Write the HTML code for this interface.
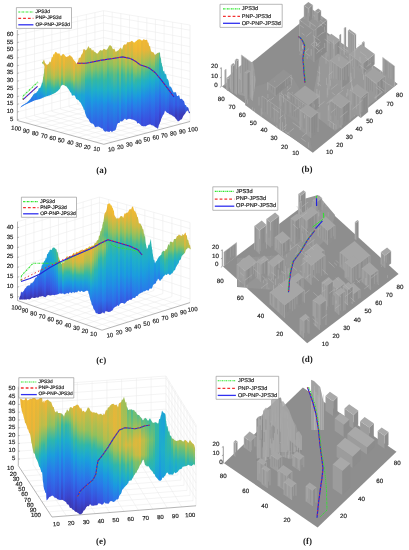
<!DOCTYPE html>
<html><head><meta charset="utf-8"><title>Figure</title>
<style>html,body{margin:0;padding:0;background:#fff;width:409px;height:550px;overflow:hidden}svg{display:block;filter:blur(0.35px)}text{text-rendering:geometricPrecision}</style>
</head><body>
<svg width="409" height="550" viewBox="0 0 409 550"><defs><clipPath id="clip1"><polygon points="20.1,107.7 22.0,105.5 27.0,102.5 30.0,99.6 32.0,96.7 34.0,93.7 36.0,93.0 38.0,90.8 38.0,90.8 39.0,87.7 40.0,88.6 40.7,86.4 41.3,85.6 42.0,82.7 42.3,83.1 42.7,81.0 43.0,78.8 43.2,76.2 43.5,76.9 43.8,72.9 44.0,74.6 44.1,70.7 44.2,68.8 44.4,68.3 44.5,66.3 43.9,64.7 43.2,63.8 42.6,64.1 42.0,61.9 43.0,61.8 44.0,59.6 45.0,62.9 47.0,64.9 48.5,64.1 50.0,61.3 50.7,62.4 51.3,59.4 52.0,56.7 52.7,57.6 53.3,54.1 54.0,54.8 55.0,52.4 56.0,51.7 57.0,52.9 58.0,53.9 59.0,53.1 61.0,56.3 63.0,53.7 64.5,55.0 66.0,57.0 68.0,56.5 70.0,55.1 71.0,56.6 72.0,56.8 73.5,59.7 75.0,61.3 76.0,63.0 77.0,63.8 78.0,61.3 79.0,57.5 80.0,58.2 80.7,56.7 81.3,54.9 82.0,54.1 82.7,53.0 83.3,50.1 84.0,48.8 85.5,50.6 87.0,49.3 88.5,45.9 89.7,48.4 90.8,48.0 92.0,50.7 93.0,49.5 94.0,51.7 95.0,51.8 96.0,53.1 97.5,53.7 99.0,51.4 100.5,50.0 102.0,50.8 104.0,48.7 106.0,50.0 107.3,49.3 108.7,46.6 110.0,44.9 111.5,46.3 113.0,49.6 114.3,48.6 115.7,52.1 117.0,50.9 118.2,50.5 119.5,49.1 120.8,47.4 122.0,49.8 123.3,45.5 124.7,44.3 126.0,44.8 127.3,42.3 128.7,42.3 130.0,41.9 132.0,40.8 134.0,42.8 136.0,41.2 138.0,39.6 140.0,39.3 142.0,40.8 143.7,39.3 145.3,40.0 147.0,39.7 147.8,42.7 148.5,42.4 149.2,46.7 150.0,45.6 150.4,48.2 150.8,50.1 151.2,51.8 151.6,51.5 152.0,51.9 153.5,52.5 155.0,55.1 156.5,53.8 158.0,52.8 160.0,52.5 160.2,55.9 160.4,58.1 160.6,56.2 160.8,58.2 161.0,58.5 161.3,63.2 161.7,62.7 162.0,65.6 162.3,66.4 162.7,66.4 163.0,70.4 163.6,71.7 164.1,70.6 164.7,73.5 165.3,74.5 165.9,73.6 166.4,75.5 167.0,79.6 167.5,78.5 168.0,79.9 168.5,80.6 169.0,83.4 169.5,86.7 170.0,86.2 171.0,86.9 172.0,89.1 173.5,92.4 175.0,92.3 176.0,92.6 177.0,96.0 178.0,96.1 179.0,94.9 180.0,98.7 181.0,99.1 182.0,98.8 183.0,100.5 184.0,101.1 185.0,105.1 186.0,105.3 187.0,107.4 187.8,106.9 188.5,108.2 189.2,111.6 190.0,112.0 190.0,113.0 189.0,113.3 188.0,110.4 187.0,110.8 186.0,112.0 185.0,113.7 184.2,114.8 183.3,115.8 182.5,117.8 181.7,119.3 180.8,119.5 180.0,120.2 178.0,121.4 177.0,119.9 176.0,119.1 175.0,117.5 173.8,116.5 172.5,115.7 171.2,114.8 170.0,114.5 168.3,113.3 166.7,112.5 165.0,110.6 164.3,113.0 163.7,114.3 163.0,114.9 162.4,116.4 161.8,117.8 161.2,118.8 160.6,121.4 160.0,122.2 159.5,124.0 159.0,124.5 158.5,126.8 158.0,128.7 156.5,127.7 155.0,127.1 153.3,125.5 151.7,125.3 150.0,124.2 148.6,124.8 147.2,125.3 145.8,126.2 144.4,126.3 143.0,126.3 141.5,125.8 140.0,124.2 138.8,123.1 137.5,123.5 136.2,121.0 135.0,120.6 133.6,119.7 132.1,119.6 130.7,118.9 129.3,118.8 127.9,118.9 126.4,120.0 125.0,118.5 123.5,119.9 122.0,121.5 120.7,120.9 119.3,123.0 118.0,123.0 117.2,124.2 116.5,127.3 115.8,129.2 115.0,130.5 113.5,130.7 112.0,132.1 110.6,130.8 109.2,132.0 107.8,131.5 106.4,131.2 105.0,131.8 103.8,130.5 102.5,128.4 101.2,128.3 100.0,127.3 98.3,126.4 96.7,126.7 95.0,127.3 93.8,124.5 92.5,123.4 91.2,123.3 90.0,122.3 89.2,120.6 88.4,119.0 87.6,118.3 86.8,117.6 86.0,115.4 85.6,114.2 85.2,113.2 84.8,111.4 84.4,109.6 84.0,110.2 83.2,107.4 82.4,106.2 81.6,104.4 80.8,102.7 80.0,102.3 78.8,100.6 77.5,99.5 76.2,99.1 75.0,95.8 73.5,95.3 72.0,95.8 71.2,92.8 70.4,92.4 69.6,90.7 68.8,89.5 68.0,88.6 66.8,86.7 65.5,85.9 64.2,85.2 63.0,84.7 62.0,85.1 61.0,86.0 60.0,88.6 58.0,90.8 55.0,93.0 50.0,95.2 45.0,96.7 40.0,98.9 35.0,100.3 30.0,102.5 25.0,104.7"/></clipPath><linearGradient id="g1" gradientUnits="userSpaceOnUse" x1="0" y1="38" x2="0" y2="133"><stop offset="0.653" stop-color="#2582e7"/><stop offset="0.737" stop-color="#2c74e9"/></linearGradient><linearGradient id="g2" gradientUnits="userSpaceOnUse" x1="0" y1="38" x2="0" y2="133"><stop offset="0.547" stop-color="#2582e7"/><stop offset="0.653" stop-color="#287de8"/><stop offset="0.737" stop-color="#2d71e8"/></linearGradient><linearGradient id="g3" gradientUnits="userSpaceOnUse" x1="0" y1="38" x2="0" y2="133"><stop offset="0.547" stop-color="#1e92e3"/><stop offset="0.653" stop-color="#2388e5"/><stop offset="0.737" stop-color="#287de9"/></linearGradient><linearGradient id="g4" gradientUnits="userSpaceOnUse" x1="0" y1="38" x2="0" y2="133"><stop offset="0.547" stop-color="#2388e5"/><stop offset="0.653" stop-color="#2979ea"/><stop offset="0.737" stop-color="#2d71e8"/></linearGradient><linearGradient id="g5" gradientUnits="userSpaceOnUse" x1="0" y1="38" x2="0" y2="133"><stop offset="0.547" stop-color="#1c97e1"/><stop offset="0.653" stop-color="#2583e7"/><stop offset="0.737" stop-color="#287ce9"/></linearGradient><linearGradient id="g6" gradientUnits="userSpaceOnUse" x1="0" y1="38" x2="0" y2="133"><stop offset="0.547" stop-color="#1c97e1"/><stop offset="0.653" stop-color="#277ee8"/><stop offset="0.737" stop-color="#2a79ea"/></linearGradient><linearGradient id="g7" gradientUnits="userSpaceOnUse" x1="0" y1="38" x2="0" y2="133"><stop offset="0.547" stop-color="#1d94e2"/><stop offset="0.653" stop-color="#2b75e9"/><stop offset="0.737" stop-color="#2c73e9"/></linearGradient><linearGradient id="g8" gradientUnits="userSpaceOnUse" x1="0" y1="38" x2="0" y2="133"><stop offset="0.547" stop-color="#1ba0da"/><stop offset="0.653" stop-color="#277fe8"/><stop offset="0.737" stop-color="#277ee8"/></linearGradient><linearGradient id="g9" gradientUnits="userSpaceOnUse" x1="0" y1="38" x2="0" y2="133"><stop offset="0.179" stop-color="#1ca3d6"/><stop offset="0.316" stop-color="#1ca2d8"/><stop offset="0.421" stop-color="#1ba0da"/><stop offset="0.526" stop-color="#1a9dde"/><stop offset="0.547" stop-color="#1a9cdf"/><stop offset="0.621" stop-color="#2680e8"/><stop offset="0.653" stop-color="#2b76ea"/></linearGradient><linearGradient id="g10" gradientUnits="userSpaceOnUse" x1="0" y1="38" x2="0" y2="133"><stop offset="0.179" stop-color="#2db6ae"/><stop offset="0.316" stop-color="#29b4b6"/><stop offset="0.421" stop-color="#23b2c1"/><stop offset="0.526" stop-color="#1daacf"/><stop offset="0.547" stop-color="#1da7d2"/><stop offset="0.621" stop-color="#208de4"/><stop offset="0.653" stop-color="#2485e6"/></linearGradient><linearGradient id="g11" gradientUnits="userSpaceOnUse" x1="0" y1="38" x2="0" y2="133"><stop offset="0.179" stop-color="#4ebb8d"/><stop offset="0.316" stop-color="#34b9a2"/><stop offset="0.421" stop-color="#2ab5b4"/><stop offset="0.526" stop-color="#1eaacf"/><stop offset="0.547" stop-color="#1da6d4"/><stop offset="0.621" stop-color="#2388e5"/><stop offset="0.653" stop-color="#2582e7"/></linearGradient><linearGradient id="g12" gradientUnits="userSpaceOnUse" x1="0" y1="38" x2="0" y2="133"><stop offset="0.179" stop-color="#99c05a"/><stop offset="0.316" stop-color="#75bf70"/><stop offset="0.421" stop-color="#41ba97"/><stop offset="0.526" stop-color="#1fb0c7"/><stop offset="0.547" stop-color="#1eabce"/><stop offset="0.621" stop-color="#218ce4"/><stop offset="0.653" stop-color="#2289e5"/></linearGradient><linearGradient id="g13" gradientUnits="userSpaceOnUse" x1="0" y1="38" x2="0" y2="133"><stop offset="0.179" stop-color="#deb73c"/><stop offset="0.316" stop-color="#bebd4a"/><stop offset="0.421" stop-color="#8ac161"/><stop offset="0.526" stop-color="#2cb5b0"/><stop offset="0.547" stop-color="#24b2bf"/><stop offset="0.621" stop-color="#1c97e1"/><stop offset="0.653" stop-color="#1c96e1"/></linearGradient><linearGradient id="g14" gradientUnits="userSpaceOnUse" x1="0" y1="38" x2="0" y2="133"><stop offset="0.126" stop-color="#f2be32"/><stop offset="0.179" stop-color="#f2bd32"/><stop offset="0.284" stop-color="#eab538"/><stop offset="0.316" stop-color="#e2b63b"/><stop offset="0.389" stop-color="#c3bc47"/><stop offset="0.421" stop-color="#b1be4f"/><stop offset="0.484" stop-color="#6fbf75"/><stop offset="0.526" stop-color="#39b99d"/><stop offset="0.547" stop-color="#2db6ae"/><stop offset="0.621" stop-color="#1ca2d8"/></linearGradient><linearGradient id="g15" gradientUnits="userSpaceOnUse" x1="0" y1="38" x2="0" y2="133"><stop offset="0.126" stop-color="#ecb437"/><stop offset="0.179" stop-color="#e9b538"/><stop offset="0.284" stop-color="#cfbb42"/><stop offset="0.316" stop-color="#c6bc46"/><stop offset="0.389" stop-color="#9fbf58"/><stop offset="0.421" stop-color="#8cc160"/><stop offset="0.484" stop-color="#40ba98"/><stop offset="0.526" stop-color="#29b4b5"/><stop offset="0.547" stop-color="#21b1c5"/><stop offset="0.621" stop-color="#1b9ae0"/></linearGradient><linearGradient id="g16" gradientUnits="userSpaceOnUse" x1="0" y1="38" x2="0" y2="133"><stop offset="0.126" stop-color="#efb635"/><stop offset="0.179" stop-color="#edb436"/><stop offset="0.284" stop-color="#d2ba41"/><stop offset="0.316" stop-color="#cabc44"/><stop offset="0.389" stop-color="#a3bf56"/><stop offset="0.421" stop-color="#8fc05f"/><stop offset="0.484" stop-color="#46bb93"/><stop offset="0.526" stop-color="#2bb5b3"/><stop offset="0.547" stop-color="#22b1c2"/><stop offset="0.621" stop-color="#1b9fdb"/></linearGradient><linearGradient id="g17" gradientUnits="userSpaceOnUse" x1="0" y1="38" x2="0" y2="133"><stop offset="0.126" stop-color="#f2bd32"/><stop offset="0.179" stop-color="#f0ba34"/><stop offset="0.284" stop-color="#e1b73b"/><stop offset="0.316" stop-color="#d8b93f"/><stop offset="0.389" stop-color="#b7bd4d"/><stop offset="0.421" stop-color="#a2bf56"/><stop offset="0.484" stop-color="#60bd80"/><stop offset="0.526" stop-color="#31b8a6"/><stop offset="0.547" stop-color="#29b4b6"/><stop offset="0.621" stop-color="#1eaacf"/></linearGradient><linearGradient id="g18" gradientUnits="userSpaceOnUse" x1="0" y1="38" x2="0" y2="133"><stop offset="0.126" stop-color="#f4c330"/><stop offset="0.179" stop-color="#f2bf32"/><stop offset="0.284" stop-color="#edb436"/><stop offset="0.316" stop-color="#e3b63a"/><stop offset="0.389" stop-color="#c7bc45"/><stop offset="0.421" stop-color="#b1be4f"/><stop offset="0.484" stop-color="#75bf70"/><stop offset="0.526" stop-color="#3bba9b"/><stop offset="0.547" stop-color="#2eb6ac"/><stop offset="0.621" stop-color="#22b1c2"/></linearGradient><linearGradient id="g19" gradientUnits="userSpaceOnUse" x1="0" y1="38" x2="0" y2="133"><stop offset="0.126" stop-color="#f2be32"/><stop offset="0.179" stop-color="#f0b934"/><stop offset="0.284" stop-color="#dfb73c"/><stop offset="0.316" stop-color="#d4b940"/><stop offset="0.389" stop-color="#b4be4e"/><stop offset="0.421" stop-color="#9cbf59"/><stop offset="0.484" stop-color="#5cbd83"/><stop offset="0.526" stop-color="#30b7a9"/><stop offset="0.547" stop-color="#28b3b8"/><stop offset="0.621" stop-color="#1fb0c7"/></linearGradient><linearGradient id="g20" gradientUnits="userSpaceOnUse" x1="0" y1="38" x2="0" y2="133"><stop offset="0.126" stop-color="#f1bc33"/><stop offset="0.179" stop-color="#efb635"/><stop offset="0.284" stop-color="#d7b93f"/><stop offset="0.316" stop-color="#cdbb43"/><stop offset="0.389" stop-color="#aabe53"/><stop offset="0.421" stop-color="#91c05e"/><stop offset="0.484" stop-color="#50bc8c"/><stop offset="0.526" stop-color="#2cb5b0"/><stop offset="0.547" stop-color="#24b2bf"/><stop offset="0.621" stop-color="#20b0c6"/></linearGradient><linearGradient id="g21" gradientUnits="userSpaceOnUse" x1="0" y1="38" x2="0" y2="133"><stop offset="0.126" stop-color="#f5c62f"/><stop offset="0.179" stop-color="#f3c031"/><stop offset="0.284" stop-color="#edb436"/><stop offset="0.316" stop-color="#e2b73b"/><stop offset="0.389" stop-color="#c7bc46"/><stop offset="0.421" stop-color="#adbe51"/><stop offset="0.484" stop-color="#76bf70"/><stop offset="0.526" stop-color="#39b99d"/><stop offset="0.547" stop-color="#2eb6ad"/><stop offset="0.621" stop-color="#2eb6ad"/></linearGradient><linearGradient id="g22" gradientUnits="userSpaceOnUse" x1="0" y1="38" x2="0" y2="133"><stop offset="0.126" stop-color="#efb635"/><stop offset="0.179" stop-color="#e7b539"/><stop offset="0.284" stop-color="#cbbb44"/><stop offset="0.316" stop-color="#bdbd4a"/><stop offset="0.389" stop-color="#98c05b"/><stop offset="0.442" stop-color="#67be7a"/><stop offset="0.484" stop-color="#39b99d"/><stop offset="0.547" stop-color="#1fafc9"/><stop offset="0.600" stop-color="#1eadcc"/></linearGradient><linearGradient id="g23" gradientUnits="userSpaceOnUse" x1="0" y1="38" x2="0" y2="133"><stop offset="0.126" stop-color="#f4c330"/><stop offset="0.179" stop-color="#f2be32"/><stop offset="0.284" stop-color="#ebb537"/><stop offset="0.316" stop-color="#e0b73b"/><stop offset="0.389" stop-color="#c2bc48"/><stop offset="0.442" stop-color="#9bc05a"/><stop offset="0.484" stop-color="#70bf74"/><stop offset="0.547" stop-color="#2db6af"/><stop offset="0.600" stop-color="#28b4b8"/></linearGradient><linearGradient id="g24" gradientUnits="userSpaceOnUse" x1="0" y1="38" x2="0" y2="133"><stop offset="0.126" stop-color="#f0b934"/><stop offset="0.179" stop-color="#efb535"/><stop offset="0.284" stop-color="#d6b93f"/><stop offset="0.316" stop-color="#ccbb43"/><stop offset="0.389" stop-color="#a6bf54"/><stop offset="0.442" stop-color="#7dc06a"/><stop offset="0.484" stop-color="#4cbb8f"/><stop offset="0.547" stop-color="#23b2c0"/><stop offset="0.600" stop-color="#1eadcc"/></linearGradient><linearGradient id="g25" gradientUnits="userSpaceOnUse" x1="0" y1="38" x2="0" y2="133"><stop offset="0.126" stop-color="#efb635"/><stop offset="0.179" stop-color="#edb437"/><stop offset="0.284" stop-color="#d2ba41"/><stop offset="0.316" stop-color="#c8bc45"/><stop offset="0.389" stop-color="#a0bf57"/><stop offset="0.442" stop-color="#77bf6f"/><stop offset="0.484" stop-color="#43ba95"/><stop offset="0.547" stop-color="#21b1c4"/><stop offset="0.600" stop-color="#1da8d1"/></linearGradient><linearGradient id="g26" gradientUnits="userSpaceOnUse" x1="0" y1="38" x2="0" y2="133"><stop offset="0.126" stop-color="#eeb536"/><stop offset="0.179" stop-color="#ecb437"/><stop offset="0.284" stop-color="#d2ba41"/><stop offset="0.316" stop-color="#c9bc45"/><stop offset="0.389" stop-color="#9fbf58"/><stop offset="0.442" stop-color="#78bf6e"/><stop offset="0.484" stop-color="#43ba96"/><stop offset="0.547" stop-color="#21b1c4"/><stop offset="0.600" stop-color="#1da6d3"/></linearGradient><linearGradient id="g27" gradientUnits="userSpaceOnUse" x1="0" y1="38" x2="0" y2="133"><stop offset="0.126" stop-color="#efb835"/><stop offset="0.179" stop-color="#efb735"/><stop offset="0.284" stop-color="#dab83e"/><stop offset="0.316" stop-color="#d1ba41"/><stop offset="0.389" stop-color="#aabe53"/><stop offset="0.442" stop-color="#87c162"/><stop offset="0.484" stop-color="#51bc8b"/><stop offset="0.547" stop-color="#25b3bd"/><stop offset="0.600" stop-color="#1da7d2"/></linearGradient><linearGradient id="g28" gradientUnits="userSpaceOnUse" x1="0" y1="38" x2="0" y2="133"><stop offset="0.126" stop-color="#f3bf31"/><stop offset="0.179" stop-color="#f2bf32"/><stop offset="0.284" stop-color="#eeb436"/><stop offset="0.316" stop-color="#e6b639"/><stop offset="0.389" stop-color="#c5bc47"/><stop offset="0.442" stop-color="#a4bf55"/><stop offset="0.484" stop-color="#73bf71"/><stop offset="0.547" stop-color="#2fb6ac"/><stop offset="0.600" stop-color="#1eaeca"/></linearGradient><linearGradient id="g29" gradientUnits="userSpaceOnUse" x1="0" y1="38" x2="0" y2="133"><stop offset="0.095" stop-color="#edb436"/><stop offset="0.179" stop-color="#ecb437"/><stop offset="0.232" stop-color="#dfb73c"/><stop offset="0.316" stop-color="#cbbb44"/><stop offset="0.337" stop-color="#bfbd49"/><stop offset="0.442" stop-color="#7dc06a"/><stop offset="0.600" stop-color="#1ca2d8"/><stop offset="0.653" stop-color="#1ca1d9"/><stop offset="0.884" stop-color="#1b9fdb"/></linearGradient><linearGradient id="g30" gradientUnits="userSpaceOnUse" x1="0" y1="38" x2="0" y2="133"><stop offset="0.095" stop-color="#efb835"/><stop offset="0.179" stop-color="#efb635"/><stop offset="0.232" stop-color="#e7b639"/><stop offset="0.316" stop-color="#d2ba41"/><stop offset="0.337" stop-color="#c9bc45"/><stop offset="0.442" stop-color="#8ac161"/><stop offset="0.600" stop-color="#1da9d1"/><stop offset="0.653" stop-color="#1da6d3"/><stop offset="0.884" stop-color="#1b9fdb"/></linearGradient><linearGradient id="g31" gradientUnits="userSpaceOnUse" x1="0" y1="38" x2="0" y2="133"><stop offset="0.095" stop-color="#efb635"/><stop offset="0.179" stop-color="#edb436"/><stop offset="0.232" stop-color="#e1b73b"/><stop offset="0.316" stop-color="#ccbb43"/><stop offset="0.337" stop-color="#c2bc48"/><stop offset="0.442" stop-color="#81c068"/><stop offset="0.600" stop-color="#1da9d0"/><stop offset="0.653" stop-color="#1da6d4"/><stop offset="0.884" stop-color="#1b99e0"/></linearGradient><linearGradient id="g32" gradientUnits="userSpaceOnUse" x1="0" y1="38" x2="0" y2="133"><stop offset="0.095" stop-color="#e3b63a"/><stop offset="0.179" stop-color="#dbb83d"/><stop offset="0.232" stop-color="#cfba42"/><stop offset="0.316" stop-color="#b5bd4e"/><stop offset="0.337" stop-color="#aabe52"/><stop offset="0.442" stop-color="#62bd7f"/><stop offset="0.600" stop-color="#1ca4d5"/><stop offset="0.653" stop-color="#1ba0db"/><stop offset="0.884" stop-color="#228ae5"/></linearGradient><linearGradient id="g33" gradientUnits="userSpaceOnUse" x1="0" y1="38" x2="0" y2="133"><stop offset="0.095" stop-color="#e4b63a"/><stop offset="0.179" stop-color="#dab83e"/><stop offset="0.232" stop-color="#cebb43"/><stop offset="0.316" stop-color="#b3be4f"/><stop offset="0.337" stop-color="#a9be53"/><stop offset="0.442" stop-color="#60bd80"/><stop offset="0.600" stop-color="#1da7d2"/><stop offset="0.653" stop-color="#1ba1d9"/><stop offset="0.884" stop-color="#2485e6"/></linearGradient><linearGradient id="g34" gradientUnits="userSpaceOnUse" x1="0" y1="38" x2="0" y2="133"><stop offset="0.095" stop-color="#ccbb43"/><stop offset="0.179" stop-color="#bcbd4a"/><stop offset="0.232" stop-color="#adbe51"/><stop offset="0.316" stop-color="#8fc05f"/><stop offset="0.337" stop-color="#86c164"/><stop offset="0.442" stop-color="#34b9a1"/><stop offset="0.600" stop-color="#1b9fdc"/><stop offset="0.653" stop-color="#1d95e2"/><stop offset="0.884" stop-color="#2d72e8"/></linearGradient><linearGradient id="g35" gradientUnits="userSpaceOnUse" x1="0" y1="38" x2="0" y2="133"><stop offset="0.095" stop-color="#c6bc46"/><stop offset="0.179" stop-color="#b1be4f"/><stop offset="0.232" stop-color="#a2bf56"/><stop offset="0.316" stop-color="#83c166"/><stop offset="0.337" stop-color="#78bf6e"/><stop offset="0.442" stop-color="#31b7a8"/><stop offset="0.600" stop-color="#1b9edc"/><stop offset="0.653" stop-color="#1e93e2"/><stop offset="0.884" stop-color="#3069e6"/></linearGradient><linearGradient id="g36" gradientUnits="userSpaceOnUse" x1="0" y1="38" x2="0" y2="133"><stop offset="0.095" stop-color="#c6bc46"/><stop offset="0.179" stop-color="#aebe51"/><stop offset="0.232" stop-color="#9fbf57"/><stop offset="0.316" stop-color="#7ec069"/><stop offset="0.337" stop-color="#74bf71"/><stop offset="0.442" stop-color="#30b7a9"/><stop offset="0.600" stop-color="#1ba1da"/><stop offset="0.653" stop-color="#1d94e2"/><stop offset="0.884" stop-color="#3264e5"/></linearGradient><linearGradient id="g37" gradientUnits="userSpaceOnUse" x1="0" y1="38" x2="0" y2="133"><stop offset="0.084" stop-color="#d6b93f"/><stop offset="0.095" stop-color="#d6b93f"/><stop offset="0.179" stop-color="#c5bc46"/><stop offset="0.232" stop-color="#b6bd4d"/><stop offset="0.284" stop-color="#a3bf56"/><stop offset="0.337" stop-color="#8fc05f"/><stop offset="0.389" stop-color="#68be7a"/><stop offset="0.442" stop-color="#3fba98"/><stop offset="0.547" stop-color="#22b1c2"/><stop offset="0.653" stop-color="#1b9edd"/><stop offset="0.705" stop-color="#1e93e2"/><stop offset="0.884" stop-color="#2e6ee8"/><stop offset="0.968" stop-color="#2f6ce7"/></linearGradient><linearGradient id="g38" gradientUnits="userSpaceOnUse" x1="0" y1="38" x2="0" y2="133"><stop offset="0.084" stop-color="#cbbb44"/><stop offset="0.095" stop-color="#cbbb44"/><stop offset="0.179" stop-color="#b7bd4d"/><stop offset="0.232" stop-color="#a7bf54"/><stop offset="0.284" stop-color="#94c05d"/><stop offset="0.337" stop-color="#7dc06b"/><stop offset="0.389" stop-color="#55bc88"/><stop offset="0.442" stop-color="#33b8a4"/><stop offset="0.547" stop-color="#1fafc9"/><stop offset="0.653" stop-color="#1b99e1"/><stop offset="0.705" stop-color="#218ce4"/><stop offset="0.884" stop-color="#3068e6"/><stop offset="0.968" stop-color="#3165e5"/></linearGradient><linearGradient id="g39" gradientUnits="userSpaceOnUse" x1="0" y1="38" x2="0" y2="133"><stop offset="0.084" stop-color="#c4bc47"/><stop offset="0.095" stop-color="#c3bc47"/><stop offset="0.179" stop-color="#afbe50"/><stop offset="0.232" stop-color="#9fbf58"/><stop offset="0.284" stop-color="#8cc160"/><stop offset="0.337" stop-color="#72bf73"/><stop offset="0.389" stop-color="#4bbb90"/><stop offset="0.442" stop-color="#30b7a8"/><stop offset="0.547" stop-color="#1eadcc"/><stop offset="0.653" stop-color="#1d95e2"/><stop offset="0.705" stop-color="#2289e5"/><stop offset="0.884" stop-color="#3165e5"/><stop offset="0.968" stop-color="#3361e4"/></linearGradient><linearGradient id="g40" gradientUnits="userSpaceOnUse" x1="0" y1="38" x2="0" y2="133"><stop offset="0.084" stop-color="#cdbb43"/><stop offset="0.095" stop-color="#cdbb43"/><stop offset="0.179" stop-color="#bcbd4b"/><stop offset="0.232" stop-color="#abbe52"/><stop offset="0.284" stop-color="#98c05b"/><stop offset="0.337" stop-color="#80c068"/><stop offset="0.389" stop-color="#5abd84"/><stop offset="0.442" stop-color="#35b9a0"/><stop offset="0.547" stop-color="#21b1c5"/><stop offset="0.653" stop-color="#1a9be0"/><stop offset="0.705" stop-color="#208ee4"/><stop offset="0.884" stop-color="#2f6ae7"/><stop offset="0.968" stop-color="#3265e5"/></linearGradient><linearGradient id="g41" gradientUnits="userSpaceOnUse" x1="0" y1="38" x2="0" y2="133"><stop offset="0.084" stop-color="#c6bc46"/><stop offset="0.095" stop-color="#c5bc46"/><stop offset="0.179" stop-color="#b3be4e"/><stop offset="0.232" stop-color="#a2bf56"/><stop offset="0.284" stop-color="#8fc05f"/><stop offset="0.337" stop-color="#74bf71"/><stop offset="0.389" stop-color="#4fbc8d"/><stop offset="0.442" stop-color="#32b8a5"/><stop offset="0.547" stop-color="#1fafc9"/><stop offset="0.653" stop-color="#1b98e1"/><stop offset="0.705" stop-color="#228ae5"/><stop offset="0.884" stop-color="#3167e6"/><stop offset="0.968" stop-color="#3360e4"/></linearGradient><linearGradient id="g42" gradientUnits="userSpaceOnUse" x1="0" y1="38" x2="0" y2="133"><stop offset="0.084" stop-color="#bbbd4b"/><stop offset="0.095" stop-color="#babd4b"/><stop offset="0.179" stop-color="#aabe53"/><stop offset="0.232" stop-color="#99c05a"/><stop offset="0.284" stop-color="#85c164"/><stop offset="0.337" stop-color="#67be7b"/><stop offset="0.389" stop-color="#42ba96"/><stop offset="0.442" stop-color="#2fb6ab"/><stop offset="0.547" stop-color="#1eadcc"/><stop offset="0.653" stop-color="#1d94e2"/><stop offset="0.705" stop-color="#2486e6"/><stop offset="0.884" stop-color="#3263e5"/><stop offset="0.968" stop-color="#365ae3"/></linearGradient><linearGradient id="g43" gradientUnits="userSpaceOnUse" x1="0" y1="38" x2="0" y2="133"><stop offset="0.084" stop-color="#cfba42"/><stop offset="0.095" stop-color="#cfbb42"/><stop offset="0.179" stop-color="#c2bc48"/><stop offset="0.232" stop-color="#b0be50"/><stop offset="0.284" stop-color="#9dbf59"/><stop offset="0.337" stop-color="#84c165"/><stop offset="0.389" stop-color="#61bd7f"/><stop offset="0.442" stop-color="#3dba9a"/><stop offset="0.547" stop-color="#24b2bf"/><stop offset="0.653" stop-color="#1b9edd"/><stop offset="0.705" stop-color="#1f90e3"/><stop offset="0.884" stop-color="#2e6ee8"/><stop offset="0.968" stop-color="#3263e5"/></linearGradient><linearGradient id="g44" gradientUnits="userSpaceOnUse" x1="0" y1="38" x2="0" y2="133"><stop offset="0.084" stop-color="#cabc44"/><stop offset="0.095" stop-color="#c9bc45"/><stop offset="0.179" stop-color="#bcbd4b"/><stop offset="0.232" stop-color="#a9be53"/><stop offset="0.284" stop-color="#96c05c"/><stop offset="0.337" stop-color="#7bc06c"/><stop offset="0.389" stop-color="#58bc86"/><stop offset="0.442" stop-color="#35b9a0"/><stop offset="0.547" stop-color="#23b1c2"/><stop offset="0.653" stop-color="#1a9cdf"/><stop offset="0.705" stop-color="#208de4"/><stop offset="0.884" stop-color="#2f6be7"/><stop offset="0.968" stop-color="#345fe4"/></linearGradient><linearGradient id="g45" gradientUnits="userSpaceOnUse" x1="0" y1="38" x2="0" y2="133"><stop offset="0.084" stop-color="#b1be50"/><stop offset="0.095" stop-color="#afbe50"/><stop offset="0.179" stop-color="#a3bf56"/><stop offset="0.232" stop-color="#90c05e"/><stop offset="0.284" stop-color="#79c06d"/><stop offset="0.337" stop-color="#59bc85"/><stop offset="0.389" stop-color="#37b99e"/><stop offset="0.442" stop-color="#2db6af"/><stop offset="0.547" stop-color="#1eaccd"/><stop offset="0.653" stop-color="#1e92e3"/><stop offset="0.705" stop-color="#2682e7"/><stop offset="0.884" stop-color="#3361e4"/><stop offset="0.968" stop-color="#3854e1"/></linearGradient><linearGradient id="g46" gradientUnits="userSpaceOnUse" x1="0" y1="38" x2="0" y2="133"><stop offset="0.084" stop-color="#bfbd49"/><stop offset="0.095" stop-color="#bebd4a"/><stop offset="0.179" stop-color="#b2be4f"/><stop offset="0.232" stop-color="#9fbf58"/><stop offset="0.284" stop-color="#8cc160"/><stop offset="0.337" stop-color="#6cbe77"/><stop offset="0.389" stop-color="#4bbb90"/><stop offset="0.442" stop-color="#32b8a6"/><stop offset="0.547" stop-color="#20b1c6"/><stop offset="0.653" stop-color="#1b99e1"/><stop offset="0.705" stop-color="#2388e5"/><stop offset="0.884" stop-color="#3068e6"/><stop offset="0.968" stop-color="#3659e2"/></linearGradient><linearGradient id="g47" gradientUnits="userSpaceOnUse" x1="0" y1="38" x2="0" y2="133"><stop offset="0.063" stop-color="#c3bc47"/><stop offset="0.084" stop-color="#c2bc48"/><stop offset="0.179" stop-color="#b4be4e"/><stop offset="0.284" stop-color="#8bc160"/><stop offset="0.389" stop-color="#49bb91"/><stop offset="0.547" stop-color="#1fb0c7"/><stop offset="0.705" stop-color="#2388e6"/><stop offset="0.916" stop-color="#3360e4"/><stop offset="0.968" stop-color="#3659e2"/></linearGradient><linearGradient id="g48" gradientUnits="userSpaceOnUse" x1="0" y1="38" x2="0" y2="133"><stop offset="0.063" stop-color="#d6b93f"/><stop offset="0.084" stop-color="#d5b940"/><stop offset="0.179" stop-color="#cabc44"/><stop offset="0.284" stop-color="#9fbf57"/><stop offset="0.389" stop-color="#61bd7f"/><stop offset="0.547" stop-color="#26b3bc"/><stop offset="0.705" stop-color="#1f90e3"/><stop offset="0.916" stop-color="#3067e6"/><stop offset="0.968" stop-color="#3361e4"/></linearGradient><linearGradient id="g49" gradientUnits="userSpaceOnUse" x1="0" y1="38" x2="0" y2="133"><stop offset="0.063" stop-color="#d5b940"/><stop offset="0.084" stop-color="#d4ba40"/><stop offset="0.179" stop-color="#c7bc45"/><stop offset="0.284" stop-color="#9ac05a"/><stop offset="0.389" stop-color="#59bc85"/><stop offset="0.547" stop-color="#23b2c1"/><stop offset="0.705" stop-color="#208de4"/><stop offset="0.916" stop-color="#3264e5"/><stop offset="0.968" stop-color="#345fe4"/></linearGradient><linearGradient id="g50" gradientUnits="userSpaceOnUse" x1="0" y1="38" x2="0" y2="133"><stop offset="0.063" stop-color="#c9bc44"/><stop offset="0.084" stop-color="#c7bc46"/><stop offset="0.179" stop-color="#b5be4e"/><stop offset="0.284" stop-color="#85c164"/><stop offset="0.389" stop-color="#3dba9a"/><stop offset="0.547" stop-color="#1eaccc"/><stop offset="0.705" stop-color="#2584e7"/><stop offset="0.916" stop-color="#3659e3"/><stop offset="0.968" stop-color="#3756e2"/></linearGradient><linearGradient id="g51" gradientUnits="userSpaceOnUse" x1="0" y1="38" x2="0" y2="133"><stop offset="0.063" stop-color="#e8b538"/><stop offset="0.084" stop-color="#e6b639"/><stop offset="0.179" stop-color="#d7b93f"/><stop offset="0.284" stop-color="#abbe52"/><stop offset="0.389" stop-color="#6cbe77"/><stop offset="0.547" stop-color="#27b3b9"/><stop offset="0.705" stop-color="#1d94e2"/><stop offset="0.916" stop-color="#3068e6"/><stop offset="0.968" stop-color="#3166e6"/></linearGradient><linearGradient id="g52" gradientUnits="userSpaceOnUse" x1="0" y1="38" x2="0" y2="133"><stop offset="0.063" stop-color="#ccbb43"/><stop offset="0.084" stop-color="#c9bc45"/><stop offset="0.179" stop-color="#b4be4e"/><stop offset="0.284" stop-color="#7fc069"/><stop offset="0.389" stop-color="#35b9a0"/><stop offset="0.547" stop-color="#1daacf"/><stop offset="0.705" stop-color="#2681e8"/><stop offset="0.916" stop-color="#3854e1"/><stop offset="0.968" stop-color="#3854e1"/></linearGradient><linearGradient id="g53" gradientUnits="userSpaceOnUse" x1="0" y1="38" x2="0" y2="133"><stop offset="0.021" stop-color="#deb73c"/><stop offset="0.063" stop-color="#ddb83d"/><stop offset="0.126" stop-color="#d2ba41"/><stop offset="0.179" stop-color="#c8bc45"/><stop offset="0.253" stop-color="#a4bf56"/><stop offset="0.284" stop-color="#94c05d"/><stop offset="0.358" stop-color="#62bd7f"/><stop offset="0.389" stop-color="#4abb90"/><stop offset="0.495" stop-color="#27b3ba"/><stop offset="0.547" stop-color="#1eaecb"/><stop offset="0.653" stop-color="#1d95e2"/><stop offset="0.705" stop-color="#2486e6"/><stop offset="0.863" stop-color="#3263e5"/><stop offset="0.916" stop-color="#365ae3"/></linearGradient><linearGradient id="g54" gradientUnits="userSpaceOnUse" x1="0" y1="38" x2="0" y2="133"><stop offset="0.021" stop-color="#efb635"/><stop offset="0.063" stop-color="#eeb436"/><stop offset="0.126" stop-color="#e3b63a"/><stop offset="0.179" stop-color="#d7b93f"/><stop offset="0.253" stop-color="#b8bd4c"/><stop offset="0.284" stop-color="#a8bf54"/><stop offset="0.358" stop-color="#7bc06c"/><stop offset="0.389" stop-color="#63bd7e"/><stop offset="0.495" stop-color="#2cb5b0"/><stop offset="0.547" stop-color="#21b1c3"/><stop offset="0.653" stop-color="#1a9be0"/><stop offset="0.705" stop-color="#218ce4"/><stop offset="0.863" stop-color="#3167e6"/><stop offset="0.916" stop-color="#3360e4"/></linearGradient><linearGradient id="g55" gradientUnits="userSpaceOnUse" x1="0" y1="38" x2="0" y2="133"><stop offset="0.021" stop-color="#e2b73b"/><stop offset="0.063" stop-color="#ddb83d"/><stop offset="0.126" stop-color="#d1ba41"/><stop offset="0.179" stop-color="#c2bd48"/><stop offset="0.253" stop-color="#9dbf58"/><stop offset="0.284" stop-color="#8cc160"/><stop offset="0.358" stop-color="#56bc87"/><stop offset="0.389" stop-color="#3dba9a"/><stop offset="0.495" stop-color="#21b1c4"/><stop offset="0.547" stop-color="#1da7d2"/><stop offset="0.653" stop-color="#218be5"/><stop offset="0.705" stop-color="#287ce9"/><stop offset="0.863" stop-color="#3757e2"/><stop offset="0.916" stop-color="#3951e1"/></linearGradient><linearGradient id="g56" gradientUnits="userSpaceOnUse" x1="0" y1="38" x2="0" y2="133"><stop offset="0.021" stop-color="#efb735"/><stop offset="0.063" stop-color="#eeb436"/><stop offset="0.126" stop-color="#e2b63b"/><stop offset="0.179" stop-color="#d3ba41"/><stop offset="0.253" stop-color="#b2be4f"/><stop offset="0.284" stop-color="#a0bf57"/><stop offset="0.358" stop-color="#6fbf74"/><stop offset="0.389" stop-color="#55bc88"/><stop offset="0.495" stop-color="#27b3ba"/><stop offset="0.547" stop-color="#1eaccd"/><stop offset="0.653" stop-color="#1f91e3"/><stop offset="0.705" stop-color="#2582e7"/><stop offset="0.863" stop-color="#355ce3"/><stop offset="0.916" stop-color="#3757e2"/></linearGradient><linearGradient id="g57" gradientUnits="userSpaceOnUse" x1="0" y1="38" x2="0" y2="133"><stop offset="0.021" stop-color="#eab537"/><stop offset="0.063" stop-color="#e3b63a"/><stop offset="0.126" stop-color="#d6b940"/><stop offset="0.179" stop-color="#c3bc47"/><stop offset="0.253" stop-color="#9ebf58"/><stop offset="0.284" stop-color="#8cc160"/><stop offset="0.358" stop-color="#54bc89"/><stop offset="0.389" stop-color="#39b99d"/><stop offset="0.495" stop-color="#1fafc9"/><stop offset="0.547" stop-color="#1ca3d6"/><stop offset="0.653" stop-color="#2485e6"/><stop offset="0.705" stop-color="#2b76e9"/><stop offset="0.863" stop-color="#3a4fe0"/><stop offset="0.916" stop-color="#3a4ddc"/></linearGradient><linearGradient id="g58" gradientUnits="userSpaceOnUse" x1="0" y1="38" x2="0" y2="133"><stop offset="0.021" stop-color="#f3bf31"/><stop offset="0.063" stop-color="#f1bc33"/><stop offset="0.126" stop-color="#efb635"/><stop offset="0.179" stop-color="#dfb73c"/><stop offset="0.253" stop-color="#c2bc48"/><stop offset="0.284" stop-color="#afbe50"/><stop offset="0.358" stop-color="#81c067"/><stop offset="0.389" stop-color="#65be7c"/><stop offset="0.495" stop-color="#29b4b6"/><stop offset="0.547" stop-color="#1eadcb"/><stop offset="0.653" stop-color="#1e91e3"/><stop offset="0.705" stop-color="#2583e7"/><stop offset="0.863" stop-color="#365ae3"/><stop offset="0.916" stop-color="#3659e2"/></linearGradient><linearGradient id="g59" gradientUnits="userSpaceOnUse" x1="0" y1="38" x2="0" y2="133"><stop offset="0.021" stop-color="#f3c131"/><stop offset="0.126" stop-color="#f0b834"/><stop offset="0.253" stop-color="#c6bc46"/><stop offset="0.284" stop-color="#b3be4f"/><stop offset="0.358" stop-color="#84c165"/><stop offset="0.442" stop-color="#37b99e"/><stop offset="0.495" stop-color="#29b4b6"/><stop offset="0.600" stop-color="#1ba0da"/><stop offset="0.653" stop-color="#1e91e3"/><stop offset="0.758" stop-color="#2b75e9"/><stop offset="0.863" stop-color="#365ae3"/><stop offset="0.916" stop-color="#3659e3"/></linearGradient><linearGradient id="g60" gradientUnits="userSpaceOnUse" x1="0" y1="38" x2="0" y2="133"><stop offset="0.021" stop-color="#f1bc33"/><stop offset="0.126" stop-color="#eeb436"/><stop offset="0.253" stop-color="#b7bd4d"/><stop offset="0.284" stop-color="#a3bf56"/><stop offset="0.358" stop-color="#6ebf75"/><stop offset="0.442" stop-color="#2fb7aa"/><stop offset="0.495" stop-color="#23b2c1"/><stop offset="0.600" stop-color="#1a9be0"/><stop offset="0.653" stop-color="#228ae5"/><stop offset="0.758" stop-color="#2e6fe8"/><stop offset="0.863" stop-color="#3855e1"/><stop offset="0.916" stop-color="#3853e1"/></linearGradient><linearGradient id="g61" gradientUnits="userSpaceOnUse" x1="0" y1="38" x2="0" y2="133"><stop offset="0.021" stop-color="#f3c031"/><stop offset="0.126" stop-color="#f0b834"/><stop offset="0.253" stop-color="#c1bd48"/><stop offset="0.284" stop-color="#adbe51"/><stop offset="0.358" stop-color="#79c06d"/><stop offset="0.442" stop-color="#32b8a6"/><stop offset="0.495" stop-color="#25b3bc"/><stop offset="0.600" stop-color="#1b9edd"/><stop offset="0.653" stop-color="#208fe4"/><stop offset="0.758" stop-color="#2c73e9"/><stop offset="0.863" stop-color="#365ae3"/><stop offset="0.916" stop-color="#3758e2"/></linearGradient><linearGradient id="g62" gradientUnits="userSpaceOnUse" x1="0" y1="38" x2="0" y2="133"><stop offset="0.021" stop-color="#eeb536"/><stop offset="0.126" stop-color="#e0b73b"/><stop offset="0.253" stop-color="#9fbf58"/><stop offset="0.284" stop-color="#8ac161"/><stop offset="0.358" stop-color="#4abb90"/><stop offset="0.442" stop-color="#25b3bd"/><stop offset="0.495" stop-color="#1eaacf"/><stop offset="0.600" stop-color="#208ee4"/><stop offset="0.653" stop-color="#277fe8"/><stop offset="0.758" stop-color="#3165e5"/><stop offset="0.863" stop-color="#3a4ddd"/><stop offset="0.916" stop-color="#3a4bd8"/></linearGradient><linearGradient id="g63" gradientUnits="userSpaceOnUse" x1="0" y1="38" x2="0" y2="133"><stop offset="0.021" stop-color="#f0b934"/><stop offset="0.126" stop-color="#edb436"/><stop offset="0.253" stop-color="#adbe51"/><stop offset="0.284" stop-color="#98c05b"/><stop offset="0.358" stop-color="#5abd84"/><stop offset="0.442" stop-color="#29b4b6"/><stop offset="0.495" stop-color="#1faeca"/><stop offset="0.600" stop-color="#1d94e2"/><stop offset="0.653" stop-color="#2485e6"/><stop offset="0.758" stop-color="#2f6be7"/><stop offset="0.863" stop-color="#3854e1"/><stop offset="0.916" stop-color="#3a50e0"/></linearGradient><linearGradient id="g64" gradientUnits="userSpaceOnUse" x1="0" y1="38" x2="0" y2="133"><stop offset="0.021" stop-color="#efb635"/><stop offset="0.126" stop-color="#e7b539"/><stop offset="0.253" stop-color="#a2bf56"/><stop offset="0.284" stop-color="#8dc160"/><stop offset="0.358" stop-color="#4abb90"/><stop offset="0.442" stop-color="#25b2be"/><stop offset="0.495" stop-color="#1daacf"/><stop offset="0.600" stop-color="#208ee4"/><stop offset="0.653" stop-color="#2680e8"/><stop offset="0.758" stop-color="#3167e6"/><stop offset="0.863" stop-color="#3951e0"/><stop offset="0.916" stop-color="#3a4ddb"/></linearGradient><linearGradient id="g65" gradientUnits="userSpaceOnUse" x1="0" y1="38" x2="0" y2="133"><stop offset="0.021" stop-color="#edb436"/><stop offset="0.126" stop-color="#e5b63a"/><stop offset="0.253" stop-color="#9cbf59"/><stop offset="0.284" stop-color="#86c163"/><stop offset="0.358" stop-color="#40ba98"/><stop offset="0.442" stop-color="#21b1c4"/><stop offset="0.495" stop-color="#1da7d3"/><stop offset="0.600" stop-color="#218be5"/><stop offset="0.653" stop-color="#287de9"/><stop offset="0.758" stop-color="#3165e5"/><stop offset="0.863" stop-color="#3a50e0"/><stop offset="0.916" stop-color="#3a4bd8"/></linearGradient><linearGradient id="g66" gradientUnits="userSpaceOnUse" x1="0" y1="38" x2="0" y2="133"><stop offset="0.021" stop-color="#e4b63a"/><stop offset="0.126" stop-color="#deb73c"/><stop offset="0.253" stop-color="#91c05e"/><stop offset="0.284" stop-color="#77bf6f"/><stop offset="0.358" stop-color="#33b8a3"/><stop offset="0.442" stop-color="#1eaecb"/><stop offset="0.495" stop-color="#1ca2d8"/><stop offset="0.600" stop-color="#2485e6"/><stop offset="0.653" stop-color="#2a78ea"/><stop offset="0.758" stop-color="#3360e4"/><stop offset="0.863" stop-color="#3a4ddb"/><stop offset="0.916" stop-color="#3a47d1"/></linearGradient><linearGradient id="g67" gradientUnits="userSpaceOnUse" x1="0" y1="38" x2="0" y2="133"><stop offset="0.021" stop-color="#eeb436"/><stop offset="0.126" stop-color="#ebb537"/><stop offset="0.253" stop-color="#9fbf58"/><stop offset="0.284" stop-color="#88c162"/><stop offset="0.358" stop-color="#3eba99"/><stop offset="0.442" stop-color="#20b1c5"/><stop offset="0.495" stop-color="#1da6d3"/><stop offset="0.600" stop-color="#228be5"/><stop offset="0.653" stop-color="#277ee8"/><stop offset="0.758" stop-color="#3167e6"/><stop offset="0.863" stop-color="#3853e1"/><stop offset="0.916" stop-color="#3a4cdb"/></linearGradient><linearGradient id="g68" gradientUnits="userSpaceOnUse" x1="0" y1="38" x2="0" y2="133"><stop offset="0.021" stop-color="#eeb436"/><stop offset="0.126" stop-color="#edb436"/><stop offset="0.253" stop-color="#9fbf58"/><stop offset="0.284" stop-color="#88c162"/><stop offset="0.358" stop-color="#3cba9b"/><stop offset="0.442" stop-color="#1fb0c7"/><stop offset="0.495" stop-color="#1ca5d4"/><stop offset="0.600" stop-color="#228ae5"/><stop offset="0.653" stop-color="#277ee8"/><stop offset="0.758" stop-color="#3067e6"/><stop offset="0.863" stop-color="#3855e1"/><stop offset="0.916" stop-color="#3a4ddb"/></linearGradient><linearGradient id="g69" gradientUnits="userSpaceOnUse" x1="0" y1="38" x2="0" y2="133"><stop offset="0.126" stop-color="#cdbb43"/><stop offset="0.284" stop-color="#58bc86"/><stop offset="0.442" stop-color="#1da7d3"/><stop offset="0.600" stop-color="#287de9"/><stop offset="0.758" stop-color="#355be3"/><stop offset="0.811" stop-color="#3952e1"/><stop offset="0.916" stop-color="#3a44ca"/></linearGradient><linearGradient id="g70" gradientUnits="userSpaceOnUse" x1="0" y1="38" x2="0" y2="133"><stop offset="0.126" stop-color="#b6bd4d"/><stop offset="0.284" stop-color="#4cbb8f"/><stop offset="0.442" stop-color="#1da9d0"/><stop offset="0.600" stop-color="#2680e8"/><stop offset="0.758" stop-color="#345ee4"/><stop offset="0.811" stop-color="#3854e1"/><stop offset="0.916" stop-color="#3a47d0"/></linearGradient><linearGradient id="g71" gradientUnits="userSpaceOnUse" x1="0" y1="38" x2="0" y2="133"><stop offset="0.126" stop-color="#6ebe76"/><stop offset="0.284" stop-color="#2ab4b5"/><stop offset="0.442" stop-color="#1b9edc"/><stop offset="0.600" stop-color="#2c72e9"/><stop offset="0.758" stop-color="#3a4fdf"/><stop offset="0.811" stop-color="#3a46cf"/><stop offset="0.916" stop-color="#3b3dbc"/></linearGradient><linearGradient id="g72" gradientUnits="userSpaceOnUse" x1="0" y1="38" x2="0" y2="133"><stop offset="0.126" stop-color="#6bbe78"/><stop offset="0.284" stop-color="#2eb6ac"/><stop offset="0.442" stop-color="#1da8d1"/><stop offset="0.600" stop-color="#2680e8"/><stop offset="0.758" stop-color="#355be3"/><stop offset="0.811" stop-color="#3a4fe0"/><stop offset="0.916" stop-color="#3a48d2"/></linearGradient><linearGradient id="g73" gradientUnits="userSpaceOnUse" x1="0" y1="38" x2="0" y2="133"><stop offset="0.126" stop-color="#3ab99c"/><stop offset="0.284" stop-color="#26b3ba"/><stop offset="0.442" stop-color="#1da6d3"/><stop offset="0.600" stop-color="#277ee8"/><stop offset="0.758" stop-color="#3758e2"/><stop offset="0.811" stop-color="#3a4ddb"/><stop offset="0.916" stop-color="#3a47d0"/></linearGradient><linearGradient id="g74" gradientUnits="userSpaceOnUse" x1="0" y1="38" x2="0" y2="133"><stop offset="0.126" stop-color="#30b7a8"/><stop offset="0.284" stop-color="#26b3bc"/><stop offset="0.442" stop-color="#1eabcd"/><stop offset="0.600" stop-color="#2485e6"/><stop offset="0.758" stop-color="#345de4"/><stop offset="0.811" stop-color="#3951e0"/><stop offset="0.916" stop-color="#3a4ddb"/></linearGradient><linearGradient id="g75" gradientUnits="userSpaceOnUse" x1="0" y1="38" x2="0" y2="133"><stop offset="0.126" stop-color="#21b1c4"/><stop offset="0.284" stop-color="#1eadcb"/><stop offset="0.442" stop-color="#1da8d2"/><stop offset="0.600" stop-color="#2680e8"/><stop offset="0.758" stop-color="#3758e2"/><stop offset="0.811" stop-color="#3a4cd9"/><stop offset="0.916" stop-color="#3a4ad6"/></linearGradient><linearGradient id="g76" gradientUnits="userSpaceOnUse" x1="0" y1="38" x2="0" y2="133"><stop offset="0.126" stop-color="#1b9edd"/><stop offset="0.284" stop-color="#1b9edd"/><stop offset="0.442" stop-color="#1b9edd"/><stop offset="0.600" stop-color="#2c73e9"/><stop offset="0.758" stop-color="#3a4bd9"/><stop offset="0.811" stop-color="#3a41c3"/><stop offset="0.916" stop-color="#3a41c3"/></linearGradient><linearGradient id="g77" gradientUnits="userSpaceOnUse" x1="0" y1="38" x2="0" y2="133"><stop offset="0.442" stop-color="#1a9be0"/><stop offset="0.600" stop-color="#2c74e9"/><stop offset="0.705" stop-color="#355be3"/><stop offset="0.811" stop-color="#3a42c6"/></linearGradient><linearGradient id="g78" gradientUnits="userSpaceOnUse" x1="0" y1="38" x2="0" y2="133"><stop offset="0.442" stop-color="#1a9be0"/><stop offset="0.600" stop-color="#2a78ea"/><stop offset="0.705" stop-color="#3263e5"/><stop offset="0.811" stop-color="#3a46cf"/></linearGradient><linearGradient id="g79" gradientUnits="userSpaceOnUse" x1="0" y1="38" x2="0" y2="133"><stop offset="0.442" stop-color="#2386e6"/><stop offset="0.600" stop-color="#3069e6"/><stop offset="0.705" stop-color="#3756e2"/><stop offset="0.811" stop-color="#3b3bb8"/></linearGradient><linearGradient id="g80" gradientUnits="userSpaceOnUse" x1="0" y1="38" x2="0" y2="133"><stop offset="0.442" stop-color="#228ae5"/><stop offset="0.600" stop-color="#2d71e8"/><stop offset="0.705" stop-color="#3360e4"/><stop offset="0.811" stop-color="#3a42c6"/></linearGradient><linearGradient id="g81" gradientUnits="userSpaceOnUse" x1="0" y1="38" x2="0" y2="133"><stop offset="0.442" stop-color="#287de8"/><stop offset="0.600" stop-color="#3069e6"/><stop offset="0.705" stop-color="#355be3"/><stop offset="0.811" stop-color="#3b3dbb"/></linearGradient><linearGradient id="g82" gradientUnits="userSpaceOnUse" x1="0" y1="38" x2="0" y2="133"><stop offset="0.442" stop-color="#2b76ea"/><stop offset="0.600" stop-color="#3166e6"/><stop offset="0.705" stop-color="#355be3"/><stop offset="0.811" stop-color="#3b3bb8"/></linearGradient><linearGradient id="g83" gradientUnits="userSpaceOnUse" x1="0" y1="38" x2="0" y2="133"><stop offset="0.442" stop-color="#2d6fe8"/><stop offset="0.600" stop-color="#3263e5"/><stop offset="0.705" stop-color="#355be3"/><stop offset="0.811" stop-color="#3b3ab6"/></linearGradient><linearGradient id="g84" gradientUnits="userSpaceOnUse" x1="0" y1="38" x2="0" y2="133"><stop offset="0.442" stop-color="#2a79ea"/><stop offset="0.600" stop-color="#2d71e8"/><stop offset="0.705" stop-color="#2f6be7"/><stop offset="0.811" stop-color="#3a45cd"/></linearGradient><linearGradient id="g85" gradientUnits="userSpaceOnUse" x1="0" y1="38" x2="0" y2="133"><stop offset="0.442" stop-color="#3165e5"/><stop offset="0.600" stop-color="#3361e4"/><stop offset="0.705" stop-color="#345ee4"/><stop offset="0.811" stop-color="#3b3ab6"/></linearGradient><linearGradient id="g86" gradientUnits="userSpaceOnUse" x1="0" y1="38" x2="0" y2="133"><stop offset="0.705" stop-color="#3362e5"/><stop offset="0.811" stop-color="#3b3cba"/></linearGradient><clipPath id="tc1"><polygon points="326.0,34.0 340.0,42.0 360.0,56.0 380.0,70.0 397.5,84.0 385.0,93.0 365.0,108.0 345.0,124.0 335.0,131.0 318.0,118.0 312.0,100.0 316.0,80.0 320.0,55.0"/></clipPath><clipPath id="tc2"><polygon points="245.0,90.0 270.0,82.0 292.0,76.0 300.0,90.0 305.0,110.0 312.0,150.0 300.0,143.0 280.0,130.0 260.0,116.0 245.0,105.0"/></clipPath><clipPath id="tc3"><polygon points="229.0,76.0 235.0,70.0 245.0,62.0 253.0,62.0 256.0,80.0 253.0,98.0 240.0,95.0 229.0,90.0"/></clipPath><clipPath id="tc4"><polygon points="299.5,20.0 313.0,11.0 327.0,20.0 327.0,50.0 313.0,62.0 299.5,55.0"/></clipPath><clipPath id="tc5"><polygon points="326.0,34.0 340.0,30.0 360.0,45.0 397.5,84.0 385.0,93.0 365.0,108.0 345.0,124.0 335.0,131.0 318.0,118.0 312.0,100.0 316.0,80.0 320.0,55.0"/></clipPath><clipPath id="tc6"><polygon points="245.0,90.0 270.0,82.0 292.0,76.0 300.0,90.0 305.0,110.0 312.0,150.0 300.0,143.0 280.0,130.0 260.0,116.0 245.0,105.0"/></clipPath><clipPath id="clip2"><polygon points="19.0,299.6 19.5,297.2 20.0,296.2 20.5,295.6 21.0,291.7 21.5,291.8 22.0,292.7 24.0,290.6 25.0,288.6 26.0,287.8 27.0,286.1 28.5,285.5 30.0,285.2 31.0,282.7 32.0,283.4 33.0,282.1 34.0,281.1 35.0,278.5 35.8,277.6 36.7,277.6 37.5,274.6 38.3,276.0 39.2,273.7 40.0,272.2 40.3,270.2 40.7,269.8 41.0,268.8 41.3,268.3 41.7,265.5 42.0,265.5 43.0,263.8 44.0,261.4 45.0,260.6 45.8,257.7 46.5,258.6 47.2,253.8 48.0,254.1 48.5,252.1 49.0,252.4 49.5,250.6 50.0,249.7 51.5,250.1 53.0,247.5 54.5,247.8 56.0,249.2 56.5,249.5 57.0,252.3 57.5,251.4 58.0,254.1 58.5,257.6 59.0,257.5 59.5,259.5 60.0,260.5 61.0,263.6 62.0,263.4 63.0,261.8 64.0,263.1 65.0,260.4 66.0,258.8 67.0,256.1 68.0,257.1 69.3,256.5 70.7,255.8 72.0,255.4 73.5,252.8 75.0,254.1 76.5,251.8 78.0,252.3 79.4,251.0 80.8,250.3 82.2,249.6 83.6,250.2 85.0,249.3 86.4,247.9 87.8,248.6 89.2,246.2 90.6,247.1 92.0,245.5 93.0,246.1 94.0,244.9 95.0,242.4 96.0,243.3 97.0,240.4 98.0,240.1 98.5,239.5 99.0,235.4 99.5,236.1 100.0,234.5 100.5,231.1 101.0,231.6 101.5,228.9 102.0,227.7 102.3,227.6 102.5,222.7 102.8,225.5 103.1,221.9 103.4,221.9 103.6,220.4 103.9,218.4 104.2,215.7 104.5,214.3 104.7,213.7 105.0,212.7 105.6,212.2 106.2,211.2 106.8,209.3 107.4,204.3 108.0,204.0 109.0,203.6 110.0,203.4 110.8,205.4 111.5,205.3 112.2,207.6 113.0,208.6 113.4,210.6 113.9,210.5 114.3,215.2 114.7,215.5 115.1,216.9 115.6,216.5 116.0,218.4 117.5,218.3 119.0,218.5 120.5,216.3 122.0,215.9 123.2,218.0 124.5,213.5 125.8,213.5 127.0,212.6 128.0,212.4 129.0,210.2 130.0,208.7 131.0,209.7 132.0,206.9 133.0,206.5 133.8,209.4 134.5,211.2 135.2,211.3 136.0,213.0 136.4,214.0 136.9,215.6 137.3,217.1 137.8,216.9 138.2,219.3 138.7,222.4 139.1,224.1 139.6,222.9 140.0,223.3 142.0,226.5 142.4,228.4 142.8,229.5 143.1,228.7 143.5,230.4 143.9,233.7 144.2,233.7 144.6,237.1 145.0,235.4 145.2,237.4 145.5,241.4 145.8,243.8 146.0,244.2 146.2,246.0 146.5,247.1 146.8,249.3 147.0,248.3 147.6,248.5 148.1,246.3 148.7,244.6 149.3,245.0 149.9,242.5 150.4,241.1 151.0,238.7 151.2,243.2 151.4,243.8 151.5,245.5 151.7,246.7 151.9,247.5 152.1,250.1 152.3,248.9 152.5,253.5 152.6,253.3 152.8,254.1 153.0,255.4 153.4,257.4 153.8,260.1 154.2,259.7 154.6,261.5 155.0,263.5 155.8,261.6 156.7,261.0 157.5,258.9 158.3,258.0 159.2,255.9 160.0,256.4 160.6,255.0 161.2,254.9 161.8,252.3 162.4,252.1 163.0,250.7 165.0,251.2 165.7,249.0 166.4,249.7 167.1,248.6 167.9,245.6 168.6,243.9 169.3,245.7 170.0,241.7 171.5,241.8 173.0,242.5 174.0,239.0 175.0,239.0 176.0,238.8 177.0,235.9 178.0,236.1 179.0,234.2 180.0,235.6 181.0,235.6 182.0,235.9 182.8,233.7 183.5,235.2 184.2,234.4 185.0,232.9 185.6,232.4 186.2,235.5 186.8,235.3 187.4,239.7 188.0,239.5 188.4,240.7 188.8,243.0 189.2,243.6 189.6,245.4 190.0,244.7 190.5,248.3 191.0,249.6 190.0,248.8 188.0,247.4 187.0,248.9 186.0,249.6 185.0,252.8 184.2,253.4 183.3,254.4 182.5,255.2 181.7,256.1 180.8,259.2 180.0,260.1 179.3,260.5 178.7,262.8 178.0,264.0 177.2,265.1 176.5,266.3 175.8,267.6 175.0,270.2 174.0,270.3 173.0,272.3 172.0,273.6 171.0,273.8 170.0,275.2 168.0,273.4 166.8,275.1 165.5,274.4 164.2,275.8 163.0,276.9 162.0,279.1 161.0,279.5 160.0,281.2 159.0,279.6 158.0,278.6 157.2,280.8 156.5,280.8 155.8,283.4 155.0,283.5 154.0,284.3 153.0,284.9 152.0,288.2 151.0,288.7 150.0,288.2 148.3,290.8 146.7,290.0 145.0,291.2 143.8,291.3 142.5,292.3 141.2,292.7 140.0,293.6 138.8,294.0 137.5,296.0 136.2,296.1 135.0,298.1 133.8,297.7 132.5,298.2 131.2,300.0 130.0,299.6 128.6,300.4 127.1,300.9 125.7,302.8 124.3,303.8 122.9,302.9 121.4,303.0 120.0,303.8 118.8,306.0 117.5,305.3 116.2,306.5 115.0,306.9 113.8,308.0 112.5,310.2 111.2,311.0 110.0,311.8 108.6,311.9 107.1,311.5 105.7,311.1 104.2,313.4 102.8,312.2 101.3,313.6 99.9,314.0 98.4,314.0 97.0,313.3 96.3,313.3 95.6,312.8 94.9,310.4 94.1,309.4 93.4,308.7 92.7,305.6 92.0,305.3 91.6,304.3 91.2,301.9 90.9,301.3 90.5,299.9 90.1,298.8 89.7,297.4 89.3,295.8 89.0,294.1 88.6,293.4 88.2,290.9 86.6,290.5 84.9,291.4 83.3,292.1 81.6,290.7 80.0,292.1 78.6,290.4 77.1,292.3 75.7,292.1 74.3,292.7 72.9,291.9 71.4,293.3 70.0,291.9 68.6,293.8 67.1,293.0 65.7,293.7 64.3,294.2 62.9,293.2 61.4,293.8 60.0,293.2 58.6,293.9 57.1,294.5 55.7,294.8 54.3,295.2 52.9,294.7 51.4,295.3 50.0,295.5 48.5,295.0 47.0,295.5 45.5,297.2 44.0,296.7 42.5,296.0 41.0,296.6 39.5,296.4 38.0,297.8 36.5,297.2 35.0,298.0 33.6,298.0 32.1,297.5 30.7,298.8 29.3,299.4 27.9,299.1 26.4,299.4 25.0,299.5"/></clipPath><linearGradient id="g87" gradientUnits="userSpaceOnUse" x1="0" y1="200" x2="0" y2="316"><stop offset="0.776" stop-color="#3659e2"/><stop offset="0.862" stop-color="#3b37af"/></linearGradient><linearGradient id="g88" gradientUnits="userSpaceOnUse" x1="0" y1="200" x2="0" y2="316"><stop offset="0.724" stop-color="#3758e2"/><stop offset="0.776" stop-color="#3855e1"/><stop offset="0.793" stop-color="#3a4ddc"/><stop offset="0.853" stop-color="#3b37af"/><stop offset="0.862" stop-color="#3b34a9"/></linearGradient><linearGradient id="g89" gradientUnits="userSpaceOnUse" x1="0" y1="200" x2="0" y2="316"><stop offset="0.724" stop-color="#3068e6"/><stop offset="0.776" stop-color="#345fe4"/><stop offset="0.793" stop-color="#3756e2"/><stop offset="0.853" stop-color="#3b3ebf"/><stop offset="0.862" stop-color="#3b3cba"/></linearGradient><linearGradient id="g90" gradientUnits="userSpaceOnUse" x1="0" y1="200" x2="0" y2="316"><stop offset="0.724" stop-color="#3361e4"/><stop offset="0.776" stop-color="#3952e1"/><stop offset="0.793" stop-color="#3a4ad6"/><stop offset="0.853" stop-color="#3b34aa"/><stop offset="0.862" stop-color="#3b32a7"/></linearGradient><linearGradient id="g91" gradientUnits="userSpaceOnUse" x1="0" y1="200" x2="0" y2="316"><stop offset="0.724" stop-color="#2d71e8"/><stop offset="0.776" stop-color="#355be3"/><stop offset="0.793" stop-color="#3951e1"/><stop offset="0.853" stop-color="#3b3bb8"/><stop offset="0.862" stop-color="#3b3ab7"/></linearGradient><linearGradient id="g92" gradientUnits="userSpaceOnUse" x1="0" y1="200" x2="0" y2="316"><stop offset="0.724" stop-color="#2c72e9"/><stop offset="0.776" stop-color="#3757e2"/><stop offset="0.793" stop-color="#3a4ddc"/><stop offset="0.853" stop-color="#3b38b1"/><stop offset="0.862" stop-color="#3b37b1"/></linearGradient><linearGradient id="g93" gradientUnits="userSpaceOnUse" x1="0" y1="200" x2="0" y2="316"><stop offset="0.552" stop-color="#2c72e8"/><stop offset="0.647" stop-color="#2e6fe8"/><stop offset="0.724" stop-color="#2f6ce7"/><stop offset="0.733" stop-color="#3067e6"/><stop offset="0.793" stop-color="#3a47d0"/><stop offset="0.836" stop-color="#3b38b2"/><stop offset="0.853" stop-color="#3b32a7"/></linearGradient><linearGradient id="g94" gradientUnits="userSpaceOnUse" x1="0" y1="200" x2="0" y2="316"><stop offset="0.552" stop-color="#2583e7"/><stop offset="0.647" stop-color="#297aea"/><stop offset="0.724" stop-color="#2c72e9"/><stop offset="0.733" stop-color="#2e6de7"/><stop offset="0.793" stop-color="#3a4ddd"/><stop offset="0.836" stop-color="#3b3fc0"/><stop offset="0.853" stop-color="#3b3ab7"/></linearGradient><linearGradient id="g95" gradientUnits="userSpaceOnUse" x1="0" y1="200" x2="0" y2="316"><stop offset="0.552" stop-color="#277fe8"/><stop offset="0.647" stop-color="#2d70e8"/><stop offset="0.724" stop-color="#3264e5"/><stop offset="0.733" stop-color="#3460e4"/><stop offset="0.793" stop-color="#3a44cb"/><stop offset="0.836" stop-color="#3b36ae"/><stop offset="0.853" stop-color="#3b33a7"/></linearGradient><linearGradient id="g96" gradientUnits="userSpaceOnUse" x1="0" y1="200" x2="0" y2="316"><stop offset="0.552" stop-color="#1f90e3"/><stop offset="0.647" stop-color="#297ae9"/><stop offset="0.724" stop-color="#3069e6"/><stop offset="0.733" stop-color="#3264e5"/><stop offset="0.793" stop-color="#3a4ad6"/><stop offset="0.836" stop-color="#3b3cbb"/><stop offset="0.853" stop-color="#3b3ab6"/></linearGradient><linearGradient id="g97" gradientUnits="userSpaceOnUse" x1="0" y1="200" x2="0" y2="316"><stop offset="0.552" stop-color="#208fe3"/><stop offset="0.647" stop-color="#2c73e9"/><stop offset="0.724" stop-color="#355de3"/><stop offset="0.733" stop-color="#3659e2"/><stop offset="0.793" stop-color="#3a43c7"/><stop offset="0.836" stop-color="#3b35ad"/><stop offset="0.853" stop-color="#3b34aa"/></linearGradient><linearGradient id="g98" gradientUnits="userSpaceOnUse" x1="0" y1="200" x2="0" y2="316"><stop offset="0.552" stop-color="#1c97e1"/><stop offset="0.647" stop-color="#2c74e9"/><stop offset="0.724" stop-color="#3659e2"/><stop offset="0.733" stop-color="#3756e2"/><stop offset="0.793" stop-color="#3a42c6"/><stop offset="0.836" stop-color="#3b35ac"/><stop offset="0.853" stop-color="#3b35ab"/></linearGradient><linearGradient id="g99" gradientUnits="userSpaceOnUse" x1="0" y1="200" x2="0" y2="316"><stop offset="0.414" stop-color="#1ca2d8"/><stop offset="0.517" stop-color="#1ba0da"/><stop offset="0.552" stop-color="#1b9fdb"/><stop offset="0.647" stop-color="#287ce9"/><stop offset="0.733" stop-color="#355be3"/><stop offset="0.776" stop-color="#3a4cda"/><stop offset="0.828" stop-color="#3b3dbc"/><stop offset="0.836" stop-color="#3b3bb8"/></linearGradient><linearGradient id="g100" gradientUnits="userSpaceOnUse" x1="0" y1="200" x2="0" y2="316"><stop offset="0.414" stop-color="#1eadcc"/><stop offset="0.517" stop-color="#1da7d3"/><stop offset="0.552" stop-color="#1ca5d5"/><stop offset="0.647" stop-color="#2584e7"/><stop offset="0.733" stop-color="#3264e5"/><stop offset="0.776" stop-color="#3854e1"/><stop offset="0.828" stop-color="#3a44cb"/><stop offset="0.836" stop-color="#3a43c7"/></linearGradient><linearGradient id="g101" gradientUnits="userSpaceOnUse" x1="0" y1="200" x2="0" y2="316"><stop offset="0.414" stop-color="#1ca5d5"/><stop offset="0.517" stop-color="#1a9be0"/><stop offset="0.552" stop-color="#1c96e2"/><stop offset="0.647" stop-color="#2c73e9"/><stop offset="0.733" stop-color="#3854e1"/><stop offset="0.776" stop-color="#3a48d1"/><stop offset="0.828" stop-color="#3b39b3"/><stop offset="0.836" stop-color="#3b37b1"/></linearGradient><linearGradient id="g102" gradientUnits="userSpaceOnUse" x1="0" y1="200" x2="0" y2="316"><stop offset="0.414" stop-color="#1eaacf"/><stop offset="0.517" stop-color="#1a9dde"/><stop offset="0.552" stop-color="#1c96e1"/><stop offset="0.647" stop-color="#2c74e9"/><stop offset="0.733" stop-color="#3757e2"/><stop offset="0.776" stop-color="#3a4ad5"/><stop offset="0.828" stop-color="#3b3bb7"/><stop offset="0.836" stop-color="#3b3ab6"/></linearGradient><linearGradient id="g103" gradientUnits="userSpaceOnUse" x1="0" y1="200" x2="0" y2="316"><stop offset="0.414" stop-color="#24b2bf"/><stop offset="0.517" stop-color="#1ca3d6"/><stop offset="0.552" stop-color="#1a9dde"/><stop offset="0.647" stop-color="#287ce9"/><stop offset="0.733" stop-color="#345fe4"/><stop offset="0.776" stop-color="#3951e1"/><stop offset="0.828" stop-color="#3a42c6"/><stop offset="0.836" stop-color="#3a41c5"/></linearGradient><linearGradient id="g104" gradientUnits="userSpaceOnUse" x1="0" y1="200" x2="0" y2="316"><stop offset="0.414" stop-color="#2db6ae"/><stop offset="0.517" stop-color="#1da9d0"/><stop offset="0.552" stop-color="#1ba0da"/><stop offset="0.647" stop-color="#2582e7"/><stop offset="0.733" stop-color="#3166e6"/><stop offset="0.776" stop-color="#3659e2"/><stop offset="0.828" stop-color="#3a48d1"/><stop offset="0.836" stop-color="#3a48d1"/></linearGradient><linearGradient id="g105" gradientUnits="userSpaceOnUse" x1="0" y1="200" x2="0" y2="316"><stop offset="0.414" stop-color="#37b99e"/><stop offset="0.500" stop-color="#27b3b9"/><stop offset="0.517" stop-color="#23b2c0"/><stop offset="0.569" stop-color="#1da7d3"/><stop offset="0.647" stop-color="#218ce4"/><stop offset="0.733" stop-color="#2f6be7"/><stop offset="0.776" stop-color="#365ae3"/><stop offset="0.802" stop-color="#3a4fe0"/><stop offset="0.828" stop-color="#3a49d5"/></linearGradient><linearGradient id="g106" gradientUnits="userSpaceOnUse" x1="0" y1="200" x2="0" y2="316"><stop offset="0.414" stop-color="#63bd7e"/><stop offset="0.500" stop-color="#3cba9b"/><stop offset="0.517" stop-color="#32b8a5"/><stop offset="0.569" stop-color="#24b2bf"/><stop offset="0.647" stop-color="#1b9ae0"/><stop offset="0.733" stop-color="#2c73e9"/><stop offset="0.776" stop-color="#3360e4"/><stop offset="0.802" stop-color="#3854e1"/><stop offset="0.828" stop-color="#3a4edf"/></linearGradient><linearGradient id="g107" gradientUnits="userSpaceOnUse" x1="0" y1="200" x2="0" y2="316"><stop offset="0.414" stop-color="#b4be4e"/><stop offset="0.500" stop-color="#a2bf56"/><stop offset="0.517" stop-color="#94c05d"/><stop offset="0.569" stop-color="#5dbd82"/><stop offset="0.647" stop-color="#20b0c6"/><stop offset="0.733" stop-color="#208de4"/><stop offset="0.776" stop-color="#2b76e9"/><stop offset="0.802" stop-color="#3068e6"/><stop offset="0.828" stop-color="#3165e5"/></linearGradient><linearGradient id="g108" gradientUnits="userSpaceOnUse" x1="0" y1="200" x2="0" y2="316"><stop offset="0.414" stop-color="#afbe50"/><stop offset="0.500" stop-color="#a9be53"/><stop offset="0.517" stop-color="#99c05a"/><stop offset="0.569" stop-color="#62bd7f"/><stop offset="0.647" stop-color="#1faeca"/><stop offset="0.733" stop-color="#2484e7"/><stop offset="0.776" stop-color="#2f6be7"/><stop offset="0.802" stop-color="#355ce3"/><stop offset="0.828" stop-color="#355be3"/></linearGradient><linearGradient id="g109" gradientUnits="userSpaceOnUse" x1="0" y1="200" x2="0" y2="316"><stop offset="0.440" stop-color="#e6b639"/><stop offset="0.500" stop-color="#e5b63a"/><stop offset="0.534" stop-color="#cdbb43"/><stop offset="0.569" stop-color="#afbe50"/><stop offset="0.621" stop-color="#5dbd82"/><stop offset="0.647" stop-color="#33b8a4"/><stop offset="0.707" stop-color="#1da8d1"/><stop offset="0.733" stop-color="#1a9dde"/><stop offset="0.793" stop-color="#2a78ea"/><stop offset="0.802" stop-color="#2c73e9"/></linearGradient><linearGradient id="g110" gradientUnits="userSpaceOnUse" x1="0" y1="200" x2="0" y2="316"><stop offset="0.440" stop-color="#d4ba40"/><stop offset="0.500" stop-color="#d0ba42"/><stop offset="0.534" stop-color="#b6bd4d"/><stop offset="0.569" stop-color="#94c05d"/><stop offset="0.621" stop-color="#3bba9c"/><stop offset="0.647" stop-color="#2ab4b5"/><stop offset="0.707" stop-color="#1b9edc"/><stop offset="0.733" stop-color="#1f91e3"/><stop offset="0.793" stop-color="#2f6ce7"/><stop offset="0.802" stop-color="#3068e6"/></linearGradient><linearGradient id="g111" gradientUnits="userSpaceOnUse" x1="0" y1="200" x2="0" y2="316"><stop offset="0.440" stop-color="#d2ba41"/><stop offset="0.500" stop-color="#ccbb43"/><stop offset="0.534" stop-color="#b2be4f"/><stop offset="0.569" stop-color="#8fc05f"/><stop offset="0.621" stop-color="#35b9a0"/><stop offset="0.647" stop-color="#28b4b8"/><stop offset="0.707" stop-color="#1a9cdf"/><stop offset="0.733" stop-color="#208de4"/><stop offset="0.793" stop-color="#2f6ae7"/><stop offset="0.802" stop-color="#3166e6"/></linearGradient><linearGradient id="g112" gradientUnits="userSpaceOnUse" x1="0" y1="200" x2="0" y2="316"><stop offset="0.440" stop-color="#d5b940"/><stop offset="0.500" stop-color="#ccbb43"/><stop offset="0.534" stop-color="#b4be4e"/><stop offset="0.569" stop-color="#90c05f"/><stop offset="0.621" stop-color="#37b99e"/><stop offset="0.647" stop-color="#28b4b7"/><stop offset="0.707" stop-color="#1a9be0"/><stop offset="0.733" stop-color="#208de4"/><stop offset="0.793" stop-color="#2f6ae7"/><stop offset="0.802" stop-color="#3167e6"/></linearGradient><linearGradient id="g113" gradientUnits="userSpaceOnUse" x1="0" y1="200" x2="0" y2="316"><stop offset="0.440" stop-color="#e0b73c"/><stop offset="0.500" stop-color="#d5b940"/><stop offset="0.534" stop-color="#c1bd48"/><stop offset="0.569" stop-color="#9cbf59"/><stop offset="0.621" stop-color="#48bb92"/><stop offset="0.647" stop-color="#2cb5b0"/><stop offset="0.707" stop-color="#1b9fdc"/><stop offset="0.733" stop-color="#1e91e3"/><stop offset="0.793" stop-color="#2d70e8"/><stop offset="0.802" stop-color="#2e6de7"/></linearGradient><linearGradient id="g114" gradientUnits="userSpaceOnUse" x1="0" y1="200" x2="0" y2="316"><stop offset="0.440" stop-color="#efb835"/><stop offset="0.500" stop-color="#eab538"/><stop offset="0.534" stop-color="#d9b83e"/><stop offset="0.569" stop-color="#b8bd4c"/><stop offset="0.621" stop-color="#6ebe76"/><stop offset="0.647" stop-color="#39b99d"/><stop offset="0.707" stop-color="#1da7d2"/><stop offset="0.733" stop-color="#1a9dde"/><stop offset="0.793" stop-color="#287ce9"/><stop offset="0.802" stop-color="#297aea"/></linearGradient><linearGradient id="g115" gradientUnits="userSpaceOnUse" x1="0" y1="200" x2="0" y2="316"><stop offset="0.440" stop-color="#e2b63b"/><stop offset="0.500" stop-color="#d3ba41"/><stop offset="0.534" stop-color="#c2bc48"/><stop offset="0.569" stop-color="#9ac05a"/><stop offset="0.621" stop-color="#48bb92"/><stop offset="0.647" stop-color="#2cb5b1"/><stop offset="0.707" stop-color="#1a9cdf"/><stop offset="0.733" stop-color="#208fe3"/><stop offset="0.793" stop-color="#2e6fe8"/><stop offset="0.802" stop-color="#2e6de7"/></linearGradient><linearGradient id="g116" gradientUnits="userSpaceOnUse" x1="0" y1="200" x2="0" y2="316"><stop offset="0.440" stop-color="#efb735"/><stop offset="0.500" stop-color="#e3b63a"/><stop offset="0.534" stop-color="#d5b940"/><stop offset="0.569" stop-color="#b0be50"/><stop offset="0.621" stop-color="#66be7b"/><stop offset="0.647" stop-color="#33b8a3"/><stop offset="0.707" stop-color="#1ca3d7"/><stop offset="0.733" stop-color="#1b98e1"/><stop offset="0.793" stop-color="#2a78ea"/><stop offset="0.802" stop-color="#2a78ea"/></linearGradient><linearGradient id="g117" gradientUnits="userSpaceOnUse" x1="0" y1="200" x2="0" y2="316"><stop offset="0.440" stop-color="#f0b934"/><stop offset="0.500" stop-color="#e7b539"/><stop offset="0.534" stop-color="#dab83e"/><stop offset="0.569" stop-color="#b6bd4d"/><stop offset="0.621" stop-color="#6ebe75"/><stop offset="0.647" stop-color="#35b9a0"/><stop offset="0.707" stop-color="#1ca4d6"/><stop offset="0.733" stop-color="#1b9ae0"/><stop offset="0.793" stop-color="#297be9"/><stop offset="0.802" stop-color="#297ae9"/></linearGradient><linearGradient id="g118" gradientUnits="userSpaceOnUse" x1="0" y1="200" x2="0" y2="316"><stop offset="0.397" stop-color="#efb635"/><stop offset="0.440" stop-color="#eeb536"/><stop offset="0.517" stop-color="#d5b940"/><stop offset="0.534" stop-color="#cebb42"/><stop offset="0.621" stop-color="#5dbd82"/><stop offset="0.647" stop-color="#31b7a7"/><stop offset="0.707" stop-color="#1ba0da"/><stop offset="0.776" stop-color="#277fe8"/><stop offset="0.793" stop-color="#2a77ea"/><stop offset="0.905" stop-color="#2c74e9"/></linearGradient><linearGradient id="g119" gradientUnits="userSpaceOnUse" x1="0" y1="200" x2="0" y2="316"><stop offset="0.397" stop-color="#f0b834"/><stop offset="0.440" stop-color="#efb635"/><stop offset="0.517" stop-color="#d7b93f"/><stop offset="0.534" stop-color="#cfba42"/><stop offset="0.621" stop-color="#65be7c"/><stop offset="0.647" stop-color="#34b9a1"/><stop offset="0.707" stop-color="#1da6d4"/><stop offset="0.776" stop-color="#2387e6"/><stop offset="0.793" stop-color="#277fe8"/><stop offset="0.905" stop-color="#2b76e9"/></linearGradient><linearGradient id="g120" gradientUnits="userSpaceOnUse" x1="0" y1="200" x2="0" y2="316"><stop offset="0.397" stop-color="#e3b63a"/><stop offset="0.440" stop-color="#dcb83d"/><stop offset="0.517" stop-color="#bcbd4a"/><stop offset="0.534" stop-color="#b1be4f"/><stop offset="0.621" stop-color="#41ba97"/><stop offset="0.647" stop-color="#2cb5b0"/><stop offset="0.707" stop-color="#1ba0da"/><stop offset="0.776" stop-color="#277fe8"/><stop offset="0.793" stop-color="#2a78ea"/><stop offset="0.905" stop-color="#3069e6"/></linearGradient><linearGradient id="g121" gradientUnits="userSpaceOnUse" x1="0" y1="200" x2="0" y2="316"><stop offset="0.397" stop-color="#e1b73b"/><stop offset="0.440" stop-color="#d7b93f"/><stop offset="0.517" stop-color="#b5bd4d"/><stop offset="0.534" stop-color="#a9be53"/><stop offset="0.621" stop-color="#3eba99"/><stop offset="0.647" stop-color="#2cb5b0"/><stop offset="0.707" stop-color="#1ca2d8"/><stop offset="0.776" stop-color="#2582e7"/><stop offset="0.793" stop-color="#287be9"/><stop offset="0.905" stop-color="#3166e6"/></linearGradient><linearGradient id="g122" gradientUnits="userSpaceOnUse" x1="0" y1="200" x2="0" y2="316"><stop offset="0.397" stop-color="#e5b639"/><stop offset="0.440" stop-color="#d8b93e"/><stop offset="0.517" stop-color="#b6bd4d"/><stop offset="0.534" stop-color="#a9be53"/><stop offset="0.621" stop-color="#44ba95"/><stop offset="0.647" stop-color="#2fb7aa"/><stop offset="0.707" stop-color="#1da7d2"/><stop offset="0.776" stop-color="#2289e5"/><stop offset="0.793" stop-color="#2583e7"/><stop offset="0.905" stop-color="#3167e6"/></linearGradient><linearGradient id="g123" gradientUnits="userSpaceOnUse" x1="0" y1="200" x2="0" y2="316"><stop offset="0.397" stop-color="#efb735"/><stop offset="0.440" stop-color="#e6b639"/><stop offset="0.517" stop-color="#c8bc45"/><stop offset="0.534" stop-color="#b9bd4c"/><stop offset="0.621" stop-color="#61bd7f"/><stop offset="0.647" stop-color="#40ba98"/><stop offset="0.707" stop-color="#20b1c6"/><stop offset="0.776" stop-color="#1c98e1"/><stop offset="0.793" stop-color="#1e92e3"/><stop offset="0.905" stop-color="#2d6fe8"/></linearGradient><linearGradient id="g124" gradientUnits="userSpaceOnUse" x1="0" y1="200" x2="0" y2="316"><stop offset="0.259" stop-color="#e5b639"/><stop offset="0.345" stop-color="#dfb73c"/><stop offset="0.397" stop-color="#e1b73b"/><stop offset="0.414" stop-color="#dcb83d"/><stop offset="0.500" stop-color="#b1be4f"/><stop offset="0.517" stop-color="#a7bf54"/><stop offset="0.603" stop-color="#4fbc8c"/><stop offset="0.647" stop-color="#30b7aa"/><stop offset="0.733" stop-color="#1ca3d7"/><stop offset="0.776" stop-color="#1e92e3"/><stop offset="0.862" stop-color="#2b76e9"/><stop offset="0.905" stop-color="#3068e6"/><stop offset="0.983" stop-color="#3264e5"/></linearGradient><linearGradient id="g125" gradientUnits="userSpaceOnUse" x1="0" y1="200" x2="0" y2="316"><stop offset="0.259" stop-color="#d5b940"/><stop offset="0.345" stop-color="#c2bc48"/><stop offset="0.397" stop-color="#c9bc45"/><stop offset="0.414" stop-color="#c6bc46"/><stop offset="0.500" stop-color="#8cc160"/><stop offset="0.517" stop-color="#80c068"/><stop offset="0.603" stop-color="#30b7a9"/><stop offset="0.647" stop-color="#25b2bd"/><stop offset="0.733" stop-color="#1b9ddd"/><stop offset="0.776" stop-color="#218ce4"/><stop offset="0.862" stop-color="#2c72e9"/><stop offset="0.905" stop-color="#3263e5"/><stop offset="0.983" stop-color="#3757e2"/></linearGradient><linearGradient id="g126" gradientUnits="userSpaceOnUse" x1="0" y1="200" x2="0" y2="316"><stop offset="0.259" stop-color="#d4ba40"/><stop offset="0.345" stop-color="#b0be50"/><stop offset="0.397" stop-color="#bcbd4b"/><stop offset="0.414" stop-color="#bcbd4a"/><stop offset="0.500" stop-color="#77bf6f"/><stop offset="0.517" stop-color="#68be7a"/><stop offset="0.603" stop-color="#2bb5b2"/><stop offset="0.647" stop-color="#21b1c4"/><stop offset="0.733" stop-color="#1b9edd"/><stop offset="0.776" stop-color="#1f90e3"/><stop offset="0.862" stop-color="#2b76ea"/><stop offset="0.905" stop-color="#3166e6"/><stop offset="0.983" stop-color="#3953e1"/></linearGradient><linearGradient id="g127" gradientUnits="userSpaceOnUse" x1="0" y1="200" x2="0" y2="316"><stop offset="0.259" stop-color="#c1bd48"/><stop offset="0.345" stop-color="#89c162"/><stop offset="0.397" stop-color="#9ac05a"/><stop offset="0.414" stop-color="#9ebf58"/><stop offset="0.500" stop-color="#46bb93"/><stop offset="0.517" stop-color="#36b99f"/><stop offset="0.603" stop-color="#1fb0c8"/><stop offset="0.647" stop-color="#1da8d1"/><stop offset="0.733" stop-color="#1c97e1"/><stop offset="0.776" stop-color="#228ae5"/><stop offset="0.862" stop-color="#2c72e9"/><stop offset="0.905" stop-color="#3361e4"/><stop offset="0.983" stop-color="#3a48d1"/></linearGradient><linearGradient id="g128" gradientUnits="userSpaceOnUse" x1="0" y1="200" x2="0" y2="316"><stop offset="0.103" stop-color="#c1bd48"/><stop offset="0.190" stop-color="#a1bf57"/><stop offset="0.259" stop-color="#99c05a"/><stop offset="0.302" stop-color="#79c06d"/><stop offset="0.345" stop-color="#67be7b"/><stop offset="0.397" stop-color="#89c162"/><stop offset="0.414" stop-color="#8ac161"/><stop offset="0.500" stop-color="#31b8a6"/><stop offset="0.603" stop-color="#1da8d1"/><stop offset="0.733" stop-color="#1f90e3"/><stop offset="0.862" stop-color="#2e6ee8"/><stop offset="0.983" stop-color="#3a41c4"/></linearGradient><linearGradient id="g129" gradientUnits="userSpaceOnUse" x1="0" y1="200" x2="0" y2="316"><stop offset="0.103" stop-color="#edb436"/><stop offset="0.190" stop-color="#9ac05a"/><stop offset="0.259" stop-color="#81c067"/><stop offset="0.302" stop-color="#64bd7d"/><stop offset="0.345" stop-color="#81c067"/><stop offset="0.397" stop-color="#acbe52"/><stop offset="0.414" stop-color="#a2bf56"/><stop offset="0.500" stop-color="#49bb91"/><stop offset="0.603" stop-color="#20b0c7"/><stop offset="0.733" stop-color="#1a9cdf"/><stop offset="0.862" stop-color="#2a79ea"/><stop offset="0.983" stop-color="#3a49d5"/></linearGradient><linearGradient id="g130" gradientUnits="userSpaceOnUse" x1="0" y1="200" x2="0" y2="316"><stop offset="0.026" stop-color="#f0ba34"/><stop offset="0.103" stop-color="#efb735"/><stop offset="0.129" stop-color="#dcb83d"/><stop offset="0.190" stop-color="#92c05e"/><stop offset="0.241" stop-color="#73bf71"/><stop offset="0.302" stop-color="#4cbb8f"/><stop offset="0.345" stop-color="#71bf73"/><stop offset="0.397" stop-color="#9ac05a"/><stop offset="0.474" stop-color="#4dbb8e"/><stop offset="0.500" stop-color="#34b9a1"/><stop offset="0.603" stop-color="#1eadcb"/><stop offset="0.733" stop-color="#1b98e1"/><stop offset="0.862" stop-color="#2b76e9"/><stop offset="0.957" stop-color="#3a4fe0"/><stop offset="0.983" stop-color="#3a48d3"/></linearGradient><linearGradient id="g131" gradientUnits="userSpaceOnUse" x1="0" y1="200" x2="0" y2="316"><stop offset="0.026" stop-color="#efb735"/><stop offset="0.103" stop-color="#e5b63a"/><stop offset="0.129" stop-color="#d1ba41"/><stop offset="0.190" stop-color="#93c05d"/><stop offset="0.241" stop-color="#70bf74"/><stop offset="0.302" stop-color="#41ba97"/><stop offset="0.345" stop-color="#47bb93"/><stop offset="0.397" stop-color="#52bc8a"/><stop offset="0.474" stop-color="#29b4b5"/><stop offset="0.500" stop-color="#24b2bf"/><stop offset="0.603" stop-color="#1ca2d8"/><stop offset="0.733" stop-color="#2289e5"/><stop offset="0.862" stop-color="#3069e6"/><stop offset="0.957" stop-color="#3a46ce"/><stop offset="0.983" stop-color="#3a42c6"/></linearGradient><linearGradient id="g132" gradientUnits="userSpaceOnUse" x1="0" y1="200" x2="0" y2="316"><stop offset="0.026" stop-color="#f3c131"/><stop offset="0.103" stop-color="#efb635"/><stop offset="0.129" stop-color="#e4b63a"/><stop offset="0.190" stop-color="#bdbd4a"/><stop offset="0.241" stop-color="#9bc059"/><stop offset="0.302" stop-color="#6abe78"/><stop offset="0.345" stop-color="#51bc8b"/><stop offset="0.397" stop-color="#3ab99c"/><stop offset="0.474" stop-color="#25b3bd"/><stop offset="0.500" stop-color="#21b1c4"/><stop offset="0.603" stop-color="#1ca4d5"/><stop offset="0.733" stop-color="#208de4"/><stop offset="0.862" stop-color="#2e6de7"/><stop offset="0.957" stop-color="#3a4bd7"/><stop offset="0.983" stop-color="#3a49d4"/></linearGradient><linearGradient id="g133" gradientUnits="userSpaceOnUse" x1="0" y1="200" x2="0" y2="316"><stop offset="0.026" stop-color="#f4c230"/><stop offset="0.069" stop-color="#f1bb33"/><stop offset="0.129" stop-color="#e6b639"/><stop offset="0.172" stop-color="#d0ba42"/><stop offset="0.241" stop-color="#a4bf55"/><stop offset="0.276" stop-color="#8bc161"/><stop offset="0.345" stop-color="#49bb91"/><stop offset="0.388" stop-color="#31b7a7"/><stop offset="0.474" stop-color="#20b0c7"/><stop offset="0.517" stop-color="#1eaccd"/><stop offset="0.603" stop-color="#1ca2d8"/><stop offset="0.647" stop-color="#1a9be0"/><stop offset="0.733" stop-color="#228ae5"/><stop offset="0.776" stop-color="#277fe8"/><stop offset="0.862" stop-color="#2f6ae7"/><stop offset="0.871" stop-color="#3167e6"/><stop offset="0.957" stop-color="#3a4ad6"/></linearGradient><linearGradient id="g134" gradientUnits="userSpaceOnUse" x1="0" y1="200" x2="0" y2="316"><stop offset="0.026" stop-color="#f6c72e"/><stop offset="0.069" stop-color="#f3c131"/><stop offset="0.129" stop-color="#efb735"/><stop offset="0.172" stop-color="#dfb73c"/><stop offset="0.241" stop-color="#b8bd4c"/><stop offset="0.276" stop-color="#9fbf58"/><stop offset="0.345" stop-color="#63bd7e"/><stop offset="0.388" stop-color="#40ba98"/><stop offset="0.474" stop-color="#26b3bb"/><stop offset="0.517" stop-color="#21b1c5"/><stop offset="0.603" stop-color="#1da7d2"/><stop offset="0.647" stop-color="#1ca1d9"/><stop offset="0.733" stop-color="#1e91e3"/><stop offset="0.776" stop-color="#2387e6"/><stop offset="0.862" stop-color="#2d71e8"/><stop offset="0.871" stop-color="#2e6ee7"/><stop offset="0.957" stop-color="#3952e1"/></linearGradient><linearGradient id="g135" gradientUnits="userSpaceOnUse" x1="0" y1="200" x2="0" y2="316"><stop offset="0.026" stop-color="#f5c52f"/><stop offset="0.069" stop-color="#f2bf32"/><stop offset="0.129" stop-color="#eeb536"/><stop offset="0.172" stop-color="#dcb83d"/><stop offset="0.241" stop-color="#b3be4e"/><stop offset="0.276" stop-color="#9ac05a"/><stop offset="0.345" stop-color="#5cbd83"/><stop offset="0.388" stop-color="#38b99e"/><stop offset="0.474" stop-color="#24b2bf"/><stop offset="0.517" stop-color="#1fafc9"/><stop offset="0.603" stop-color="#1ca5d5"/><stop offset="0.647" stop-color="#1b9fdc"/><stop offset="0.733" stop-color="#208de4"/><stop offset="0.776" stop-color="#2582e7"/><stop offset="0.862" stop-color="#2e6de7"/><stop offset="0.871" stop-color="#306ae6"/><stop offset="0.957" stop-color="#3951e1"/></linearGradient><linearGradient id="g136" gradientUnits="userSpaceOnUse" x1="0" y1="200" x2="0" y2="316"><stop offset="0.026" stop-color="#f2bd32"/><stop offset="0.069" stop-color="#f0b834"/><stop offset="0.129" stop-color="#e0b73b"/><stop offset="0.172" stop-color="#cdbb43"/><stop offset="0.241" stop-color="#9fbf58"/><stop offset="0.276" stop-color="#86c164"/><stop offset="0.345" stop-color="#41ba97"/><stop offset="0.388" stop-color="#2eb6ac"/><stop offset="0.474" stop-color="#1faeca"/><stop offset="0.517" stop-color="#1da8d1"/><stop offset="0.603" stop-color="#1b9ddd"/><stop offset="0.647" stop-color="#1c96e1"/><stop offset="0.733" stop-color="#2583e7"/><stop offset="0.776" stop-color="#2a78ea"/><stop offset="0.862" stop-color="#3362e5"/><stop offset="0.871" stop-color="#345fe4"/><stop offset="0.957" stop-color="#3a4bd8"/></linearGradient><linearGradient id="g137" gradientUnits="userSpaceOnUse" x1="0" y1="200" x2="0" y2="316"><stop offset="0.026" stop-color="#f6c82e"/><stop offset="0.069" stop-color="#f4c430"/><stop offset="0.129" stop-color="#f0ba34"/><stop offset="0.172" stop-color="#e9b538"/><stop offset="0.241" stop-color="#c5bc46"/><stop offset="0.276" stop-color="#acbe52"/><stop offset="0.345" stop-color="#72bf72"/><stop offset="0.388" stop-color="#4cbb8f"/><stop offset="0.474" stop-color="#29b4b5"/><stop offset="0.517" stop-color="#23b1c1"/><stop offset="0.603" stop-color="#1da9d0"/><stop offset="0.647" stop-color="#1ca3d7"/><stop offset="0.733" stop-color="#1e92e3"/><stop offset="0.776" stop-color="#2387e6"/><stop offset="0.862" stop-color="#2d70e8"/><stop offset="0.871" stop-color="#2e6de7"/><stop offset="0.957" stop-color="#355be3"/></linearGradient><linearGradient id="g138" gradientUnits="userSpaceOnUse" x1="0" y1="200" x2="0" y2="316"><stop offset="0.026" stop-color="#f0ba34"/><stop offset="0.069" stop-color="#efb635"/><stop offset="0.129" stop-color="#dcb83d"/><stop offset="0.172" stop-color="#cabc44"/><stop offset="0.241" stop-color="#9bc059"/><stop offset="0.276" stop-color="#81c067"/><stop offset="0.345" stop-color="#3cba9b"/><stop offset="0.388" stop-color="#2cb5b0"/><stop offset="0.474" stop-color="#1eaccd"/><stop offset="0.517" stop-color="#1ca5d4"/><stop offset="0.603" stop-color="#1a9ae0"/><stop offset="0.647" stop-color="#1e92e3"/><stop offset="0.733" stop-color="#287de8"/><stop offset="0.776" stop-color="#2c73e9"/><stop offset="0.862" stop-color="#355ce3"/><stop offset="0.871" stop-color="#3659e2"/><stop offset="0.957" stop-color="#3a4bd9"/></linearGradient><linearGradient id="g139" gradientUnits="userSpaceOnUse" x1="0" y1="200" x2="0" y2="316"><stop offset="0.026" stop-color="#f2be32"/><stop offset="0.069" stop-color="#f1bb33"/><stop offset="0.129" stop-color="#e9b538"/><stop offset="0.172" stop-color="#d7b93f"/><stop offset="0.241" stop-color="#adbe51"/><stop offset="0.276" stop-color="#94c05c"/><stop offset="0.345" stop-color="#52bc8a"/><stop offset="0.388" stop-color="#32b8a5"/><stop offset="0.474" stop-color="#20b1c5"/><stop offset="0.517" stop-color="#1eaacf"/><stop offset="0.603" stop-color="#1b9fdb"/><stop offset="0.647" stop-color="#1b99e1"/><stop offset="0.733" stop-color="#2584e7"/><stop offset="0.776" stop-color="#2a78ea"/><stop offset="0.862" stop-color="#3361e4"/><stop offset="0.871" stop-color="#345fe4"/><stop offset="0.957" stop-color="#3853e1"/></linearGradient><linearGradient id="g140" gradientUnits="userSpaceOnUse" x1="0" y1="200" x2="0" y2="316"><stop offset="0.026" stop-color="#f4c330"/><stop offset="0.069" stop-color="#f3c131"/><stop offset="0.129" stop-color="#efb835"/><stop offset="0.172" stop-color="#e5b639"/><stop offset="0.241" stop-color="#c0bd48"/><stop offset="0.276" stop-color="#a8be53"/><stop offset="0.345" stop-color="#6cbe77"/><stop offset="0.388" stop-color="#42ba96"/><stop offset="0.474" stop-color="#27b3ba"/><stop offset="0.517" stop-color="#1fb0c8"/><stop offset="0.603" stop-color="#1ca5d4"/><stop offset="0.647" stop-color="#1b9fdb"/><stop offset="0.733" stop-color="#218be5"/><stop offset="0.776" stop-color="#2680e8"/><stop offset="0.862" stop-color="#3068e6"/><stop offset="0.871" stop-color="#3165e5"/><stop offset="0.957" stop-color="#355de3"/></linearGradient><linearGradient id="g141" gradientUnits="userSpaceOnUse" x1="0" y1="200" x2="0" y2="316"><stop offset="0.026" stop-color="#f0b934"/><stop offset="0.069" stop-color="#f0b834"/><stop offset="0.129" stop-color="#e1b73b"/><stop offset="0.172" stop-color="#d0ba42"/><stop offset="0.241" stop-color="#a4bf55"/><stop offset="0.276" stop-color="#8cc160"/><stop offset="0.345" stop-color="#46bb93"/><stop offset="0.388" stop-color="#2eb6ac"/><stop offset="0.474" stop-color="#1eaecb"/><stop offset="0.517" stop-color="#1da6d4"/><stop offset="0.603" stop-color="#1a9be0"/><stop offset="0.647" stop-color="#1e93e2"/><stop offset="0.733" stop-color="#287ce9"/><stop offset="0.776" stop-color="#2d71e8"/><stop offset="0.862" stop-color="#3659e2"/><stop offset="0.871" stop-color="#3757e2"/><stop offset="0.957" stop-color="#3952e1"/></linearGradient><linearGradient id="g142" gradientUnits="userSpaceOnUse" x1="0" y1="200" x2="0" y2="316"><stop offset="0.026" stop-color="#f2be32"/><stop offset="0.069" stop-color="#f2be32"/><stop offset="0.129" stop-color="#eeb436"/><stop offset="0.172" stop-color="#deb73c"/><stop offset="0.241" stop-color="#b7bd4d"/><stop offset="0.276" stop-color="#a0bf57"/><stop offset="0.345" stop-color="#60bd80"/><stop offset="0.388" stop-color="#35b9a1"/><stop offset="0.474" stop-color="#23b2c1"/><stop offset="0.517" stop-color="#1eaccd"/><stop offset="0.603" stop-color="#1ba0da"/><stop offset="0.647" stop-color="#1a9be0"/><stop offset="0.733" stop-color="#2584e7"/><stop offset="0.776" stop-color="#2a78ea"/><stop offset="0.862" stop-color="#345fe4"/><stop offset="0.871" stop-color="#355de3"/><stop offset="0.957" stop-color="#355be3"/></linearGradient><linearGradient id="g143" gradientUnits="userSpaceOnUse" x1="0" y1="200" x2="0" y2="316"><stop offset="0.069" stop-color="#eeb536"/><stop offset="0.172" stop-color="#cdbb43"/><stop offset="0.224" stop-color="#adbe51"/><stop offset="0.276" stop-color="#8ac161"/><stop offset="0.328" stop-color="#54bc89"/><stop offset="0.388" stop-color="#2db6af"/><stop offset="0.448" stop-color="#20b1c6"/><stop offset="0.517" stop-color="#1ca4d6"/><stop offset="0.586" stop-color="#1a9be0"/><stop offset="0.647" stop-color="#1f90e3"/><stop offset="0.776" stop-color="#2e6ee8"/><stop offset="0.784" stop-color="#2f6ce7"/><stop offset="0.871" stop-color="#3854e1"/></linearGradient><linearGradient id="g144" gradientUnits="userSpaceOnUse" x1="0" y1="200" x2="0" y2="316"><stop offset="0.069" stop-color="#f1bb33"/><stop offset="0.172" stop-color="#e1b73b"/><stop offset="0.224" stop-color="#ccbb43"/><stop offset="0.276" stop-color="#a9be53"/><stop offset="0.328" stop-color="#7cc06b"/><stop offset="0.388" stop-color="#3fba98"/><stop offset="0.448" stop-color="#2bb5b2"/><stop offset="0.517" stop-color="#1fafca"/><stop offset="0.586" stop-color="#1ca5d4"/><stop offset="0.647" stop-color="#1b9dde"/><stop offset="0.776" stop-color="#287ce9"/><stop offset="0.784" stop-color="#297ae9"/><stop offset="0.871" stop-color="#3166e6"/></linearGradient><linearGradient id="g145" gradientUnits="userSpaceOnUse" x1="0" y1="200" x2="0" y2="316"><stop offset="0.069" stop-color="#f0ba34"/><stop offset="0.172" stop-color="#e2b73b"/><stop offset="0.224" stop-color="#d0ba42"/><stop offset="0.276" stop-color="#adbe51"/><stop offset="0.328" stop-color="#81c067"/><stop offset="0.388" stop-color="#45bb94"/><stop offset="0.448" stop-color="#2cb5b0"/><stop offset="0.517" stop-color="#1fb0c8"/><stop offset="0.586" stop-color="#1da7d3"/><stop offset="0.647" stop-color="#1b9edc"/><stop offset="0.776" stop-color="#277fe8"/><stop offset="0.784" stop-color="#287ce9"/><stop offset="0.871" stop-color="#2f6ce7"/></linearGradient><linearGradient id="g146" gradientUnits="userSpaceOnUse" x1="0" y1="200" x2="0" y2="316"><stop offset="0.069" stop-color="#ecb437"/><stop offset="0.172" stop-color="#d7b93f"/><stop offset="0.224" stop-color="#cabc44"/><stop offset="0.276" stop-color="#a2bf56"/><stop offset="0.328" stop-color="#72bf72"/><stop offset="0.388" stop-color="#38b99e"/><stop offset="0.448" stop-color="#29b4b7"/><stop offset="0.517" stop-color="#1eadcb"/><stop offset="0.586" stop-color="#1ca3d6"/><stop offset="0.647" stop-color="#1a9be0"/><stop offset="0.776" stop-color="#297be9"/><stop offset="0.784" stop-color="#2a78ea"/><stop offset="0.871" stop-color="#2f6be7"/></linearGradient><linearGradient id="g147" gradientUnits="userSpaceOnUse" x1="0" y1="200" x2="0" y2="316"><stop offset="0.069" stop-color="#eeb436"/><stop offset="0.172" stop-color="#e0b73c"/><stop offset="0.224" stop-color="#d5b940"/><stop offset="0.276" stop-color="#b1be4f"/><stop offset="0.328" stop-color="#85c164"/><stop offset="0.388" stop-color="#4bbb8f"/><stop offset="0.448" stop-color="#2db6ae"/><stop offset="0.517" stop-color="#21b1c4"/><stop offset="0.586" stop-color="#1da8d1"/><stop offset="0.647" stop-color="#1b9fdb"/><stop offset="0.776" stop-color="#2582e7"/><stop offset="0.784" stop-color="#2680e8"/><stop offset="0.871" stop-color="#2b75e9"/></linearGradient><linearGradient id="g148" gradientUnits="userSpaceOnUse" x1="0" y1="200" x2="0" y2="316"><stop offset="0.069" stop-color="#d1ba41"/><stop offset="0.172" stop-color="#c7bc45"/><stop offset="0.224" stop-color="#bebd4a"/><stop offset="0.276" stop-color="#93c05d"/><stop offset="0.328" stop-color="#5ebd81"/><stop offset="0.388" stop-color="#31b7a7"/><stop offset="0.448" stop-color="#23b2c0"/><stop offset="0.517" stop-color="#1da9d0"/><stop offset="0.586" stop-color="#1b9fdc"/><stop offset="0.647" stop-color="#1e93e2"/><stop offset="0.776" stop-color="#2b75e9"/><stop offset="0.784" stop-color="#2c73e9"/><stop offset="0.871" stop-color="#2e6de7"/></linearGradient><linearGradient id="g149" gradientUnits="userSpaceOnUse" x1="0" y1="200" x2="0" y2="316"><stop offset="0.069" stop-color="#d8b93f"/><stop offset="0.172" stop-color="#d3ba41"/><stop offset="0.224" stop-color="#cfbb42"/><stop offset="0.276" stop-color="#a6bf54"/><stop offset="0.328" stop-color="#75bf70"/><stop offset="0.388" stop-color="#3eba99"/><stop offset="0.448" stop-color="#29b4b5"/><stop offset="0.517" stop-color="#1fafc9"/><stop offset="0.586" stop-color="#1ca5d5"/><stop offset="0.647" stop-color="#1a9be0"/><stop offset="0.776" stop-color="#277ee8"/><stop offset="0.784" stop-color="#287ce9"/><stop offset="0.871" stop-color="#2a79ea"/></linearGradient><linearGradient id="g150" gradientUnits="userSpaceOnUse" x1="0" y1="200" x2="0" y2="316"><stop offset="0.069" stop-color="#ccbb44"/><stop offset="0.172" stop-color="#ccbb44"/><stop offset="0.224" stop-color="#ccbb44"/><stop offset="0.276" stop-color="#a0bf57"/><stop offset="0.328" stop-color="#6dbe76"/><stop offset="0.388" stop-color="#37b99e"/><stop offset="0.448" stop-color="#27b3b9"/><stop offset="0.517" stop-color="#1eadcb"/><stop offset="0.586" stop-color="#1ca3d7"/><stop offset="0.647" stop-color="#1b99e1"/><stop offset="0.776" stop-color="#287ce9"/><stop offset="0.784" stop-color="#297ae9"/><stop offset="0.871" stop-color="#297ae9"/></linearGradient><linearGradient id="g151" gradientUnits="userSpaceOnUse" x1="0" y1="200" x2="0" y2="316"><stop offset="0.224" stop-color="#a3bf56"/><stop offset="0.328" stop-color="#4ebb8d"/><stop offset="0.448" stop-color="#25b2bd"/><stop offset="0.474" stop-color="#22b1c3"/><stop offset="0.560" stop-color="#1ca5d5"/><stop offset="0.586" stop-color="#1ba1da"/><stop offset="0.724" stop-color="#2485e6"/><stop offset="0.784" stop-color="#297ae9"/></linearGradient><linearGradient id="g152" gradientUnits="userSpaceOnUse" x1="0" y1="200" x2="0" y2="316"><stop offset="0.224" stop-color="#6ebe76"/><stop offset="0.328" stop-color="#32b8a6"/><stop offset="0.448" stop-color="#20b1c5"/><stop offset="0.474" stop-color="#1fafc9"/><stop offset="0.560" stop-color="#1ba0da"/><stop offset="0.586" stop-color="#1a9cde"/><stop offset="0.724" stop-color="#277fe8"/><stop offset="0.784" stop-color="#2a77ea"/></linearGradient><linearGradient id="g153" gradientUnits="userSpaceOnUse" x1="0" y1="200" x2="0" y2="316"><stop offset="0.224" stop-color="#52bc8a"/><stop offset="0.328" stop-color="#30b7a8"/><stop offset="0.448" stop-color="#25b2bd"/><stop offset="0.474" stop-color="#23b2c0"/><stop offset="0.560" stop-color="#1ca5d5"/><stop offset="0.586" stop-color="#1ba1d9"/><stop offset="0.724" stop-color="#2485e6"/><stop offset="0.784" stop-color="#2680e8"/></linearGradient><linearGradient id="g154" gradientUnits="userSpaceOnUse" x1="0" y1="200" x2="0" y2="316"><stop offset="0.224" stop-color="#31b7a8"/><stop offset="0.328" stop-color="#2ab5b3"/><stop offset="0.448" stop-color="#25b2be"/><stop offset="0.474" stop-color="#24b2bf"/><stop offset="0.560" stop-color="#1ca5d5"/><stop offset="0.586" stop-color="#1ba1da"/><stop offset="0.724" stop-color="#2485e6"/><stop offset="0.784" stop-color="#2582e7"/></linearGradient><linearGradient id="g155" gradientUnits="userSpaceOnUse" x1="0" y1="200" x2="0" y2="316"><stop offset="0.224" stop-color="#1eabcd"/><stop offset="0.328" stop-color="#1eabcd"/><stop offset="0.448" stop-color="#1eabcd"/><stop offset="0.474" stop-color="#1eabcd"/><stop offset="0.560" stop-color="#1a9ae0"/><stop offset="0.586" stop-color="#1d95e2"/><stop offset="0.724" stop-color="#2a77ea"/><stop offset="0.784" stop-color="#2a77ea"/></linearGradient><linearGradient id="g156" gradientUnits="userSpaceOnUse" x1="0" y1="200" x2="0" y2="316"><stop offset="0.431" stop-color="#27b3b9"/><stop offset="0.474" stop-color="#25b2be"/><stop offset="0.517" stop-color="#1eaccd"/><stop offset="0.560" stop-color="#1ca3d7"/><stop offset="0.603" stop-color="#1a9cdf"/><stop offset="0.664" stop-color="#218be5"/><stop offset="0.724" stop-color="#2680e8"/></linearGradient><linearGradient id="g157" gradientUnits="userSpaceOnUse" x1="0" y1="200" x2="0" y2="316"><stop offset="0.431" stop-color="#26b3bb"/><stop offset="0.474" stop-color="#21b1c4"/><stop offset="0.517" stop-color="#1da8d1"/><stop offset="0.560" stop-color="#1b9fdc"/><stop offset="0.603" stop-color="#1d95e2"/><stop offset="0.664" stop-color="#277fe8"/><stop offset="0.724" stop-color="#2a77ea"/></linearGradient><linearGradient id="g158" gradientUnits="userSpaceOnUse" x1="0" y1="200" x2="0" y2="316"><stop offset="0.431" stop-color="#4cbb8f"/><stop offset="0.474" stop-color="#33b8a3"/><stop offset="0.517" stop-color="#28b4b8"/><stop offset="0.560" stop-color="#1fafc9"/><stop offset="0.603" stop-color="#1da6d4"/><stop offset="0.664" stop-color="#1f90e3"/><stop offset="0.724" stop-color="#218be5"/></linearGradient><linearGradient id="g159" gradientUnits="userSpaceOnUse" x1="0" y1="200" x2="0" y2="316"><stop offset="0.431" stop-color="#6dbe76"/><stop offset="0.474" stop-color="#45bb94"/><stop offset="0.517" stop-color="#2db6ae"/><stop offset="0.560" stop-color="#22b1c2"/><stop offset="0.603" stop-color="#1daacf"/><stop offset="0.664" stop-color="#1f91e3"/><stop offset="0.724" stop-color="#208ee4"/></linearGradient><linearGradient id="g160" gradientUnits="userSpaceOnUse" x1="0" y1="200" x2="0" y2="316"><stop offset="0.431" stop-color="#a1bf57"/><stop offset="0.474" stop-color="#77bf6f"/><stop offset="0.517" stop-color="#45bb94"/><stop offset="0.560" stop-color="#2eb6ac"/><stop offset="0.603" stop-color="#23b2c0"/><stop offset="0.664" stop-color="#1a9be0"/><stop offset="0.724" stop-color="#1a9be0"/></linearGradient><linearGradient id="g161" gradientUnits="userSpaceOnUse" x1="0" y1="200" x2="0" y2="316"><stop offset="0.293" stop-color="#a8bf54"/><stop offset="0.388" stop-color="#9ebf58"/><stop offset="0.431" stop-color="#97c05b"/><stop offset="0.474" stop-color="#67be7b"/><stop offset="0.517" stop-color="#34b9a1"/><stop offset="0.534" stop-color="#30b7aa"/><stop offset="0.603" stop-color="#20b1c6"/><stop offset="0.664" stop-color="#1a9be0"/></linearGradient><linearGradient id="g162" gradientUnits="userSpaceOnUse" x1="0" y1="200" x2="0" y2="316"><stop offset="0.293" stop-color="#9cbf59"/><stop offset="0.388" stop-color="#87c163"/><stop offset="0.431" stop-color="#75bf70"/><stop offset="0.474" stop-color="#3fba98"/><stop offset="0.517" stop-color="#29b4b6"/><stop offset="0.534" stop-color="#24b2bf"/><stop offset="0.603" stop-color="#1da8d1"/><stop offset="0.664" stop-color="#1d94e2"/></linearGradient><linearGradient id="g163" gradientUnits="userSpaceOnUse" x1="0" y1="200" x2="0" y2="316"><stop offset="0.293" stop-color="#b0be50"/><stop offset="0.388" stop-color="#92c05e"/><stop offset="0.431" stop-color="#7ac06d"/><stop offset="0.474" stop-color="#41ba97"/><stop offset="0.517" stop-color="#29b4b6"/><stop offset="0.534" stop-color="#23b2c0"/><stop offset="0.603" stop-color="#1eaacf"/><stop offset="0.664" stop-color="#1a9be0"/></linearGradient><linearGradient id="g164" gradientUnits="userSpaceOnUse" x1="0" y1="200" x2="0" y2="316"><stop offset="0.293" stop-color="#cdbb43"/><stop offset="0.388" stop-color="#a5bf55"/><stop offset="0.431" stop-color="#8ac161"/><stop offset="0.474" stop-color="#50bc8c"/><stop offset="0.517" stop-color="#2cb5b1"/><stop offset="0.534" stop-color="#26b3bc"/><stop offset="0.603" stop-color="#1fafca"/><stop offset="0.664" stop-color="#1ca3d7"/></linearGradient><linearGradient id="g165" gradientUnits="userSpaceOnUse" x1="0" y1="200" x2="0" y2="316"><stop offset="0.293" stop-color="#bcbd4a"/><stop offset="0.388" stop-color="#89c161"/><stop offset="0.431" stop-color="#5dbd82"/><stop offset="0.474" stop-color="#30b7aa"/><stop offset="0.517" stop-color="#1fb0c8"/><stop offset="0.534" stop-color="#1da9d0"/><stop offset="0.603" stop-color="#1ca4d6"/><stop offset="0.664" stop-color="#1a9be0"/></linearGradient><linearGradient id="g166" gradientUnits="userSpaceOnUse" x1="0" y1="200" x2="0" y2="316"><stop offset="0.293" stop-color="#dbb83d"/><stop offset="0.388" stop-color="#a5bf55"/><stop offset="0.431" stop-color="#78bf6e"/><stop offset="0.474" stop-color="#39b99d"/><stop offset="0.517" stop-color="#24b2be"/><stop offset="0.534" stop-color="#1fafca"/><stop offset="0.603" stop-color="#1eabce"/><stop offset="0.664" stop-color="#1da6d3"/></linearGradient><linearGradient id="g167" gradientUnits="userSpaceOnUse" x1="0" y1="200" x2="0" y2="316"><stop offset="0.293" stop-color="#dcb83d"/><stop offset="0.388" stop-color="#9bc059"/><stop offset="0.431" stop-color="#62bd7e"/><stop offset="0.474" stop-color="#30b7aa"/><stop offset="0.517" stop-color="#1faeca"/><stop offset="0.534" stop-color="#1da7d2"/><stop offset="0.603" stop-color="#1da6d3"/><stop offset="0.664" stop-color="#1ca5d5"/></linearGradient><linearGradient id="g168" gradientUnits="userSpaceOnUse" x1="0" y1="200" x2="0" y2="316"><stop offset="0.293" stop-color="#ddb83d"/><stop offset="0.388" stop-color="#9fbf57"/><stop offset="0.397" stop-color="#96c05c"/><stop offset="0.422" stop-color="#72bf72"/><stop offset="0.474" stop-color="#32b8a5"/><stop offset="0.534" stop-color="#1eaccd"/></linearGradient><linearGradient id="g169" gradientUnits="userSpaceOnUse" x1="0" y1="200" x2="0" y2="316"><stop offset="0.293" stop-color="#d6b93f"/><stop offset="0.388" stop-color="#a5bf55"/><stop offset="0.397" stop-color="#9ebf58"/><stop offset="0.422" stop-color="#7cc06b"/><stop offset="0.474" stop-color="#45ba94"/><stop offset="0.534" stop-color="#27b3ba"/></linearGradient><linearGradient id="g170" gradientUnits="userSpaceOnUse" x1="0" y1="200" x2="0" y2="316"><stop offset="0.293" stop-color="#ecb437"/><stop offset="0.388" stop-color="#d0ba42"/><stop offset="0.397" stop-color="#ccbb43"/><stop offset="0.422" stop-color="#aebe51"/><stop offset="0.474" stop-color="#8fc05f"/><stop offset="0.534" stop-color="#60bd80"/></linearGradient><linearGradient id="g171" gradientUnits="userSpaceOnUse" x1="0" y1="200" x2="0" y2="316"><stop offset="0.293" stop-color="#cfba42"/><stop offset="0.388" stop-color="#bbbd4b"/><stop offset="0.397" stop-color="#b8bd4c"/><stop offset="0.422" stop-color="#98c05b"/><stop offset="0.474" stop-color="#85c164"/><stop offset="0.534" stop-color="#67be7b"/></linearGradient><linearGradient id="g172" gradientUnits="userSpaceOnUse" x1="0" y1="200" x2="0" y2="316"><stop offset="0.293" stop-color="#cfbb42"/><stop offset="0.388" stop-color="#c9bc44"/><stop offset="0.397" stop-color="#c9bc45"/><stop offset="0.422" stop-color="#a9be53"/><stop offset="0.474" stop-color="#a3bf56"/><stop offset="0.534" stop-color="#9bc059"/></linearGradient><linearGradient id="g173" gradientUnits="userSpaceOnUse" x1="0" y1="200" x2="0" y2="316"><stop offset="0.397" stop-color="#d2ba41"/><stop offset="0.422" stop-color="#b6bd4d"/></linearGradient><clipPath id="tc7"><polygon points="300.0,200.0 318.0,195.0 335.0,215.0 330.0,235.0 315.0,250.0 305.0,270.0 300.0,295.0 285.0,300.0 280.0,280.0 285.0,255.0 295.0,235.0"/></clipPath><clipPath id="tc8"><polygon points="237.0,258.0 285.0,255.0 290.0,285.0 275.0,290.0 237.0,287.0"/></clipPath><clipPath id="tc9"><polygon points="285.0,215.0 305.0,200.0 320.0,210.0 330.0,230.0 315.0,250.0 300.0,275.0 290.0,290.0 280.0,280.0 278.0,250.0"/></clipPath><clipPath id="tc10"><polygon points="237.0,258.0 285.0,255.0 290.0,285.0 275.0,290.0 237.0,287.0"/></clipPath><clipPath id="tc11"><polygon points="300.0,265.0 340.0,260.0 380.0,265.0 395.0,272.0 360.0,300.0 320.0,330.0 305.0,330.0"/></clipPath><clipPath id="clip3"><polygon points="20.1,398.8 21.6,399.3 23.0,400.2 24.5,399.9 26.0,397.2 27.4,400.5 28.9,399.7 30.4,398.7 31.8,399.0 33.3,397.5 34.8,397.8 36.2,399.5 37.7,399.5 39.2,399.1 40.6,396.5 42.1,398.0 42.7,402.4 43.4,400.6 44.0,403.2 44.8,400.2 45.7,401.1 46.5,399.9 47.7,399.7 48.8,400.5 50.0,401.7 51.0,401.7 52.0,404.4 53.0,407.1 53.7,406.9 54.3,409.4 55.0,411.5 56.0,412.6 57.0,410.4 58.0,413.0 60.0,413.1 61.5,413.5 63.0,414.7 64.0,416.8 65.0,413.0 66.0,412.4 67.0,409.3 68.5,411.6 70.0,407.2 71.2,407.3 72.5,408.2 73.8,406.1 75.0,406.1 77.0,404.5 78.5,405.3 80.0,408.6 81.2,408.0 82.5,411.6 83.8,410.7 85.0,412.4 86.5,410.6 88.0,407.3 89.3,408.3 90.7,411.3 92.0,412.1 93.0,412.7 94.0,412.0 95.0,412.9 96.5,412.6 98.0,414.3 99.2,414.4 100.5,413.7 101.8,414.5 103.0,415.2 103.8,413.6 104.6,414.8 105.4,411.8 106.2,409.4 107.0,410.7 108.0,407.3 109.0,407.6 110.0,405.7 111.7,404.2 113.3,403.7 115.0,405.3 116.5,404.5 118.0,407.4 118.8,403.7 119.6,403.1 120.4,402.6 121.2,402.0 122.0,399.4 123.0,399.8 124.0,396.7 125.0,400.8 125.4,403.0 125.9,402.1 126.3,402.0 126.7,406.3 127.1,407.0 127.6,408.2 128.0,410.0 130.0,409.5 132.0,409.5 133.0,410.6 134.0,409.8 135.0,411.8 136.0,411.9 137.0,414.3 138.0,414.9 139.0,414.9 140.0,416.5 141.0,417.4 142.0,418.9 143.0,420.4 145.0,417.8 146.5,418.8 148.0,421.1 150.0,418.3 151.5,421.1 153.0,423.1 154.5,422.4 156.0,422.2 158.0,423.8 158.5,422.6 159.0,419.6 159.5,418.8 160.0,419.2 160.7,415.7 161.3,414.5 162.0,410.6 163.5,412.8 165.0,413.6 165.2,414.1 165.5,415.2 165.8,419.0 166.0,421.2 166.2,420.8 166.4,423.8 166.6,423.4 166.8,426.8 167.0,426.0 167.5,426.6 168.0,429.3 168.5,432.1 169.0,430.5 169.5,432.5 170.0,435.8 171.0,435.4 172.0,438.4 173.0,438.4 174.0,439.6 175.0,440.6 176.7,440.9 178.3,440.4 180.0,439.8 181.7,440.6 183.3,441.8 185.0,439.7 186.7,441.1 188.3,443.1 190.0,439.9 191.5,442.2 193.0,443.8 193.7,444.2 194.3,445.3 195.0,447.9 195.0,447.5 195.0,447.9 195.0,451.9 195.0,451.8 195.0,455.1 195.0,455.5 195.0,457.0 195.0,457.1 195.0,460.5 195.0,460.0 195.0,463.8 195.0,462.1 195.0,465.5 194.0,464.0 191.5,466.0 189.9,465.5 188.2,464.7 186.6,466.1 185.0,466.2 182.7,466.8 181.5,468.7 180.3,469.3 179.2,469.4 178.0,471.5 176.7,472.5 175.5,473.2 174.2,472.3 173.0,474.8 171.7,474.4 170.2,474.5 168.8,474.6 167.3,472.2 166.2,473.5 165.0,475.9 164.1,476.5 163.3,478.1 162.4,477.5 161.6,479.7 160.7,480.7 158.8,480.6 157.0,478.1 156.2,477.4 155.4,476.3 154.6,474.2 153.8,473.9 153.0,472.6 152.0,470.7 151.0,470.3 150.0,468.8 149.0,466.8 148.0,466.0 147.0,466.4 146.0,465.6 145.0,465.1 144.4,462.7 143.9,460.5 143.3,459.6 142.7,460.2 142.0,461.5 141.4,463.3 140.8,464.2 140.1,465.1 139.5,465.9 138.8,467.9 138.2,469.3 137.3,470.2 136.5,472.8 135.6,472.7 134.8,474.5 133.9,475.6 133.0,477.6 132.2,478.8 131.3,480.4 130.1,480.6 128.8,481.1 128.2,483.4 127.5,483.6 126.9,485.1 126.2,485.3 125.1,486.4 123.9,487.8 122.8,489.5 122.2,489.5 121.6,491.9 121.0,493.8 120.3,494.4 119.7,495.0 119.1,496.3 118.5,498.7 117.3,499.6 116.2,499.4 115.0,501.2 113.3,502.0 111.7,501.0 110.0,501.3 108.6,503.7 107.1,503.6 105.7,503.6 104.3,502.3 102.9,504.5 101.4,504.5 100.0,503.6 98.6,503.2 97.1,505.3 95.7,505.2 94.3,505.4 92.9,505.8 91.4,505.6 90.0,504.1 88.8,506.2 87.5,505.9 86.2,507.2 85.0,509.4 84.2,510.5 83.5,510.5 82.8,512.4 82.0,513.5 80.0,514.6 78.0,513.1 76.5,512.0 75.0,511.4 73.8,510.0 72.5,509.4 71.2,507.8 70.0,508.0 69.0,505.4 68.0,504.3 67.0,504.3 66.0,501.9 64.7,501.3 63.3,500.3 62.0,499.7 60.5,499.9 59.0,499.7 57.5,499.3 56.0,497.8 54.7,497.8 53.3,496.1 52.0,495.6 50.7,496.5 49.3,496.9 48.0,499.1 46.5,500.6 46.4,498.4 46.3,497.9 46.2,494.9 46.1,493.6 46.0,493.2 45.3,492.4 44.7,490.4 44.0,489.0 43.8,487.2 43.6,486.8 43.5,484.9 43.3,483.1 43.1,482.3 42.9,481.4 42.7,479.2 42.5,476.4 42.4,475.0 42.2,473.3 42.0,471.7 41.4,472.5 40.9,470.6 40.3,468.4 39.7,466.9 39.1,466.4 38.6,464.8 38.0,462.5 37.4,460.7 36.8,459.8 36.2,458.7 35.6,456.9 35.0,454.4 34.5,453.4 34.0,453.4 33.5,452.5 33.0,450.0 32.7,448.7 32.5,447.9 32.2,446.2 31.9,444.1 31.6,443.3 31.4,442.4 31.1,440.5 30.8,438.0 30.5,436.6 30.3,435.3 30.0,433.7 29.4,432.9 28.8,431.7 28.2,429.4 27.6,429.3 27.0,426.8 26.3,425.0 25.7,423.2 25.0,422.8 24.5,420.1 24.0,418.6 23.5,416.0 23.0,414.1 22.6,413.8 22.2,412.0 21.8,411.0 21.4,407.9 21.0,407.6"/></clipPath><linearGradient id="g174" gradientUnits="userSpaceOnUse" x1="0" y1="395" x2="0" y2="517"><stop offset="0.033" stop-color="#efb735"/><stop offset="0.205" stop-color="#eeb536"/><stop offset="0.320" stop-color="#e7b539"/></linearGradient><linearGradient id="g175" gradientUnits="userSpaceOnUse" x1="0" y1="395" x2="0" y2="517"><stop offset="0.033" stop-color="#eeb436"/><stop offset="0.205" stop-color="#eab537"/><stop offset="0.320" stop-color="#e1b73b"/></linearGradient><linearGradient id="g176" gradientUnits="userSpaceOnUse" x1="0" y1="395" x2="0" y2="517"><stop offset="0.033" stop-color="#f1bc33"/><stop offset="0.205" stop-color="#f0ba34"/><stop offset="0.287" stop-color="#efb735"/><stop offset="0.320" stop-color="#efb635"/><stop offset="0.410" stop-color="#ecb437"/><stop offset="0.533" stop-color="#dfb73c"/></linearGradient><linearGradient id="g177" gradientUnits="userSpaceOnUse" x1="0" y1="395" x2="0" y2="517"><stop offset="0.033" stop-color="#ecb437"/><stop offset="0.205" stop-color="#e6b639"/><stop offset="0.287" stop-color="#e0b73c"/><stop offset="0.320" stop-color="#dab83e"/><stop offset="0.410" stop-color="#cfba42"/><stop offset="0.533" stop-color="#aebe51"/></linearGradient><linearGradient id="g178" gradientUnits="userSpaceOnUse" x1="0" y1="395" x2="0" y2="517"><stop offset="0.033" stop-color="#f1bb33"/><stop offset="0.205" stop-color="#efb835"/><stop offset="0.287" stop-color="#eeb536"/><stop offset="0.320" stop-color="#eab538"/><stop offset="0.410" stop-color="#d9b83e"/><stop offset="0.533" stop-color="#aabe52"/></linearGradient><linearGradient id="g179" gradientUnits="userSpaceOnUse" x1="0" y1="395" x2="0" y2="517"><stop offset="0.033" stop-color="#f0b834"/><stop offset="0.205" stop-color="#eeb536"/><stop offset="0.287" stop-color="#eab538"/><stop offset="0.320" stop-color="#e1b73b"/><stop offset="0.410" stop-color="#ccbb44"/><stop offset="0.533" stop-color="#85c164"/></linearGradient><linearGradient id="g180" gradientUnits="userSpaceOnUse" x1="0" y1="395" x2="0" y2="517"><stop offset="0.033" stop-color="#ebb537"/><stop offset="0.205" stop-color="#e3b63a"/><stop offset="0.287" stop-color="#deb73c"/><stop offset="0.320" stop-color="#d3ba40"/><stop offset="0.410" stop-color="#b3be4e"/><stop offset="0.533" stop-color="#4dbb8e"/></linearGradient><linearGradient id="g181" gradientUnits="userSpaceOnUse" x1="0" y1="395" x2="0" y2="517"><stop offset="0.033" stop-color="#f0ba34"/><stop offset="0.205" stop-color="#efb635"/><stop offset="0.287" stop-color="#eeb436"/><stop offset="0.320" stop-color="#e3b63b"/><stop offset="0.410" stop-color="#c1bd48"/><stop offset="0.533" stop-color="#47bb92"/></linearGradient><linearGradient id="g182" gradientUnits="userSpaceOnUse" x1="0" y1="395" x2="0" y2="517"><stop offset="0.033" stop-color="#e9b538"/><stop offset="0.041" stop-color="#e9b538"/><stop offset="0.246" stop-color="#dab83e"/><stop offset="0.287" stop-color="#d5b940"/><stop offset="0.369" stop-color="#aebe51"/><stop offset="0.410" stop-color="#97c05b"/><stop offset="0.492" stop-color="#39b99d"/><stop offset="0.533" stop-color="#29b4b5"/><stop offset="0.615" stop-color="#27b3b9"/><stop offset="0.779" stop-color="#24b2bf"/><stop offset="0.861" stop-color="#23b1c2"/></linearGradient><linearGradient id="g183" gradientUnits="userSpaceOnUse" x1="0" y1="395" x2="0" y2="517"><stop offset="0.033" stop-color="#efb735"/><stop offset="0.041" stop-color="#efb735"/><stop offset="0.246" stop-color="#dfb73c"/><stop offset="0.287" stop-color="#d7b93f"/><stop offset="0.369" stop-color="#acbe52"/><stop offset="0.410" stop-color="#93c05d"/><stop offset="0.492" stop-color="#36b9a0"/><stop offset="0.533" stop-color="#29b4b6"/><stop offset="0.615" stop-color="#23b2c1"/><stop offset="0.779" stop-color="#1eabce"/><stop offset="0.861" stop-color="#1da6d3"/></linearGradient><linearGradient id="g184" gradientUnits="userSpaceOnUse" x1="0" y1="395" x2="0" y2="517"><stop offset="0.033" stop-color="#e5b63a"/><stop offset="0.041" stop-color="#e5b63a"/><stop offset="0.246" stop-color="#c7bc46"/><stop offset="0.287" stop-color="#b6bd4d"/><stop offset="0.369" stop-color="#82c067"/><stop offset="0.410" stop-color="#5ebd82"/><stop offset="0.492" stop-color="#27b3ba"/><stop offset="0.533" stop-color="#1eaccc"/><stop offset="0.615" stop-color="#1ca2d7"/><stop offset="0.779" stop-color="#1f91e3"/><stop offset="0.861" stop-color="#2387e6"/></linearGradient><linearGradient id="g185" gradientUnits="userSpaceOnUse" x1="0" y1="395" x2="0" y2="517"><stop offset="0.033" stop-color="#e3b63a"/><stop offset="0.041" stop-color="#e3b63b"/><stop offset="0.246" stop-color="#babd4b"/><stop offset="0.287" stop-color="#a5bf55"/><stop offset="0.369" stop-color="#66be7b"/><stop offset="0.410" stop-color="#3fba99"/><stop offset="0.492" stop-color="#1fb0c7"/><stop offset="0.533" stop-color="#1da6d4"/><stop offset="0.615" stop-color="#1c97e1"/><stop offset="0.779" stop-color="#297ae9"/><stop offset="0.861" stop-color="#2e6de7"/></linearGradient><linearGradient id="g186" gradientUnits="userSpaceOnUse" x1="0" y1="395" x2="0" y2="517"><stop offset="0.033" stop-color="#edb437"/><stop offset="0.041" stop-color="#edb437"/><stop offset="0.246" stop-color="#bebd4a"/><stop offset="0.287" stop-color="#a3bf56"/><stop offset="0.369" stop-color="#60bd80"/><stop offset="0.410" stop-color="#35b9a0"/><stop offset="0.492" stop-color="#1faeca"/><stop offset="0.533" stop-color="#1ca4d5"/><stop offset="0.615" stop-color="#1f8fe3"/><stop offset="0.779" stop-color="#2f6be7"/><stop offset="0.861" stop-color="#365ae3"/></linearGradient><linearGradient id="g187" gradientUnits="userSpaceOnUse" x1="0" y1="395" x2="0" y2="517"><stop offset="0.041" stop-color="#f0b834"/><stop offset="0.082" stop-color="#eeb436"/><stop offset="0.246" stop-color="#c6bc46"/><stop offset="0.369" stop-color="#63bd7e"/><stop offset="0.492" stop-color="#1fafc9"/><stop offset="0.615" stop-color="#1f8fe3"/><stop offset="0.656" stop-color="#2485e6"/><stop offset="0.779" stop-color="#3068e6"/><stop offset="0.844" stop-color="#3659e2"/><stop offset="0.861" stop-color="#3855e2"/></linearGradient><linearGradient id="g188" gradientUnits="userSpaceOnUse" x1="0" y1="395" x2="0" y2="517"><stop offset="0.041" stop-color="#d7b93f"/><stop offset="0.082" stop-color="#d1ba42"/><stop offset="0.246" stop-color="#95c05c"/><stop offset="0.369" stop-color="#30b7a9"/><stop offset="0.492" stop-color="#1b9fdb"/><stop offset="0.615" stop-color="#297be9"/><stop offset="0.656" stop-color="#2d71e8"/><stop offset="0.779" stop-color="#3756e2"/><stop offset="0.844" stop-color="#3a49d4"/><stop offset="0.861" stop-color="#3a47cf"/></linearGradient><linearGradient id="g189" gradientUnits="userSpaceOnUse" x1="0" y1="395" x2="0" y2="517"><stop offset="0.041" stop-color="#d5b940"/><stop offset="0.082" stop-color="#d0ba42"/><stop offset="0.246" stop-color="#8dc160"/><stop offset="0.369" stop-color="#2db6af"/><stop offset="0.492" stop-color="#1a9dde"/><stop offset="0.615" stop-color="#297aea"/><stop offset="0.656" stop-color="#2d70e8"/><stop offset="0.779" stop-color="#3855e1"/><stop offset="0.844" stop-color="#3a49d3"/><stop offset="0.861" stop-color="#3a47d0"/></linearGradient><linearGradient id="g190" gradientUnits="userSpaceOnUse" x1="0" y1="395" x2="0" y2="517"><stop offset="0.041" stop-color="#dfb73c"/><stop offset="0.082" stop-color="#dcb83d"/><stop offset="0.246" stop-color="#95c05c"/><stop offset="0.369" stop-color="#2fb7ab"/><stop offset="0.492" stop-color="#1b9fdb"/><stop offset="0.615" stop-color="#277fe8"/><stop offset="0.656" stop-color="#2b75e9"/><stop offset="0.779" stop-color="#355be3"/><stop offset="0.844" stop-color="#3a4edd"/><stop offset="0.861" stop-color="#3a4ddb"/></linearGradient><linearGradient id="g191" gradientUnits="userSpaceOnUse" x1="0" y1="395" x2="0" y2="517"><stop offset="0.041" stop-color="#e5b639"/><stop offset="0.082" stop-color="#e4b63a"/><stop offset="0.246" stop-color="#99c05b"/><stop offset="0.369" stop-color="#30b7a9"/><stop offset="0.492" stop-color="#1ba0da"/><stop offset="0.615" stop-color="#2583e7"/><stop offset="0.656" stop-color="#2a79ea"/><stop offset="0.779" stop-color="#345fe4"/><stop offset="0.844" stop-color="#3952e1"/><stop offset="0.861" stop-color="#3951e1"/></linearGradient><linearGradient id="g192" gradientUnits="userSpaceOnUse" x1="0" y1="395" x2="0" y2="517"><stop offset="0.082" stop-color="#d3ba41"/><stop offset="0.139" stop-color="#babd4b"/><stop offset="0.246" stop-color="#76bf70"/><stop offset="0.369" stop-color="#26b3bc"/><stop offset="0.492" stop-color="#1c97e1"/><stop offset="0.533" stop-color="#218de4"/><stop offset="0.656" stop-color="#2e6fe8"/><stop offset="0.697" stop-color="#3167e6"/><stop offset="0.844" stop-color="#3a4ad6"/><stop offset="0.885" stop-color="#3a49d4"/></linearGradient><linearGradient id="g193" gradientUnits="userSpaceOnUse" x1="0" y1="395" x2="0" y2="517"><stop offset="0.082" stop-color="#c8bc45"/><stop offset="0.139" stop-color="#b2be4f"/><stop offset="0.246" stop-color="#5dbd82"/><stop offset="0.369" stop-color="#20b1c5"/><stop offset="0.492" stop-color="#1e92e2"/><stop offset="0.533" stop-color="#2388e5"/><stop offset="0.656" stop-color="#2f6ce7"/><stop offset="0.697" stop-color="#3263e5"/><stop offset="0.844" stop-color="#3a47cf"/><stop offset="0.885" stop-color="#3a44cb"/></linearGradient><linearGradient id="g194" gradientUnits="userSpaceOnUse" x1="0" y1="395" x2="0" y2="517"><stop offset="0.082" stop-color="#dab83e"/><stop offset="0.139" stop-color="#cebb42"/><stop offset="0.246" stop-color="#76bf70"/><stop offset="0.369" stop-color="#28b4b7"/><stop offset="0.492" stop-color="#1b9edc"/><stop offset="0.533" stop-color="#1d95e2"/><stop offset="0.656" stop-color="#2a79ea"/><stop offset="0.697" stop-color="#2d71e8"/><stop offset="0.844" stop-color="#3951e0"/><stop offset="0.885" stop-color="#3a4cdb"/></linearGradient><linearGradient id="g195" gradientUnits="userSpaceOnUse" x1="0" y1="395" x2="0" y2="517"><stop offset="0.082" stop-color="#acbe52"/><stop offset="0.139" stop-color="#a2bf56"/><stop offset="0.246" stop-color="#32b8a5"/><stop offset="0.369" stop-color="#1da7d2"/><stop offset="0.492" stop-color="#228ae5"/><stop offset="0.533" stop-color="#277fe8"/><stop offset="0.656" stop-color="#3165e5"/><stop offset="0.697" stop-color="#355de3"/><stop offset="0.844" stop-color="#3a40c2"/><stop offset="0.885" stop-color="#3b3bb8"/></linearGradient><linearGradient id="g196" gradientUnits="userSpaceOnUse" x1="0" y1="395" x2="0" y2="517"><stop offset="0.082" stop-color="#cebb43"/><stop offset="0.139" stop-color="#ccbb44"/><stop offset="0.246" stop-color="#53bc89"/><stop offset="0.369" stop-color="#22b1c3"/><stop offset="0.492" stop-color="#1a9cdf"/><stop offset="0.533" stop-color="#1e92e3"/><stop offset="0.656" stop-color="#2a77ea"/><stop offset="0.697" stop-color="#2d6fe8"/><stop offset="0.844" stop-color="#3a4edd"/><stop offset="0.885" stop-color="#3a47d0"/></linearGradient><linearGradient id="g197" gradientUnits="userSpaceOnUse" x1="0" y1="395" x2="0" y2="517"><stop offset="0.090" stop-color="#b6bd4d"/><stop offset="0.139" stop-color="#b3be4e"/><stop offset="0.205" stop-color="#6abe79"/><stop offset="0.246" stop-color="#34b9a1"/><stop offset="0.369" stop-color="#1eabce"/><stop offset="0.492" stop-color="#1f91e3"/><stop offset="0.533" stop-color="#2386e6"/><stop offset="0.656" stop-color="#2f6ce7"/><stop offset="0.697" stop-color="#3264e5"/><stop offset="0.820" stop-color="#3a49d3"/><stop offset="0.885" stop-color="#3b3dbc"/><stop offset="0.959" stop-color="#3b3cb9"/></linearGradient><linearGradient id="g198" gradientUnits="userSpaceOnUse" x1="0" y1="395" x2="0" y2="517"><stop offset="0.090" stop-color="#b8bd4c"/><stop offset="0.139" stop-color="#b2be4f"/><stop offset="0.205" stop-color="#72bf72"/><stop offset="0.246" stop-color="#3fba99"/><stop offset="0.369" stop-color="#1eadcb"/><stop offset="0.492" stop-color="#1f91e3"/><stop offset="0.533" stop-color="#2386e6"/><stop offset="0.656" stop-color="#2f6ae7"/><stop offset="0.697" stop-color="#3362e5"/><stop offset="0.820" stop-color="#3a47d0"/><stop offset="0.885" stop-color="#3b3bb8"/><stop offset="0.959" stop-color="#3b37b1"/></linearGradient><linearGradient id="g199" gradientUnits="userSpaceOnUse" x1="0" y1="395" x2="0" y2="517"><stop offset="0.090" stop-color="#c1bd48"/><stop offset="0.139" stop-color="#b6bd4d"/><stop offset="0.205" stop-color="#83c166"/><stop offset="0.246" stop-color="#54bc89"/><stop offset="0.369" stop-color="#21b1c4"/><stop offset="0.492" stop-color="#1d94e2"/><stop offset="0.533" stop-color="#2289e5"/><stop offset="0.656" stop-color="#2f6ce7"/><stop offset="0.697" stop-color="#3262e5"/><stop offset="0.820" stop-color="#3a47d0"/><stop offset="0.885" stop-color="#3b3bb9"/><stop offset="0.959" stop-color="#3b35ad"/></linearGradient><linearGradient id="g200" gradientUnits="userSpaceOnUse" x1="0" y1="395" x2="0" y2="517"><stop offset="0.090" stop-color="#d2ba41"/><stop offset="0.139" stop-color="#c6bc46"/><stop offset="0.205" stop-color="#9cbf59"/><stop offset="0.246" stop-color="#77bf6f"/><stop offset="0.369" stop-color="#2ab4b5"/><stop offset="0.492" stop-color="#1a9cdf"/><stop offset="0.533" stop-color="#1e91e3"/><stop offset="0.656" stop-color="#2d71e8"/><stop offset="0.697" stop-color="#3068e6"/><stop offset="0.820" stop-color="#3a4bd8"/><stop offset="0.885" stop-color="#3a40c1"/><stop offset="0.959" stop-color="#3b37b0"/></linearGradient><linearGradient id="g201" gradientUnits="userSpaceOnUse" x1="0" y1="395" x2="0" y2="517"><stop offset="0.090" stop-color="#edb437"/><stop offset="0.139" stop-color="#deb73c"/><stop offset="0.205" stop-color="#c4bc47"/><stop offset="0.246" stop-color="#a6bf54"/><stop offset="0.369" stop-color="#40ba98"/><stop offset="0.492" stop-color="#1da7d2"/><stop offset="0.533" stop-color="#1b9fdb"/><stop offset="0.656" stop-color="#277fe8"/><stop offset="0.697" stop-color="#2c74e9"/><stop offset="0.820" stop-color="#3756e2"/><stop offset="0.885" stop-color="#3a49d4"/><stop offset="0.959" stop-color="#3b3ebe"/></linearGradient><linearGradient id="g202" gradientUnits="userSpaceOnUse" x1="0" y1="395" x2="0" y2="517"><stop offset="0.090" stop-color="#d7b93f"/><stop offset="0.123" stop-color="#cebb43"/><stop offset="0.205" stop-color="#acbe52"/><stop offset="0.287" stop-color="#70bf74"/><stop offset="0.369" stop-color="#31b7a8"/><stop offset="0.410" stop-color="#25b2bd"/><stop offset="0.492" stop-color="#1b9fdb"/><stop offset="0.533" stop-color="#1d95e2"/><stop offset="0.656" stop-color="#2c72e9"/><stop offset="0.697" stop-color="#3068e6"/><stop offset="0.820" stop-color="#3a4ad7"/><stop offset="0.861" stop-color="#3a43c9"/><stop offset="0.943" stop-color="#3b35ac"/><stop offset="0.959" stop-color="#3b32a7"/></linearGradient><linearGradient id="g203" gradientUnits="userSpaceOnUse" x1="0" y1="395" x2="0" y2="517"><stop offset="0.090" stop-color="#e5b63a"/><stop offset="0.123" stop-color="#ddb83d"/><stop offset="0.205" stop-color="#c3bc47"/><stop offset="0.287" stop-color="#93c05d"/><stop offset="0.369" stop-color="#48bb92"/><stop offset="0.410" stop-color="#2eb6ac"/><stop offset="0.492" stop-color="#1da8d1"/><stop offset="0.533" stop-color="#1b9fdc"/><stop offset="0.656" stop-color="#287de8"/><stop offset="0.697" stop-color="#2c73e9"/><stop offset="0.820" stop-color="#3854e1"/><stop offset="0.861" stop-color="#3a4cd9"/><stop offset="0.943" stop-color="#3b3bb9"/><stop offset="0.959" stop-color="#3b3ab5"/></linearGradient><linearGradient id="g204" gradientUnits="userSpaceOnUse" x1="0" y1="395" x2="0" y2="517"><stop offset="0.090" stop-color="#e5b63a"/><stop offset="0.123" stop-color="#e0b73c"/><stop offset="0.205" stop-color="#c9bc45"/><stop offset="0.287" stop-color="#9fbf58"/><stop offset="0.369" stop-color="#54bc89"/><stop offset="0.410" stop-color="#32b8a6"/><stop offset="0.492" stop-color="#1eabcd"/><stop offset="0.533" stop-color="#1ca2d9"/><stop offset="0.656" stop-color="#2681e7"/><stop offset="0.697" stop-color="#2b76e9"/><stop offset="0.820" stop-color="#3757e2"/><stop offset="0.861" stop-color="#3a4ede"/><stop offset="0.943" stop-color="#3b3cbb"/><stop offset="0.959" stop-color="#3b3bb8"/></linearGradient><linearGradient id="g205" gradientUnits="userSpaceOnUse" x1="0" y1="395" x2="0" y2="517"><stop offset="0.090" stop-color="#d9b83e"/><stop offset="0.123" stop-color="#d6b940"/><stop offset="0.205" stop-color="#bebd4a"/><stop offset="0.287" stop-color="#9ac05a"/><stop offset="0.369" stop-color="#4cbb8f"/><stop offset="0.410" stop-color="#2fb7aa"/><stop offset="0.492" stop-color="#1da9d0"/><stop offset="0.533" stop-color="#1b9fdc"/><stop offset="0.656" stop-color="#287de9"/><stop offset="0.697" stop-color="#2c72e9"/><stop offset="0.820" stop-color="#3853e1"/><stop offset="0.861" stop-color="#3a4bd8"/><stop offset="0.943" stop-color="#3b38b1"/><stop offset="0.959" stop-color="#3b37b0"/></linearGradient><linearGradient id="g206" gradientUnits="userSpaceOnUse" x1="0" y1="395" x2="0" y2="517"><stop offset="0.090" stop-color="#deb73c"/><stop offset="0.123" stop-color="#ddb83d"/><stop offset="0.205" stop-color="#c9bc45"/><stop offset="0.287" stop-color="#acbe52"/><stop offset="0.369" stop-color="#60bd80"/><stop offset="0.410" stop-color="#35b9a1"/><stop offset="0.492" stop-color="#1faeca"/><stop offset="0.533" stop-color="#1ca3d6"/><stop offset="0.656" stop-color="#2584e7"/><stop offset="0.697" stop-color="#2a78ea"/><stop offset="0.820" stop-color="#3659e3"/><stop offset="0.861" stop-color="#3a4fe0"/><stop offset="0.943" stop-color="#3b3bb7"/><stop offset="0.959" stop-color="#3b3ab7"/></linearGradient><linearGradient id="g207" gradientUnits="userSpaceOnUse" x1="0" y1="395" x2="0" y2="517"><stop offset="0.123" stop-color="#c9bc44"/><stop offset="0.156" stop-color="#c1bd48"/><stop offset="0.287" stop-color="#97c05b"/><stop offset="0.328" stop-color="#72bf73"/><stop offset="0.410" stop-color="#2eb6ad"/><stop offset="0.451" stop-color="#22b1c3"/><stop offset="0.533" stop-color="#1a9dde"/><stop offset="0.574" stop-color="#1e91e3"/><stop offset="0.697" stop-color="#2e6fe8"/><stop offset="0.738" stop-color="#3265e5"/><stop offset="0.861" stop-color="#3a47d1"/><stop offset="0.902" stop-color="#3b3dbc"/><stop offset="0.943" stop-color="#3b33a9"/></linearGradient><linearGradient id="g208" gradientUnits="userSpaceOnUse" x1="0" y1="395" x2="0" y2="517"><stop offset="0.123" stop-color="#c7bc45"/><stop offset="0.156" stop-color="#c0bd49"/><stop offset="0.287" stop-color="#95c05c"/><stop offset="0.328" stop-color="#74bf71"/><stop offset="0.410" stop-color="#2eb6ac"/><stop offset="0.451" stop-color="#22b1c2"/><stop offset="0.533" stop-color="#1b9edd"/><stop offset="0.574" stop-color="#1e92e2"/><stop offset="0.697" stop-color="#2d70e8"/><stop offset="0.738" stop-color="#3166e6"/><stop offset="0.861" stop-color="#3a47d0"/><stop offset="0.902" stop-color="#3b3dbc"/><stop offset="0.943" stop-color="#3b35ad"/></linearGradient><linearGradient id="g209" gradientUnits="userSpaceOnUse" x1="0" y1="395" x2="0" y2="517"><stop offset="0.123" stop-color="#cbbb44"/><stop offset="0.156" stop-color="#c7bc45"/><stop offset="0.287" stop-color="#9ac05a"/><stop offset="0.328" stop-color="#80c068"/><stop offset="0.410" stop-color="#31b7a7"/><stop offset="0.451" stop-color="#26b3bc"/><stop offset="0.533" stop-color="#1ba1d9"/><stop offset="0.574" stop-color="#1c97e1"/><stop offset="0.697" stop-color="#2b74e9"/><stop offset="0.738" stop-color="#306ae7"/><stop offset="0.861" stop-color="#3a49d5"/><stop offset="0.902" stop-color="#3a3fc1"/><stop offset="0.943" stop-color="#3b3ab6"/></linearGradient><linearGradient id="g210" gradientUnits="userSpaceOnUse" x1="0" y1="395" x2="0" y2="517"><stop offset="0.123" stop-color="#dbb83d"/><stop offset="0.156" stop-color="#d9b83e"/><stop offset="0.287" stop-color="#b0be50"/><stop offset="0.328" stop-color="#9bbf59"/><stop offset="0.410" stop-color="#49bb91"/><stop offset="0.451" stop-color="#2eb6ac"/><stop offset="0.533" stop-color="#1eaace"/><stop offset="0.574" stop-color="#1ba1d9"/><stop offset="0.697" stop-color="#2680e8"/><stop offset="0.738" stop-color="#2b75e9"/><stop offset="0.861" stop-color="#3952e1"/><stop offset="0.902" stop-color="#3a47d1"/><stop offset="0.943" stop-color="#3a44ca"/></linearGradient><linearGradient id="g211" gradientUnits="userSpaceOnUse" x1="0" y1="395" x2="0" y2="517"><stop offset="0.123" stop-color="#d0ba42"/><stop offset="0.156" stop-color="#cfbb42"/><stop offset="0.287" stop-color="#a1bf57"/><stop offset="0.328" stop-color="#90c05e"/><stop offset="0.410" stop-color="#3ab99c"/><stop offset="0.451" stop-color="#2bb5b3"/><stop offset="0.533" stop-color="#1da7d2"/><stop offset="0.574" stop-color="#1b9edd"/><stop offset="0.697" stop-color="#287ce9"/><stop offset="0.738" stop-color="#2d70e8"/><stop offset="0.861" stop-color="#3a4ddc"/><stop offset="0.902" stop-color="#3a43c8"/><stop offset="0.943" stop-color="#3a42c6"/></linearGradient><linearGradient id="g212" gradientUnits="userSpaceOnUse" x1="0" y1="395" x2="0" y2="517"><stop offset="0.107" stop-color="#cabc44"/><stop offset="0.156" stop-color="#cabc44"/><stop offset="0.205" stop-color="#babd4b"/><stop offset="0.328" stop-color="#8ec15f"/><stop offset="0.369" stop-color="#66be7b"/><stop offset="0.451" stop-color="#2bb5b3"/><stop offset="0.492" stop-color="#20b0c6"/><stop offset="0.574" stop-color="#1b9ddd"/><stop offset="0.656" stop-color="#2387e6"/><stop offset="0.738" stop-color="#2d70e8"/><stop offset="0.877" stop-color="#3a48d3"/><stop offset="0.902" stop-color="#3a43c8"/></linearGradient><linearGradient id="g213" gradientUnits="userSpaceOnUse" x1="0" y1="395" x2="0" y2="517"><stop offset="0.107" stop-color="#d3ba41"/><stop offset="0.156" stop-color="#d4ba40"/><stop offset="0.205" stop-color="#cabc44"/><stop offset="0.328" stop-color="#a1bf57"/><stop offset="0.369" stop-color="#84c165"/><stop offset="0.451" stop-color="#32b8a5"/><stop offset="0.492" stop-color="#28b4b8"/><stop offset="0.574" stop-color="#1ca5d5"/><stop offset="0.656" stop-color="#1f90e3"/><stop offset="0.738" stop-color="#2a79ea"/><stop offset="0.877" stop-color="#3950e0"/><stop offset="0.902" stop-color="#3a4cd9"/></linearGradient><linearGradient id="g214" gradientUnits="userSpaceOnUse" x1="0" y1="395" x2="0" y2="517"><stop offset="0.107" stop-color="#ccbb43"/><stop offset="0.156" stop-color="#cebb43"/><stop offset="0.205" stop-color="#c7bc45"/><stop offset="0.328" stop-color="#a0bf57"/><stop offset="0.369" stop-color="#87c163"/><stop offset="0.451" stop-color="#33b8a3"/><stop offset="0.492" stop-color="#28b4b7"/><stop offset="0.574" stop-color="#1ca5d5"/><stop offset="0.656" stop-color="#1f8fe3"/><stop offset="0.738" stop-color="#2a78ea"/><stop offset="0.877" stop-color="#3951e1"/><stop offset="0.902" stop-color="#3a4ddd"/></linearGradient><linearGradient id="g215" gradientUnits="userSpaceOnUse" x1="0" y1="395" x2="0" y2="517"><stop offset="0.107" stop-color="#c4bc47"/><stop offset="0.156" stop-color="#c7bc45"/><stop offset="0.205" stop-color="#c2bc48"/><stop offset="0.328" stop-color="#9ebf58"/><stop offset="0.369" stop-color="#89c162"/><stop offset="0.451" stop-color="#34b8a2"/><stop offset="0.492" stop-color="#29b4b6"/><stop offset="0.574" stop-color="#1ca5d5"/><stop offset="0.656" stop-color="#208ee4"/><stop offset="0.738" stop-color="#2a78ea"/><stop offset="0.877" stop-color="#3952e1"/><stop offset="0.902" stop-color="#3a4fdf"/></linearGradient><linearGradient id="g216" gradientUnits="userSpaceOnUse" x1="0" y1="395" x2="0" y2="517"><stop offset="0.107" stop-color="#d6b93f"/><stop offset="0.156" stop-color="#d9b83e"/><stop offset="0.205" stop-color="#d9b93e"/><stop offset="0.328" stop-color="#bcbd4a"/><stop offset="0.369" stop-color="#abbe52"/><stop offset="0.451" stop-color="#5dbd82"/><stop offset="0.492" stop-color="#34b9a1"/><stop offset="0.574" stop-color="#1fb0c8"/><stop offset="0.656" stop-color="#1a9cdf"/><stop offset="0.738" stop-color="#2386e6"/><stop offset="0.877" stop-color="#3361e4"/><stop offset="0.902" stop-color="#345ee4"/></linearGradient><linearGradient id="g217" gradientUnits="userSpaceOnUse" x1="0" y1="395" x2="0" y2="517"><stop offset="0.107" stop-color="#d1ba41"/><stop offset="0.156" stop-color="#d5b940"/><stop offset="0.205" stop-color="#d7b93f"/><stop offset="0.328" stop-color="#bdbd4a"/><stop offset="0.369" stop-color="#afbe50"/><stop offset="0.451" stop-color="#63bd7e"/><stop offset="0.492" stop-color="#37b99e"/><stop offset="0.574" stop-color="#20b0c7"/><stop offset="0.656" stop-color="#1a9cde"/><stop offset="0.738" stop-color="#2387e6"/><stop offset="0.877" stop-color="#3263e5"/><stop offset="0.902" stop-color="#3361e4"/></linearGradient><linearGradient id="g218" gradientUnits="userSpaceOnUse" x1="0" y1="395" x2="0" y2="517"><stop offset="0.107" stop-color="#bbbd4b"/><stop offset="0.156" stop-color="#c1bd48"/><stop offset="0.205" stop-color="#c8bc45"/><stop offset="0.328" stop-color="#abbe52"/><stop offset="0.369" stop-color="#a1bf57"/><stop offset="0.451" stop-color="#50bc8c"/><stop offset="0.492" stop-color="#30b7a8"/><stop offset="0.574" stop-color="#1eaccd"/><stop offset="0.656" stop-color="#1d95e2"/><stop offset="0.738" stop-color="#277fe8"/><stop offset="0.877" stop-color="#355de3"/><stop offset="0.902" stop-color="#355de3"/></linearGradient><linearGradient id="g219" gradientUnits="userSpaceOnUse" x1="0" y1="395" x2="0" y2="517"><stop offset="0.082" stop-color="#cfbb42"/><stop offset="0.107" stop-color="#cfbb42"/><stop offset="0.205" stop-color="#d6b93f"/><stop offset="0.287" stop-color="#cbbb44"/><stop offset="0.369" stop-color="#b6bd4d"/><stop offset="0.451" stop-color="#75bf70"/><stop offset="0.492" stop-color="#48bb92"/><stop offset="0.574" stop-color="#24b2bf"/><stop offset="0.656" stop-color="#1ba0da"/><stop offset="0.738" stop-color="#218be4"/><stop offset="0.844" stop-color="#2e6fe8"/><stop offset="0.877" stop-color="#3068e6"/></linearGradient><linearGradient id="g220" gradientUnits="userSpaceOnUse" x1="0" y1="395" x2="0" y2="517"><stop offset="0.082" stop-color="#d1ba42"/><stop offset="0.107" stop-color="#d1ba42"/><stop offset="0.205" stop-color="#d6b93f"/><stop offset="0.287" stop-color="#cebb43"/><stop offset="0.369" stop-color="#b7bd4d"/><stop offset="0.451" stop-color="#80c068"/><stop offset="0.492" stop-color="#53bc89"/><stop offset="0.574" stop-color="#26b3ba"/><stop offset="0.656" stop-color="#1ca3d7"/><stop offset="0.738" stop-color="#208fe4"/><stop offset="0.844" stop-color="#2d70e8"/><stop offset="0.877" stop-color="#2f6be7"/></linearGradient><linearGradient id="g221" gradientUnits="userSpaceOnUse" x1="0" y1="395" x2="0" y2="517"><stop offset="0.082" stop-color="#e2b73b"/><stop offset="0.107" stop-color="#e2b73b"/><stop offset="0.205" stop-color="#e5b639"/><stop offset="0.287" stop-color="#e0b73c"/><stop offset="0.369" stop-color="#ccbb43"/><stop offset="0.451" stop-color="#9fbf58"/><stop offset="0.492" stop-color="#79c06d"/><stop offset="0.574" stop-color="#30b7a9"/><stop offset="0.656" stop-color="#1eadcc"/><stop offset="0.738" stop-color="#1a9be0"/><stop offset="0.844" stop-color="#297be9"/><stop offset="0.877" stop-color="#2a77ea"/></linearGradient><linearGradient id="g222" gradientUnits="userSpaceOnUse" x1="0" y1="395" x2="0" y2="517"><stop offset="0.082" stop-color="#e0b73c"/><stop offset="0.107" stop-color="#e0b73c"/><stop offset="0.205" stop-color="#e2b73b"/><stop offset="0.287" stop-color="#dfb73c"/><stop offset="0.369" stop-color="#c9bc45"/><stop offset="0.451" stop-color="#a2bf56"/><stop offset="0.492" stop-color="#7ec06a"/><stop offset="0.574" stop-color="#31b7a7"/><stop offset="0.656" stop-color="#1faeca"/><stop offset="0.738" stop-color="#1a9cdf"/><stop offset="0.844" stop-color="#297ae9"/><stop offset="0.877" stop-color="#2a79ea"/></linearGradient><linearGradient id="g223" gradientUnits="userSpaceOnUse" x1="0" y1="395" x2="0" y2="517"><stop offset="0.082" stop-color="#d3ba41"/><stop offset="0.107" stop-color="#d3ba41"/><stop offset="0.205" stop-color="#d3ba41"/><stop offset="0.287" stop-color="#d3ba41"/><stop offset="0.369" stop-color="#b7bd4d"/><stop offset="0.451" stop-color="#97c05b"/><stop offset="0.492" stop-color="#6fbf75"/><stop offset="0.574" stop-color="#2db6af"/><stop offset="0.656" stop-color="#1eaace"/><stop offset="0.738" stop-color="#1c96e1"/><stop offset="0.844" stop-color="#2c73e9"/><stop offset="0.877" stop-color="#2c73e9"/></linearGradient><linearGradient id="g224" gradientUnits="userSpaceOnUse" x1="0" y1="395" x2="0" y2="517"><stop offset="0.082" stop-color="#deb73c"/><stop offset="0.115" stop-color="#deb73c"/><stop offset="0.287" stop-color="#e3b63a"/><stop offset="0.410" stop-color="#d0ba42"/><stop offset="0.451" stop-color="#bfbd49"/><stop offset="0.533" stop-color="#78bf6e"/><stop offset="0.574" stop-color="#4dbb8e"/><stop offset="0.656" stop-color="#27b3b9"/><stop offset="0.738" stop-color="#1ca4d5"/><stop offset="0.844" stop-color="#218ce4"/></linearGradient><linearGradient id="g225" gradientUnits="userSpaceOnUse" x1="0" y1="395" x2="0" y2="517"><stop offset="0.082" stop-color="#a5bf55"/><stop offset="0.115" stop-color="#a5bf55"/><stop offset="0.287" stop-color="#b2be4f"/><stop offset="0.410" stop-color="#afbe50"/><stop offset="0.451" stop-color="#98c05b"/><stop offset="0.533" stop-color="#47bb93"/><stop offset="0.574" stop-color="#2eb6ac"/><stop offset="0.656" stop-color="#1eabce"/><stop offset="0.738" stop-color="#1c96e2"/><stop offset="0.844" stop-color="#2681e8"/></linearGradient><linearGradient id="g226" gradientUnits="userSpaceOnUse" x1="0" y1="395" x2="0" y2="517"><stop offset="0.082" stop-color="#a0bf57"/><stop offset="0.115" stop-color="#a0bf57"/><stop offset="0.287" stop-color="#b3be4e"/><stop offset="0.410" stop-color="#c6bc46"/><stop offset="0.451" stop-color="#adbe51"/><stop offset="0.533" stop-color="#62bd7e"/><stop offset="0.574" stop-color="#38b99e"/><stop offset="0.656" stop-color="#21b1c5"/><stop offset="0.738" stop-color="#1b9ddd"/><stop offset="0.844" stop-color="#1f90e3"/></linearGradient><linearGradient id="g227" gradientUnits="userSpaceOnUse" x1="0" y1="395" x2="0" y2="517"><stop offset="0.082" stop-color="#9dbf59"/><stop offset="0.115" stop-color="#9dbf59"/><stop offset="0.287" stop-color="#b6bd4d"/><stop offset="0.410" stop-color="#dab83e"/><stop offset="0.451" stop-color="#c3bc47"/><stop offset="0.533" stop-color="#81c067"/><stop offset="0.574" stop-color="#57bc87"/><stop offset="0.656" stop-color="#28b4b7"/><stop offset="0.738" stop-color="#1ca4d5"/><stop offset="0.844" stop-color="#1b9fdb"/></linearGradient><linearGradient id="g228" gradientUnits="userSpaceOnUse" x1="0" y1="395" x2="0" y2="517"><stop offset="0.082" stop-color="#60bd80"/><stop offset="0.115" stop-color="#60bd80"/><stop offset="0.287" stop-color="#89c161"/><stop offset="0.410" stop-color="#c9bc45"/><stop offset="0.451" stop-color="#a9be53"/><stop offset="0.533" stop-color="#60bd80"/><stop offset="0.574" stop-color="#37b99f"/><stop offset="0.656" stop-color="#1fb0c7"/><stop offset="0.738" stop-color="#1a9bdf"/><stop offset="0.844" stop-color="#1a9bdf"/></linearGradient><linearGradient id="g229" gradientUnits="userSpaceOnUse" x1="0" y1="395" x2="0" y2="517"><stop offset="0.115" stop-color="#70bf74"/><stop offset="0.180" stop-color="#7dc06a"/><stop offset="0.287" stop-color="#9cbf59"/><stop offset="0.369" stop-color="#c9bc45"/><stop offset="0.410" stop-color="#d5b940"/><stop offset="0.492" stop-color="#a2bf56"/><stop offset="0.533" stop-color="#7bc06b"/><stop offset="0.549" stop-color="#69be79"/><stop offset="0.656" stop-color="#2bb5b2"/><stop offset="0.738" stop-color="#1eaacf"/></linearGradient><linearGradient id="g230" gradientUnits="userSpaceOnUse" x1="0" y1="395" x2="0" y2="517"><stop offset="0.115" stop-color="#4bbb90"/><stop offset="0.180" stop-color="#56bc88"/><stop offset="0.287" stop-color="#86c164"/><stop offset="0.369" stop-color="#b5bd4d"/><stop offset="0.410" stop-color="#c1bd48"/><stop offset="0.492" stop-color="#93c05d"/><stop offset="0.533" stop-color="#62bd7e"/><stop offset="0.549" stop-color="#4ebb8e"/><stop offset="0.656" stop-color="#28b4b7"/><stop offset="0.738" stop-color="#1eabce"/></linearGradient><linearGradient id="g231" gradientUnits="userSpaceOnUse" x1="0" y1="395" x2="0" y2="517"><stop offset="0.115" stop-color="#6ebe76"/><stop offset="0.180" stop-color="#76bf70"/><stop offset="0.287" stop-color="#a8bf54"/><stop offset="0.369" stop-color="#d5b940"/><stop offset="0.410" stop-color="#dab83e"/><stop offset="0.492" stop-color="#babd4b"/><stop offset="0.533" stop-color="#8fc05f"/><stop offset="0.549" stop-color="#7ac06c"/><stop offset="0.656" stop-color="#44ba95"/><stop offset="0.738" stop-color="#2eb6ad"/></linearGradient><linearGradient id="g232" gradientUnits="userSpaceOnUse" x1="0" y1="395" x2="0" y2="517"><stop offset="0.115" stop-color="#6dbe76"/><stop offset="0.180" stop-color="#73bf72"/><stop offset="0.287" stop-color="#aebe51"/><stop offset="0.369" stop-color="#dbb83d"/><stop offset="0.410" stop-color="#ddb83d"/><stop offset="0.492" stop-color="#c7bc46"/><stop offset="0.533" stop-color="#97c05b"/><stop offset="0.549" stop-color="#83c165"/><stop offset="0.656" stop-color="#5fbd80"/><stop offset="0.738" stop-color="#44ba95"/></linearGradient><linearGradient id="g233" gradientUnits="userSpaceOnUse" x1="0" y1="395" x2="0" y2="517"><stop offset="0.115" stop-color="#5abd85"/><stop offset="0.180" stop-color="#5cbd83"/><stop offset="0.287" stop-color="#a6bf54"/><stop offset="0.369" stop-color="#d6b93f"/><stop offset="0.410" stop-color="#d5b940"/><stop offset="0.492" stop-color="#c4bc47"/><stop offset="0.533" stop-color="#91c05e"/><stop offset="0.549" stop-color="#79c06d"/><stop offset="0.656" stop-color="#67be7a"/><stop offset="0.738" stop-color="#5abd85"/></linearGradient><linearGradient id="g234" gradientUnits="userSpaceOnUse" x1="0" y1="395" x2="0" y2="517"><stop offset="0.115" stop-color="#67be7b"/><stop offset="0.180" stop-color="#67be7b"/><stop offset="0.287" stop-color="#b7bd4d"/><stop offset="0.369" stop-color="#e5b63a"/><stop offset="0.410" stop-color="#e0b73c"/><stop offset="0.492" stop-color="#d6b93f"/><stop offset="0.533" stop-color="#a4bf55"/><stop offset="0.549" stop-color="#8ec05f"/><stop offset="0.656" stop-color="#8ec05f"/><stop offset="0.738" stop-color="#8ec05f"/></linearGradient><linearGradient id="g235" gradientUnits="userSpaceOnUse" x1="0" y1="395" x2="0" y2="517"><stop offset="0.180" stop-color="#3dba9a"/><stop offset="0.205" stop-color="#4ebb8d"/><stop offset="0.369" stop-color="#bebd49"/><stop offset="0.492" stop-color="#a9be53"/><stop offset="0.549" stop-color="#5abd84"/><stop offset="0.607" stop-color="#52bc8a"/></linearGradient><linearGradient id="g236" gradientUnits="userSpaceOnUse" x1="0" y1="395" x2="0" y2="517"><stop offset="0.180" stop-color="#51bc8b"/><stop offset="0.205" stop-color="#5ebd81"/><stop offset="0.369" stop-color="#bfbd49"/><stop offset="0.492" stop-color="#a6bf54"/><stop offset="0.549" stop-color="#63bd7e"/><stop offset="0.607" stop-color="#53bc8a"/></linearGradient><linearGradient id="g237" gradientUnits="userSpaceOnUse" x1="0" y1="395" x2="0" y2="517"><stop offset="0.180" stop-color="#45bb94"/><stop offset="0.205" stop-color="#4ebb8d"/><stop offset="0.369" stop-color="#a6bf54"/><stop offset="0.492" stop-color="#8cc160"/><stop offset="0.549" stop-color="#4cbb8f"/><stop offset="0.607" stop-color="#34b9a1"/></linearGradient><linearGradient id="g238" gradientUnits="userSpaceOnUse" x1="0" y1="395" x2="0" y2="517"><stop offset="0.180" stop-color="#3fba98"/><stop offset="0.205" stop-color="#44ba95"/><stop offset="0.369" stop-color="#92c05d"/><stop offset="0.492" stop-color="#6fbf74"/><stop offset="0.549" stop-color="#3aba9c"/><stop offset="0.607" stop-color="#2eb6ad"/></linearGradient><linearGradient id="g239" gradientUnits="userSpaceOnUse" x1="0" y1="395" x2="0" y2="517"><stop offset="0.180" stop-color="#34b9a1"/><stop offset="0.205" stop-color="#34b9a1"/><stop offset="0.369" stop-color="#74bf71"/><stop offset="0.492" stop-color="#4bbb90"/><stop offset="0.549" stop-color="#30b7a9"/><stop offset="0.607" stop-color="#25b2bd"/></linearGradient><linearGradient id="g240" gradientUnits="userSpaceOnUse" x1="0" y1="395" x2="0" y2="517"><stop offset="0.205" stop-color="#47bb92"/><stop offset="0.221" stop-color="#4cbb8f"/><stop offset="0.369" stop-color="#75bf70"/><stop offset="0.492" stop-color="#49bb91"/><stop offset="0.533" stop-color="#33b8a3"/><stop offset="0.607" stop-color="#27b3ba"/><stop offset="0.680" stop-color="#24b2be"/></linearGradient><linearGradient id="g241" gradientUnits="userSpaceOnUse" x1="0" y1="395" x2="0" y2="517"><stop offset="0.205" stop-color="#4abb90"/><stop offset="0.221" stop-color="#4ebb8e"/><stop offset="0.369" stop-color="#63bd7e"/><stop offset="0.492" stop-color="#35b9a0"/><stop offset="0.533" stop-color="#2fb7ab"/><stop offset="0.607" stop-color="#24b2c0"/><stop offset="0.680" stop-color="#1fb0c8"/></linearGradient><linearGradient id="g242" gradientUnits="userSpaceOnUse" x1="0" y1="395" x2="0" y2="517"><stop offset="0.205" stop-color="#31b7a7"/><stop offset="0.221" stop-color="#32b8a6"/><stop offset="0.369" stop-color="#32b8a5"/><stop offset="0.492" stop-color="#26b3bc"/><stop offset="0.533" stop-color="#20b1c5"/><stop offset="0.607" stop-color="#1da8d1"/><stop offset="0.680" stop-color="#1ca1d9"/></linearGradient><linearGradient id="g243" gradientUnits="userSpaceOnUse" x1="0" y1="395" x2="0" y2="517"><stop offset="0.205" stop-color="#33b8a3"/><stop offset="0.221" stop-color="#33b8a3"/><stop offset="0.369" stop-color="#2fb7ab"/><stop offset="0.492" stop-color="#22b1c3"/><stop offset="0.533" stop-color="#1fafca"/><stop offset="0.607" stop-color="#1da6d3"/><stop offset="0.680" stop-color="#1b9edd"/></linearGradient><linearGradient id="g244" gradientUnits="userSpaceOnUse" x1="0" y1="395" x2="0" y2="517"><stop offset="0.139" stop-color="#1eaacf"/><stop offset="0.221" stop-color="#1eaacf"/><stop offset="0.287" stop-color="#1da9d0"/><stop offset="0.369" stop-color="#1eaacf"/><stop offset="0.451" stop-color="#1da8d1"/><stop offset="0.533" stop-color="#1ca1d9"/><stop offset="0.615" stop-color="#1a9ae0"/><stop offset="0.680" stop-color="#1f90e3"/><stop offset="0.697" stop-color="#208ee4"/></linearGradient><linearGradient id="g245" gradientUnits="userSpaceOnUse" x1="0" y1="395" x2="0" y2="517"><stop offset="0.139" stop-color="#1da6d3"/><stop offset="0.221" stop-color="#1da6d3"/><stop offset="0.287" stop-color="#1da6d4"/><stop offset="0.369" stop-color="#1eaacf"/><stop offset="0.451" stop-color="#1eaecb"/><stop offset="0.533" stop-color="#1da9d0"/><stop offset="0.615" stop-color="#1ca5d5"/><stop offset="0.680" stop-color="#1a9dde"/><stop offset="0.697" stop-color="#1a9be0"/></linearGradient><linearGradient id="g246" gradientUnits="userSpaceOnUse" x1="0" y1="395" x2="0" y2="517"><stop offset="0.139" stop-color="#1ca4d6"/><stop offset="0.287" stop-color="#1ca4d6"/><stop offset="0.369" stop-color="#1daacf"/><stop offset="0.451" stop-color="#1eaecb"/><stop offset="0.533" stop-color="#1da9d0"/><stop offset="0.590" stop-color="#1da6d4"/><stop offset="0.615" stop-color="#1ca5d5"/><stop offset="0.697" stop-color="#1a9be0"/></linearGradient><linearGradient id="g247" gradientUnits="userSpaceOnUse" x1="0" y1="395" x2="0" y2="517"><stop offset="0.139" stop-color="#25b3bc"/><stop offset="0.287" stop-color="#25b3bc"/><stop offset="0.369" stop-color="#2ab5b3"/><stop offset="0.451" stop-color="#2ab4b4"/><stop offset="0.533" stop-color="#22b1c3"/><stop offset="0.590" stop-color="#1faeca"/><stop offset="0.615" stop-color="#1eadcb"/><stop offset="0.697" stop-color="#1ca5d4"/></linearGradient><linearGradient id="g248" gradientUnits="userSpaceOnUse" x1="0" y1="395" x2="0" y2="517"><stop offset="0.139" stop-color="#30b7aa"/><stop offset="0.287" stop-color="#30b7aa"/><stop offset="0.369" stop-color="#34b8a3"/><stop offset="0.451" stop-color="#2eb6ac"/><stop offset="0.533" stop-color="#23b2c1"/><stop offset="0.590" stop-color="#1eadcb"/><stop offset="0.615" stop-color="#1eadcc"/><stop offset="0.697" stop-color="#1da7d3"/></linearGradient><linearGradient id="g249" gradientUnits="userSpaceOnUse" x1="0" y1="395" x2="0" y2="517"><stop offset="0.139" stop-color="#33b8a3"/><stop offset="0.287" stop-color="#33b8a3"/><stop offset="0.369" stop-color="#39b99d"/><stop offset="0.451" stop-color="#2cb5b0"/><stop offset="0.533" stop-color="#1fafc9"/><stop offset="0.590" stop-color="#1da7d3"/><stop offset="0.615" stop-color="#1da6d3"/><stop offset="0.697" stop-color="#1ca2d8"/></linearGradient><linearGradient id="g250" gradientUnits="userSpaceOnUse" x1="0" y1="395" x2="0" y2="517"><stop offset="0.139" stop-color="#68be7a"/><stop offset="0.287" stop-color="#68be7a"/><stop offset="0.369" stop-color="#6ebe76"/><stop offset="0.451" stop-color="#36b99f"/><stop offset="0.533" stop-color="#24b2bf"/><stop offset="0.590" stop-color="#1eabce"/><stop offset="0.615" stop-color="#1eaace"/><stop offset="0.697" stop-color="#1da8d1"/></linearGradient><linearGradient id="g251" gradientUnits="userSpaceOnUse" x1="0" y1="395" x2="0" y2="517"><stop offset="0.139" stop-color="#a4bf55"/><stop offset="0.287" stop-color="#a4bf55"/><stop offset="0.369" stop-color="#a5bf55"/><stop offset="0.451" stop-color="#64be7d"/><stop offset="0.533" stop-color="#2db6ae"/><stop offset="0.590" stop-color="#21b1c5"/><stop offset="0.615" stop-color="#21b1c5"/><stop offset="0.697" stop-color="#20b0c7"/></linearGradient><linearGradient id="g252" gradientUnits="userSpaceOnUse" x1="0" y1="395" x2="0" y2="517"><stop offset="0.369" stop-color="#99c05b"/><stop offset="0.385" stop-color="#8dc160"/><stop offset="0.451" stop-color="#4abb90"/><stop offset="0.533" stop-color="#25b2be"/><stop offset="0.566" stop-color="#1faeca"/><stop offset="0.590" stop-color="#1da9d0"/></linearGradient><linearGradient id="g253" gradientUnits="userSpaceOnUse" x1="0" y1="395" x2="0" y2="517"><stop offset="0.369" stop-color="#b4be4e"/><stop offset="0.385" stop-color="#aabe53"/><stop offset="0.451" stop-color="#6ebf75"/><stop offset="0.533" stop-color="#2eb6ac"/><stop offset="0.566" stop-color="#26b3bb"/><stop offset="0.590" stop-color="#22b1c3"/></linearGradient><linearGradient id="g254" gradientUnits="userSpaceOnUse" x1="0" y1="395" x2="0" y2="517"><stop offset="0.369" stop-color="#aabe53"/><stop offset="0.385" stop-color="#a2bf56"/><stop offset="0.451" stop-color="#61bd7f"/><stop offset="0.533" stop-color="#2bb5b3"/><stop offset="0.566" stop-color="#23b2c1"/><stop offset="0.590" stop-color="#1fb0c8"/></linearGradient><linearGradient id="g255" gradientUnits="userSpaceOnUse" x1="0" y1="395" x2="0" y2="517"><stop offset="0.369" stop-color="#adbe51"/><stop offset="0.385" stop-color="#a6bf54"/><stop offset="0.451" stop-color="#65be7c"/><stop offset="0.533" stop-color="#2cb5b1"/><stop offset="0.566" stop-color="#23b2c0"/><stop offset="0.590" stop-color="#20b1c5"/></linearGradient><linearGradient id="g256" gradientUnits="userSpaceOnUse" x1="0" y1="395" x2="0" y2="517"><stop offset="0.369" stop-color="#afbe50"/><stop offset="0.385" stop-color="#aabe53"/><stop offset="0.451" stop-color="#67be7a"/><stop offset="0.533" stop-color="#2cb5b0"/><stop offset="0.566" stop-color="#24b2bf"/><stop offset="0.590" stop-color="#22b1c3"/></linearGradient><linearGradient id="g257" gradientUnits="userSpaceOnUse" x1="0" y1="395" x2="0" y2="517"><stop offset="0.369" stop-color="#d4b940"/><stop offset="0.385" stop-color="#d2ba41"/><stop offset="0.451" stop-color="#98c05b"/><stop offset="0.533" stop-color="#4abb90"/><stop offset="0.566" stop-color="#32b8a5"/><stop offset="0.590" stop-color="#31b7a8"/></linearGradient><linearGradient id="g258" gradientUnits="userSpaceOnUse" x1="0" y1="395" x2="0" y2="517"><stop offset="0.369" stop-color="#bdbd4a"/><stop offset="0.385" stop-color="#bbbd4b"/><stop offset="0.451" stop-color="#79c06d"/><stop offset="0.533" stop-color="#31b7a7"/><stop offset="0.566" stop-color="#28b4b7"/><stop offset="0.590" stop-color="#28b4b8"/></linearGradient><linearGradient id="g259" gradientUnits="userSpaceOnUse" x1="0" y1="395" x2="0" y2="517"><stop offset="0.385" stop-color="#c8bc45"/><stop offset="0.451" stop-color="#88c162"/><stop offset="0.566" stop-color="#2cb5b0"/></linearGradient><linearGradient id="g260" gradientUnits="userSpaceOnUse" x1="0" y1="395" x2="0" y2="517"><stop offset="0.385" stop-color="#cdbb43"/><stop offset="0.451" stop-color="#8fc05f"/><stop offset="0.566" stop-color="#2fb6ab"/></linearGradient><linearGradient id="g261" gradientUnits="userSpaceOnUse" x1="0" y1="395" x2="0" y2="517"><stop offset="0.385" stop-color="#e0b73c"/><stop offset="0.451" stop-color="#a8bf54"/><stop offset="0.566" stop-color="#3dba9a"/></linearGradient><linearGradient id="g262" gradientUnits="userSpaceOnUse" x1="0" y1="395" x2="0" y2="517"><stop offset="0.385" stop-color="#bfbd49"/><stop offset="0.451" stop-color="#7dc06a"/><stop offset="0.566" stop-color="#29b4b5"/></linearGradient><clipPath id="tc12"><polygon points="256.5,419.0 258.0,417.0 262.0,415.5 265.0,409.7 270.0,406.0 275.0,401.0 278.0,398.0 281.0,397.5 283.0,408.0 288.0,413.0 296.0,425.0 300.0,440.0 301.0,456.0 290.0,459.0 280.0,456.0 270.0,459.0 262.0,462.0 256.5,459.0"/></clipPath><clipPath id="tc13"><polygon points="256.5,419.0 262.0,415.5 303.0,452.0 256.5,461.0"/></clipPath></defs><rect width="409" height="550" fill="#fff"/><line x1="26.0" y1="122.9" x2="112.2" y2="100.1" stroke="#e8e8e8" stroke-width="0.5"/>
<line x1="112.2" y1="100.1" x2="112.2" y2="12.1" stroke="#e8e8e8" stroke-width="0.5"/>
<line x1="34.6" y1="125.3" x2="120.8" y2="102.5" stroke="#e8e8e8" stroke-width="0.5"/>
<line x1="120.8" y1="102.5" x2="120.8" y2="13.6" stroke="#e8e8e8" stroke-width="0.5"/>
<line x1="43.2" y1="127.6" x2="129.5" y2="104.8" stroke="#e8e8e8" stroke-width="0.5"/>
<line x1="129.5" y1="104.8" x2="129.5" y2="15.0" stroke="#e8e8e8" stroke-width="0.5"/>
<line x1="51.9" y1="130.0" x2="138.1" y2="107.2" stroke="#e8e8e8" stroke-width="0.5"/>
<line x1="138.1" y1="107.2" x2="138.1" y2="16.4" stroke="#e8e8e8" stroke-width="0.5"/>
<line x1="60.5" y1="132.4" x2="146.8" y2="109.6" stroke="#e8e8e8" stroke-width="0.5"/>
<line x1="146.8" y1="109.6" x2="146.8" y2="17.8" stroke="#e8e8e8" stroke-width="0.5"/>
<line x1="69.2" y1="134.8" x2="155.4" y2="112.0" stroke="#e8e8e8" stroke-width="0.5"/>
<line x1="155.4" y1="112.0" x2="155.4" y2="19.3" stroke="#e8e8e8" stroke-width="0.5"/>
<line x1="77.8" y1="137.2" x2="164.1" y2="114.4" stroke="#e8e8e8" stroke-width="0.5"/>
<line x1="164.1" y1="114.4" x2="164.1" y2="20.7" stroke="#e8e8e8" stroke-width="0.5"/>
<line x1="86.5" y1="139.5" x2="172.7" y2="116.7" stroke="#e8e8e8" stroke-width="0.5"/>
<line x1="172.7" y1="116.7" x2="172.7" y2="22.1" stroke="#e8e8e8" stroke-width="0.5"/>
<line x1="95.2" y1="141.9" x2="181.4" y2="119.1" stroke="#e8e8e8" stroke-width="0.5"/>
<line x1="181.4" y1="119.1" x2="181.4" y2="23.6" stroke="#e8e8e8" stroke-width="0.5"/>
<line x1="112.4" y1="142.0" x2="25.9" y2="118.2" stroke="#e8e8e8" stroke-width="0.5"/>
<line x1="25.9" y1="118.2" x2="25.9" y2="28.1" stroke="#e8e8e8" stroke-width="0.5"/>
<line x1="121.0" y1="139.7" x2="34.5" y2="115.9" stroke="#e8e8e8" stroke-width="0.5"/>
<line x1="34.5" y1="115.9" x2="34.5" y2="26.1" stroke="#e8e8e8" stroke-width="0.5"/>
<line x1="129.7" y1="137.5" x2="43.2" y2="113.7" stroke="#e8e8e8" stroke-width="0.5"/>
<line x1="43.2" y1="113.7" x2="43.2" y2="24.2" stroke="#e8e8e8" stroke-width="0.5"/>
<line x1="138.3" y1="135.2" x2="51.8" y2="111.4" stroke="#e8e8e8" stroke-width="0.5"/>
<line x1="51.8" y1="111.4" x2="51.8" y2="22.3" stroke="#e8e8e8" stroke-width="0.5"/>
<line x1="146.9" y1="132.9" x2="60.4" y2="109.1" stroke="#e8e8e8" stroke-width="0.5"/>
<line x1="60.4" y1="109.1" x2="60.4" y2="20.3" stroke="#e8e8e8" stroke-width="0.5"/>
<line x1="155.5" y1="130.6" x2="69.0" y2="106.8" stroke="#e8e8e8" stroke-width="0.5"/>
<line x1="69.0" y1="106.8" x2="69.0" y2="18.4" stroke="#e8e8e8" stroke-width="0.5"/>
<line x1="164.1" y1="128.3" x2="77.6" y2="104.5" stroke="#e8e8e8" stroke-width="0.5"/>
<line x1="77.6" y1="104.5" x2="77.6" y2="16.5" stroke="#e8e8e8" stroke-width="0.5"/>
<line x1="172.8" y1="126.1" x2="86.3" y2="102.3" stroke="#e8e8e8" stroke-width="0.5"/>
<line x1="86.3" y1="102.3" x2="86.3" y2="14.6" stroke="#e8e8e8" stroke-width="0.5"/>
<line x1="181.4" y1="123.8" x2="94.9" y2="100.0" stroke="#e8e8e8" stroke-width="0.5"/>
<line x1="94.9" y1="100.0" x2="94.9" y2="12.6" stroke="#e8e8e8" stroke-width="0.5"/>
<line x1="17.3" y1="34.9" x2="103.5" y2="15.4" stroke="#e8e8e8" stroke-width="0.5"/>
<line x1="103.5" y1="15.4" x2="190.0" y2="30.2" stroke="#e8e8e8" stroke-width="0.5"/>
<line x1="17.3" y1="42.6" x2="103.5" y2="22.8" stroke="#e8e8e8" stroke-width="0.5"/>
<line x1="103.5" y1="22.8" x2="190.0" y2="38.4" stroke="#e8e8e8" stroke-width="0.5"/>
<line x1="17.3" y1="50.3" x2="103.5" y2="30.2" stroke="#e8e8e8" stroke-width="0.5"/>
<line x1="103.5" y1="30.2" x2="190.0" y2="46.7" stroke="#e8e8e8" stroke-width="0.5"/>
<line x1="17.3" y1="58.0" x2="103.5" y2="37.6" stroke="#e8e8e8" stroke-width="0.5"/>
<line x1="103.5" y1="37.6" x2="190.0" y2="54.9" stroke="#e8e8e8" stroke-width="0.5"/>
<line x1="17.3" y1="65.7" x2="103.5" y2="45.1" stroke="#e8e8e8" stroke-width="0.5"/>
<line x1="103.5" y1="45.1" x2="190.0" y2="63.1" stroke="#e8e8e8" stroke-width="0.5"/>
<line x1="17.3" y1="73.4" x2="103.5" y2="52.5" stroke="#e8e8e8" stroke-width="0.5"/>
<line x1="103.5" y1="52.5" x2="190.0" y2="71.3" stroke="#e8e8e8" stroke-width="0.5"/>
<line x1="17.3" y1="81.2" x2="103.5" y2="59.9" stroke="#e8e8e8" stroke-width="0.5"/>
<line x1="103.5" y1="59.9" x2="190.0" y2="79.6" stroke="#e8e8e8" stroke-width="0.5"/>
<line x1="17.3" y1="88.9" x2="103.5" y2="67.3" stroke="#e8e8e8" stroke-width="0.5"/>
<line x1="103.5" y1="67.3" x2="190.0" y2="87.8" stroke="#e8e8e8" stroke-width="0.5"/>
<line x1="17.3" y1="96.6" x2="103.5" y2="74.7" stroke="#e8e8e8" stroke-width="0.5"/>
<line x1="103.5" y1="74.7" x2="190.0" y2="96.0" stroke="#e8e8e8" stroke-width="0.5"/>
<line x1="17.3" y1="104.3" x2="103.5" y2="82.1" stroke="#e8e8e8" stroke-width="0.5"/>
<line x1="103.5" y1="82.1" x2="190.0" y2="104.2" stroke="#e8e8e8" stroke-width="0.5"/>
<line x1="17.3" y1="112.0" x2="103.5" y2="89.5" stroke="#e8e8e8" stroke-width="0.5"/>
<line x1="103.5" y1="89.5" x2="190.0" y2="112.4" stroke="#e8e8e8" stroke-width="0.5"/>
<line x1="17.3" y1="119.7" x2="103.5" y2="96.9" stroke="#e8e8e8" stroke-width="0.5"/>
<line x1="103.5" y1="96.9" x2="190.0" y2="120.7" stroke="#e8e8e8" stroke-width="0.5"/>
<line x1="103.5" y1="97.7" x2="103.5" y2="10.7" stroke="#e8e8e8" stroke-width="0.5"/>
<line x1="190.0" y1="121.5" x2="190.0" y2="25.0" stroke="#e8e8e8" stroke-width="0.6"/>
<line x1="17.3" y1="30.0" x2="103.5" y2="10.7" stroke="#e8e8e8" stroke-width="0.5"/>
<line x1="103.5" y1="10.7" x2="190.0" y2="25.0" stroke="#e8e8e8" stroke-width="0.5"/>
<line x1="17.3" y1="30.0" x2="17.3" y2="120.5" stroke="#6a6a6a" stroke-width="0.5"/>
<line x1="17.3" y1="120.5" x2="103.8" y2="144.3" stroke="#6a6a6a" stroke-width="0.5"/>
<line x1="103.8" y1="144.3" x2="190.0" y2="121.5" stroke="#6a6a6a" stroke-width="0.5"/>
<text x="13.4" y="34.9" font-size="6" text-anchor="end" dominant-baseline="central" fill="#1e1e1e" font-family="'Liberation Sans', Arial, sans-serif" font-weight="normal" stroke="#1e1e1e" stroke-width="0.18">60</text>
<line x1="17.3" y1="34.9" x2="18.8" y2="34.5" stroke="#6a6a6a" stroke-width="0.4"/>
<text x="13.4" y="42.6" font-size="6" text-anchor="end" dominant-baseline="central" fill="#1e1e1e" font-family="'Liberation Sans', Arial, sans-serif" font-weight="normal" stroke="#1e1e1e" stroke-width="0.18">55</text>
<line x1="17.3" y1="42.6" x2="18.8" y2="42.2" stroke="#6a6a6a" stroke-width="0.4"/>
<text x="13.4" y="50.3" font-size="6" text-anchor="end" dominant-baseline="central" fill="#1e1e1e" font-family="'Liberation Sans', Arial, sans-serif" font-weight="normal" stroke="#1e1e1e" stroke-width="0.18">50</text>
<line x1="17.3" y1="50.3" x2="18.8" y2="49.9" stroke="#6a6a6a" stroke-width="0.4"/>
<text x="13.4" y="58.0" font-size="6" text-anchor="end" dominant-baseline="central" fill="#1e1e1e" font-family="'Liberation Sans', Arial, sans-serif" font-weight="normal" stroke="#1e1e1e" stroke-width="0.18">45</text>
<line x1="17.3" y1="58.0" x2="18.8" y2="57.6" stroke="#6a6a6a" stroke-width="0.4"/>
<text x="13.4" y="65.7" font-size="6" text-anchor="end" dominant-baseline="central" fill="#1e1e1e" font-family="'Liberation Sans', Arial, sans-serif" font-weight="normal" stroke="#1e1e1e" stroke-width="0.18">40</text>
<line x1="17.3" y1="65.7" x2="18.8" y2="65.3" stroke="#6a6a6a" stroke-width="0.4"/>
<text x="13.4" y="73.4" font-size="6" text-anchor="end" dominant-baseline="central" fill="#1e1e1e" font-family="'Liberation Sans', Arial, sans-serif" font-weight="normal" stroke="#1e1e1e" stroke-width="0.18">35</text>
<line x1="17.3" y1="73.4" x2="18.8" y2="73.0" stroke="#6a6a6a" stroke-width="0.4"/>
<text x="13.4" y="81.2" font-size="6" text-anchor="end" dominant-baseline="central" fill="#1e1e1e" font-family="'Liberation Sans', Arial, sans-serif" font-weight="normal" stroke="#1e1e1e" stroke-width="0.18">30</text>
<line x1="17.3" y1="81.2" x2="18.8" y2="80.8" stroke="#6a6a6a" stroke-width="0.4"/>
<text x="13.4" y="88.9" font-size="6" text-anchor="end" dominant-baseline="central" fill="#1e1e1e" font-family="'Liberation Sans', Arial, sans-serif" font-weight="normal" stroke="#1e1e1e" stroke-width="0.18">25</text>
<line x1="17.3" y1="88.9" x2="18.8" y2="88.5" stroke="#6a6a6a" stroke-width="0.4"/>
<text x="13.4" y="96.6" font-size="6" text-anchor="end" dominant-baseline="central" fill="#1e1e1e" font-family="'Liberation Sans', Arial, sans-serif" font-weight="normal" stroke="#1e1e1e" stroke-width="0.18">20</text>
<line x1="17.3" y1="96.6" x2="18.8" y2="96.2" stroke="#6a6a6a" stroke-width="0.4"/>
<text x="13.4" y="104.3" font-size="6" text-anchor="end" dominant-baseline="central" fill="#1e1e1e" font-family="'Liberation Sans', Arial, sans-serif" font-weight="normal" stroke="#1e1e1e" stroke-width="0.18">15</text>
<line x1="17.3" y1="104.3" x2="18.8" y2="103.9" stroke="#6a6a6a" stroke-width="0.4"/>
<text x="13.4" y="112.0" font-size="6" text-anchor="end" dominant-baseline="central" fill="#1e1e1e" font-family="'Liberation Sans', Arial, sans-serif" font-weight="normal" stroke="#1e1e1e" stroke-width="0.18">10</text>
<line x1="17.3" y1="112.0" x2="18.8" y2="111.6" stroke="#6a6a6a" stroke-width="0.4"/>
<text x="13.4" y="119.7" font-size="6" text-anchor="end" dominant-baseline="central" fill="#1e1e1e" font-family="'Liberation Sans', Arial, sans-serif" font-weight="normal" stroke="#1e1e1e" stroke-width="0.18">5</text>
<line x1="17.3" y1="119.7" x2="18.8" y2="119.3" stroke="#6a6a6a" stroke-width="0.4"/>
<text x="16.2" y="129.3" font-size="6" text-anchor="middle" dominant-baseline="central" fill="#1e1e1e" font-family="'Liberation Sans', Arial, sans-serif" font-weight="normal" stroke="#1e1e1e" stroke-width="0.18" transform="rotate(5 16.2 129.3)">100</text>
<text x="26.2" y="131.9" font-size="6" text-anchor="middle" dominant-baseline="central" fill="#1e1e1e" font-family="'Liberation Sans', Arial, sans-serif" font-weight="normal" stroke="#1e1e1e" stroke-width="0.18" transform="rotate(5 26.2 131.9)">90</text>
<text x="35.2" y="134.4" font-size="6" text-anchor="middle" dominant-baseline="central" fill="#1e1e1e" font-family="'Liberation Sans', Arial, sans-serif" font-weight="normal" stroke="#1e1e1e" stroke-width="0.18" transform="rotate(5 35.2 134.4)">80</text>
<text x="44.2" y="136.9" font-size="6" text-anchor="middle" dominant-baseline="central" fill="#1e1e1e" font-family="'Liberation Sans', Arial, sans-serif" font-weight="normal" stroke="#1e1e1e" stroke-width="0.18" transform="rotate(5 44.2 136.9)">70</text>
<text x="52.7" y="139.0" font-size="6" text-anchor="middle" dominant-baseline="central" fill="#1e1e1e" font-family="'Liberation Sans', Arial, sans-serif" font-weight="normal" stroke="#1e1e1e" stroke-width="0.18" transform="rotate(5 52.7 139.0)">60</text>
<text x="61.2" y="141.2" font-size="6" text-anchor="middle" dominant-baseline="central" fill="#1e1e1e" font-family="'Liberation Sans', Arial, sans-serif" font-weight="normal" stroke="#1e1e1e" stroke-width="0.18" transform="rotate(5 61.2 141.2)">50</text>
<text x="70.2" y="143.6" font-size="6" text-anchor="middle" dominant-baseline="central" fill="#1e1e1e" font-family="'Liberation Sans', Arial, sans-serif" font-weight="normal" stroke="#1e1e1e" stroke-width="0.18" transform="rotate(5 70.2 143.6)">40</text>
<text x="78.7" y="145.9" font-size="6" text-anchor="middle" dominant-baseline="central" fill="#1e1e1e" font-family="'Liberation Sans', Arial, sans-serif" font-weight="normal" stroke="#1e1e1e" stroke-width="0.18" transform="rotate(5 78.7 145.9)">30</text>
<text x="87.2" y="148.0" font-size="6" text-anchor="middle" dominant-baseline="central" fill="#1e1e1e" font-family="'Liberation Sans', Arial, sans-serif" font-weight="normal" stroke="#1e1e1e" stroke-width="0.18" transform="rotate(5 87.2 148.0)">20</text>
<text x="96.7" y="150.0" font-size="6" text-anchor="middle" dominant-baseline="central" fill="#1e1e1e" font-family="'Liberation Sans', Arial, sans-serif" font-weight="normal" stroke="#1e1e1e" stroke-width="0.18" transform="rotate(5 96.7 150.0)">10</text>
<text x="111.5" y="150.2" font-size="6" text-anchor="middle" dominant-baseline="central" fill="#1e1e1e" font-family="'Liberation Sans', Arial, sans-serif" font-weight="normal" stroke="#1e1e1e" stroke-width="0.18" transform="rotate(-5 111.5 150.2)">10</text>
<text x="120.5" y="147.9" font-size="6" text-anchor="middle" dominant-baseline="central" fill="#1e1e1e" font-family="'Liberation Sans', Arial, sans-serif" font-weight="normal" stroke="#1e1e1e" stroke-width="0.18" transform="rotate(-5 120.5 147.9)">20</text>
<text x="129.5" y="145.4" font-size="6" text-anchor="middle" dominant-baseline="central" fill="#1e1e1e" font-family="'Liberation Sans', Arial, sans-serif" font-weight="normal" stroke="#1e1e1e" stroke-width="0.18" transform="rotate(-5 129.5 145.4)">30</text>
<text x="138.5" y="142.9" font-size="6" text-anchor="middle" dominant-baseline="central" fill="#1e1e1e" font-family="'Liberation Sans', Arial, sans-serif" font-weight="normal" stroke="#1e1e1e" stroke-width="0.18" transform="rotate(-5 138.5 142.9)">40</text>
<text x="147.0" y="140.4" font-size="6" text-anchor="middle" dominant-baseline="central" fill="#1e1e1e" font-family="'Liberation Sans', Arial, sans-serif" font-weight="normal" stroke="#1e1e1e" stroke-width="0.18" transform="rotate(-5 147.0 140.4)">50</text>
<text x="156.0" y="138.4" font-size="6" text-anchor="middle" dominant-baseline="central" fill="#1e1e1e" font-family="'Liberation Sans', Arial, sans-serif" font-weight="normal" stroke="#1e1e1e" stroke-width="0.18" transform="rotate(-5 156.0 138.4)">60</text>
<text x="164.5" y="136.4" font-size="6" text-anchor="middle" dominant-baseline="central" fill="#1e1e1e" font-family="'Liberation Sans', Arial, sans-serif" font-weight="normal" stroke="#1e1e1e" stroke-width="0.18" transform="rotate(-5 164.5 136.4)">70</text>
<text x="173.5" y="134.4" font-size="6" text-anchor="middle" dominant-baseline="central" fill="#1e1e1e" font-family="'Liberation Sans', Arial, sans-serif" font-weight="normal" stroke="#1e1e1e" stroke-width="0.18" transform="rotate(-5 173.5 134.4)">80</text>
<text x="182.5" y="132.4" font-size="6" text-anchor="middle" dominant-baseline="central" fill="#1e1e1e" font-family="'Liberation Sans', Arial, sans-serif" font-weight="normal" stroke="#1e1e1e" stroke-width="0.18" transform="rotate(-5 182.5 132.4)">90</text>
<text x="193.0" y="130.3" font-size="6" text-anchor="middle" dominant-baseline="central" fill="#1e1e1e" font-family="'Liberation Sans', Arial, sans-serif" font-weight="normal" stroke="#1e1e1e" stroke-width="0.18" transform="rotate(-5 193.0 130.3)">100</text>
<g clip-path="url(#clip1)"><rect x="19.0" y="38" width="2.3" height="95" fill="url(#g1)"/><rect x="21.0" y="38" width="2.3" height="95" fill="url(#g2)"/><rect x="23.0" y="38" width="2.3" height="95" fill="url(#g3)"/><rect x="25.0" y="38" width="2.3" height="95" fill="url(#g4)"/><rect x="27.0" y="38" width="2.3" height="95" fill="url(#g5)"/><rect x="29.0" y="38" width="2.3" height="95" fill="url(#g6)"/><rect x="31.0" y="38" width="2.3" height="95" fill="url(#g7)"/><rect x="33.0" y="38" width="2.3" height="95" fill="url(#g8)"/><rect x="35.0" y="38" width="2.3" height="95" fill="url(#g9)"/><rect x="37.0" y="38" width="2.3" height="95" fill="url(#g10)"/><rect x="39.0" y="38" width="2.3" height="95" fill="url(#g11)"/><rect x="41.0" y="38" width="2.3" height="95" fill="url(#g12)"/><rect x="43.0" y="38" width="2.3" height="95" fill="url(#g13)"/><rect x="45.0" y="38" width="2.3" height="95" fill="url(#g14)"/><rect x="47.0" y="38" width="2.3" height="95" fill="url(#g15)"/><rect x="49.0" y="38" width="2.3" height="95" fill="url(#g16)"/><rect x="51.0" y="38" width="2.3" height="95" fill="url(#g17)"/><rect x="53.0" y="38" width="2.3" height="95" fill="url(#g18)"/><rect x="55.0" y="38" width="2.3" height="95" fill="url(#g19)"/><rect x="57.0" y="38" width="2.3" height="95" fill="url(#g20)"/><rect x="59.0" y="38" width="2.3" height="95" fill="url(#g21)"/><rect x="61.0" y="38" width="2.3" height="95" fill="url(#g22)"/><rect x="63.0" y="38" width="2.3" height="95" fill="url(#g23)"/><rect x="65.0" y="38" width="2.3" height="95" fill="url(#g24)"/><rect x="67.0" y="38" width="2.3" height="95" fill="url(#g25)"/><rect x="69.0" y="38" width="2.3" height="95" fill="url(#g26)"/><rect x="71.0" y="38" width="2.3" height="95" fill="url(#g27)"/><rect x="73.0" y="38" width="2.3" height="95" fill="url(#g28)"/><rect x="75.0" y="38" width="2.3" height="95" fill="url(#g29)"/><rect x="77.0" y="38" width="2.3" height="95" fill="url(#g30)"/><rect x="79.0" y="38" width="2.3" height="95" fill="url(#g31)"/><rect x="81.0" y="38" width="2.3" height="95" fill="url(#g32)"/><rect x="83.0" y="38" width="2.3" height="95" fill="url(#g33)"/><rect x="85.0" y="38" width="2.3" height="95" fill="url(#g34)"/><rect x="87.0" y="38" width="2.3" height="95" fill="url(#g35)"/><rect x="89.0" y="38" width="2.3" height="95" fill="url(#g36)"/><rect x="91.0" y="38" width="2.3" height="95" fill="url(#g37)"/><rect x="93.0" y="38" width="2.3" height="95" fill="url(#g38)"/><rect x="95.0" y="38" width="2.3" height="95" fill="url(#g39)"/><rect x="97.0" y="38" width="2.3" height="95" fill="url(#g40)"/><rect x="99.0" y="38" width="2.3" height="95" fill="url(#g41)"/><rect x="101.0" y="38" width="2.3" height="95" fill="url(#g42)"/><rect x="103.0" y="38" width="2.3" height="95" fill="url(#g43)"/><rect x="105.0" y="38" width="2.3" height="95" fill="url(#g44)"/><rect x="107.0" y="38" width="2.3" height="95" fill="url(#g45)"/><rect x="109.0" y="38" width="2.3" height="95" fill="url(#g46)"/><rect x="111.0" y="38" width="2.3" height="95" fill="url(#g47)"/><rect x="113.0" y="38" width="2.3" height="95" fill="url(#g48)"/><rect x="115.0" y="38" width="2.3" height="95" fill="url(#g49)"/><rect x="117.0" y="38" width="2.3" height="95" fill="url(#g50)"/><rect x="119.0" y="38" width="2.3" height="95" fill="url(#g51)"/><rect x="121.0" y="38" width="2.3" height="95" fill="url(#g52)"/><rect x="123.0" y="38" width="2.3" height="95" fill="url(#g53)"/><rect x="125.0" y="38" width="2.3" height="95" fill="url(#g54)"/><rect x="127.0" y="38" width="2.3" height="95" fill="url(#g55)"/><rect x="129.0" y="38" width="2.3" height="95" fill="url(#g56)"/><rect x="131.0" y="38" width="2.3" height="95" fill="url(#g57)"/><rect x="133.0" y="38" width="2.3" height="95" fill="url(#g58)"/><rect x="135.0" y="38" width="2.3" height="95" fill="url(#g59)"/><rect x="137.0" y="38" width="2.3" height="95" fill="url(#g60)"/><rect x="139.0" y="38" width="2.3" height="95" fill="url(#g61)"/><rect x="141.0" y="38" width="2.3" height="95" fill="url(#g62)"/><rect x="143.0" y="38" width="2.3" height="95" fill="url(#g63)"/><rect x="145.0" y="38" width="2.3" height="95" fill="url(#g64)"/><rect x="147.0" y="38" width="2.3" height="95" fill="url(#g65)"/><rect x="149.0" y="38" width="2.3" height="95" fill="url(#g66)"/><rect x="151.0" y="38" width="2.3" height="95" fill="url(#g67)"/><rect x="153.0" y="38" width="2.3" height="95" fill="url(#g68)"/><rect x="155.0" y="38" width="2.3" height="95" fill="url(#g69)"/><rect x="157.0" y="38" width="2.3" height="95" fill="url(#g70)"/><rect x="159.0" y="38" width="2.3" height="95" fill="url(#g71)"/><rect x="161.0" y="38" width="2.3" height="95" fill="url(#g72)"/><rect x="163.0" y="38" width="2.3" height="95" fill="url(#g73)"/><rect x="165.0" y="38" width="2.3" height="95" fill="url(#g74)"/><rect x="167.0" y="38" width="2.3" height="95" fill="url(#g75)"/><rect x="169.0" y="38" width="2.3" height="95" fill="url(#g76)"/><rect x="171.0" y="38" width="2.3" height="95" fill="url(#g77)"/><rect x="173.0" y="38" width="2.3" height="95" fill="url(#g78)"/><rect x="175.0" y="38" width="2.3" height="95" fill="url(#g79)"/><rect x="177.0" y="38" width="2.3" height="95" fill="url(#g80)"/><rect x="179.0" y="38" width="2.3" height="95" fill="url(#g81)"/><rect x="181.0" y="38" width="2.3" height="95" fill="url(#g82)"/><rect x="183.0" y="38" width="2.3" height="95" fill="url(#g83)"/><rect x="185.0" y="38" width="2.3" height="95" fill="url(#g84)"/><rect x="187.0" y="38" width="2.3" height="95" fill="url(#g85)"/><rect x="189.0" y="38" width="2.3" height="95" fill="url(#g86)"/></g>
<polyline points="23.0,99.6 23.0,96.0 38.0,82.0" fill="none" stroke="#33e033" stroke-width="1.1" stroke-dasharray="1.8,0.7,0.7,0.7" stroke-linecap="butt" stroke-linejoin="round"/>
<polyline points="23.0,99.6 37.5,86.4" fill="none" stroke="#2424dc" stroke-width="1.1" stroke-linecap="butt" stroke-linejoin="round"/>
<polyline points="23.0,99.6 37.5,86.4" fill="none" stroke="#e82e2e" stroke-width="1.0" stroke-dasharray="1.5,2.3" stroke-linecap="butt" stroke-linejoin="round"/>
<polyline points="77.2,63.3 85.9,63.3 101.8,60.1 117.7,57.7 122.5,56.9 130.4,58.5 135.0,60.9 140.0,64.7 146.0,66.7 150.0,68.6 155.0,72.5 160.0,78.4 165.0,84.8 174.0,97.0" fill="none" stroke="#2424dc" stroke-width="1.1" stroke-linecap="butt" stroke-linejoin="round"/>
<polyline points="77.2,63.3 85.9,63.3 101.8,60.1 117.7,57.7 122.5,56.9 130.4,58.5 135.0,60.9 140.0,64.7 146.0,66.7 150.0,68.6 155.0,72.5 160.0,78.4 165.0,84.8 174.0,97.0" fill="none" stroke="#e82e2e" stroke-width="1.0" stroke-dasharray="1.5,2.3" stroke-linecap="butt" stroke-linejoin="round"/>
<polygon points="16.4,7.6 71.5,7.6 71.5,28.4 16.4,28.4" fill="#ffffff" stroke="#8a8a8a" stroke-width="0.6"/>
<polyline points="18.3,12.0 33.4,12.0" fill="none" stroke="#2ee62e" stroke-width="1.1" stroke-dasharray="1.8,0.7,0.7,0.7" stroke-linecap="butt" stroke-linejoin="round"/>
<text x="35.6" y="12.2" font-size="4.85" text-anchor="start" dominant-baseline="central" fill="#1e1e1e" font-family="'Liberation Sans', Arial, sans-serif" font-weight="normal" stroke="#1e1e1e" stroke-width="0.18">JPS3d</text>
<polyline points="18.3,18.3 33.4,18.3" fill="none" stroke="#f23030" stroke-width="1.3" stroke-dasharray="2.8,2.0" stroke-linecap="butt" stroke-linejoin="round"/>
<text x="35.6" y="18.5" font-size="4.85" text-anchor="start" dominant-baseline="central" fill="#1e1e1e" font-family="'Liberation Sans', Arial, sans-serif" font-weight="normal" stroke="#1e1e1e" stroke-width="0.18">PNP-JPS3d</text>
<polyline points="18.3,24.8 33.4,24.8" fill="none" stroke="#3030f0" stroke-width="1.3" stroke-linecap="butt" stroke-linejoin="round"/>
<text x="35.6" y="25.0" font-size="4.85" text-anchor="start" dominant-baseline="central" fill="#1e1e1e" font-family="'Liberation Sans', Arial, sans-serif" font-weight="normal" stroke="#1e1e1e" stroke-width="0.18">OP-PNP-JPS3d</text>
<text x="101.5" y="170.0" font-size="9" text-anchor="middle" dominant-baseline="central" fill="#222" font-family="'Liberation Serif', 'Times New Roman', serif" font-weight="bold">(a)</text>
<polygon points="222.0,86.5 312.8,152.8 397.5,84.0 306.7,17.7" fill="#8e8e8e"/>
<polygon points="326.0,34.0 340.0,42.0 360.0,56.0 380.0,70.0 397.5,84.0 385.0,93.0 365.0,108.0 345.0,124.0 335.0,131.0 318.0,118.0 312.0,100.0 316.0,80.0 320.0,55.0" fill="#989898"/>
<g clip-path="url(#tc1)"><line x1="350.7" y1="88.3" x2="350.7" y2="103.4" stroke="#b9b9b9" stroke-width="0.5" opacity="0.8"/><line x1="351.8" y1="83.3" x2="351.8" y2="94.3" stroke="#b9b9b9" stroke-width="0.5" opacity="0.8"/><line x1="327.8" y1="83.7" x2="327.8" y2="95.2" stroke="#b9b9b9" stroke-width="0.5" opacity="0.8"/><line x1="379.8" y1="43.1" x2="379.8" y2="50.8" stroke="#b9b9b9" stroke-width="0.5" opacity="0.8"/><line x1="319.8" y1="112.5" x2="319.8" y2="124.9" stroke="#b9b9b9" stroke-width="0.5" opacity="0.8"/><line x1="315.6" y1="129.3" x2="315.6" y2="144.8" stroke="#b9b9b9" stroke-width="0.5" opacity="0.8"/><line x1="367.9" y1="93.7" x2="367.9" y2="99.6" stroke="#b9b9b9" stroke-width="0.5" opacity="0.8"/><line x1="313.3" y1="85.3" x2="313.3" y2="90.0" stroke="#b9b9b9" stroke-width="0.5" opacity="0.8"/><line x1="328.3" y1="57.5" x2="328.3" y2="61.8" stroke="#b9b9b9" stroke-width="0.5" opacity="0.8"/><line x1="351.7" y1="76.7" x2="351.7" y2="90.8" stroke="#b9b9b9" stroke-width="0.5" opacity="0.8"/><line x1="356.4" y1="96.1" x2="356.4" y2="106.1" stroke="#b9b9b9" stroke-width="0.5" opacity="0.8"/><line x1="368.6" y1="78.4" x2="368.6" y2="85.7" stroke="#b9b9b9" stroke-width="0.5" opacity="0.8"/><line x1="397.3" y1="130.6" x2="397.3" y2="144.7" stroke="#b9b9b9" stroke-width="0.5" opacity="0.8"/><line x1="372.5" y1="64.6" x2="372.5" y2="71.3" stroke="#b9b9b9" stroke-width="0.5" opacity="0.8"/><line x1="336.7" y1="40.8" x2="336.7" y2="54.0" stroke="#b9b9b9" stroke-width="0.5" opacity="0.8"/><line x1="346.2" y1="116.1" x2="346.2" y2="124.8" stroke="#b9b9b9" stroke-width="0.5" opacity="0.8"/><line x1="393.9" y1="116.2" x2="393.9" y2="120.2" stroke="#b9b9b9" stroke-width="0.5" opacity="0.8"/><line x1="329.9" y1="122.3" x2="329.9" y2="131.9" stroke="#b9b9b9" stroke-width="0.5" opacity="0.8"/><line x1="395.8" y1="72.6" x2="395.8" y2="77.4" stroke="#b9b9b9" stroke-width="0.5" opacity="0.8"/><line x1="365.8" y1="109.5" x2="365.8" y2="116.8" stroke="#b9b9b9" stroke-width="0.5" opacity="0.8"/><line x1="319.5" y1="66.3" x2="319.5" y2="81.8" stroke="#b9b9b9" stroke-width="0.5" opacity="0.8"/><line x1="376.8" y1="45.4" x2="376.8" y2="52.4" stroke="#b9b9b9" stroke-width="0.5" opacity="0.8"/><line x1="320.6" y1="39.8" x2="320.6" y2="53.4" stroke="#b9b9b9" stroke-width="0.5" opacity="0.8"/><line x1="327.2" y1="88.3" x2="327.2" y2="97.6" stroke="#b9b9b9" stroke-width="0.5" opacity="0.8"/><line x1="328.3" y1="105.0" x2="328.3" y2="110.6" stroke="#b9b9b9" stroke-width="0.5" opacity="0.8"/><line x1="367.0" y1="45.3" x2="367.0" y2="54.4" stroke="#b9b9b9" stroke-width="0.5" opacity="0.8"/><line x1="330.2" y1="60.2" x2="330.2" y2="75.8" stroke="#b9b9b9" stroke-width="0.5" opacity="0.8"/><line x1="380.7" y1="63.5" x2="380.7" y2="78.1" stroke="#b9b9b9" stroke-width="0.5" opacity="0.8"/><line x1="330.0" y1="72.2" x2="330.0" y2="86.5" stroke="#b9b9b9" stroke-width="0.5" opacity="0.8"/><line x1="366.9" y1="43.7" x2="366.9" y2="59.6" stroke="#b9b9b9" stroke-width="0.5" opacity="0.8"/><line x1="330.2" y1="59.1" x2="330.2" y2="72.3" stroke="#b9b9b9" stroke-width="0.5" opacity="0.8"/><line x1="340.1" y1="62.7" x2="340.1" y2="67.6" stroke="#b9b9b9" stroke-width="0.5" opacity="0.8"/><line x1="319.7" y1="90.5" x2="319.7" y2="97.4" stroke="#b9b9b9" stroke-width="0.5" opacity="0.8"/><line x1="363.4" y1="70.1" x2="363.4" y2="79.5" stroke="#b9b9b9" stroke-width="0.5" opacity="0.8"/><line x1="394.0" y1="80.9" x2="394.0" y2="91.8" stroke="#b9b9b9" stroke-width="0.5" opacity="0.8"/><line x1="386.1" y1="51.7" x2="386.1" y2="57.6" stroke="#b9b9b9" stroke-width="0.5" opacity="0.8"/><line x1="389.7" y1="113.3" x2="389.7" y2="120.3" stroke="#b9b9b9" stroke-width="0.5" opacity="0.8"/><line x1="328.2" y1="105.7" x2="328.2" y2="121.0" stroke="#b9b9b9" stroke-width="0.5" opacity="0.8"/><line x1="328.8" y1="126.2" x2="328.8" y2="140.7" stroke="#b9b9b9" stroke-width="0.5" opacity="0.8"/><line x1="363.6" y1="74.9" x2="363.6" y2="80.1" stroke="#b9b9b9" stroke-width="0.5" opacity="0.8"/><line x1="315.3" y1="127.4" x2="315.3" y2="134.2" stroke="#b9b9b9" stroke-width="0.5" opacity="0.8"/><line x1="372.2" y1="58.9" x2="372.2" y2="72.8" stroke="#b9b9b9" stroke-width="0.5" opacity="0.8"/><line x1="363.0" y1="62.5" x2="363.0" y2="68.6" stroke="#b9b9b9" stroke-width="0.5" opacity="0.8"/><line x1="373.6" y1="40.7" x2="373.6" y2="47.4" stroke="#b9b9b9" stroke-width="0.5" opacity="0.8"/><line x1="359.8" y1="116.7" x2="359.8" y2="128.1" stroke="#b9b9b9" stroke-width="0.5" opacity="0.8"/><line x1="336.0" y1="123.0" x2="336.0" y2="129.4" stroke="#b9b9b9" stroke-width="0.5" opacity="0.8"/><line x1="313.4" y1="60.1" x2="313.4" y2="69.5" stroke="#b9b9b9" stroke-width="0.5" opacity="0.8"/><line x1="317.2" y1="51.1" x2="317.2" y2="59.5" stroke="#b9b9b9" stroke-width="0.5" opacity="0.8"/><line x1="360.9" y1="46.8" x2="360.9" y2="55.1" stroke="#b9b9b9" stroke-width="0.5" opacity="0.8"/><line x1="388.2" y1="129.1" x2="388.2" y2="141.0" stroke="#b9b9b9" stroke-width="0.5" opacity="0.8"/><line x1="371.1" y1="90.7" x2="371.1" y2="96.4" stroke="#b9b9b9" stroke-width="0.5" opacity="0.8"/><line x1="315.0" y1="35.7" x2="315.0" y2="50.7" stroke="#b9b9b9" stroke-width="0.5" opacity="0.8"/><line x1="371.9" y1="127.4" x2="371.9" y2="131.6" stroke="#b9b9b9" stroke-width="0.5" opacity="0.8"/><line x1="366.4" y1="80.8" x2="366.4" y2="93.5" stroke="#b9b9b9" stroke-width="0.5" opacity="0.8"/><line x1="339.3" y1="130.9" x2="339.3" y2="135.8" stroke="#b9b9b9" stroke-width="0.5" opacity="0.8"/><line x1="358.7" y1="105.5" x2="358.7" y2="120.3" stroke="#b9b9b9" stroke-width="0.5" opacity="0.8"/><line x1="375.0" y1="102.3" x2="375.0" y2="115.8" stroke="#b9b9b9" stroke-width="0.5" opacity="0.8"/><line x1="390.2" y1="68.1" x2="390.2" y2="80.3" stroke="#b9b9b9" stroke-width="0.5" opacity="0.8"/><line x1="389.0" y1="118.5" x2="389.0" y2="127.5" stroke="#b9b9b9" stroke-width="0.5" opacity="0.8"/><line x1="379.6" y1="117.8" x2="379.6" y2="128.6" stroke="#b9b9b9" stroke-width="0.5" opacity="0.8"/><line x1="365.4" y1="71.1" x2="365.4" y2="82.1" stroke="#b9b9b9" stroke-width="0.5" opacity="0.8"/><line x1="364.1" y1="41.8" x2="364.1" y2="53.5" stroke="#b9b9b9" stroke-width="0.5" opacity="0.8"/><line x1="396.9" y1="119.3" x2="396.9" y2="132.1" stroke="#b9b9b9" stroke-width="0.5" opacity="0.8"/><line x1="345.2" y1="105.3" x2="345.2" y2="116.3" stroke="#b9b9b9" stroke-width="0.5" opacity="0.8"/><line x1="349.7" y1="115.3" x2="349.7" y2="120.3" stroke="#b9b9b9" stroke-width="0.5" opacity="0.8"/><line x1="376.1" y1="36.9" x2="376.1" y2="48.1" stroke="#b9b9b9" stroke-width="0.5" opacity="0.8"/><line x1="353.1" y1="56.3" x2="353.1" y2="68.7" stroke="#b9b9b9" stroke-width="0.5" opacity="0.8"/><line x1="354.5" y1="93.6" x2="354.5" y2="108.7" stroke="#b9b9b9" stroke-width="0.5" opacity="0.8"/><line x1="333.9" y1="35.1" x2="333.9" y2="42.7" stroke="#b9b9b9" stroke-width="0.5" opacity="0.8"/><line x1="370.0" y1="53.6" x2="370.0" y2="59.7" stroke="#b9b9b9" stroke-width="0.5" opacity="0.8"/><line x1="389.4" y1="98.0" x2="389.4" y2="107.3" stroke="#b9b9b9" stroke-width="0.5" opacity="0.8"/><line x1="388.2" y1="65.7" x2="388.2" y2="77.7" stroke="#b9b9b9" stroke-width="0.5" opacity="0.8"/><line x1="329.0" y1="75.8" x2="329.0" y2="89.5" stroke="#b9b9b9" stroke-width="0.5" opacity="0.8"/><line x1="390.2" y1="119.4" x2="390.2" y2="128.0" stroke="#b9b9b9" stroke-width="0.5" opacity="0.8"/><line x1="361.9" y1="64.7" x2="361.9" y2="70.3" stroke="#b9b9b9" stroke-width="0.5" opacity="0.8"/><line x1="354.4" y1="115.2" x2="354.4" y2="129.4" stroke="#b9b9b9" stroke-width="0.5" opacity="0.8"/><line x1="372.8" y1="126.2" x2="372.8" y2="133.5" stroke="#b9b9b9" stroke-width="0.5" opacity="0.8"/><line x1="326.5" y1="77.7" x2="326.5" y2="85.0" stroke="#b9b9b9" stroke-width="0.5" opacity="0.8"/><line x1="330.3" y1="74.2" x2="330.3" y2="85.7" stroke="#b9b9b9" stroke-width="0.5" opacity="0.8"/><line x1="354.2" y1="64.6" x2="354.2" y2="78.7" stroke="#b9b9b9" stroke-width="0.5" opacity="0.8"/><line x1="396.0" y1="77.9" x2="396.0" y2="82.8" stroke="#b9b9b9" stroke-width="0.5" opacity="0.8"/><line x1="314.7" y1="118.7" x2="314.7" y2="123.2" stroke="#b9b9b9" stroke-width="0.5" opacity="0.8"/><line x1="372.6" y1="89.3" x2="372.6" y2="97.1" stroke="#b9b9b9" stroke-width="0.5" opacity="0.8"/><line x1="379.7" y1="35.9" x2="379.7" y2="41.5" stroke="#b9b9b9" stroke-width="0.5" opacity="0.8"/><line x1="350.9" y1="36.4" x2="350.9" y2="50.4" stroke="#b9b9b9" stroke-width="0.5" opacity="0.8"/><line x1="332.3" y1="47.7" x2="332.3" y2="52.2" stroke="#b9b9b9" stroke-width="0.5" opacity="0.8"/><line x1="365.8" y1="77.3" x2="365.8" y2="88.9" stroke="#b9b9b9" stroke-width="0.5" opacity="0.8"/><line x1="368.0" y1="112.3" x2="368.0" y2="127.8" stroke="#b9b9b9" stroke-width="0.5" opacity="0.8"/><line x1="370.5" y1="53.3" x2="370.5" y2="63.0" stroke="#b9b9b9" stroke-width="0.5" opacity="0.8"/><line x1="327.3" y1="35.0" x2="327.3" y2="44.7" stroke="#b9b9b9" stroke-width="0.5" opacity="0.8"/></g>
<polygon points="245.0,90.0 270.0,82.0 292.0,76.0 300.0,90.0 305.0,110.0 312.0,150.0 300.0,143.0 280.0,130.0 260.0,116.0 245.0,105.0" fill="#929292"/>
<g clip-path="url(#tc2)"><line x1="276.8" y1="124.7" x2="276.8" y2="135.3" stroke="#b9b9b9" stroke-width="0.5" opacity="0.8"/><line x1="254.6" y1="76.8" x2="254.6" y2="84.6" stroke="#b9b9b9" stroke-width="0.5" opacity="0.8"/><line x1="263.4" y1="136.0" x2="263.4" y2="146.9" stroke="#b9b9b9" stroke-width="0.5" opacity="0.8"/><line x1="285.3" y1="117.3" x2="285.3" y2="127.9" stroke="#b9b9b9" stroke-width="0.5" opacity="0.8"/><line x1="254.7" y1="108.6" x2="254.7" y2="114.2" stroke="#b9b9b9" stroke-width="0.5" opacity="0.8"/><line x1="305.7" y1="80.4" x2="305.7" y2="92.5" stroke="#b9b9b9" stroke-width="0.5" opacity="0.8"/><line x1="250.0" y1="126.8" x2="250.0" y2="134.2" stroke="#b9b9b9" stroke-width="0.5" opacity="0.8"/><line x1="272.1" y1="138.3" x2="272.1" y2="142.5" stroke="#b9b9b9" stroke-width="0.5" opacity="0.8"/><line x1="249.1" y1="143.7" x2="249.1" y2="152.8" stroke="#b9b9b9" stroke-width="0.5" opacity="0.8"/><line x1="251.1" y1="149.0" x2="251.1" y2="162.5" stroke="#b9b9b9" stroke-width="0.5" opacity="0.8"/><line x1="252.5" y1="107.3" x2="252.5" y2="112.7" stroke="#b9b9b9" stroke-width="0.5" opacity="0.8"/><line x1="265.9" y1="122.0" x2="265.9" y2="127.6" stroke="#b9b9b9" stroke-width="0.5" opacity="0.8"/><line x1="291.7" y1="79.8" x2="291.7" y2="85.5" stroke="#b9b9b9" stroke-width="0.5" opacity="0.8"/><line x1="299.7" y1="105.6" x2="299.7" y2="113.8" stroke="#b9b9b9" stroke-width="0.5" opacity="0.8"/><line x1="284.9" y1="111.3" x2="284.9" y2="119.1" stroke="#b9b9b9" stroke-width="0.5" opacity="0.8"/><line x1="247.0" y1="129.7" x2="247.0" y2="143.4" stroke="#b9b9b9" stroke-width="0.5" opacity="0.8"/><line x1="310.4" y1="125.1" x2="310.4" y2="132.7" stroke="#b9b9b9" stroke-width="0.5" opacity="0.8"/><line x1="269.3" y1="127.1" x2="269.3" y2="137.8" stroke="#b9b9b9" stroke-width="0.5" opacity="0.8"/><line x1="252.6" y1="93.4" x2="252.6" y2="101.0" stroke="#b9b9b9" stroke-width="0.5" opacity="0.8"/><line x1="279.3" y1="135.9" x2="279.3" y2="144.9" stroke="#b9b9b9" stroke-width="0.5" opacity="0.8"/><line x1="246.9" y1="136.9" x2="246.9" y2="145.2" stroke="#b9b9b9" stroke-width="0.5" opacity="0.8"/><line x1="279.8" y1="92.4" x2="279.8" y2="100.7" stroke="#b9b9b9" stroke-width="0.5" opacity="0.8"/><line x1="271.0" y1="133.1" x2="271.0" y2="138.1" stroke="#b9b9b9" stroke-width="0.5" opacity="0.8"/><line x1="281.8" y1="89.2" x2="281.8" y2="100.1" stroke="#b9b9b9" stroke-width="0.5" opacity="0.8"/><line x1="247.5" y1="96.5" x2="247.5" y2="103.9" stroke="#b9b9b9" stroke-width="0.5" opacity="0.8"/><line x1="287.7" y1="79.9" x2="287.7" y2="88.4" stroke="#b9b9b9" stroke-width="0.5" opacity="0.8"/><line x1="259.0" y1="96.9" x2="259.0" y2="105.6" stroke="#b9b9b9" stroke-width="0.5" opacity="0.8"/><line x1="309.2" y1="111.6" x2="309.2" y2="125.2" stroke="#b9b9b9" stroke-width="0.5" opacity="0.8"/><line x1="256.2" y1="144.4" x2="256.2" y2="152.0" stroke="#b9b9b9" stroke-width="0.5" opacity="0.8"/><line x1="257.7" y1="131.4" x2="257.7" y2="144.5" stroke="#b9b9b9" stroke-width="0.5" opacity="0.8"/><line x1="245.4" y1="95.9" x2="245.4" y2="107.6" stroke="#b9b9b9" stroke-width="0.5" opacity="0.8"/><line x1="267.9" y1="93.9" x2="267.9" y2="98.0" stroke="#b9b9b9" stroke-width="0.5" opacity="0.8"/><line x1="247.7" y1="121.8" x2="247.7" y2="135.6" stroke="#b9b9b9" stroke-width="0.5" opacity="0.8"/><line x1="311.9" y1="113.3" x2="311.9" y2="117.5" stroke="#b9b9b9" stroke-width="0.5" opacity="0.8"/><line x1="266.6" y1="134.3" x2="266.6" y2="146.6" stroke="#b9b9b9" stroke-width="0.5" opacity="0.8"/><line x1="287.8" y1="93.0" x2="287.8" y2="102.3" stroke="#b9b9b9" stroke-width="0.5" opacity="0.8"/><line x1="277.0" y1="122.4" x2="277.0" y2="129.0" stroke="#b9b9b9" stroke-width="0.5" opacity="0.8"/><line x1="308.4" y1="142.2" x2="308.4" y2="147.8" stroke="#b9b9b9" stroke-width="0.5" opacity="0.8"/><line x1="264.5" y1="140.6" x2="264.5" y2="147.4" stroke="#b9b9b9" stroke-width="0.5" opacity="0.8"/><line x1="308.2" y1="114.1" x2="308.2" y2="125.1" stroke="#b9b9b9" stroke-width="0.5" opacity="0.8"/><line x1="292.2" y1="91.8" x2="292.2" y2="98.7" stroke="#b9b9b9" stroke-width="0.5" opacity="0.8"/><line x1="262.1" y1="126.6" x2="262.1" y2="137.5" stroke="#b9b9b9" stroke-width="0.5" opacity="0.8"/><line x1="253.8" y1="141.6" x2="253.8" y2="149.8" stroke="#b9b9b9" stroke-width="0.5" opacity="0.8"/><line x1="261.2" y1="108.2" x2="261.2" y2="122.0" stroke="#b9b9b9" stroke-width="0.5" opacity="0.8"/><line x1="282.5" y1="122.2" x2="282.5" y2="135.4" stroke="#b9b9b9" stroke-width="0.5" opacity="0.8"/></g>
<polygon points="229.0,76.0 235.0,70.0 245.0,62.0 253.0,62.0 256.0,80.0 253.0,98.0 240.0,95.0 229.0,90.0" fill="#9c9c9c"/>
<g clip-path="url(#tc3)"><line x1="236.0" y1="86.7" x2="236.0" y2="101.9" stroke="#b9b9b9" stroke-width="0.5" opacity="0.8"/><line x1="251.9" y1="68.7" x2="251.9" y2="77.1" stroke="#b9b9b9" stroke-width="0.5" opacity="0.8"/><line x1="233.0" y1="70.1" x2="233.0" y2="86.1" stroke="#b9b9b9" stroke-width="0.5" opacity="0.8"/><line x1="232.5" y1="81.1" x2="232.5" y2="89.3" stroke="#b9b9b9" stroke-width="0.5" opacity="0.8"/><line x1="237.0" y1="77.5" x2="237.0" y2="95.1" stroke="#b9b9b9" stroke-width="0.5" opacity="0.8"/><line x1="245.4" y1="62.5" x2="245.4" y2="71.7" stroke="#b9b9b9" stroke-width="0.5" opacity="0.8"/><line x1="233.0" y1="93.4" x2="233.0" y2="110.5" stroke="#b9b9b9" stroke-width="0.5" opacity="0.8"/><line x1="250.8" y1="91.7" x2="250.8" y2="107.9" stroke="#b9b9b9" stroke-width="0.5" opacity="0.8"/><line x1="254.6" y1="90.6" x2="254.6" y2="99.4" stroke="#b9b9b9" stroke-width="0.5" opacity="0.8"/><line x1="251.9" y1="79.5" x2="251.9" y2="95.8" stroke="#b9b9b9" stroke-width="0.5" opacity="0.8"/><line x1="244.2" y1="77.5" x2="244.2" y2="87.9" stroke="#b9b9b9" stroke-width="0.5" opacity="0.8"/><line x1="240.6" y1="73.3" x2="240.6" y2="80.1" stroke="#b9b9b9" stroke-width="0.5" opacity="0.8"/><line x1="251.1" y1="90.7" x2="251.1" y2="110.5" stroke="#b9b9b9" stroke-width="0.5" opacity="0.8"/><line x1="247.7" y1="82.0" x2="247.7" y2="98.2" stroke="#b9b9b9" stroke-width="0.5" opacity="0.8"/><line x1="232.6" y1="86.4" x2="232.6" y2="98.0" stroke="#b9b9b9" stroke-width="0.5" opacity="0.8"/><line x1="233.8" y1="69.3" x2="233.8" y2="82.1" stroke="#b9b9b9" stroke-width="0.5" opacity="0.8"/><line x1="235.8" y1="78.5" x2="235.8" y2="92.6" stroke="#b9b9b9" stroke-width="0.5" opacity="0.8"/><line x1="239.7" y1="66.7" x2="239.7" y2="79.1" stroke="#b9b9b9" stroke-width="0.5" opacity="0.8"/><line x1="235.4" y1="70.5" x2="235.4" y2="78.4" stroke="#b9b9b9" stroke-width="0.5" opacity="0.8"/><line x1="238.9" y1="64.6" x2="238.9" y2="79.4" stroke="#b9b9b9" stroke-width="0.5" opacity="0.8"/><line x1="254.7" y1="76.0" x2="254.7" y2="91.8" stroke="#b9b9b9" stroke-width="0.5" opacity="0.8"/><line x1="254.2" y1="63.6" x2="254.2" y2="70.7" stroke="#b9b9b9" stroke-width="0.5" opacity="0.8"/><line x1="250.8" y1="92.2" x2="250.8" y2="106.8" stroke="#b9b9b9" stroke-width="0.5" opacity="0.8"/><line x1="233.3" y1="76.9" x2="233.3" y2="94.9" stroke="#b9b9b9" stroke-width="0.5" opacity="0.8"/><line x1="252.9" y1="90.9" x2="252.9" y2="99.0" stroke="#b9b9b9" stroke-width="0.5" opacity="0.8"/><line x1="252.0" y1="75.5" x2="252.0" y2="91.2" stroke="#b9b9b9" stroke-width="0.5" opacity="0.8"/><line x1="232.7" y1="97.0" x2="232.7" y2="111.0" stroke="#b9b9b9" stroke-width="0.5" opacity="0.8"/><line x1="248.5" y1="69.6" x2="248.5" y2="83.9" stroke="#b9b9b9" stroke-width="0.5" opacity="0.8"/><line x1="244.7" y1="83.3" x2="244.7" y2="93.7" stroke="#b9b9b9" stroke-width="0.5" opacity="0.8"/><line x1="248.6" y1="74.3" x2="248.6" y2="83.7" stroke="#b9b9b9" stroke-width="0.5" opacity="0.8"/></g>
<polygon points="339.5,35.0 339.6,35.1 339.6,52.0 339.5,51.9" fill="#999999"/>
<polygon points="339.6,35.1 341.0,34.0 341.0,50.9 339.6,52.0" fill="#8d8d8d"/>
<polygon points="339.5,35.0 339.6,35.1 341.0,34.0 340.9,33.9" fill="#a2a2a2"/>
<polyline points="339.5,51.9 339.5,35.0 339.6,35.1 341.0,34.0 341.0,50.9" fill="none" stroke="#b8b8b8" stroke-width="0.4" stroke-linecap="butt" stroke-linejoin="round"/>
<line x1="339.6" y1="35.1" x2="339.6" y2="52.0" stroke="#b8b8b8" stroke-width="0.4"/>
<polygon points="344.0,28.0 344.6,28.4 344.6,55.0 344.0,54.6" fill="#999999"/>
<polygon points="344.6,28.4 346.0,27.3 346.0,53.9 344.6,55.0" fill="#8d8d8d"/>
<polygon points="344.0,28.0 344.6,28.4 346.0,27.3 345.4,26.9" fill="#a2a2a2"/>
<polyline points="344.0,54.6 344.0,28.0 344.6,28.4 346.0,27.3 346.0,53.9" fill="none" stroke="#b8b8b8" stroke-width="0.4" stroke-linecap="butt" stroke-linejoin="round"/>
<line x1="344.6" y1="28.4" x2="344.6" y2="55.0" stroke="#b8b8b8" stroke-width="0.4"/>
<polygon points="348.0,30.5 354.5,35.2 354.5,58.0 348.0,53.3" fill="#999999"/>
<polygon points="354.5,35.2 356.0,34.0 356.0,56.8 354.5,58.0" fill="#8d8d8d"/>
<polygon points="348.0,30.5 354.5,35.2 356.0,34.0 349.5,29.3" fill="#a2a2a2"/>
<polyline points="348.0,53.3 348.0,30.5 354.5,35.2 356.0,34.0 356.0,56.8" fill="none" stroke="#b8b8b8" stroke-width="0.4" stroke-linecap="butt" stroke-linejoin="round"/>
<line x1="354.5" y1="35.2" x2="354.5" y2="58.0" stroke="#b8b8b8" stroke-width="0.4"/>
<line x1="350.0" y1="32.5" x2="350.0" y2="53.7" stroke="#b4b4b4" stroke-width="0.45" opacity="0.7"/>
<line x1="352.8" y1="34.5" x2="352.8" y2="55.6" stroke="#b4b4b4" stroke-width="0.45" opacity="0.7"/>
<polygon points="362.0,42.5 363.0,43.2 363.0,62.0 362.0,61.3" fill="#999999"/>
<polygon points="363.0,43.2 364.5,42.0 364.5,60.8 363.0,62.0" fill="#8d8d8d"/>
<polygon points="362.0,42.5 363.0,43.2 364.5,42.0 363.5,41.3" fill="#a2a2a2"/>
<polyline points="362.0,61.3 362.0,42.5 363.0,43.2 364.5,42.0 364.5,60.8" fill="none" stroke="#b8b8b8" stroke-width="0.4" stroke-linecap="butt" stroke-linejoin="round"/>
<line x1="363.0" y1="43.2" x2="363.0" y2="62.0" stroke="#b8b8b8" stroke-width="0.4"/>
<polygon points="326.0,38.0 334.7,44.3 334.7,70.0 326.0,63.7" fill="#999999"/>
<polygon points="334.7,44.3 340.0,40.0 340.0,65.7 334.7,70.0" fill="#8d8d8d"/>
<polygon points="326.0,38.0 334.7,44.3 340.0,40.0 331.3,33.7" fill="#a2a2a2"/>
<polyline points="326.0,63.7 326.0,38.0 334.7,44.3 340.0,40.0 340.0,65.7" fill="none" stroke="#b8b8b8" stroke-width="0.4" stroke-linecap="butt" stroke-linejoin="round"/>
<line x1="334.7" y1="44.3" x2="334.7" y2="70.0" stroke="#b8b8b8" stroke-width="0.4"/>
<line x1="327.9" y1="39.9" x2="327.9" y2="56.4" stroke="#b4b4b4" stroke-width="0.45" opacity="0.7"/>
<line x1="330.4" y1="41.7" x2="330.4" y2="61.1" stroke="#858585" stroke-width="0.45" opacity="0.7"/>
<line x1="333.6" y1="44.1" x2="333.6" y2="65.2" stroke="#b4b4b4" stroke-width="0.45" opacity="0.7"/>
<line x1="336.1" y1="43.7" x2="336.1" y2="67.1" stroke="#b4b4b4" stroke-width="0.45" opacity="0.7"/>
<line x1="338.5" y1="41.7" x2="338.5" y2="61.5" stroke="#858585" stroke-width="0.45" opacity="0.7"/>
<polygon points="349.3,54.0 362.6,63.7 362.6,74.0 349.3,64.3" fill="#999999"/>
<polygon points="362.6,63.7 374.6,54.0 374.6,64.3 362.6,74.0" fill="#8d8d8d"/>
<polygon points="349.3,54.0 362.6,63.7 374.6,54.0 361.3,44.3" fill="#a2a2a2"/>
<polyline points="349.3,64.3 349.3,54.0 362.6,63.7 374.6,54.0 374.6,64.3" fill="none" stroke="#b8b8b8" stroke-width="0.4" stroke-linecap="butt" stroke-linejoin="round"/>
<line x1="362.6" y1="63.7" x2="362.6" y2="74.0" stroke="#b8b8b8" stroke-width="0.4"/>
<line x1="350.5" y1="55.4" x2="350.5" y2="63.5" stroke="#b4b4b4" stroke-width="0.45" opacity="0.7"/>
<line x1="352.7" y1="56.9" x2="352.7" y2="66.3" stroke="#b4b4b4" stroke-width="0.45" opacity="0.7"/>
<line x1="354.7" y1="58.4" x2="354.7" y2="67.8" stroke="#b4b4b4" stroke-width="0.45" opacity="0.7"/>
<line x1="357.2" y1="60.3" x2="357.2" y2="66.1" stroke="#858585" stroke-width="0.45" opacity="0.7"/>
<line x1="359.4" y1="61.9" x2="359.4" y2="68.1" stroke="#858585" stroke-width="0.45" opacity="0.7"/>
<line x1="361.5" y1="63.4" x2="361.5" y2="69.3" stroke="#b4b4b4" stroke-width="0.45" opacity="0.7"/>
<line x1="363.6" y1="63.4" x2="363.6" y2="73.1" stroke="#b4b4b4" stroke-width="0.45" opacity="0.7"/>
<line x1="366.5" y1="61.0" x2="366.5" y2="67.2" stroke="#858585" stroke-width="0.45" opacity="0.7"/>
<line x1="368.8" y1="59.2" x2="368.8" y2="65.9" stroke="#b4b4b4" stroke-width="0.45" opacity="0.7"/>
<line x1="370.8" y1="57.6" x2="370.8" y2="66.2" stroke="#b4b4b4" stroke-width="0.45" opacity="0.7"/>
<line x1="373.1" y1="55.7" x2="373.1" y2="61.9" stroke="#b4b4b4" stroke-width="0.45" opacity="0.7"/>
<polygon points="224.8,70.0 225.1,70.2 225.1,86.0 224.8,85.8" fill="#999999"/>
<polygon points="225.1,70.2 226.2,69.3 226.2,85.1 225.1,86.0" fill="#8d8d8d"/>
<polygon points="224.8,70.0 225.1,70.2 226.2,69.3 225.9,69.1" fill="#a2a2a2"/>
<polyline points="224.8,85.8 224.8,70.0 225.1,70.2 226.2,69.3 226.2,85.1" fill="none" stroke="#b8b8b8" stroke-width="0.4" stroke-linecap="butt" stroke-linejoin="round"/>
<line x1="225.1" y1="70.2" x2="225.1" y2="86.0" stroke="#b8b8b8" stroke-width="0.4"/>
<polygon points="382.6,57.4 394.5,66.1 394.5,86.0 382.6,77.3" fill="#999999"/>
<polygon points="394.5,66.1 394.6,66.0 394.6,85.9 394.5,86.0" fill="#8d8d8d"/>
<polygon points="382.6,57.4 394.5,66.1 394.6,66.0 382.7,57.3" fill="#a2a2a2"/>
<polyline points="382.6,77.3 382.6,57.4 394.5,66.1 394.6,66.0 394.6,85.9" fill="none" stroke="#b8b8b8" stroke-width="0.4" stroke-linecap="butt" stroke-linejoin="round"/>
<line x1="394.5" y1="66.1" x2="394.5" y2="86.0" stroke="#b8b8b8" stroke-width="0.4"/>
<line x1="383.8" y1="58.8" x2="383.8" y2="71.1" stroke="#b4b4b4" stroke-width="0.45" opacity="0.7"/>
<line x1="385.9" y1="60.3" x2="385.9" y2="74.5" stroke="#858585" stroke-width="0.45" opacity="0.7"/>
<line x1="388.3" y1="62.1" x2="388.3" y2="77.7" stroke="#b4b4b4" stroke-width="0.45" opacity="0.7"/>
<line x1="390.9" y1="64.0" x2="390.9" y2="79.0" stroke="#b4b4b4" stroke-width="0.45" opacity="0.7"/>
<line x1="393.6" y1="66.0" x2="393.6" y2="79.3" stroke="#858585" stroke-width="0.45" opacity="0.7"/>
<polygon points="330.0,60.0 341.8,68.6 341.8,88.0 330.0,79.4" fill="#999999"/>
<polygon points="341.8,68.6 350.0,62.0 350.0,81.4 341.8,88.0" fill="#8d8d8d"/>
<polygon points="330.0,60.0 341.8,68.6 350.0,62.0 338.2,53.4" fill="#a2a2a2"/>
<polyline points="330.0,79.4 330.0,60.0 341.8,68.6 350.0,62.0 350.0,81.4" fill="none" stroke="#b8b8b8" stroke-width="0.4" stroke-linecap="butt" stroke-linejoin="round"/>
<line x1="341.8" y1="68.6" x2="341.8" y2="88.0" stroke="#b8b8b8" stroke-width="0.4"/>
<line x1="331.5" y1="61.6" x2="331.5" y2="78.6" stroke="#b4b4b4" stroke-width="0.45" opacity="0.7"/>
<line x1="333.6" y1="63.1" x2="333.6" y2="78.6" stroke="#b4b4b4" stroke-width="0.45" opacity="0.7"/>
<line x1="336.2" y1="65.0" x2="336.2" y2="78.8" stroke="#b4b4b4" stroke-width="0.45" opacity="0.7"/>
<line x1="338.6" y1="66.8" x2="338.6" y2="80.2" stroke="#858585" stroke-width="0.45" opacity="0.7"/>
<line x1="340.4" y1="68.1" x2="340.4" y2="80.2" stroke="#858585" stroke-width="0.45" opacity="0.7"/>
<line x1="343.6" y1="67.7" x2="343.6" y2="79.9" stroke="#b4b4b4" stroke-width="0.45" opacity="0.7"/>
<line x1="346.0" y1="65.8" x2="346.0" y2="80.4" stroke="#b4b4b4" stroke-width="0.45" opacity="0.7"/>
<line x1="348.4" y1="63.8" x2="348.4" y2="76.4" stroke="#b4b4b4" stroke-width="0.45" opacity="0.7"/>
<polygon points="226.5,78.0 228.0,79.1 228.0,91.0 226.5,89.9" fill="#999999"/>
<polygon points="228.0,79.1 230.5,77.0 230.5,88.9 228.0,91.0" fill="#8d8d8d"/>
<polygon points="226.5,78.0 228.0,79.1 230.5,77.0 229.0,75.9" fill="#a2a2a2"/>
<polyline points="226.5,89.9 226.5,78.0 228.0,79.1 230.5,77.0 230.5,88.9" fill="none" stroke="#b8b8b8" stroke-width="0.4" stroke-linecap="butt" stroke-linejoin="round"/>
<line x1="228.0" y1="79.1" x2="228.0" y2="91.0" stroke="#b8b8b8" stroke-width="0.4"/>
<line x1="229.5" y1="78.3" x2="229.5" y2="87.5" stroke="#b4b4b4" stroke-width="0.45" opacity="0.7"/>
<polygon points="231.0,65.0 232.7,66.3 232.7,93.0 231.0,91.7" fill="#999999"/>
<polygon points="232.7,66.3 235.0,64.4 235.0,91.1 232.7,93.0" fill="#8d8d8d"/>
<polygon points="231.0,65.0 232.7,66.3 235.0,64.4 233.3,63.1" fill="#a2a2a2"/>
<polyline points="231.0,91.7 231.0,65.0 232.7,66.3 235.0,64.4 235.0,91.1" fill="none" stroke="#b8b8b8" stroke-width="0.4" stroke-linecap="butt" stroke-linejoin="round"/>
<line x1="232.7" y1="66.3" x2="232.7" y2="93.0" stroke="#b8b8b8" stroke-width="0.4"/>
<line x1="234.1" y1="65.6" x2="234.1" y2="89.5" stroke="#858585" stroke-width="0.45" opacity="0.7"/>
<polygon points="235.0,60.0 236.6,61.2 236.6,95.0 235.0,93.8" fill="#999999"/>
<polygon points="236.6,61.2 238.5,59.6 238.5,93.4 236.6,95.0" fill="#8d8d8d"/>
<polygon points="235.0,60.0 236.6,61.2 238.5,59.6 236.9,58.4" fill="#a2a2a2"/>
<polyline points="235.0,93.8 235.0,60.0 236.6,61.2 238.5,59.6 238.5,93.4" fill="none" stroke="#b8b8b8" stroke-width="0.4" stroke-linecap="butt" stroke-linejoin="round"/>
<line x1="236.6" y1="61.2" x2="236.6" y2="95.0" stroke="#b8b8b8" stroke-width="0.4"/>
<polygon points="267.5,82.5 275.2,88.1 275.2,96.0 267.5,90.4" fill="#959595"/>
<polygon points="275.2,88.1 291.3,75.0 291.3,82.9 275.2,96.0" fill="#8b8b8b"/>
<polygon points="267.5,82.5 275.2,88.1 291.3,75.0 283.6,69.4" fill="#939393"/>
<polyline points="267.5,90.4 267.5,82.5 275.2,88.1 291.3,75.0 291.3,82.9" fill="none" stroke="#b8b8b8" stroke-width="0.4" stroke-linecap="butt" stroke-linejoin="round"/>
<line x1="275.2" y1="88.1" x2="275.2" y2="96.0" stroke="#b8b8b8" stroke-width="0.4"/>
<line x1="268.4" y1="83.7" x2="268.4" y2="88.6" stroke="#adadad" stroke-width="0.45" opacity="0.7"/>
<line x1="271.5" y1="85.9" x2="271.5" y2="90.2" stroke="#858585" stroke-width="0.45" opacity="0.7"/>
<line x1="273.6" y1="87.5" x2="273.6" y2="92.5" stroke="#858585" stroke-width="0.45" opacity="0.7"/>
<line x1="276.1" y1="87.8" x2="276.1" y2="95.1" stroke="#858585" stroke-width="0.45" opacity="0.7"/>
<line x1="278.7" y1="85.8" x2="278.7" y2="90.2" stroke="#858585" stroke-width="0.45" opacity="0.7"/>
<line x1="280.8" y1="84.0" x2="280.8" y2="91.2" stroke="#858585" stroke-width="0.45" opacity="0.7"/>
<line x1="282.9" y1="82.3" x2="282.9" y2="88.0" stroke="#858585" stroke-width="0.45" opacity="0.7"/>
<line x1="285.6" y1="80.2" x2="285.6" y2="86.6" stroke="#adadad" stroke-width="0.45" opacity="0.7"/>
<line x1="287.9" y1="78.3" x2="287.9" y2="84.5" stroke="#adadad" stroke-width="0.45" opacity="0.7"/>
<line x1="290.1" y1="76.5" x2="290.1" y2="81.4" stroke="#adadad" stroke-width="0.45" opacity="0.7"/>
<polygon points="241.3,55.0 251.8,62.7 251.8,100.0 241.3,92.3" fill="#999999"/>
<polygon points="251.8,62.7 252.0,62.5 252.0,99.8 251.8,100.0" fill="#8d8d8d"/>
<polygon points="241.3,55.0 251.8,62.7 252.0,62.5 241.5,54.8" fill="#a2a2a2"/>
<polyline points="241.3,92.3 241.3,55.0 251.8,62.7 252.0,62.5 252.0,99.8" fill="none" stroke="#b8b8b8" stroke-width="0.4" stroke-linecap="butt" stroke-linejoin="round"/>
<line x1="251.8" y1="62.7" x2="251.8" y2="100.0" stroke="#b8b8b8" stroke-width="0.4"/>
<line x1="242.7" y1="56.5" x2="242.7" y2="93.0" stroke="#858585" stroke-width="0.45" opacity="0.7"/>
<line x1="245.6" y1="58.6" x2="245.6" y2="83.5" stroke="#858585" stroke-width="0.45" opacity="0.7"/>
<line x1="247.5" y1="60.0" x2="247.5" y2="95.3" stroke="#858585" stroke-width="0.45" opacity="0.7"/>
<line x1="250.2" y1="62.0" x2="250.2" y2="84.8" stroke="#b4b4b4" stroke-width="0.45" opacity="0.7"/>
<polygon points="245.0,72.0 247.0,73.4 247.0,100.0 245.0,98.6" fill="#999999"/>
<polygon points="247.0,73.4 250.0,71.0 250.0,97.6 247.0,100.0" fill="#8d8d8d"/>
<polygon points="245.0,72.0 247.0,73.4 250.0,71.0 248.0,69.6" fill="#a2a2a2"/>
<polyline points="245.0,98.6 245.0,72.0 247.0,73.4 250.0,71.0 250.0,97.6" fill="none" stroke="#b8b8b8" stroke-width="0.4" stroke-linecap="butt" stroke-linejoin="round"/>
<line x1="247.0" y1="73.4" x2="247.0" y2="100.0" stroke="#b8b8b8" stroke-width="0.4"/>
<line x1="248.7" y1="72.5" x2="248.7" y2="94.5" stroke="#858585" stroke-width="0.45" opacity="0.7"/>
<polygon points="365.0,75.0 376.2,83.2 376.2,100.0 365.0,91.8" fill="#999999"/>
<polygon points="376.2,83.2 385.0,76.0 385.0,92.8 376.2,100.0" fill="#8d8d8d"/>
<polygon points="365.0,75.0 376.2,83.2 385.0,76.0 373.8,67.8" fill="#a2a2a2"/>
<polyline points="365.0,91.8 365.0,75.0 376.2,83.2 385.0,76.0 385.0,92.8" fill="none" stroke="#b8b8b8" stroke-width="0.4" stroke-linecap="butt" stroke-linejoin="round"/>
<line x1="376.2" y1="83.2" x2="376.2" y2="100.0" stroke="#b8b8b8" stroke-width="0.4"/>
<line x1="366.3" y1="76.4" x2="366.3" y2="89.9" stroke="#858585" stroke-width="0.45" opacity="0.7"/>
<line x1="368.7" y1="78.2" x2="368.7" y2="91.6" stroke="#858585" stroke-width="0.45" opacity="0.7"/>
<line x1="370.7" y1="79.7" x2="370.7" y2="90.2" stroke="#858585" stroke-width="0.45" opacity="0.7"/>
<line x1="372.7" y1="81.1" x2="372.7" y2="91.4" stroke="#858585" stroke-width="0.45" opacity="0.7"/>
<line x1="375.3" y1="83.0" x2="375.3" y2="94.6" stroke="#858585" stroke-width="0.45" opacity="0.7"/>
<line x1="377.2" y1="82.9" x2="377.2" y2="95.2" stroke="#b4b4b4" stroke-width="0.45" opacity="0.7"/>
<line x1="379.8" y1="80.7" x2="379.8" y2="94.5" stroke="#b4b4b4" stroke-width="0.45" opacity="0.7"/>
<line x1="381.5" y1="79.3" x2="381.5" y2="92.3" stroke="#858585" stroke-width="0.45" opacity="0.7"/>
<line x1="383.6" y1="77.7" x2="383.6" y2="87.7" stroke="#b4b4b4" stroke-width="0.45" opacity="0.7"/>
<polygon points="292.0,96.0 306.5,106.6 306.5,118.0 292.0,107.4" fill="#999999"/>
<polygon points="306.5,106.6 319.5,96.0 319.5,107.4 306.5,118.0" fill="#8d8d8d"/>
<polygon points="292.0,96.0 306.5,106.6 319.5,96.0 305.0,85.4" fill="#a2a2a2"/>
<polyline points="292.0,107.4 292.0,96.0 306.5,106.6 319.5,96.0 319.5,107.4" fill="none" stroke="#b8b8b8" stroke-width="0.4" stroke-linecap="butt" stroke-linejoin="round"/>
<line x1="306.5" y1="106.6" x2="306.5" y2="118.0" stroke="#b8b8b8" stroke-width="0.4"/>
<line x1="293.5" y1="97.6" x2="293.5" y2="105.9" stroke="#b4b4b4" stroke-width="0.45" opacity="0.7"/>
<line x1="295.6" y1="99.2" x2="295.6" y2="106.2" stroke="#b4b4b4" stroke-width="0.45" opacity="0.7"/>
<line x1="298.1" y1="101.0" x2="298.1" y2="107.7" stroke="#b4b4b4" stroke-width="0.45" opacity="0.7"/>
<line x1="300.6" y1="102.8" x2="300.6" y2="109.4" stroke="#858585" stroke-width="0.45" opacity="0.7"/>
<line x1="303.0" y1="104.5" x2="303.0" y2="112.7" stroke="#b4b4b4" stroke-width="0.45" opacity="0.7"/>
<line x1="305.5" y1="106.3" x2="305.5" y2="113.9" stroke="#b4b4b4" stroke-width="0.45" opacity="0.7"/>
<line x1="307.7" y1="106.1" x2="307.7" y2="115.4" stroke="#b4b4b4" stroke-width="0.45" opacity="0.7"/>
<line x1="310.4" y1="103.9" x2="310.4" y2="110.9" stroke="#858585" stroke-width="0.45" opacity="0.7"/>
<line x1="313.0" y1="101.8" x2="313.0" y2="110.1" stroke="#b4b4b4" stroke-width="0.45" opacity="0.7"/>
<line x1="315.9" y1="99.4" x2="315.9" y2="109.4" stroke="#858585" stroke-width="0.45" opacity="0.7"/>
<line x1="318.4" y1="97.4" x2="318.4" y2="104.0" stroke="#b4b4b4" stroke-width="0.45" opacity="0.7"/>
<polygon points="350.0,90.0 360.8,97.9 360.8,118.0 350.0,110.1" fill="#999999"/>
<polygon points="360.8,97.9 368.0,92.0 368.0,112.1 360.8,118.0" fill="#8d8d8d"/>
<polygon points="350.0,90.0 360.8,97.9 368.0,92.0 357.2,84.1" fill="#a2a2a2"/>
<polyline points="350.0,110.1 350.0,90.0 360.8,97.9 368.0,92.0 368.0,112.1" fill="none" stroke="#b8b8b8" stroke-width="0.4" stroke-linecap="butt" stroke-linejoin="round"/>
<line x1="360.8" y1="97.9" x2="360.8" y2="118.0" stroke="#b8b8b8" stroke-width="0.4"/>
<line x1="351.7" y1="91.7" x2="351.7" y2="104.7" stroke="#b4b4b4" stroke-width="0.45" opacity="0.7"/>
<line x1="354.2" y1="93.6" x2="354.2" y2="106.2" stroke="#858585" stroke-width="0.45" opacity="0.7"/>
<line x1="356.5" y1="95.2" x2="356.5" y2="109.3" stroke="#b4b4b4" stroke-width="0.45" opacity="0.7"/>
<line x1="359.4" y1="97.4" x2="359.4" y2="114.6" stroke="#b4b4b4" stroke-width="0.45" opacity="0.7"/>
<line x1="361.9" y1="97.4" x2="361.9" y2="112.0" stroke="#b4b4b4" stroke-width="0.45" opacity="0.7"/>
<line x1="364.6" y1="95.3" x2="364.6" y2="109.6" stroke="#858585" stroke-width="0.45" opacity="0.7"/>
<line x1="366.9" y1="93.4" x2="366.9" y2="109.4" stroke="#858585" stroke-width="0.45" opacity="0.7"/>
<polygon points="288.0,92.0 308.1,106.7 308.1,120.0 288.0,105.3" fill="#959595"/>
<polygon points="308.1,106.7 309.0,106.0 309.0,119.3 308.1,120.0" fill="#8b8b8b"/>
<polygon points="288.0,92.0 308.1,106.7 309.0,106.0 288.9,91.3" fill="#939393"/>
<polyline points="288.0,105.3 288.0,92.0 308.1,106.7 309.0,106.0 309.0,119.3" fill="none" stroke="#b8b8b8" stroke-width="0.4" stroke-linecap="butt" stroke-linejoin="round"/>
<line x1="308.1" y1="106.7" x2="308.1" y2="120.0" stroke="#b8b8b8" stroke-width="0.4"/>
<line x1="289.2" y1="93.4" x2="289.2" y2="104.2" stroke="#adadad" stroke-width="0.45" opacity="0.7"/>
<line x1="291.4" y1="95.0" x2="291.4" y2="103.5" stroke="#858585" stroke-width="0.45" opacity="0.7"/>
<line x1="293.7" y1="96.7" x2="293.7" y2="106.4" stroke="#858585" stroke-width="0.45" opacity="0.7"/>
<line x1="295.7" y1="98.1" x2="295.7" y2="109.1" stroke="#adadad" stroke-width="0.45" opacity="0.7"/>
<line x1="298.4" y1="100.1" x2="298.4" y2="110.9" stroke="#adadad" stroke-width="0.45" opacity="0.7"/>
<line x1="300.2" y1="101.4" x2="300.2" y2="110.9" stroke="#adadad" stroke-width="0.45" opacity="0.7"/>
<line x1="302.3" y1="102.9" x2="302.3" y2="113.7" stroke="#adadad" stroke-width="0.45" opacity="0.7"/>
<line x1="305.0" y1="104.9" x2="305.0" y2="116.0" stroke="#adadad" stroke-width="0.45" opacity="0.7"/>
<line x1="307.4" y1="106.6" x2="307.4" y2="115.3" stroke="#adadad" stroke-width="0.45" opacity="0.7"/>
<polygon points="280.0,95.0 300.2,109.8 300.2,125.0 280.0,110.2" fill="#959595"/>
<polygon points="300.2,109.8 301.5,108.7 301.5,123.9 300.2,125.0" fill="#8b8b8b"/>
<polygon points="280.0,95.0 300.2,109.8 301.5,108.7 281.3,93.9" fill="#939393"/>
<polyline points="280.0,110.2 280.0,95.0 300.2,109.8 301.5,108.7 301.5,123.9" fill="none" stroke="#b8b8b8" stroke-width="0.4" stroke-linecap="butt" stroke-linejoin="round"/>
<line x1="300.2" y1="109.8" x2="300.2" y2="125.0" stroke="#b8b8b8" stroke-width="0.4"/>
<line x1="281.1" y1="96.3" x2="281.1" y2="106.0" stroke="#adadad" stroke-width="0.45" opacity="0.7"/>
<line x1="283.1" y1="97.8" x2="283.1" y2="110.6" stroke="#858585" stroke-width="0.45" opacity="0.7"/>
<line x1="285.3" y1="99.4" x2="285.3" y2="113.8" stroke="#adadad" stroke-width="0.45" opacity="0.7"/>
<line x1="287.8" y1="101.2" x2="287.8" y2="114.6" stroke="#858585" stroke-width="0.45" opacity="0.7"/>
<line x1="290.2" y1="102.9" x2="290.2" y2="112.7" stroke="#adadad" stroke-width="0.45" opacity="0.7"/>
<line x1="292.6" y1="104.7" x2="292.6" y2="115.9" stroke="#858585" stroke-width="0.45" opacity="0.7"/>
<line x1="294.6" y1="106.2" x2="294.6" y2="116.9" stroke="#858585" stroke-width="0.45" opacity="0.7"/>
<line x1="296.9" y1="107.8" x2="296.9" y2="117.3" stroke="#858585" stroke-width="0.45" opacity="0.7"/>
<line x1="299.1" y1="109.4" x2="299.1" y2="121.2" stroke="#858585" stroke-width="0.45" opacity="0.7"/>
<polygon points="330.0,100.0 341.2,108.2 341.2,128.0 330.0,119.8" fill="#999999"/>
<polygon points="341.2,108.2 350.0,101.0 350.0,120.8 341.2,128.0" fill="#8d8d8d"/>
<polygon points="330.0,100.0 341.2,108.2 350.0,101.0 338.8,92.8" fill="#a2a2a2"/>
<polyline points="330.0,119.8 330.0,100.0 341.2,108.2 350.0,101.0 350.0,120.8" fill="none" stroke="#b8b8b8" stroke-width="0.4" stroke-linecap="butt" stroke-linejoin="round"/>
<line x1="341.2" y1="108.2" x2="341.2" y2="128.0" stroke="#b8b8b8" stroke-width="0.4"/>
<line x1="330.9" y1="101.1" x2="330.9" y2="115.8" stroke="#858585" stroke-width="0.45" opacity="0.7"/>
<line x1="333.0" y1="102.7" x2="333.0" y2="120.7" stroke="#858585" stroke-width="0.45" opacity="0.7"/>
<line x1="335.3" y1="104.4" x2="335.3" y2="115.8" stroke="#858585" stroke-width="0.45" opacity="0.7"/>
<line x1="337.9" y1="106.3" x2="337.9" y2="120.0" stroke="#858585" stroke-width="0.45" opacity="0.7"/>
<line x1="340.0" y1="107.8" x2="340.0" y2="124.8" stroke="#858585" stroke-width="0.45" opacity="0.7"/>
<line x1="342.4" y1="107.7" x2="342.4" y2="125.2" stroke="#b4b4b4" stroke-width="0.45" opacity="0.7"/>
<line x1="344.5" y1="105.9" x2="344.5" y2="121.2" stroke="#858585" stroke-width="0.45" opacity="0.7"/>
<line x1="347.0" y1="103.9" x2="347.0" y2="122.0" stroke="#858585" stroke-width="0.45" opacity="0.7"/>
<line x1="348.6" y1="102.6" x2="348.6" y2="115.0" stroke="#858585" stroke-width="0.45" opacity="0.7"/>
<polygon points="262.0,96.0 280.6,109.5 280.6,128.0 262.0,114.5" fill="#959595"/>
<polygon points="280.6,109.5 280.0,110.0 280.0,128.5 280.6,128.0" fill="#8b8b8b"/>
<polygon points="262.0,96.0 280.6,109.5 280.0,110.0 261.4,96.5" fill="#939393"/>
<polyline points="262.0,114.5 262.0,96.0 280.6,109.5 280.0,110.0 280.0,128.5" fill="none" stroke="#b8b8b8" stroke-width="0.4" stroke-linecap="butt" stroke-linejoin="round"/>
<line x1="280.6" y1="109.5" x2="280.6" y2="128.0" stroke="#b8b8b8" stroke-width="0.4"/>
<line x1="263.0" y1="97.2" x2="263.0" y2="112.0" stroke="#858585" stroke-width="0.45" opacity="0.7"/>
<line x1="265.7" y1="99.2" x2="265.7" y2="112.0" stroke="#858585" stroke-width="0.45" opacity="0.7"/>
<line x1="267.5" y1="100.5" x2="267.5" y2="114.5" stroke="#adadad" stroke-width="0.45" opacity="0.7"/>
<line x1="270.3" y1="102.5" x2="270.3" y2="117.9" stroke="#adadad" stroke-width="0.45" opacity="0.7"/>
<line x1="272.2" y1="104.0" x2="272.2" y2="117.6" stroke="#858585" stroke-width="0.45" opacity="0.7"/>
<line x1="274.6" y1="105.7" x2="274.6" y2="121.9" stroke="#adadad" stroke-width="0.45" opacity="0.7"/>
<line x1="277.1" y1="107.5" x2="277.1" y2="122.9" stroke="#adadad" stroke-width="0.45" opacity="0.7"/>
<line x1="279.4" y1="109.2" x2="279.4" y2="123.1" stroke="#858585" stroke-width="0.45" opacity="0.7"/>
<polygon points="300.0,110.0 310.8,117.9 310.8,138.0 300.0,130.1" fill="#999999"/>
<polygon points="310.8,117.9 318.0,112.0 318.0,132.1 310.8,138.0" fill="#8d8d8d"/>
<polygon points="300.0,110.0 310.8,117.9 318.0,112.0 307.2,104.1" fill="#a2a2a2"/>
<polyline points="300.0,130.1 300.0,110.0 310.8,117.9 318.0,112.0 318.0,132.1" fill="none" stroke="#b8b8b8" stroke-width="0.4" stroke-linecap="butt" stroke-linejoin="round"/>
<line x1="310.8" y1="117.9" x2="310.8" y2="138.0" stroke="#b8b8b8" stroke-width="0.4"/>
<line x1="301.1" y1="111.3" x2="301.1" y2="127.2" stroke="#b4b4b4" stroke-width="0.45" opacity="0.7"/>
<line x1="304.0" y1="113.4" x2="304.0" y2="128.6" stroke="#858585" stroke-width="0.45" opacity="0.7"/>
<line x1="306.5" y1="115.3" x2="306.5" y2="134.1" stroke="#b4b4b4" stroke-width="0.45" opacity="0.7"/>
<line x1="309.5" y1="117.4" x2="309.5" y2="131.9" stroke="#858585" stroke-width="0.45" opacity="0.7"/>
<line x1="312.1" y1="117.3" x2="312.1" y2="132.5" stroke="#858585" stroke-width="0.45" opacity="0.7"/>
<line x1="314.7" y1="115.1" x2="314.7" y2="132.4" stroke="#858585" stroke-width="0.45" opacity="0.7"/>
<line x1="317.0" y1="113.3" x2="317.0" y2="127.3" stroke="#858585" stroke-width="0.45" opacity="0.7"/>
<polygon points="299.5,20.0 314.0,30.6 314.0,62.0 299.5,51.4" fill="#929292"/>
<polygon points="314.0,30.6 327.0,20.0 327.0,51.4 314.0,62.0" fill="#8a8a8a"/>
<polygon points="299.5,20.0 314.0,30.6 327.0,20.0 312.5,9.4" fill="#959595"/>
<polyline points="299.5,51.4 299.5,20.0 314.0,30.6 327.0,20.0 327.0,51.4" fill="none" stroke="#b5b5b5" stroke-width="0.4" stroke-linecap="butt" stroke-linejoin="round"/>
<line x1="314.0" y1="30.6" x2="314.0" y2="62.0" stroke="#b5b5b5" stroke-width="0.4"/>
<g clip-path="url(#tc4)"><line x1="310.0" y1="22.8" x2="310.0" y2="26.9" stroke="#b9b9b9" stroke-width="0.6" opacity="0.85"/><line x1="315.4" y1="46.2" x2="320.7" y2="41.9" stroke="#b9b9b9" stroke-width="0.6" opacity="0.85"/><line x1="319.6" y1="40.4" x2="312.8" y2="35.4" stroke="#b9b9b9" stroke-width="0.6" opacity="0.85"/><line x1="322.6" y1="33.4" x2="325.8" y2="30.8" stroke="#b9b9b9" stroke-width="0.6" opacity="0.85"/><line x1="319.4" y1="19.5" x2="313.3" y2="15.1" stroke="#b9b9b9" stroke-width="0.6" opacity="0.85"/><line x1="301.1" y1="51.0" x2="301.1" y2="54.2" stroke="#b9b9b9" stroke-width="0.6" opacity="0.85"/><line x1="322.6" y1="22.0" x2="316.1" y2="17.2" stroke="#b9b9b9" stroke-width="0.6" opacity="0.85"/><line x1="302.9" y1="45.2" x2="302.9" y2="49.0" stroke="#b9b9b9" stroke-width="0.6" opacity="0.85"/><line x1="318.4" y1="61.0" x2="321.1" y2="58.9" stroke="#b9b9b9" stroke-width="0.6" opacity="0.85"/><line x1="316.5" y1="42.0" x2="316.5" y2="46.3" stroke="#b9b9b9" stroke-width="0.6" opacity="0.85"/><line x1="322.8" y1="26.4" x2="319.5" y2="24.0" stroke="#b9b9b9" stroke-width="0.6" opacity="0.85"/><line x1="310.7" y1="44.8" x2="315.7" y2="40.8" stroke="#b9b9b9" stroke-width="0.6" opacity="0.85"/><line x1="300.1" y1="17.9" x2="295.1" y2="14.2" stroke="#b9b9b9" stroke-width="0.6" opacity="0.85"/><line x1="311.2" y1="49.0" x2="311.2" y2="55.7" stroke="#b9b9b9" stroke-width="0.6" opacity="0.85"/><line x1="317.5" y1="27.4" x2="320.6" y2="24.9" stroke="#b9b9b9" stroke-width="0.6" opacity="0.85"/><line x1="300.6" y1="55.0" x2="293.2" y2="49.6" stroke="#b9b9b9" stroke-width="0.6" opacity="0.85"/><line x1="302.5" y1="44.7" x2="302.5" y2="48.6" stroke="#b9b9b9" stroke-width="0.6" opacity="0.85"/><line x1="317.5" y1="49.2" x2="311.7" y2="44.9" stroke="#b9b9b9" stroke-width="0.6" opacity="0.85"/><line x1="322.8" y1="60.0" x2="319.0" y2="57.3" stroke="#b9b9b9" stroke-width="0.6" opacity="0.85"/><line x1="319.7" y1="45.7" x2="314.9" y2="42.2" stroke="#b9b9b9" stroke-width="0.6" opacity="0.85"/><line x1="326.1" y1="25.1" x2="322.5" y2="22.4" stroke="#b9b9b9" stroke-width="0.6" opacity="0.85"/><line x1="307.1" y1="56.8" x2="307.1" y2="62.1" stroke="#b9b9b9" stroke-width="0.6" opacity="0.85"/><line x1="309.9" y1="56.1" x2="303.3" y2="51.3" stroke="#b9b9b9" stroke-width="0.6" opacity="0.85"/><line x1="305.4" y1="19.4" x2="307.9" y2="17.3" stroke="#b9b9b9" stroke-width="0.6" opacity="0.85"/><line x1="317.8" y1="14.3" x2="314.1" y2="11.5" stroke="#b9b9b9" stroke-width="0.6" opacity="0.85"/><line x1="303.8" y1="27.8" x2="300.1" y2="25.1" stroke="#b9b9b9" stroke-width="0.6" opacity="0.85"/><line x1="302.8" y1="61.9" x2="297.0" y2="57.6" stroke="#b9b9b9" stroke-width="0.6" opacity="0.85"/><line x1="314.7" y1="36.4" x2="314.7" y2="46.2" stroke="#b9b9b9" stroke-width="0.6" opacity="0.85"/><line x1="322.1" y1="12.5" x2="322.1" y2="19.6" stroke="#b9b9b9" stroke-width="0.6" opacity="0.85"/><line x1="317.1" y1="37.2" x2="322.9" y2="32.4" stroke="#b9b9b9" stroke-width="0.6" opacity="0.85"/><line x1="319.5" y1="51.0" x2="316.7" y2="48.9" stroke="#b9b9b9" stroke-width="0.6" opacity="0.85"/><line x1="315.9" y1="29.0" x2="315.9" y2="36.7" stroke="#b9b9b9" stroke-width="0.6" opacity="0.85"/><line x1="324.4" y1="26.7" x2="324.4" y2="30.8" stroke="#b9b9b9" stroke-width="0.6" opacity="0.85"/><line x1="316.3" y1="53.3" x2="323.4" y2="47.6" stroke="#b9b9b9" stroke-width="0.6" opacity="0.85"/><line x1="315.7" y1="26.5" x2="308.7" y2="21.4" stroke="#b9b9b9" stroke-width="0.6" opacity="0.85"/><line x1="306.1" y1="36.5" x2="311.6" y2="32.0" stroke="#b9b9b9" stroke-width="0.6" opacity="0.85"/><line x1="304.5" y1="35.2" x2="301.7" y2="33.1" stroke="#b9b9b9" stroke-width="0.6" opacity="0.85"/><line x1="325.3" y1="53.1" x2="325.3" y2="56.5" stroke="#b9b9b9" stroke-width="0.6" opacity="0.85"/><line x1="319.2" y1="47.1" x2="316.6" y2="45.2" stroke="#b9b9b9" stroke-width="0.6" opacity="0.85"/><line x1="304.9" y1="52.0" x2="309.0" y2="48.6" stroke="#b9b9b9" stroke-width="0.6" opacity="0.85"/></g>
<polygon points="304.0,5.5 308.3,8.6 308.3,22.0 304.0,18.9" fill="#979797"/>
<polygon points="308.3,8.6 312.7,5.0 312.7,18.4 308.3,22.0" fill="#8c8c8c"/>
<polygon points="304.0,5.5 308.3,8.6 312.7,5.0 308.4,1.9" fill="#9a9a9a"/>
<polyline points="304.0,18.9 304.0,5.5 308.3,8.6 312.7,5.0 312.7,18.4" fill="none" stroke="#b5b5b5" stroke-width="0.4" stroke-linecap="butt" stroke-linejoin="round"/>
<line x1="308.3" y1="8.6" x2="308.3" y2="22.0" stroke="#b5b5b5" stroke-width="0.4"/>
<line x1="306.2" y1="7.6" x2="306.2" y2="16.7" stroke="#858585" stroke-width="0.45" opacity="0.7"/>
<line x1="309.6" y1="8.0" x2="309.6" y2="16.4" stroke="#b0b0b0" stroke-width="0.45" opacity="0.7"/>
<line x1="311.4" y1="6.6" x2="311.4" y2="16.9" stroke="#858585" stroke-width="0.45" opacity="0.7"/>
<polygon points="315.0,11.0 317.8,13.1 317.8,22.0 315.0,19.9" fill="#979797"/>
<polygon points="317.8,13.1 321.0,10.5 321.0,19.4 317.8,22.0" fill="#8c8c8c"/>
<polygon points="315.0,11.0 317.8,13.1 321.0,10.5 318.2,8.4" fill="#9a9a9a"/>
<polyline points="315.0,19.9 315.0,11.0 317.8,13.1 321.0,10.5 321.0,19.4" fill="none" stroke="#b5b5b5" stroke-width="0.4" stroke-linecap="butt" stroke-linejoin="round"/>
<line x1="317.8" y1="13.1" x2="317.8" y2="22.0" stroke="#b5b5b5" stroke-width="0.4"/>
<line x1="316.4" y1="12.5" x2="316.4" y2="20.8" stroke="#b0b0b0" stroke-width="0.45" opacity="0.7"/>
<line x1="319.1" y1="12.5" x2="319.1" y2="19.5" stroke="#858585" stroke-width="0.45" opacity="0.7"/>
<g clip-path="url(#tc5)"><line x1="366.7" y1="32.5" x2="370.5" y2="29.4" stroke="#b9b9b9" stroke-width="0.6" opacity="0.85"/><line x1="375.0" y1="98.3" x2="382.1" y2="92.5" stroke="#b9b9b9" stroke-width="0.6" opacity="0.85"/><line x1="348.1" y1="33.0" x2="344.4" y2="30.3" stroke="#b9b9b9" stroke-width="0.6" opacity="0.85"/><line x1="314.3" y1="50.1" x2="308.2" y2="45.6" stroke="#b9b9b9" stroke-width="0.6" opacity="0.85"/><line x1="330.8" y1="89.5" x2="337.6" y2="84.1" stroke="#b9b9b9" stroke-width="0.6" opacity="0.85"/><line x1="380.9" y1="100.5" x2="385.1" y2="97.1" stroke="#b9b9b9" stroke-width="0.6" opacity="0.85"/><line x1="393.8" y1="64.0" x2="396.7" y2="61.7" stroke="#b9b9b9" stroke-width="0.6" opacity="0.85"/><line x1="384.5" y1="91.0" x2="377.5" y2="85.9" stroke="#b9b9b9" stroke-width="0.6" opacity="0.85"/><line x1="357.8" y1="128.3" x2="353.3" y2="125.0" stroke="#b9b9b9" stroke-width="0.6" opacity="0.85"/><line x1="382.9" y1="92.5" x2="375.6" y2="87.1" stroke="#b9b9b9" stroke-width="0.6" opacity="0.85"/><line x1="372.2" y1="34.6" x2="375.8" y2="31.7" stroke="#b9b9b9" stroke-width="0.6" opacity="0.85"/><line x1="318.8" y1="53.5" x2="321.7" y2="51.2" stroke="#b9b9b9" stroke-width="0.6" opacity="0.85"/><line x1="366.4" y1="66.8" x2="370.7" y2="63.3" stroke="#b9b9b9" stroke-width="0.6" opacity="0.85"/><line x1="334.8" y1="124.6" x2="328.7" y2="120.2" stroke="#b9b9b9" stroke-width="0.6" opacity="0.85"/><line x1="326.6" y1="103.6" x2="329.8" y2="101.0" stroke="#b9b9b9" stroke-width="0.6" opacity="0.85"/><line x1="396.6" y1="94.6" x2="391.0" y2="90.6" stroke="#b9b9b9" stroke-width="0.6" opacity="0.85"/><line x1="384.1" y1="108.4" x2="387.6" y2="105.5" stroke="#b9b9b9" stroke-width="0.6" opacity="0.85"/><line x1="339.0" y1="57.0" x2="339.0" y2="61.5" stroke="#b9b9b9" stroke-width="0.6" opacity="0.85"/><line x1="386.9" y1="61.8" x2="392.8" y2="57.0" stroke="#b9b9b9" stroke-width="0.6" opacity="0.85"/><line x1="390.2" y1="76.3" x2="394.0" y2="73.3" stroke="#b9b9b9" stroke-width="0.6" opacity="0.85"/><line x1="360.0" y1="56.5" x2="360.0" y2="63.6" stroke="#b9b9b9" stroke-width="0.6" opacity="0.85"/><line x1="346.1" y1="52.2" x2="338.1" y2="46.3" stroke="#b9b9b9" stroke-width="0.6" opacity="0.85"/><line x1="319.8" y1="34.8" x2="316.7" y2="32.5" stroke="#b9b9b9" stroke-width="0.6" opacity="0.85"/><line x1="379.7" y1="72.6" x2="382.4" y2="70.5" stroke="#b9b9b9" stroke-width="0.6" opacity="0.85"/><line x1="397.2" y1="83.4" x2="397.2" y2="93.2" stroke="#b9b9b9" stroke-width="0.6" opacity="0.85"/><line x1="313.0" y1="102.8" x2="306.7" y2="98.2" stroke="#b9b9b9" stroke-width="0.6" opacity="0.85"/><line x1="334.8" y1="94.7" x2="331.8" y2="92.5" stroke="#b9b9b9" stroke-width="0.6" opacity="0.85"/><line x1="350.8" y1="126.3" x2="357.9" y2="120.6" stroke="#b9b9b9" stroke-width="0.6" opacity="0.85"/><line x1="354.8" y1="48.0" x2="354.8" y2="57.4" stroke="#b9b9b9" stroke-width="0.6" opacity="0.85"/><line x1="337.5" y1="94.5" x2="343.2" y2="90.0" stroke="#b9b9b9" stroke-width="0.6" opacity="0.85"/><line x1="377.2" y1="84.5" x2="370.4" y2="79.5" stroke="#b9b9b9" stroke-width="0.6" opacity="0.85"/><line x1="312.0" y1="62.7" x2="312.0" y2="65.9" stroke="#b9b9b9" stroke-width="0.6" opacity="0.85"/><line x1="387.1" y1="114.0" x2="391.1" y2="110.7" stroke="#b9b9b9" stroke-width="0.6" opacity="0.85"/><line x1="387.1" y1="125.6" x2="384.2" y2="123.5" stroke="#b9b9b9" stroke-width="0.6" opacity="0.85"/><line x1="317.9" y1="106.8" x2="324.4" y2="101.5" stroke="#b9b9b9" stroke-width="0.6" opacity="0.85"/><line x1="352.6" y1="85.5" x2="352.6" y2="90.4" stroke="#b9b9b9" stroke-width="0.6" opacity="0.85"/><line x1="348.2" y1="51.4" x2="342.7" y2="47.4" stroke="#b9b9b9" stroke-width="0.6" opacity="0.85"/><line x1="329.2" y1="61.5" x2="321.1" y2="55.6" stroke="#b9b9b9" stroke-width="0.6" opacity="0.85"/><line x1="349.5" y1="82.3" x2="352.4" y2="79.8" stroke="#b9b9b9" stroke-width="0.6" opacity="0.85"/><line x1="340.9" y1="89.4" x2="344.5" y2="86.5" stroke="#b9b9b9" stroke-width="0.6" opacity="0.85"/><line x1="318.1" y1="93.7" x2="318.1" y2="98.3" stroke="#b9b9b9" stroke-width="0.6" opacity="0.85"/><line x1="385.5" y1="37.2" x2="381.7" y2="34.4" stroke="#b9b9b9" stroke-width="0.6" opacity="0.85"/><line x1="330.3" y1="43.4" x2="322.6" y2="37.7" stroke="#b9b9b9" stroke-width="0.6" opacity="0.85"/><line x1="352.4" y1="109.2" x2="359.1" y2="103.8" stroke="#b9b9b9" stroke-width="0.6" opacity="0.85"/><line x1="320.3" y1="73.5" x2="315.5" y2="70.0" stroke="#b9b9b9" stroke-width="0.6" opacity="0.85"/><line x1="374.3" y1="98.0" x2="382.0" y2="91.8" stroke="#b9b9b9" stroke-width="0.6" opacity="0.85"/><line x1="346.4" y1="64.3" x2="353.4" y2="58.6" stroke="#b9b9b9" stroke-width="0.6" opacity="0.85"/><line x1="328.3" y1="75.3" x2="332.9" y2="71.6" stroke="#b9b9b9" stroke-width="0.6" opacity="0.85"/><line x1="333.4" y1="123.2" x2="333.4" y2="129.4" stroke="#b9b9b9" stroke-width="0.6" opacity="0.85"/><line x1="359.1" y1="35.1" x2="359.1" y2="45.1" stroke="#b9b9b9" stroke-width="0.6" opacity="0.85"/><line x1="394.8" y1="123.6" x2="401.8" y2="117.9" stroke="#b9b9b9" stroke-width="0.6" opacity="0.85"/><line x1="353.5" y1="51.6" x2="358.0" y2="47.9" stroke="#b9b9b9" stroke-width="0.6" opacity="0.85"/><line x1="344.4" y1="129.5" x2="340.5" y2="126.7" stroke="#b9b9b9" stroke-width="0.6" opacity="0.85"/><line x1="350.9" y1="72.7" x2="350.9" y2="82.4" stroke="#b9b9b9" stroke-width="0.6" opacity="0.85"/><line x1="359.5" y1="102.6" x2="362.7" y2="100.0" stroke="#b9b9b9" stroke-width="0.6" opacity="0.85"/><line x1="394.8" y1="88.5" x2="389.3" y2="84.5" stroke="#b9b9b9" stroke-width="0.6" opacity="0.85"/><line x1="316.9" y1="89.0" x2="316.9" y2="95.5" stroke="#b9b9b9" stroke-width="0.6" opacity="0.85"/><line x1="325.5" y1="127.0" x2="328.2" y2="124.8" stroke="#b9b9b9" stroke-width="0.6" opacity="0.85"/><line x1="362.9" y1="98.2" x2="366.5" y2="95.3" stroke="#b9b9b9" stroke-width="0.6" opacity="0.85"/><line x1="388.1" y1="54.9" x2="382.3" y2="50.6" stroke="#b9b9b9" stroke-width="0.6" opacity="0.85"/><line x1="347.8" y1="89.0" x2="347.8" y2="95.6" stroke="#b9b9b9" stroke-width="0.6" opacity="0.85"/><line x1="329.5" y1="102.3" x2="333.1" y2="99.4" stroke="#b9b9b9" stroke-width="0.6" opacity="0.85"/><line x1="369.4" y1="60.3" x2="365.2" y2="57.2" stroke="#b9b9b9" stroke-width="0.6" opacity="0.85"/><line x1="318.2" y1="76.3" x2="318.2" y2="86.3" stroke="#b9b9b9" stroke-width="0.6" opacity="0.85"/><line x1="318.3" y1="51.5" x2="318.3" y2="56.4" stroke="#b9b9b9" stroke-width="0.6" opacity="0.85"/><line x1="387.3" y1="118.8" x2="391.7" y2="115.3" stroke="#b9b9b9" stroke-width="0.6" opacity="0.85"/><line x1="383.3" y1="101.1" x2="383.3" y2="108.3" stroke="#b9b9b9" stroke-width="0.6" opacity="0.85"/><line x1="367.9" y1="30.8" x2="374.7" y2="25.3" stroke="#b9b9b9" stroke-width="0.6" opacity="0.85"/><line x1="368.7" y1="124.8" x2="371.8" y2="122.3" stroke="#b9b9b9" stroke-width="0.6" opacity="0.85"/><line x1="321.2" y1="85.9" x2="317.2" y2="83.0" stroke="#b9b9b9" stroke-width="0.6" opacity="0.85"/><line x1="373.4" y1="50.6" x2="379.1" y2="45.9" stroke="#b9b9b9" stroke-width="0.6" opacity="0.85"/><line x1="353.8" y1="121.4" x2="360.7" y2="115.8" stroke="#b9b9b9" stroke-width="0.6" opacity="0.85"/><line x1="348.2" y1="57.9" x2="345.8" y2="56.2" stroke="#b9b9b9" stroke-width="0.6" opacity="0.85"/><line x1="366.5" y1="56.5" x2="359.9" y2="51.6" stroke="#b9b9b9" stroke-width="0.6" opacity="0.85"/><line x1="348.6" y1="31.0" x2="348.6" y2="34.5" stroke="#b9b9b9" stroke-width="0.6" opacity="0.85"/><line x1="389.3" y1="85.1" x2="382.1" y2="79.9" stroke="#b9b9b9" stroke-width="0.6" opacity="0.85"/><line x1="324.7" y1="42.9" x2="324.7" y2="48.0" stroke="#b9b9b9" stroke-width="0.6" opacity="0.85"/><line x1="380.1" y1="116.9" x2="387.3" y2="111.1" stroke="#b9b9b9" stroke-width="0.6" opacity="0.85"/><line x1="333.3" y1="40.4" x2="333.3" y2="48.8" stroke="#b9b9b9" stroke-width="0.6" opacity="0.85"/><line x1="346.7" y1="92.7" x2="346.7" y2="96.8" stroke="#b9b9b9" stroke-width="0.6" opacity="0.85"/><line x1="385.9" y1="128.6" x2="385.9" y2="137.3" stroke="#b9b9b9" stroke-width="0.6" opacity="0.85"/><line x1="314.1" y1="104.4" x2="314.1" y2="109.7" stroke="#b9b9b9" stroke-width="0.6" opacity="0.85"/><line x1="380.6" y1="117.3" x2="387.3" y2="111.8" stroke="#b9b9b9" stroke-width="0.6" opacity="0.85"/><line x1="379.3" y1="40.9" x2="379.3" y2="50.0" stroke="#b9b9b9" stroke-width="0.6" opacity="0.85"/><line x1="331.0" y1="112.5" x2="335.8" y2="108.6" stroke="#b9b9b9" stroke-width="0.6" opacity="0.85"/><line x1="380.0" y1="53.0" x2="382.5" y2="51.0" stroke="#b9b9b9" stroke-width="0.6" opacity="0.85"/><line x1="340.1" y1="117.3" x2="347.6" y2="111.1" stroke="#b9b9b9" stroke-width="0.6" opacity="0.85"/><line x1="366.8" y1="70.4" x2="358.9" y2="64.5" stroke="#b9b9b9" stroke-width="0.6" opacity="0.85"/><line x1="392.3" y1="41.6" x2="399.9" y2="35.5" stroke="#b9b9b9" stroke-width="0.6" opacity="0.85"/><line x1="394.3" y1="56.8" x2="391.3" y2="54.6" stroke="#b9b9b9" stroke-width="0.6" opacity="0.85"/></g>
<g clip-path="url(#tc6)"><line x1="247.6" y1="127.5" x2="244.3" y2="125.2" stroke="#b9b9b9" stroke-width="0.6" opacity="0.85"/><line x1="290.0" y1="134.7" x2="285.0" y2="131.0" stroke="#b9b9b9" stroke-width="0.6" opacity="0.85"/><line x1="246.3" y1="108.0" x2="246.3" y2="113.6" stroke="#b9b9b9" stroke-width="0.6" opacity="0.85"/><line x1="281.6" y1="131.9" x2="286.3" y2="128.1" stroke="#b9b9b9" stroke-width="0.6" opacity="0.85"/><line x1="302.0" y1="136.7" x2="306.4" y2="133.1" stroke="#b9b9b9" stroke-width="0.6" opacity="0.85"/><line x1="279.3" y1="112.7" x2="272.5" y2="107.7" stroke="#b9b9b9" stroke-width="0.6" opacity="0.85"/><line x1="278.9" y1="118.6" x2="283.3" y2="115.0" stroke="#b9b9b9" stroke-width="0.6" opacity="0.85"/><line x1="249.1" y1="145.7" x2="256.0" y2="140.1" stroke="#b9b9b9" stroke-width="0.6" opacity="0.85"/><line x1="304.5" y1="114.6" x2="304.5" y2="118.4" stroke="#b9b9b9" stroke-width="0.6" opacity="0.85"/><line x1="284.2" y1="145.0" x2="290.2" y2="140.1" stroke="#b9b9b9" stroke-width="0.6" opacity="0.85"/><line x1="286.7" y1="134.2" x2="293.9" y2="128.4" stroke="#b9b9b9" stroke-width="0.6" opacity="0.85"/><line x1="280.4" y1="127.9" x2="280.4" y2="132.1" stroke="#b9b9b9" stroke-width="0.6" opacity="0.85"/><line x1="297.3" y1="79.7" x2="302.9" y2="75.2" stroke="#b9b9b9" stroke-width="0.6" opacity="0.85"/><line x1="257.5" y1="120.7" x2="249.6" y2="115.0" stroke="#b9b9b9" stroke-width="0.6" opacity="0.85"/><line x1="252.6" y1="112.6" x2="252.6" y2="121.1" stroke="#b9b9b9" stroke-width="0.6" opacity="0.85"/><line x1="292.9" y1="79.1" x2="285.0" y2="73.3" stroke="#b9b9b9" stroke-width="0.6" opacity="0.85"/><line x1="250.6" y1="85.4" x2="247.7" y2="83.3" stroke="#b9b9b9" stroke-width="0.6" opacity="0.85"/><line x1="255.3" y1="135.8" x2="252.3" y2="133.5" stroke="#b9b9b9" stroke-width="0.6" opacity="0.85"/><line x1="274.7" y1="78.8" x2="274.7" y2="81.8" stroke="#b9b9b9" stroke-width="0.6" opacity="0.85"/><line x1="310.4" y1="85.2" x2="310.4" y2="93.3" stroke="#b9b9b9" stroke-width="0.6" opacity="0.85"/><line x1="305.6" y1="141.5" x2="301.2" y2="138.3" stroke="#b9b9b9" stroke-width="0.6" opacity="0.85"/><line x1="278.4" y1="145.4" x2="278.4" y2="153.3" stroke="#b9b9b9" stroke-width="0.6" opacity="0.85"/><line x1="302.4" y1="104.5" x2="308.6" y2="99.5" stroke="#b9b9b9" stroke-width="0.6" opacity="0.85"/><line x1="258.8" y1="145.3" x2="254.1" y2="141.9" stroke="#b9b9b9" stroke-width="0.6" opacity="0.85"/><line x1="283.6" y1="95.3" x2="283.6" y2="102.4" stroke="#b9b9b9" stroke-width="0.6" opacity="0.85"/><line x1="266.9" y1="101.7" x2="270.3" y2="99.0" stroke="#b9b9b9" stroke-width="0.6" opacity="0.85"/><line x1="300.4" y1="128.3" x2="292.6" y2="122.5" stroke="#b9b9b9" stroke-width="0.6" opacity="0.85"/><line x1="309.2" y1="92.4" x2="312.6" y2="89.7" stroke="#b9b9b9" stroke-width="0.6" opacity="0.85"/><line x1="270.7" y1="149.2" x2="267.0" y2="146.5" stroke="#b9b9b9" stroke-width="0.6" opacity="0.85"/><line x1="249.1" y1="78.0" x2="243.6" y2="74.0" stroke="#b9b9b9" stroke-width="0.6" opacity="0.85"/><line x1="279.2" y1="143.7" x2="279.2" y2="152.7" stroke="#b9b9b9" stroke-width="0.6" opacity="0.85"/><line x1="283.8" y1="95.5" x2="280.6" y2="93.2" stroke="#b9b9b9" stroke-width="0.6" opacity="0.85"/><line x1="255.4" y1="76.5" x2="261.5" y2="71.5" stroke="#b9b9b9" stroke-width="0.6" opacity="0.85"/><line x1="286.7" y1="90.9" x2="291.3" y2="87.1" stroke="#b9b9b9" stroke-width="0.6" opacity="0.85"/><line x1="270.2" y1="100.3" x2="273.9" y2="97.3" stroke="#b9b9b9" stroke-width="0.6" opacity="0.85"/><line x1="283.6" y1="127.3" x2="287.0" y2="124.5" stroke="#b9b9b9" stroke-width="0.6" opacity="0.85"/><line x1="263.0" y1="127.8" x2="259.0" y2="124.9" stroke="#b9b9b9" stroke-width="0.6" opacity="0.85"/><line x1="249.9" y1="128.0" x2="253.0" y2="125.5" stroke="#b9b9b9" stroke-width="0.6" opacity="0.85"/><line x1="293.9" y1="111.2" x2="299.7" y2="106.4" stroke="#b9b9b9" stroke-width="0.6" opacity="0.85"/><line x1="289.8" y1="98.1" x2="284.6" y2="94.4" stroke="#b9b9b9" stroke-width="0.6" opacity="0.85"/></g>
<line x1="221.3" y1="67.7" x2="221.3" y2="86.5" stroke="#5a5a5a" stroke-width="0.6"/>
<line x1="219.9" y1="68.6" x2="221.3" y2="67.7" stroke="#5a5a5a" stroke-width="0.5"/>
<line x1="219.9" y1="78.0" x2="221.3" y2="77.1" stroke="#5a5a5a" stroke-width="0.5"/>
<line x1="219.9" y1="87.4" x2="221.3" y2="86.5" stroke="#5a5a5a" stroke-width="0.5"/>
<text x="214.4" y="66.5" font-size="6.2" text-anchor="middle" dominant-baseline="central" fill="#1e1e1e" font-family="'Liberation Sans', Arial, sans-serif" font-weight="normal" stroke="#1e1e1e" stroke-width="0.18">20</text>
<text x="214.4" y="76.3" font-size="6.2" text-anchor="middle" dominant-baseline="central" fill="#1e1e1e" font-family="'Liberation Sans', Arial, sans-serif" font-weight="normal" stroke="#1e1e1e" stroke-width="0.18">10</text>
<text x="216.0" y="85.3" font-size="6.2" text-anchor="middle" dominant-baseline="central" fill="#1e1e1e" font-family="'Liberation Sans', Arial, sans-serif" font-weight="normal" stroke="#1e1e1e" stroke-width="0.18">0</text>
<text x="221.3" y="99.7" font-size="6.2" text-anchor="middle" dominant-baseline="central" fill="#1e1e1e" font-family="'Liberation Sans', Arial, sans-serif" font-weight="normal" stroke="#1e1e1e" stroke-width="0.18">80</text>
<text x="232.0" y="107.6" font-size="6.2" text-anchor="middle" dominant-baseline="central" fill="#1e1e1e" font-family="'Liberation Sans', Arial, sans-serif" font-weight="normal" stroke="#1e1e1e" stroke-width="0.18">70</text>
<text x="242.3" y="115.6" font-size="6.2" text-anchor="middle" dominant-baseline="central" fill="#1e1e1e" font-family="'Liberation Sans', Arial, sans-serif" font-weight="normal" stroke="#1e1e1e" stroke-width="0.18">60</text>
<text x="253.3" y="123.0" font-size="6.2" text-anchor="middle" dominant-baseline="central" fill="#1e1e1e" font-family="'Liberation Sans', Arial, sans-serif" font-weight="normal" stroke="#1e1e1e" stroke-width="0.18">50</text>
<text x="264.0" y="130.3" font-size="6.2" text-anchor="middle" dominant-baseline="central" fill="#1e1e1e" font-family="'Liberation Sans', Arial, sans-serif" font-weight="normal" stroke="#1e1e1e" stroke-width="0.18">40</text>
<text x="274.0" y="138.7" font-size="6.2" text-anchor="middle" dominant-baseline="central" fill="#1e1e1e" font-family="'Liberation Sans', Arial, sans-serif" font-weight="normal" stroke="#1e1e1e" stroke-width="0.18">30</text>
<text x="284.5" y="147.0" font-size="6.2" text-anchor="middle" dominant-baseline="central" fill="#1e1e1e" font-family="'Liberation Sans', Arial, sans-serif" font-weight="normal" stroke="#1e1e1e" stroke-width="0.18">20</text>
<text x="295.6" y="153.8" font-size="6.2" text-anchor="middle" dominant-baseline="central" fill="#1e1e1e" font-family="'Liberation Sans', Arial, sans-serif" font-weight="normal" stroke="#1e1e1e" stroke-width="0.18">10</text>
<text x="329.4" y="152.8" font-size="6.2" text-anchor="middle" dominant-baseline="central" fill="#1e1e1e" font-family="'Liberation Sans', Arial, sans-serif" font-weight="normal" stroke="#1e1e1e" stroke-width="0.18">10</text>
<text x="339.7" y="145.7" font-size="6.2" text-anchor="middle" dominant-baseline="central" fill="#1e1e1e" font-family="'Liberation Sans', Arial, sans-serif" font-weight="normal" stroke="#1e1e1e" stroke-width="0.18">20</text>
<text x="349.3" y="137.0" font-size="6.2" text-anchor="middle" dominant-baseline="central" fill="#1e1e1e" font-family="'Liberation Sans', Arial, sans-serif" font-weight="normal" stroke="#1e1e1e" stroke-width="0.18">30</text>
<text x="359.0" y="129.3" font-size="6.2" text-anchor="middle" dominant-baseline="central" fill="#1e1e1e" font-family="'Liberation Sans', Arial, sans-serif" font-weight="normal" stroke="#1e1e1e" stroke-width="0.18">40</text>
<text x="369.6" y="121.0" font-size="6.2" text-anchor="middle" dominant-baseline="central" fill="#1e1e1e" font-family="'Liberation Sans', Arial, sans-serif" font-weight="normal" stroke="#1e1e1e" stroke-width="0.18">50</text>
<text x="379.0" y="112.8" font-size="6.2" text-anchor="middle" dominant-baseline="central" fill="#1e1e1e" font-family="'Liberation Sans', Arial, sans-serif" font-weight="normal" stroke="#1e1e1e" stroke-width="0.18">60</text>
<text x="389.9" y="104.5" font-size="6.2" text-anchor="middle" dominant-baseline="central" fill="#1e1e1e" font-family="'Liberation Sans', Arial, sans-serif" font-weight="normal" stroke="#1e1e1e" stroke-width="0.18">70</text>
<text x="399.5" y="95.8" font-size="6.2" text-anchor="middle" dominant-baseline="central" fill="#1e1e1e" font-family="'Liberation Sans', Arial, sans-serif" font-weight="normal" stroke="#1e1e1e" stroke-width="0.18">80</text>
<polyline points="298.5,36.6 301.0,38.5 303.0,41.5 304.5,45.0 304.5,49.3 303.5,54.0 303.0,59.0 303.5,65.0 304.0,71.0 305.0,82.6" fill="none" stroke="#2424dc" stroke-width="1.2" stroke-linecap="butt" stroke-linejoin="round"/>
<polyline points="299.0,36.6 301.5,38.5 303.5,41.5 305.0,45.0 305.0,49.3 304.0,54.0 303.5,59.0 304.0,65.0 304.5,71.0 305.5,82.6" fill="none" stroke="#33e033" stroke-width="0.9" stroke-dasharray="1.6,0.8,0.6,0.8" stroke-linecap="butt" stroke-linejoin="round"/>
<polyline points="298.5,36.6 301.0,38.5 303.0,41.5 304.5,45.0 304.5,49.3 303.5,54.0 303.0,59.0 303.5,65.0 304.0,71.0 305.0,82.6" fill="none" stroke="#e82e2e" stroke-width="1.0" stroke-dasharray="1.3,2.6" stroke-linecap="butt" stroke-linejoin="round"/>
<polygon points="220.0,4.3 282.2,4.3 282.2,27.4 220.0,27.4" fill="#ffffff" stroke="#8a8a8a" stroke-width="0.6"/>
<polyline points="223.0,8.9 240.0,8.9" fill="none" stroke="#2ee62e" stroke-width="1.1" stroke-dasharray="1.8,0.7,0.7,0.7" stroke-linecap="butt" stroke-linejoin="round"/>
<text x="241.8" y="9.1" font-size="5.5" text-anchor="start" dominant-baseline="central" fill="#1e1e1e" font-family="'Liberation Sans', Arial, sans-serif" font-weight="normal" stroke="#1e1e1e" stroke-width="0.18">JPS3d</text>
<polyline points="223.0,16.4 240.0,16.4" fill="none" stroke="#f23030" stroke-width="1.3" stroke-dasharray="2.8,2.0" stroke-linecap="butt" stroke-linejoin="round"/>
<text x="241.8" y="16.6" font-size="5.5" text-anchor="start" dominant-baseline="central" fill="#1e1e1e" font-family="'Liberation Sans', Arial, sans-serif" font-weight="normal" stroke="#1e1e1e" stroke-width="0.18">PNP-JPS3d</text>
<polyline points="223.0,23.3 240.0,23.3" fill="none" stroke="#3030f0" stroke-width="1.3" stroke-linecap="butt" stroke-linejoin="round"/>
<text x="241.8" y="23.5" font-size="5.5" text-anchor="start" dominant-baseline="central" fill="#1e1e1e" font-family="'Liberation Sans', Arial, sans-serif" font-weight="normal" stroke="#1e1e1e" stroke-width="0.18">OP-PNP-JPS3d</text>
<text x="307.0" y="169.4" font-size="9" text-anchor="middle" dominant-baseline="central" fill="#222" font-family="'Liberation Serif', 'Times New Roman', serif" font-weight="bold">(b)</text>
<line x1="26.0" y1="303.5" x2="108.5" y2="275.5" stroke="#e8e8e8" stroke-width="0.5"/>
<line x1="108.5" y1="275.5" x2="108.5" y2="199.6" stroke="#e8e8e8" stroke-width="0.5"/>
<line x1="34.4" y1="306.4" x2="117.6" y2="278.5" stroke="#e8e8e8" stroke-width="0.5"/>
<line x1="117.6" y1="278.5" x2="117.6" y2="202.1" stroke="#e8e8e8" stroke-width="0.5"/>
<line x1="42.8" y1="309.4" x2="126.7" y2="281.5" stroke="#e8e8e8" stroke-width="0.5"/>
<line x1="126.7" y1="281.5" x2="126.7" y2="204.7" stroke="#e8e8e8" stroke-width="0.5"/>
<line x1="51.3" y1="312.4" x2="135.7" y2="284.5" stroke="#e8e8e8" stroke-width="0.5"/>
<line x1="135.7" y1="284.5" x2="135.7" y2="207.2" stroke="#e8e8e8" stroke-width="0.5"/>
<line x1="59.8" y1="315.4" x2="144.8" y2="287.6" stroke="#e8e8e8" stroke-width="0.5"/>
<line x1="144.8" y1="287.6" x2="144.8" y2="209.8" stroke="#e8e8e8" stroke-width="0.5"/>
<line x1="68.2" y1="318.3" x2="153.8" y2="290.6" stroke="#e8e8e8" stroke-width="0.5"/>
<line x1="153.8" y1="290.6" x2="153.8" y2="212.4" stroke="#e8e8e8" stroke-width="0.5"/>
<line x1="76.7" y1="321.3" x2="162.8" y2="293.6" stroke="#e8e8e8" stroke-width="0.5"/>
<line x1="162.8" y1="293.6" x2="162.8" y2="214.9" stroke="#e8e8e8" stroke-width="0.5"/>
<line x1="85.1" y1="324.3" x2="171.9" y2="296.6" stroke="#e8e8e8" stroke-width="0.5"/>
<line x1="171.9" y1="296.6" x2="171.9" y2="217.5" stroke="#e8e8e8" stroke-width="0.5"/>
<line x1="93.5" y1="327.2" x2="180.9" y2="299.6" stroke="#e8e8e8" stroke-width="0.5"/>
<line x1="180.9" y1="299.6" x2="180.9" y2="220.0" stroke="#e8e8e8" stroke-width="0.5"/>
<line x1="110.8" y1="327.4" x2="25.7" y2="297.7" stroke="#e8e8e8" stroke-width="0.5"/>
<line x1="25.7" y1="297.7" x2="25.7" y2="219.2" stroke="#e8e8e8" stroke-width="0.5"/>
<line x1="119.6" y1="324.7" x2="33.9" y2="294.9" stroke="#e8e8e8" stroke-width="0.5"/>
<line x1="33.9" y1="294.9" x2="33.9" y2="216.8" stroke="#e8e8e8" stroke-width="0.5"/>
<line x1="128.4" y1="321.9" x2="42.1" y2="292.1" stroke="#e8e8e8" stroke-width="0.5"/>
<line x1="42.1" y1="292.1" x2="42.1" y2="214.3" stroke="#e8e8e8" stroke-width="0.5"/>
<line x1="137.2" y1="319.2" x2="50.3" y2="289.3" stroke="#e8e8e8" stroke-width="0.5"/>
<line x1="50.3" y1="289.3" x2="50.3" y2="211.8" stroke="#e8e8e8" stroke-width="0.5"/>
<line x1="146.0" y1="316.4" x2="58.5" y2="286.5" stroke="#e8e8e8" stroke-width="0.5"/>
<line x1="58.5" y1="286.5" x2="58.5" y2="209.3" stroke="#e8e8e8" stroke-width="0.5"/>
<line x1="154.8" y1="313.6" x2="66.7" y2="283.7" stroke="#e8e8e8" stroke-width="0.5"/>
<line x1="66.7" y1="283.7" x2="66.7" y2="206.9" stroke="#e8e8e8" stroke-width="0.5"/>
<line x1="163.6" y1="310.9" x2="74.9" y2="280.9" stroke="#e8e8e8" stroke-width="0.5"/>
<line x1="74.9" y1="280.9" x2="74.9" y2="204.4" stroke="#e8e8e8" stroke-width="0.5"/>
<line x1="172.4" y1="308.1" x2="83.1" y2="278.1" stroke="#e8e8e8" stroke-width="0.5"/>
<line x1="83.1" y1="278.1" x2="83.1" y2="201.9" stroke="#e8e8e8" stroke-width="0.5"/>
<line x1="181.2" y1="305.4" x2="91.3" y2="275.3" stroke="#e8e8e8" stroke-width="0.5"/>
<line x1="91.3" y1="275.3" x2="91.3" y2="199.5" stroke="#e8e8e8" stroke-width="0.5"/>
<line x1="17.5" y1="227.7" x2="99.5" y2="202.7" stroke="#e8e8e8" stroke-width="0.5"/>
<line x1="99.5" y1="202.7" x2="190.0" y2="228.7" stroke="#e8e8e8" stroke-width="0.5"/>
<line x1="17.5" y1="237.6" x2="99.5" y2="212.2" stroke="#e8e8e8" stroke-width="0.5"/>
<line x1="99.5" y1="212.2" x2="190.0" y2="238.7" stroke="#e8e8e8" stroke-width="0.5"/>
<line x1="17.5" y1="247.5" x2="99.5" y2="221.7" stroke="#e8e8e8" stroke-width="0.5"/>
<line x1="99.5" y1="221.7" x2="190.0" y2="248.8" stroke="#e8e8e8" stroke-width="0.5"/>
<line x1="17.5" y1="257.4" x2="99.5" y2="231.2" stroke="#e8e8e8" stroke-width="0.5"/>
<line x1="99.5" y1="231.2" x2="190.0" y2="258.8" stroke="#e8e8e8" stroke-width="0.5"/>
<line x1="17.5" y1="267.3" x2="99.5" y2="240.7" stroke="#e8e8e8" stroke-width="0.5"/>
<line x1="99.5" y1="240.7" x2="190.0" y2="268.9" stroke="#e8e8e8" stroke-width="0.5"/>
<line x1="17.5" y1="277.2" x2="99.5" y2="250.2" stroke="#e8e8e8" stroke-width="0.5"/>
<line x1="99.5" y1="250.2" x2="190.0" y2="278.9" stroke="#e8e8e8" stroke-width="0.5"/>
<line x1="17.5" y1="287.1" x2="99.5" y2="259.7" stroke="#e8e8e8" stroke-width="0.5"/>
<line x1="99.5" y1="259.7" x2="190.0" y2="289.0" stroke="#e8e8e8" stroke-width="0.5"/>
<line x1="17.5" y1="297.0" x2="99.5" y2="269.1" stroke="#e8e8e8" stroke-width="0.5"/>
<line x1="99.5" y1="269.1" x2="190.0" y2="299.0" stroke="#e8e8e8" stroke-width="0.5"/>
<line x1="99.5" y1="272.5" x2="99.5" y2="197.0" stroke="#e8e8e8" stroke-width="0.5"/>
<line x1="190.0" y1="302.6" x2="190.0" y2="222.6" stroke="#e8e8e8" stroke-width="0.6"/>
<line x1="17.5" y1="221.7" x2="99.5" y2="197.0" stroke="#e8e8e8" stroke-width="0.5"/>
<line x1="99.5" y1="197.0" x2="190.0" y2="222.6" stroke="#e8e8e8" stroke-width="0.5"/>
<line x1="17.5" y1="221.7" x2="17.5" y2="300.5" stroke="#6a6a6a" stroke-width="0.5"/>
<line x1="17.5" y1="300.5" x2="102.0" y2="330.2" stroke="#6a6a6a" stroke-width="0.5"/>
<line x1="102.0" y1="330.2" x2="190.0" y2="302.6" stroke="#6a6a6a" stroke-width="0.5"/>
<text x="13.4" y="227.7" font-size="6" text-anchor="end" dominant-baseline="central" fill="#1e1e1e" font-family="'Liberation Sans', Arial, sans-serif" font-weight="normal" stroke="#1e1e1e" stroke-width="0.18">40</text>
<line x1="17.5" y1="227.7" x2="19.0" y2="227.3" stroke="#6a6a6a" stroke-width="0.4"/>
<text x="13.4" y="237.6" font-size="6" text-anchor="end" dominant-baseline="central" fill="#1e1e1e" font-family="'Liberation Sans', Arial, sans-serif" font-weight="normal" stroke="#1e1e1e" stroke-width="0.18">35</text>
<line x1="17.5" y1="237.6" x2="19.0" y2="237.2" stroke="#6a6a6a" stroke-width="0.4"/>
<text x="13.4" y="247.5" font-size="6" text-anchor="end" dominant-baseline="central" fill="#1e1e1e" font-family="'Liberation Sans', Arial, sans-serif" font-weight="normal" stroke="#1e1e1e" stroke-width="0.18">30</text>
<line x1="17.5" y1="247.5" x2="19.0" y2="247.1" stroke="#6a6a6a" stroke-width="0.4"/>
<text x="13.4" y="257.4" font-size="6" text-anchor="end" dominant-baseline="central" fill="#1e1e1e" font-family="'Liberation Sans', Arial, sans-serif" font-weight="normal" stroke="#1e1e1e" stroke-width="0.18">25</text>
<line x1="17.5" y1="257.4" x2="19.0" y2="257.0" stroke="#6a6a6a" stroke-width="0.4"/>
<text x="13.4" y="267.3" font-size="6" text-anchor="end" dominant-baseline="central" fill="#1e1e1e" font-family="'Liberation Sans', Arial, sans-serif" font-weight="normal" stroke="#1e1e1e" stroke-width="0.18">20</text>
<line x1="17.5" y1="267.3" x2="19.0" y2="266.9" stroke="#6a6a6a" stroke-width="0.4"/>
<text x="13.4" y="277.2" font-size="6" text-anchor="end" dominant-baseline="central" fill="#1e1e1e" font-family="'Liberation Sans', Arial, sans-serif" font-weight="normal" stroke="#1e1e1e" stroke-width="0.18">15</text>
<line x1="17.5" y1="277.2" x2="19.0" y2="276.8" stroke="#6a6a6a" stroke-width="0.4"/>
<text x="13.4" y="287.1" font-size="6" text-anchor="end" dominant-baseline="central" fill="#1e1e1e" font-family="'Liberation Sans', Arial, sans-serif" font-weight="normal" stroke="#1e1e1e" stroke-width="0.18">10</text>
<line x1="17.5" y1="287.1" x2="19.0" y2="286.7" stroke="#6a6a6a" stroke-width="0.4"/>
<text x="13.4" y="297.0" font-size="6" text-anchor="end" dominant-baseline="central" fill="#1e1e1e" font-family="'Liberation Sans', Arial, sans-serif" font-weight="normal" stroke="#1e1e1e" stroke-width="0.18">5</text>
<line x1="17.5" y1="297.0" x2="19.0" y2="296.6" stroke="#6a6a6a" stroke-width="0.4"/>
<text x="16.3" y="308.6" font-size="6" text-anchor="middle" dominant-baseline="central" fill="#1e1e1e" font-family="'Liberation Sans', Arial, sans-serif" font-weight="normal" stroke="#1e1e1e" stroke-width="0.18" transform="rotate(4 16.3 308.6)">100</text>
<text x="24.9" y="311.5" font-size="6" text-anchor="middle" dominant-baseline="central" fill="#1e1e1e" font-family="'Liberation Sans', Arial, sans-serif" font-weight="normal" stroke="#1e1e1e" stroke-width="0.18" transform="rotate(4 24.9 311.5)">90</text>
<text x="33.5" y="314.5" font-size="6" text-anchor="middle" dominant-baseline="central" fill="#1e1e1e" font-family="'Liberation Sans', Arial, sans-serif" font-weight="normal" stroke="#1e1e1e" stroke-width="0.18" transform="rotate(4 33.5 314.5)">80</text>
<text x="42.0" y="317.4" font-size="6" text-anchor="middle" dominant-baseline="central" fill="#1e1e1e" font-family="'Liberation Sans', Arial, sans-serif" font-weight="normal" stroke="#1e1e1e" stroke-width="0.18" transform="rotate(4 42.0 317.4)">70</text>
<text x="50.6" y="320.3" font-size="6" text-anchor="middle" dominant-baseline="central" fill="#1e1e1e" font-family="'Liberation Sans', Arial, sans-serif" font-weight="normal" stroke="#1e1e1e" stroke-width="0.18" transform="rotate(4 50.6 320.3)">60</text>
<text x="59.2" y="323.3" font-size="6" text-anchor="middle" dominant-baseline="central" fill="#1e1e1e" font-family="'Liberation Sans', Arial, sans-serif" font-weight="normal" stroke="#1e1e1e" stroke-width="0.18" transform="rotate(4 59.2 323.3)">50</text>
<text x="67.8" y="326.2" font-size="6" text-anchor="middle" dominant-baseline="central" fill="#1e1e1e" font-family="'Liberation Sans', Arial, sans-serif" font-weight="normal" stroke="#1e1e1e" stroke-width="0.18" transform="rotate(4 67.8 326.2)">40</text>
<text x="76.3" y="329.1" font-size="6" text-anchor="middle" dominant-baseline="central" fill="#1e1e1e" font-family="'Liberation Sans', Arial, sans-serif" font-weight="normal" stroke="#1e1e1e" stroke-width="0.18" transform="rotate(4 76.3 329.1)">30</text>
<text x="84.9" y="332.1" font-size="6" text-anchor="middle" dominant-baseline="central" fill="#1e1e1e" font-family="'Liberation Sans', Arial, sans-serif" font-weight="normal" stroke="#1e1e1e" stroke-width="0.18" transform="rotate(4 84.9 332.1)">20</text>
<text x="93.5" y="335.0" font-size="6" text-anchor="middle" dominant-baseline="central" fill="#1e1e1e" font-family="'Liberation Sans', Arial, sans-serif" font-weight="normal" stroke="#1e1e1e" stroke-width="0.18" transform="rotate(4 93.5 335.0)">10</text>
<text x="110.0" y="336.2" font-size="6" text-anchor="middle" dominant-baseline="central" fill="#1e1e1e" font-family="'Liberation Sans', Arial, sans-serif" font-weight="normal" stroke="#1e1e1e" stroke-width="0.18" transform="rotate(-5 110.0 336.2)">10</text>
<text x="119.2" y="333.3" font-size="6" text-anchor="middle" dominant-baseline="central" fill="#1e1e1e" font-family="'Liberation Sans', Arial, sans-serif" font-weight="normal" stroke="#1e1e1e" stroke-width="0.18" transform="rotate(-5 119.2 333.3)">20</text>
<text x="128.4" y="330.5" font-size="6" text-anchor="middle" dominant-baseline="central" fill="#1e1e1e" font-family="'Liberation Sans', Arial, sans-serif" font-weight="normal" stroke="#1e1e1e" stroke-width="0.18" transform="rotate(-5 128.4 330.5)">30</text>
<text x="137.6" y="327.6" font-size="6" text-anchor="middle" dominant-baseline="central" fill="#1e1e1e" font-family="'Liberation Sans', Arial, sans-serif" font-weight="normal" stroke="#1e1e1e" stroke-width="0.18" transform="rotate(-5 137.6 327.6)">40</text>
<text x="146.8" y="324.7" font-size="6" text-anchor="middle" dominant-baseline="central" fill="#1e1e1e" font-family="'Liberation Sans', Arial, sans-serif" font-weight="normal" stroke="#1e1e1e" stroke-width="0.18" transform="rotate(-5 146.8 324.7)">50</text>
<text x="155.9" y="321.9" font-size="6" text-anchor="middle" dominant-baseline="central" fill="#1e1e1e" font-family="'Liberation Sans', Arial, sans-serif" font-weight="normal" stroke="#1e1e1e" stroke-width="0.18" transform="rotate(-5 155.9 321.9)">60</text>
<text x="165.1" y="319.0" font-size="6" text-anchor="middle" dominant-baseline="central" fill="#1e1e1e" font-family="'Liberation Sans', Arial, sans-serif" font-weight="normal" stroke="#1e1e1e" stroke-width="0.18" transform="rotate(-5 165.1 319.0)">70</text>
<text x="174.3" y="316.1" font-size="6" text-anchor="middle" dominant-baseline="central" fill="#1e1e1e" font-family="'Liberation Sans', Arial, sans-serif" font-weight="normal" stroke="#1e1e1e" stroke-width="0.18" transform="rotate(-5 174.3 316.1)">80</text>
<text x="183.5" y="313.3" font-size="6" text-anchor="middle" dominant-baseline="central" fill="#1e1e1e" font-family="'Liberation Sans', Arial, sans-serif" font-weight="normal" stroke="#1e1e1e" stroke-width="0.18" transform="rotate(-5 183.5 313.3)">90</text>
<text x="192.7" y="310.4" font-size="6" text-anchor="middle" dominant-baseline="central" fill="#1e1e1e" font-family="'Liberation Sans', Arial, sans-serif" font-weight="normal" stroke="#1e1e1e" stroke-width="0.18" transform="rotate(-5 192.7 310.4)">100</text>
<g clip-path="url(#clip2)"><rect x="18.0" y="200" width="2.3" height="116" fill="url(#g87)"/><rect x="20.0" y="200" width="2.3" height="116" fill="url(#g88)"/><rect x="22.0" y="200" width="2.3" height="116" fill="url(#g89)"/><rect x="24.0" y="200" width="2.3" height="116" fill="url(#g90)"/><rect x="26.0" y="200" width="2.3" height="116" fill="url(#g91)"/><rect x="28.0" y="200" width="2.3" height="116" fill="url(#g92)"/><rect x="30.0" y="200" width="2.3" height="116" fill="url(#g93)"/><rect x="32.0" y="200" width="2.3" height="116" fill="url(#g94)"/><rect x="34.0" y="200" width="2.3" height="116" fill="url(#g95)"/><rect x="36.0" y="200" width="2.3" height="116" fill="url(#g96)"/><rect x="38.0" y="200" width="2.3" height="116" fill="url(#g97)"/><rect x="40.0" y="200" width="2.3" height="116" fill="url(#g98)"/><rect x="42.0" y="200" width="2.3" height="116" fill="url(#g99)"/><rect x="44.0" y="200" width="2.3" height="116" fill="url(#g100)"/><rect x="46.0" y="200" width="2.3" height="116" fill="url(#g101)"/><rect x="48.0" y="200" width="2.3" height="116" fill="url(#g102)"/><rect x="50.0" y="200" width="2.3" height="116" fill="url(#g103)"/><rect x="52.0" y="200" width="2.3" height="116" fill="url(#g104)"/><rect x="54.0" y="200" width="2.3" height="116" fill="url(#g105)"/><rect x="56.0" y="200" width="2.3" height="116" fill="url(#g106)"/><rect x="58.0" y="200" width="2.3" height="116" fill="url(#g107)"/><rect x="60.0" y="200" width="2.3" height="116" fill="url(#g108)"/><rect x="62.0" y="200" width="2.3" height="116" fill="url(#g109)"/><rect x="64.0" y="200" width="2.3" height="116" fill="url(#g110)"/><rect x="66.0" y="200" width="2.3" height="116" fill="url(#g111)"/><rect x="68.0" y="200" width="2.3" height="116" fill="url(#g112)"/><rect x="70.0" y="200" width="2.3" height="116" fill="url(#g113)"/><rect x="72.0" y="200" width="2.3" height="116" fill="url(#g114)"/><rect x="74.0" y="200" width="2.3" height="116" fill="url(#g115)"/><rect x="76.0" y="200" width="2.3" height="116" fill="url(#g116)"/><rect x="78.0" y="200" width="2.3" height="116" fill="url(#g117)"/><rect x="80.0" y="200" width="2.3" height="116" fill="url(#g118)"/><rect x="82.0" y="200" width="2.3" height="116" fill="url(#g119)"/><rect x="84.0" y="200" width="2.3" height="116" fill="url(#g120)"/><rect x="86.0" y="200" width="2.3" height="116" fill="url(#g121)"/><rect x="88.0" y="200" width="2.3" height="116" fill="url(#g122)"/><rect x="90.0" y="200" width="2.3" height="116" fill="url(#g123)"/><rect x="92.0" y="200" width="2.3" height="116" fill="url(#g124)"/><rect x="94.0" y="200" width="2.3" height="116" fill="url(#g125)"/><rect x="96.0" y="200" width="2.3" height="116" fill="url(#g126)"/><rect x="98.0" y="200" width="2.3" height="116" fill="url(#g127)"/><rect x="100.0" y="200" width="2.3" height="116" fill="url(#g128)"/><rect x="102.0" y="200" width="2.3" height="116" fill="url(#g129)"/><rect x="104.0" y="200" width="2.3" height="116" fill="url(#g130)"/><rect x="106.0" y="200" width="2.3" height="116" fill="url(#g131)"/><rect x="108.0" y="200" width="2.3" height="116" fill="url(#g132)"/><rect x="110.0" y="200" width="2.3" height="116" fill="url(#g133)"/><rect x="112.0" y="200" width="2.3" height="116" fill="url(#g134)"/><rect x="114.0" y="200" width="2.3" height="116" fill="url(#g135)"/><rect x="116.0" y="200" width="2.3" height="116" fill="url(#g136)"/><rect x="118.0" y="200" width="2.3" height="116" fill="url(#g137)"/><rect x="120.0" y="200" width="2.3" height="116" fill="url(#g138)"/><rect x="122.0" y="200" width="2.3" height="116" fill="url(#g139)"/><rect x="124.0" y="200" width="2.3" height="116" fill="url(#g140)"/><rect x="126.0" y="200" width="2.3" height="116" fill="url(#g141)"/><rect x="128.0" y="200" width="2.3" height="116" fill="url(#g142)"/><rect x="130.0" y="200" width="2.3" height="116" fill="url(#g143)"/><rect x="132.0" y="200" width="2.3" height="116" fill="url(#g144)"/><rect x="134.0" y="200" width="2.3" height="116" fill="url(#g145)"/><rect x="136.0" y="200" width="2.3" height="116" fill="url(#g146)"/><rect x="138.0" y="200" width="2.3" height="116" fill="url(#g147)"/><rect x="140.0" y="200" width="2.3" height="116" fill="url(#g148)"/><rect x="142.0" y="200" width="2.3" height="116" fill="url(#g149)"/><rect x="144.0" y="200" width="2.3" height="116" fill="url(#g150)"/><rect x="146.0" y="200" width="2.3" height="116" fill="url(#g151)"/><rect x="148.0" y="200" width="2.3" height="116" fill="url(#g152)"/><rect x="150.0" y="200" width="2.3" height="116" fill="url(#g153)"/><rect x="152.0" y="200" width="2.3" height="116" fill="url(#g154)"/><rect x="154.0" y="200" width="2.3" height="116" fill="url(#g155)"/><rect x="156.0" y="200" width="2.3" height="116" fill="url(#g156)"/><rect x="158.0" y="200" width="2.3" height="116" fill="url(#g157)"/><rect x="160.0" y="200" width="2.3" height="116" fill="url(#g158)"/><rect x="162.0" y="200" width="2.3" height="116" fill="url(#g159)"/><rect x="164.0" y="200" width="2.3" height="116" fill="url(#g160)"/><rect x="166.0" y="200" width="2.3" height="116" fill="url(#g161)"/><rect x="168.0" y="200" width="2.3" height="116" fill="url(#g162)"/><rect x="170.0" y="200" width="2.3" height="116" fill="url(#g163)"/><rect x="172.0" y="200" width="2.3" height="116" fill="url(#g164)"/><rect x="174.0" y="200" width="2.3" height="116" fill="url(#g165)"/><rect x="176.0" y="200" width="2.3" height="116" fill="url(#g166)"/><rect x="178.0" y="200" width="2.3" height="116" fill="url(#g167)"/><rect x="180.0" y="200" width="2.3" height="116" fill="url(#g168)"/><rect x="182.0" y="200" width="2.3" height="116" fill="url(#g169)"/><rect x="184.0" y="200" width="2.3" height="116" fill="url(#g170)"/><rect x="186.0" y="200" width="2.3" height="116" fill="url(#g171)"/><rect x="188.0" y="200" width="2.3" height="116" fill="url(#g172)"/><rect x="190.0" y="200" width="2.3" height="116" fill="url(#g173)"/></g>
<polyline points="21.0,280.8 21.5,275.7 33.0,263.3 60.0,263.3" fill="none" stroke="#33e033" stroke-width="1.1" stroke-dasharray="1.8,0.7,0.7,0.7" stroke-linecap="butt" stroke-linejoin="round"/>
<polyline points="60.0,263.3 70.0,258.0 85.0,251.0 100.0,243.5 108.0,240.0 112.0,244.8 118.0,247.7 125.0,248.5 135.0,250.5 141.0,254.0" fill="none" stroke="#33e033" stroke-width="1.0" stroke-dasharray="1.8,0.7,0.7,0.7" stroke-linecap="butt" stroke-linejoin="round"/>
<polyline points="21.0,281.5 30.0,278.5 40.0,274.0 50.0,267.5 60.0,262.0 70.0,257.5 80.0,253.2 90.0,249.0 95.0,246.5 100.0,243.5 108.0,239.7 120.0,243.3 130.0,246.3 138.0,249.9 142.0,255.0" fill="none" stroke="#2424dc" stroke-width="1.1" stroke-linecap="butt" stroke-linejoin="round"/>
<polyline points="21.0,280.0 40.0,270.5 60.0,261.0 70.0,256.5 80.0,252.5 95.0,246.0 108.0,239.5 120.0,243.0 130.0,246.0 138.0,249.5 142.0,254.5" fill="none" stroke="#e82e2e" stroke-width="1.0" stroke-dasharray="1.5,2.3" stroke-linecap="butt" stroke-linejoin="round"/>
<polygon points="21.4,197.2 76.5,197.2 76.5,217.3 21.4,217.3" fill="#ffffff" stroke="#8a8a8a" stroke-width="0.6"/>
<polyline points="23.1,201.6 38.5,201.6" fill="none" stroke="#2ee62e" stroke-width="1.1" stroke-dasharray="1.8,0.7,0.7,0.7" stroke-linecap="butt" stroke-linejoin="round"/>
<text x="40.2" y="201.8" font-size="5.0" text-anchor="start" dominant-baseline="central" fill="#1e1e1e" font-family="'Liberation Sans', Arial, sans-serif" font-weight="normal" stroke="#1e1e1e" stroke-width="0.18">JPS3d</text>
<polyline points="23.1,207.6 38.5,207.6" fill="none" stroke="#f23030" stroke-width="1.3" stroke-dasharray="2.8,2.0" stroke-linecap="butt" stroke-linejoin="round"/>
<text x="40.2" y="207.8" font-size="5.0" text-anchor="start" dominant-baseline="central" fill="#1e1e1e" font-family="'Liberation Sans', Arial, sans-serif" font-weight="normal" stroke="#1e1e1e" stroke-width="0.18">PNP-JPS3d</text>
<polyline points="23.1,213.8 38.5,213.8" fill="none" stroke="#3030f0" stroke-width="1.3" stroke-linecap="butt" stroke-linejoin="round"/>
<text x="40.2" y="214.0" font-size="5.0" text-anchor="start" dominant-baseline="central" fill="#1e1e1e" font-family="'Liberation Sans', Arial, sans-serif" font-weight="normal" stroke="#1e1e1e" stroke-width="0.18">OP-PNP-JPS3d</text>
<text x="101.2" y="359.7" font-size="9" text-anchor="middle" dominant-baseline="central" fill="#222" font-family="'Liberation Serif', 'Times New Roman', serif" font-weight="bold">(c)</text>
<polygon points="223.0,266.4 307.2,343.2 398.6,274.0 314.4,197.2" fill="#8e8e8e"/>
<polygon points="300.0,200.0 318.0,195.0 335.0,215.0 330.0,235.0 315.0,250.0 305.0,270.0 300.0,295.0 285.0,300.0 280.0,280.0 285.0,255.0 295.0,235.0" fill="#969696"/>
<g clip-path="url(#tc7)"><line x1="289.1" y1="267.4" x2="289.1" y2="277.8" stroke="#b9b9b9" stroke-width="0.5" opacity="0.8"/><line x1="306.4" y1="217.7" x2="306.4" y2="229.6" stroke="#b9b9b9" stroke-width="0.5" opacity="0.8"/><line x1="324.4" y1="248.8" x2="324.4" y2="257.9" stroke="#b9b9b9" stroke-width="0.5" opacity="0.8"/><line x1="293.0" y1="195.3" x2="293.0" y2="203.0" stroke="#b9b9b9" stroke-width="0.5" opacity="0.8"/><line x1="312.2" y1="202.3" x2="312.2" y2="214.2" stroke="#b9b9b9" stroke-width="0.5" opacity="0.8"/><line x1="292.8" y1="219.4" x2="292.8" y2="223.9" stroke="#b9b9b9" stroke-width="0.5" opacity="0.8"/><line x1="334.9" y1="272.6" x2="334.9" y2="285.3" stroke="#b9b9b9" stroke-width="0.5" opacity="0.8"/><line x1="313.9" y1="198.6" x2="313.9" y2="205.9" stroke="#b9b9b9" stroke-width="0.5" opacity="0.8"/><line x1="307.4" y1="207.2" x2="307.4" y2="220.7" stroke="#b9b9b9" stroke-width="0.5" opacity="0.8"/><line x1="300.3" y1="211.3" x2="300.3" y2="223.4" stroke="#b9b9b9" stroke-width="0.5" opacity="0.8"/><line x1="286.9" y1="292.4" x2="286.9" y2="301.0" stroke="#b9b9b9" stroke-width="0.5" opacity="0.8"/><line x1="310.4" y1="231.0" x2="310.4" y2="239.9" stroke="#b9b9b9" stroke-width="0.5" opacity="0.8"/><line x1="290.3" y1="198.9" x2="290.3" y2="211.6" stroke="#b9b9b9" stroke-width="0.5" opacity="0.8"/><line x1="292.9" y1="276.9" x2="292.9" y2="283.0" stroke="#b9b9b9" stroke-width="0.5" opacity="0.8"/><line x1="333.3" y1="288.9" x2="333.3" y2="300.4" stroke="#b9b9b9" stroke-width="0.5" opacity="0.8"/><line x1="322.0" y1="256.0" x2="322.0" y2="267.3" stroke="#b9b9b9" stroke-width="0.5" opacity="0.8"/><line x1="286.7" y1="245.0" x2="286.7" y2="257.3" stroke="#b9b9b9" stroke-width="0.5" opacity="0.8"/><line x1="291.1" y1="291.9" x2="291.1" y2="304.8" stroke="#b9b9b9" stroke-width="0.5" opacity="0.8"/><line x1="302.5" y1="233.3" x2="302.5" y2="241.9" stroke="#b9b9b9" stroke-width="0.5" opacity="0.8"/><line x1="301.2" y1="299.5" x2="301.2" y2="307.3" stroke="#b9b9b9" stroke-width="0.5" opacity="0.8"/><line x1="281.5" y1="204.8" x2="281.5" y2="216.0" stroke="#b9b9b9" stroke-width="0.5" opacity="0.8"/><line x1="334.6" y1="247.1" x2="334.6" y2="256.0" stroke="#b9b9b9" stroke-width="0.5" opacity="0.8"/><line x1="310.3" y1="273.6" x2="310.3" y2="279.8" stroke="#b9b9b9" stroke-width="0.5" opacity="0.8"/><line x1="313.5" y1="253.4" x2="313.5" y2="263.7" stroke="#b9b9b9" stroke-width="0.5" opacity="0.8"/><line x1="289.9" y1="212.9" x2="289.9" y2="220.3" stroke="#b9b9b9" stroke-width="0.5" opacity="0.8"/><line x1="331.0" y1="231.4" x2="331.0" y2="241.4" stroke="#b9b9b9" stroke-width="0.5" opacity="0.8"/><line x1="296.9" y1="205.8" x2="296.9" y2="210.5" stroke="#b9b9b9" stroke-width="0.5" opacity="0.8"/><line x1="324.8" y1="276.6" x2="324.8" y2="284.3" stroke="#b9b9b9" stroke-width="0.5" opacity="0.8"/><line x1="317.6" y1="266.0" x2="317.6" y2="279.0" stroke="#b9b9b9" stroke-width="0.5" opacity="0.8"/><line x1="332.7" y1="237.7" x2="332.7" y2="251.6" stroke="#b9b9b9" stroke-width="0.5" opacity="0.8"/><line x1="332.9" y1="257.0" x2="332.9" y2="269.8" stroke="#b9b9b9" stroke-width="0.5" opacity="0.8"/><line x1="307.0" y1="234.4" x2="307.0" y2="240.9" stroke="#b9b9b9" stroke-width="0.5" opacity="0.8"/><line x1="328.2" y1="212.0" x2="328.2" y2="216.7" stroke="#b9b9b9" stroke-width="0.5" opacity="0.8"/><line x1="324.3" y1="276.3" x2="324.3" y2="285.1" stroke="#b9b9b9" stroke-width="0.5" opacity="0.8"/><line x1="326.0" y1="200.5" x2="326.0" y2="207.1" stroke="#b9b9b9" stroke-width="0.5" opacity="0.8"/><line x1="295.9" y1="239.1" x2="295.9" y2="244.8" stroke="#b9b9b9" stroke-width="0.5" opacity="0.8"/><line x1="283.8" y1="230.5" x2="283.8" y2="243.5" stroke="#b9b9b9" stroke-width="0.5" opacity="0.8"/><line x1="334.1" y1="273.3" x2="334.1" y2="282.1" stroke="#b9b9b9" stroke-width="0.5" opacity="0.8"/><line x1="293.9" y1="295.7" x2="293.9" y2="304.9" stroke="#b9b9b9" stroke-width="0.5" opacity="0.8"/><line x1="320.1" y1="198.0" x2="320.1" y2="204.1" stroke="#b9b9b9" stroke-width="0.5" opacity="0.8"/><line x1="326.1" y1="278.5" x2="326.1" y2="291.3" stroke="#b9b9b9" stroke-width="0.5" opacity="0.8"/><line x1="313.1" y1="239.7" x2="313.1" y2="249.6" stroke="#b9b9b9" stroke-width="0.5" opacity="0.8"/><line x1="326.7" y1="227.3" x2="326.7" y2="236.7" stroke="#b9b9b9" stroke-width="0.5" opacity="0.8"/><line x1="295.2" y1="275.7" x2="295.2" y2="279.8" stroke="#b9b9b9" stroke-width="0.5" opacity="0.8"/><line x1="317.7" y1="295.2" x2="317.7" y2="299.4" stroke="#b9b9b9" stroke-width="0.5" opacity="0.8"/><line x1="312.7" y1="262.6" x2="312.7" y2="275.1" stroke="#b9b9b9" stroke-width="0.5" opacity="0.8"/><line x1="312.1" y1="222.0" x2="312.1" y2="230.1" stroke="#b9b9b9" stroke-width="0.5" opacity="0.8"/><line x1="332.7" y1="290.1" x2="332.7" y2="295.4" stroke="#b9b9b9" stroke-width="0.5" opacity="0.8"/><line x1="285.2" y1="204.9" x2="285.2" y2="209.1" stroke="#b9b9b9" stroke-width="0.5" opacity="0.8"/><line x1="304.6" y1="209.8" x2="304.6" y2="222.5" stroke="#b9b9b9" stroke-width="0.5" opacity="0.8"/><line x1="316.0" y1="208.3" x2="316.0" y2="217.7" stroke="#b9b9b9" stroke-width="0.5" opacity="0.8"/><line x1="297.8" y1="246.9" x2="297.8" y2="253.1" stroke="#b9b9b9" stroke-width="0.5" opacity="0.8"/><line x1="289.1" y1="214.3" x2="289.1" y2="222.1" stroke="#b9b9b9" stroke-width="0.5" opacity="0.8"/><line x1="319.0" y1="252.8" x2="319.0" y2="257.2" stroke="#b9b9b9" stroke-width="0.5" opacity="0.8"/><line x1="319.1" y1="286.8" x2="319.1" y2="298.5" stroke="#b9b9b9" stroke-width="0.5" opacity="0.8"/><line x1="323.5" y1="195.8" x2="323.5" y2="204.5" stroke="#b9b9b9" stroke-width="0.5" opacity="0.8"/><line x1="283.5" y1="275.2" x2="283.5" y2="281.0" stroke="#b9b9b9" stroke-width="0.5" opacity="0.8"/><line x1="319.1" y1="221.6" x2="319.1" y2="232.5" stroke="#b9b9b9" stroke-width="0.5" opacity="0.8"/><line x1="297.2" y1="199.4" x2="297.2" y2="207.3" stroke="#b9b9b9" stroke-width="0.5" opacity="0.8"/><line x1="297.0" y1="289.6" x2="297.0" y2="296.5" stroke="#b9b9b9" stroke-width="0.5" opacity="0.8"/></g>
<polygon points="237.0,258.0 285.0,255.0 290.0,285.0 275.0,290.0 237.0,287.0" fill="#959595"/>
<g clip-path="url(#tc8)"><line x1="287.8" y1="259.9" x2="287.8" y2="264.1" stroke="#b9b9b9" stroke-width="0.5" opacity="0.8"/><line x1="289.9" y1="261.4" x2="289.9" y2="266.7" stroke="#b9b9b9" stroke-width="0.5" opacity="0.8"/><line x1="271.5" y1="267.1" x2="271.5" y2="280.0" stroke="#b9b9b9" stroke-width="0.5" opacity="0.8"/><line x1="249.3" y1="288.6" x2="249.3" y2="295.8" stroke="#b9b9b9" stroke-width="0.5" opacity="0.8"/><line x1="268.9" y1="287.6" x2="268.9" y2="298.5" stroke="#b9b9b9" stroke-width="0.5" opacity="0.8"/><line x1="286.0" y1="279.8" x2="286.0" y2="284.3" stroke="#b9b9b9" stroke-width="0.5" opacity="0.8"/><line x1="283.7" y1="275.6" x2="283.7" y2="282.7" stroke="#b9b9b9" stroke-width="0.5" opacity="0.8"/><line x1="247.1" y1="284.7" x2="247.1" y2="294.6" stroke="#b9b9b9" stroke-width="0.5" opacity="0.8"/><line x1="286.7" y1="282.1" x2="286.7" y2="295.7" stroke="#b9b9b9" stroke-width="0.5" opacity="0.8"/><line x1="267.0" y1="279.4" x2="267.0" y2="289.6" stroke="#b9b9b9" stroke-width="0.5" opacity="0.8"/><line x1="250.7" y1="288.5" x2="250.7" y2="295.6" stroke="#b9b9b9" stroke-width="0.5" opacity="0.8"/><line x1="278.4" y1="288.4" x2="278.4" y2="298.9" stroke="#b9b9b9" stroke-width="0.5" opacity="0.8"/><line x1="244.5" y1="283.9" x2="244.5" y2="294.6" stroke="#b9b9b9" stroke-width="0.5" opacity="0.8"/><line x1="246.8" y1="256.7" x2="246.8" y2="266.0" stroke="#b9b9b9" stroke-width="0.5" opacity="0.8"/><line x1="238.7" y1="287.4" x2="238.7" y2="296.4" stroke="#b9b9b9" stroke-width="0.5" opacity="0.8"/><line x1="264.4" y1="269.3" x2="264.4" y2="279.9" stroke="#b9b9b9" stroke-width="0.5" opacity="0.8"/><line x1="285.6" y1="265.8" x2="285.6" y2="273.5" stroke="#b9b9b9" stroke-width="0.5" opacity="0.8"/><line x1="267.9" y1="265.4" x2="267.9" y2="275.4" stroke="#b9b9b9" stroke-width="0.5" opacity="0.8"/><line x1="265.8" y1="270.2" x2="265.8" y2="280.9" stroke="#b9b9b9" stroke-width="0.5" opacity="0.8"/><line x1="265.0" y1="258.1" x2="265.0" y2="272.0" stroke="#b9b9b9" stroke-width="0.5" opacity="0.8"/><line x1="255.9" y1="270.1" x2="255.9" y2="278.1" stroke="#b9b9b9" stroke-width="0.5" opacity="0.8"/><line x1="286.3" y1="288.3" x2="286.3" y2="297.4" stroke="#b9b9b9" stroke-width="0.5" opacity="0.8"/><line x1="258.2" y1="258.4" x2="258.2" y2="271.3" stroke="#b9b9b9" stroke-width="0.5" opacity="0.8"/><line x1="246.1" y1="274.1" x2="246.1" y2="281.6" stroke="#b9b9b9" stroke-width="0.5" opacity="0.8"/><line x1="254.4" y1="267.5" x2="254.4" y2="273.4" stroke="#b9b9b9" stroke-width="0.5" opacity="0.8"/><line x1="239.0" y1="273.7" x2="239.0" y2="285.7" stroke="#b9b9b9" stroke-width="0.5" opacity="0.8"/><line x1="271.3" y1="262.1" x2="271.3" y2="273.0" stroke="#b9b9b9" stroke-width="0.5" opacity="0.8"/><line x1="239.8" y1="269.4" x2="239.8" y2="281.7" stroke="#b9b9b9" stroke-width="0.5" opacity="0.8"/><line x1="285.8" y1="271.1" x2="285.8" y2="283.6" stroke="#b9b9b9" stroke-width="0.5" opacity="0.8"/><line x1="263.4" y1="273.3" x2="263.4" y2="283.2" stroke="#b9b9b9" stroke-width="0.5" opacity="0.8"/><line x1="289.5" y1="281.0" x2="289.5" y2="289.8" stroke="#b9b9b9" stroke-width="0.5" opacity="0.8"/><line x1="275.5" y1="277.5" x2="275.5" y2="285.1" stroke="#b9b9b9" stroke-width="0.5" opacity="0.8"/><line x1="278.6" y1="283.7" x2="278.6" y2="293.8" stroke="#b9b9b9" stroke-width="0.5" opacity="0.8"/><line x1="287.0" y1="255.6" x2="287.0" y2="264.6" stroke="#b9b9b9" stroke-width="0.5" opacity="0.8"/><line x1="270.6" y1="266.9" x2="270.6" y2="272.6" stroke="#b9b9b9" stroke-width="0.5" opacity="0.8"/><line x1="273.7" y1="270.2" x2="273.7" y2="276.9" stroke="#b9b9b9" stroke-width="0.5" opacity="0.8"/><line x1="239.2" y1="288.8" x2="239.2" y2="296.4" stroke="#b9b9b9" stroke-width="0.5" opacity="0.8"/><line x1="243.3" y1="262.6" x2="243.3" y2="269.1" stroke="#b9b9b9" stroke-width="0.5" opacity="0.8"/><line x1="282.9" y1="261.3" x2="282.9" y2="268.1" stroke="#b9b9b9" stroke-width="0.5" opacity="0.8"/><line x1="242.2" y1="271.4" x2="242.2" y2="277.5" stroke="#b9b9b9" stroke-width="0.5" opacity="0.8"/></g>
<polygon points="313.0,200.0 315.9,202.6 315.9,215.0 313.0,212.4" fill="#9b9b9b"/>
<polygon points="315.9,202.6 322.0,198.0 322.0,210.4 315.9,215.0" fill="#8f8f8f"/>
<polygon points="313.0,200.0 315.9,202.6 322.0,198.0 319.1,195.4" fill="#a6a6a6"/>
<polyline points="313.0,212.4 313.0,200.0 315.9,202.6 322.0,198.0 322.0,210.4" fill="none" stroke="#b6b6b6" stroke-width="0.4" stroke-linecap="butt" stroke-linejoin="round"/>
<line x1="315.9" y1="202.6" x2="315.9" y2="215.0" stroke="#b6b6b6" stroke-width="0.4"/>
<line x1="314.3" y1="201.7" x2="314.3" y2="212.3" stroke="#b2b2b2" stroke-width="0.45" opacity="0.7"/>
<line x1="317.2" y1="202.1" x2="317.2" y2="213.7" stroke="#b2b2b2" stroke-width="0.45" opacity="0.7"/>
<line x1="320.5" y1="199.6" x2="320.5" y2="207.3" stroke="#858585" stroke-width="0.45" opacity="0.7"/>
<polygon points="298.5,194.0 300.5,195.8 300.5,225.0 298.5,223.2" fill="#9b9b9b"/>
<polygon points="300.5,195.8 305.5,192.0 305.5,221.2 300.5,225.0" fill="#8f8f8f"/>
<polygon points="298.5,194.0 300.5,195.8 305.5,192.0 303.5,190.2" fill="#a6a6a6"/>
<polyline points="298.5,223.2 298.5,194.0 300.5,195.8 305.5,192.0 305.5,221.2" fill="none" stroke="#b6b6b6" stroke-width="0.4" stroke-linecap="butt" stroke-linejoin="round"/>
<line x1="300.5" y1="195.8" x2="300.5" y2="225.0" stroke="#b6b6b6" stroke-width="0.4"/>
<line x1="302.0" y1="195.2" x2="302.0" y2="213.6" stroke="#858585" stroke-width="0.45" opacity="0.7"/>
<line x1="304.3" y1="193.4" x2="304.3" y2="213.3" stroke="#858585" stroke-width="0.45" opacity="0.7"/>
<polygon points="299.5,202.0 300.1,202.6 300.1,230.0 299.5,229.4" fill="#9b9b9b"/>
<polygon points="300.1,202.6 301.5,201.5 301.5,228.9 300.1,230.0" fill="#8f8f8f"/>
<polygon points="299.5,202.0 300.1,202.6 301.5,201.5 300.9,200.9" fill="#a6a6a6"/>
<polyline points="299.5,229.4 299.5,202.0 300.1,202.6 301.5,201.5 301.5,228.9" fill="none" stroke="#b6b6b6" stroke-width="0.4" stroke-linecap="butt" stroke-linejoin="round"/>
<line x1="300.1" y1="202.6" x2="300.1" y2="230.0" stroke="#b6b6b6" stroke-width="0.4"/>
<polygon points="300.0,215.0 306.4,220.8 306.4,235.0 300.0,229.2" fill="#9b9b9b"/>
<polygon points="306.4,220.8 318.0,212.0 318.0,226.2 306.4,235.0" fill="#8f8f8f"/>
<polygon points="300.0,215.0 306.4,220.8 318.0,212.0 311.6,206.2" fill="#a6a6a6"/>
<polyline points="300.0,229.2 300.0,215.0 306.4,220.8 318.0,212.0 318.0,226.2" fill="none" stroke="#b6b6b6" stroke-width="0.4" stroke-linecap="butt" stroke-linejoin="round"/>
<line x1="306.4" y1="220.8" x2="306.4" y2="235.0" stroke="#b6b6b6" stroke-width="0.4"/>
<line x1="301.5" y1="216.8" x2="301.5" y2="227.3" stroke="#858585" stroke-width="0.45" opacity="0.7"/>
<line x1="304.4" y1="219.5" x2="304.4" y2="233.1" stroke="#858585" stroke-width="0.45" opacity="0.7"/>
<line x1="307.5" y1="220.4" x2="307.5" y2="228.7" stroke="#b2b2b2" stroke-width="0.45" opacity="0.7"/>
<line x1="310.1" y1="218.4" x2="310.1" y2="227.3" stroke="#858585" stroke-width="0.45" opacity="0.7"/>
<line x1="312.3" y1="216.8" x2="312.3" y2="227.3" stroke="#858585" stroke-width="0.45" opacity="0.7"/>
<line x1="314.3" y1="215.3" x2="314.3" y2="226.6" stroke="#b2b2b2" stroke-width="0.45" opacity="0.7"/>
<line x1="317.1" y1="213.2" x2="317.1" y2="226.3" stroke="#b2b2b2" stroke-width="0.45" opacity="0.7"/>
<polygon points="355.0,222.0 356.0,222.9 356.0,240.0 355.0,239.1" fill="#9b9b9b"/>
<polygon points="356.0,222.9 358.5,221.0 358.5,238.1 356.0,240.0" fill="#8f8f8f"/>
<polygon points="355.0,222.0 356.0,222.9 358.5,221.0 357.5,220.1" fill="#a6a6a6"/>
<polyline points="355.0,239.1 355.0,222.0 356.0,222.9 358.5,221.0 358.5,238.1" fill="none" stroke="#b6b6b6" stroke-width="0.4" stroke-linecap="butt" stroke-linejoin="round"/>
<line x1="356.0" y1="222.9" x2="356.0" y2="240.0" stroke="#b6b6b6" stroke-width="0.4"/>
<line x1="357.2" y1="222.5" x2="357.2" y2="234.8" stroke="#858585" stroke-width="0.45" opacity="0.7"/>
<polygon points="291.0,218.0 294.9,221.6 294.9,245.0 291.0,241.4" fill="#9b9b9b"/>
<polygon points="294.9,221.6 301.0,217.0 301.0,240.4 294.9,245.0" fill="#8f8f8f"/>
<polygon points="291.0,218.0 294.9,221.6 301.0,217.0 297.1,213.4" fill="#a6a6a6"/>
<polyline points="291.0,241.4 291.0,218.0 294.9,221.6 301.0,217.0 301.0,240.4" fill="none" stroke="#b6b6b6" stroke-width="0.4" stroke-linecap="butt" stroke-linejoin="round"/>
<line x1="294.9" y1="221.6" x2="294.9" y2="245.0" stroke="#b6b6b6" stroke-width="0.4"/>
<line x1="293.0" y1="220.3" x2="293.0" y2="242.1" stroke="#858585" stroke-width="0.45" opacity="0.7"/>
<line x1="296.7" y1="220.8" x2="296.7" y2="236.5" stroke="#858585" stroke-width="0.45" opacity="0.7"/>
<line x1="299.1" y1="218.9" x2="299.1" y2="239.0" stroke="#858585" stroke-width="0.45" opacity="0.7"/>
<polygon points="318.0,222.0 327.5,230.7 327.5,245.0 318.0,236.3" fill="#9b9b9b"/>
<polygon points="327.5,230.7 335.0,225.0 335.0,239.3 327.5,245.0" fill="#8f8f8f"/>
<polygon points="318.0,222.0 327.5,230.7 335.0,225.0 325.5,216.3" fill="#a6a6a6"/>
<polyline points="318.0,236.3 318.0,222.0 327.5,230.7 335.0,225.0 335.0,239.3" fill="none" stroke="#b6b6b6" stroke-width="0.4" stroke-linecap="butt" stroke-linejoin="round"/>
<line x1="327.5" y1="230.7" x2="327.5" y2="245.0" stroke="#b6b6b6" stroke-width="0.4"/>
<line x1="319.5" y1="223.9" x2="319.5" y2="236.2" stroke="#858585" stroke-width="0.45" opacity="0.7"/>
<line x1="321.3" y1="225.5" x2="321.3" y2="239.3" stroke="#858585" stroke-width="0.45" opacity="0.7"/>
<line x1="324.2" y1="228.2" x2="324.2" y2="239.6" stroke="#858585" stroke-width="0.45" opacity="0.7"/>
<line x1="326.5" y1="230.2" x2="326.5" y2="240.4" stroke="#858585" stroke-width="0.45" opacity="0.7"/>
<line x1="328.5" y1="230.4" x2="328.5" y2="239.0" stroke="#858585" stroke-width="0.45" opacity="0.7"/>
<line x1="331.2" y1="228.3" x2="331.2" y2="238.0" stroke="#b2b2b2" stroke-width="0.45" opacity="0.7"/>
<line x1="333.5" y1="226.6" x2="333.5" y2="236.3" stroke="#b2b2b2" stroke-width="0.45" opacity="0.7"/>
<polygon points="266.5,219.0 270.4,222.5 270.4,247.5 266.5,244.0" fill="#9b9b9b"/>
<polygon points="270.4,222.5 279.0,216.0 279.0,241.0 270.4,247.5" fill="#8f8f8f"/>
<polygon points="266.5,219.0 270.4,222.5 279.0,216.0 275.1,212.5" fill="#a6a6a6"/>
<polyline points="266.5,244.0 266.5,219.0 270.4,222.5 279.0,216.0 279.0,241.0" fill="none" stroke="#b6b6b6" stroke-width="0.4" stroke-linecap="butt" stroke-linejoin="round"/>
<line x1="270.4" y1="222.5" x2="270.4" y2="247.5" stroke="#b6b6b6" stroke-width="0.4"/>
<line x1="269.0" y1="221.8" x2="269.0" y2="237.7" stroke="#858585" stroke-width="0.45" opacity="0.7"/>
<line x1="271.9" y1="221.9" x2="271.9" y2="246.0" stroke="#b2b2b2" stroke-width="0.45" opacity="0.7"/>
<line x1="275.0" y1="219.6" x2="275.0" y2="242.9" stroke="#858585" stroke-width="0.45" opacity="0.7"/>
<line x1="277.5" y1="217.6" x2="277.5" y2="235.9" stroke="#858585" stroke-width="0.45" opacity="0.7"/>
<polygon points="254.5,226.0 259.3,230.4 259.3,254.0 254.5,249.6" fill="#9b9b9b"/>
<polygon points="259.3,230.4 266.5,225.0 266.5,248.6 259.3,254.0" fill="#8f8f8f"/>
<polygon points="254.5,226.0 259.3,230.4 266.5,225.0 261.7,220.6" fill="#a6a6a6"/>
<polyline points="254.5,249.6 254.5,226.0 259.3,230.4 266.5,225.0 266.5,248.6" fill="none" stroke="#b6b6b6" stroke-width="0.4" stroke-linecap="butt" stroke-linejoin="round"/>
<line x1="259.3" y1="230.4" x2="259.3" y2="254.0" stroke="#b6b6b6" stroke-width="0.4"/>
<line x1="255.5" y1="227.4" x2="255.5" y2="250.4" stroke="#858585" stroke-width="0.45" opacity="0.7"/>
<line x1="258.2" y1="229.9" x2="258.2" y2="251.7" stroke="#b2b2b2" stroke-width="0.45" opacity="0.7"/>
<line x1="260.4" y1="230.1" x2="260.4" y2="251.1" stroke="#b2b2b2" stroke-width="0.45" opacity="0.7"/>
<line x1="263.2" y1="228.0" x2="263.2" y2="243.2" stroke="#858585" stroke-width="0.45" opacity="0.7"/>
<line x1="265.5" y1="226.2" x2="265.5" y2="242.4" stroke="#b2b2b2" stroke-width="0.45" opacity="0.7"/>
<polygon points="275.0,237.0 282.4,243.8 282.4,257.0 275.0,250.2" fill="#9b9b9b"/>
<polygon points="282.4,243.8 290.0,238.0 290.0,251.2 282.4,257.0" fill="#8f8f8f"/>
<polygon points="275.0,237.0 282.4,243.8 290.0,238.0 282.6,231.2" fill="#a6a6a6"/>
<polyline points="275.0,250.2 275.0,237.0 282.4,243.8 290.0,238.0 290.0,251.2" fill="none" stroke="#b6b6b6" stroke-width="0.4" stroke-linecap="butt" stroke-linejoin="round"/>
<line x1="282.4" y1="243.8" x2="282.4" y2="257.0" stroke="#b6b6b6" stroke-width="0.4"/>
<line x1="276.3" y1="238.7" x2="276.3" y2="248.2" stroke="#b2b2b2" stroke-width="0.45" opacity="0.7"/>
<line x1="278.7" y1="240.9" x2="278.7" y2="249.8" stroke="#b2b2b2" stroke-width="0.45" opacity="0.7"/>
<line x1="281.4" y1="243.3" x2="281.4" y2="255.0" stroke="#858585" stroke-width="0.45" opacity="0.7"/>
<line x1="283.8" y1="243.2" x2="283.8" y2="250.9" stroke="#858585" stroke-width="0.45" opacity="0.7"/>
<line x1="285.8" y1="241.7" x2="285.8" y2="251.5" stroke="#b2b2b2" stroke-width="0.45" opacity="0.7"/>
<line x1="288.9" y1="239.3" x2="288.9" y2="249.3" stroke="#858585" stroke-width="0.45" opacity="0.7"/>
<polygon points="224.0,252.0 224.0,252.0 224.0,266.0 224.0,266.0" fill="#9b9b9b"/>
<polygon points="224.0,252.0 236.6,242.4 236.6,256.4 224.0,266.0" fill="#8f8f8f"/>
<polygon points="224.0,252.0 224.0,252.0 236.6,242.4 236.6,242.4" fill="#a6a6a6"/>
<polyline points="224.0,266.0 224.0,252.0 224.0,252.0 236.6,242.4 236.6,256.4" fill="none" stroke="#b6b6b6" stroke-width="0.4" stroke-linecap="butt" stroke-linejoin="round"/>
<line x1="224.0" y1="252.0" x2="224.0" y2="266.0" stroke="#b6b6b6" stroke-width="0.4"/>
<line x1="225.4" y1="251.4" x2="225.4" y2="264.1" stroke="#b2b2b2" stroke-width="0.45" opacity="0.7"/>
<line x1="227.9" y1="249.5" x2="227.9" y2="259.4" stroke="#858585" stroke-width="0.45" opacity="0.7"/>
<line x1="230.5" y1="247.5" x2="230.5" y2="257.4" stroke="#b2b2b2" stroke-width="0.45" opacity="0.7"/>
<line x1="233.1" y1="245.6" x2="233.1" y2="255.8" stroke="#b2b2b2" stroke-width="0.45" opacity="0.7"/>
<line x1="235.3" y1="243.9" x2="235.3" y2="257.2" stroke="#b2b2b2" stroke-width="0.45" opacity="0.7"/>
<polygon points="381.0,252.0 384.9,255.6 384.9,268.0 381.0,264.4" fill="#9b9b9b"/>
<polygon points="384.9,255.6 391.0,251.0 391.0,263.4 384.9,268.0" fill="#8f8f8f"/>
<polygon points="381.0,252.0 384.9,255.6 391.0,251.0 387.1,247.4" fill="#a6a6a6"/>
<polyline points="381.0,264.4 381.0,252.0 384.9,255.6 391.0,251.0 391.0,263.4" fill="none" stroke="#b6b6b6" stroke-width="0.4" stroke-linecap="butt" stroke-linejoin="round"/>
<line x1="384.9" y1="255.6" x2="384.9" y2="268.0" stroke="#b6b6b6" stroke-width="0.4"/>
<line x1="382.9" y1="254.2" x2="382.9" y2="264.0" stroke="#858585" stroke-width="0.45" opacity="0.7"/>
<line x1="386.7" y1="254.8" x2="386.7" y2="262.8" stroke="#b2b2b2" stroke-width="0.45" opacity="0.7"/>
<line x1="389.5" y1="252.7" x2="389.5" y2="260.8" stroke="#858585" stroke-width="0.45" opacity="0.7"/>
<polygon points="305.0,252.0 312.4,258.8 312.4,278.0 305.0,271.2" fill="#9b9b9b"/>
<polygon points="312.4,258.8 324.0,250.0 324.0,269.2 312.4,278.0" fill="#8f8f8f"/>
<polygon points="305.0,252.0 312.4,258.8 324.0,250.0 316.6,243.2" fill="#a6a6a6"/>
<polyline points="305.0,271.2 305.0,252.0 312.4,258.8 324.0,250.0 324.0,269.2" fill="none" stroke="#b6b6b6" stroke-width="0.4" stroke-linecap="butt" stroke-linejoin="round"/>
<line x1="312.4" y1="258.8" x2="312.4" y2="278.0" stroke="#b6b6b6" stroke-width="0.4"/>
<line x1="306.4" y1="253.8" x2="306.4" y2="272.4" stroke="#858585" stroke-width="0.45" opacity="0.7"/>
<line x1="309.0" y1="256.1" x2="309.0" y2="272.7" stroke="#b2b2b2" stroke-width="0.45" opacity="0.7"/>
<line x1="310.8" y1="257.8" x2="310.8" y2="275.7" stroke="#b2b2b2" stroke-width="0.45" opacity="0.7"/>
<line x1="313.3" y1="258.6" x2="313.3" y2="276.2" stroke="#858585" stroke-width="0.45" opacity="0.7"/>
<line x1="315.7" y1="256.7" x2="315.7" y2="273.5" stroke="#b2b2b2" stroke-width="0.45" opacity="0.7"/>
<line x1="318.4" y1="254.7" x2="318.4" y2="271.8" stroke="#b2b2b2" stroke-width="0.45" opacity="0.7"/>
<line x1="320.8" y1="252.9" x2="320.8" y2="268.0" stroke="#b2b2b2" stroke-width="0.45" opacity="0.7"/>
<line x1="323.1" y1="251.2" x2="323.1" y2="266.8" stroke="#858585" stroke-width="0.45" opacity="0.7"/>
<polygon points="268.0,262.0 273.5,267.0 273.5,280.0 268.0,275.0" fill="#9b9b9b"/>
<polygon points="273.5,267.0 284.0,259.0 284.0,272.0 273.5,280.0" fill="#8f8f8f"/>
<polygon points="268.0,262.0 273.5,267.0 284.0,259.0 278.5,254.0" fill="#a6a6a6"/>
<polyline points="268.0,275.0 268.0,262.0 273.5,267.0 284.0,259.0 284.0,272.0" fill="none" stroke="#b6b6b6" stroke-width="0.4" stroke-linecap="butt" stroke-linejoin="round"/>
<line x1="273.5" y1="267.0" x2="273.5" y2="280.0" stroke="#b6b6b6" stroke-width="0.4"/>
<line x1="269.5" y1="263.9" x2="269.5" y2="273.4" stroke="#b2b2b2" stroke-width="0.45" opacity="0.7"/>
<line x1="272.0" y1="266.1" x2="272.0" y2="274.0" stroke="#b2b2b2" stroke-width="0.45" opacity="0.7"/>
<line x1="275.0" y1="266.3" x2="275.0" y2="275.4" stroke="#b2b2b2" stroke-width="0.45" opacity="0.7"/>
<line x1="277.7" y1="264.3" x2="277.7" y2="274.7" stroke="#858585" stroke-width="0.45" opacity="0.7"/>
<line x1="280.4" y1="262.2" x2="280.4" y2="271.3" stroke="#858585" stroke-width="0.45" opacity="0.7"/>
<line x1="282.7" y1="260.5" x2="282.7" y2="272.1" stroke="#858585" stroke-width="0.45" opacity="0.7"/>
<polygon points="340.0,252.0 355.4,266.1 355.4,281.0 340.0,266.9" fill="#9b9b9b"/>
<polygon points="355.4,266.1 370.0,255.0 370.0,269.9 355.4,281.0" fill="#8f8f8f"/>
<polygon points="340.0,252.0 355.4,266.1 370.0,255.0 354.6,240.9" fill="#a6a6a6"/>
<polyline points="340.0,266.9 340.0,252.0 355.4,266.1 370.0,255.0 370.0,269.9" fill="none" stroke="#b6b6b6" stroke-width="0.4" stroke-linecap="butt" stroke-linejoin="round"/>
<line x1="355.4" y1="266.1" x2="355.4" y2="281.0" stroke="#b6b6b6" stroke-width="0.4"/>
<line x1="341.4" y1="253.8" x2="341.4" y2="264.6" stroke="#858585" stroke-width="0.45" opacity="0.7"/>
<line x1="343.4" y1="255.6" x2="343.4" y2="269.5" stroke="#b2b2b2" stroke-width="0.45" opacity="0.7"/>
<line x1="345.4" y1="257.5" x2="345.4" y2="266.8" stroke="#b2b2b2" stroke-width="0.45" opacity="0.7"/>
<line x1="347.8" y1="259.6" x2="347.8" y2="269.7" stroke="#858585" stroke-width="0.45" opacity="0.7"/>
<line x1="350.1" y1="261.7" x2="350.1" y2="275.8" stroke="#858585" stroke-width="0.45" opacity="0.7"/>
<line x1="352.3" y1="263.7" x2="352.3" y2="277.7" stroke="#858585" stroke-width="0.45" opacity="0.7"/>
<line x1="354.5" y1="265.8" x2="354.5" y2="278.9" stroke="#b2b2b2" stroke-width="0.45" opacity="0.7"/>
<line x1="356.9" y1="265.4" x2="356.9" y2="278.5" stroke="#858585" stroke-width="0.45" opacity="0.7"/>
<line x1="358.8" y1="264.0" x2="358.8" y2="273.6" stroke="#b2b2b2" stroke-width="0.45" opacity="0.7"/>
<line x1="361.3" y1="262.1" x2="361.3" y2="270.7" stroke="#858585" stroke-width="0.45" opacity="0.7"/>
<line x1="363.9" y1="260.1" x2="363.9" y2="270.1" stroke="#b2b2b2" stroke-width="0.45" opacity="0.7"/>
<line x1="366.1" y1="258.5" x2="366.1" y2="272.5" stroke="#b2b2b2" stroke-width="0.45" opacity="0.7"/>
<line x1="368.5" y1="256.7" x2="368.5" y2="270.1" stroke="#b2b2b2" stroke-width="0.45" opacity="0.7"/>
<polygon points="257.0,261.0 260.8,264.5 260.8,282.0 257.0,278.5" fill="#9b9b9b"/>
<polygon points="260.8,264.5 268.0,259.0 268.0,276.5 260.8,282.0" fill="#8f8f8f"/>
<polygon points="257.0,261.0 260.8,264.5 268.0,259.0 264.2,255.5" fill="#a6a6a6"/>
<polyline points="257.0,278.5 257.0,261.0 260.8,264.5 268.0,259.0 268.0,276.5" fill="none" stroke="#b6b6b6" stroke-width="0.4" stroke-linecap="butt" stroke-linejoin="round"/>
<line x1="260.8" y1="264.5" x2="260.8" y2="282.0" stroke="#b6b6b6" stroke-width="0.4"/>
<line x1="259.2" y1="263.5" x2="259.2" y2="279.3" stroke="#b2b2b2" stroke-width="0.45" opacity="0.7"/>
<line x1="261.9" y1="264.1" x2="261.9" y2="274.2" stroke="#b2b2b2" stroke-width="0.45" opacity="0.7"/>
<line x1="264.4" y1="262.2" x2="264.4" y2="273.6" stroke="#b2b2b2" stroke-width="0.45" opacity="0.7"/>
<line x1="266.5" y1="260.6" x2="266.5" y2="274.4" stroke="#858585" stroke-width="0.45" opacity="0.7"/>
<polygon points="345.0,262.0 351.8,268.2 351.8,284.0 345.0,277.8" fill="#9b9b9b"/>
<polygon points="351.8,268.2 360.0,262.0 360.0,277.8 351.8,284.0" fill="#8f8f8f"/>
<polygon points="345.0,262.0 351.8,268.2 360.0,262.0 353.2,255.8" fill="#a6a6a6"/>
<polyline points="345.0,277.8 345.0,262.0 351.8,268.2 360.0,262.0 360.0,277.8" fill="none" stroke="#b6b6b6" stroke-width="0.4" stroke-linecap="butt" stroke-linejoin="round"/>
<line x1="351.8" y1="268.2" x2="351.8" y2="284.0" stroke="#b6b6b6" stroke-width="0.4"/>
<line x1="346.3" y1="263.6" x2="346.3" y2="277.3" stroke="#b2b2b2" stroke-width="0.45" opacity="0.7"/>
<line x1="348.2" y1="265.4" x2="348.2" y2="277.3" stroke="#b2b2b2" stroke-width="0.45" opacity="0.7"/>
<line x1="350.8" y1="267.8" x2="350.8" y2="282.5" stroke="#b2b2b2" stroke-width="0.45" opacity="0.7"/>
<line x1="353.3" y1="267.6" x2="353.3" y2="280.7" stroke="#b2b2b2" stroke-width="0.45" opacity="0.7"/>
<line x1="356.0" y1="265.5" x2="356.0" y2="279.8" stroke="#b2b2b2" stroke-width="0.45" opacity="0.7"/>
<line x1="359.0" y1="263.3" x2="359.0" y2="278.4" stroke="#b2b2b2" stroke-width="0.45" opacity="0.7"/>
<polygon points="303.0,258.0 311.2,265.5 311.2,285.0 303.0,277.5" fill="#9b9b9b"/>
<polygon points="311.2,265.5 325.0,255.0 325.0,274.5 311.2,285.0" fill="#8f8f8f"/>
<polygon points="303.0,258.0 311.2,265.5 325.0,255.0 316.8,247.5" fill="#a6a6a6"/>
<polyline points="303.0,277.5 303.0,258.0 311.2,265.5 325.0,255.0 325.0,274.5" fill="none" stroke="#b6b6b6" stroke-width="0.4" stroke-linecap="butt" stroke-linejoin="round"/>
<line x1="311.2" y1="265.5" x2="311.2" y2="285.0" stroke="#b6b6b6" stroke-width="0.4"/>
<line x1="304.3" y1="259.7" x2="304.3" y2="273.0" stroke="#b2b2b2" stroke-width="0.45" opacity="0.7"/>
<line x1="307.4" y1="262.5" x2="307.4" y2="279.0" stroke="#b2b2b2" stroke-width="0.45" opacity="0.7"/>
<line x1="309.5" y1="264.4" x2="309.5" y2="277.9" stroke="#858585" stroke-width="0.45" opacity="0.7"/>
<line x1="312.5" y1="265.0" x2="312.5" y2="277.8" stroke="#b2b2b2" stroke-width="0.45" opacity="0.7"/>
<line x1="314.8" y1="263.2" x2="314.8" y2="277.7" stroke="#b2b2b2" stroke-width="0.45" opacity="0.7"/>
<line x1="316.8" y1="261.7" x2="316.8" y2="273.4" stroke="#b2b2b2" stroke-width="0.45" opacity="0.7"/>
<line x1="319.0" y1="260.0" x2="319.0" y2="273.3" stroke="#b2b2b2" stroke-width="0.45" opacity="0.7"/>
<line x1="321.6" y1="258.1" x2="321.6" y2="275.8" stroke="#b2b2b2" stroke-width="0.45" opacity="0.7"/>
<line x1="323.8" y1="256.4" x2="323.8" y2="271.4" stroke="#b2b2b2" stroke-width="0.45" opacity="0.7"/>
<polygon points="237.0,264.0 244.9,271.2 244.9,286.0 237.0,278.8" fill="#9b9b9b"/>
<polygon points="244.9,271.2 257.0,262.0 257.0,276.8 244.9,286.0" fill="#8f8f8f"/>
<polygon points="237.0,264.0 244.9,271.2 257.0,262.0 249.1,254.8" fill="#a6a6a6"/>
<polyline points="237.0,278.8 237.0,264.0 244.9,271.2 257.0,262.0 257.0,276.8" fill="none" stroke="#b6b6b6" stroke-width="0.4" stroke-linecap="butt" stroke-linejoin="round"/>
<line x1="244.9" y1="271.2" x2="244.9" y2="286.0" stroke="#b6b6b6" stroke-width="0.4"/>
<line x1="238.6" y1="265.9" x2="238.6" y2="277.5" stroke="#b2b2b2" stroke-width="0.45" opacity="0.7"/>
<line x1="241.0" y1="268.2" x2="241.0" y2="278.1" stroke="#b2b2b2" stroke-width="0.45" opacity="0.7"/>
<line x1="243.2" y1="270.2" x2="243.2" y2="280.8" stroke="#b2b2b2" stroke-width="0.45" opacity="0.7"/>
<line x1="245.9" y1="270.9" x2="245.9" y2="280.2" stroke="#b2b2b2" stroke-width="0.45" opacity="0.7"/>
<line x1="248.5" y1="269.0" x2="248.5" y2="281.7" stroke="#858585" stroke-width="0.45" opacity="0.7"/>
<line x1="251.0" y1="267.0" x2="251.0" y2="278.6" stroke="#b2b2b2" stroke-width="0.45" opacity="0.7"/>
<line x1="253.4" y1="265.2" x2="253.4" y2="274.2" stroke="#b2b2b2" stroke-width="0.45" opacity="0.7"/>
<line x1="255.6" y1="263.5" x2="255.6" y2="276.8" stroke="#b2b2b2" stroke-width="0.45" opacity="0.7"/>
<polygon points="362.0,268.0 370.5,275.7 370.5,290.0 362.0,282.3" fill="#9b9b9b"/>
<polygon points="370.5,275.7 378.0,270.0 378.0,284.3 370.5,290.0" fill="#8f8f8f"/>
<polygon points="362.0,268.0 370.5,275.7 378.0,270.0 369.5,262.3" fill="#a6a6a6"/>
<polyline points="362.0,282.3 362.0,268.0 370.5,275.7 378.0,270.0 378.0,284.3" fill="none" stroke="#b6b6b6" stroke-width="0.4" stroke-linecap="butt" stroke-linejoin="round"/>
<line x1="370.5" y1="275.7" x2="370.5" y2="290.0" stroke="#b6b6b6" stroke-width="0.4"/>
<line x1="363.3" y1="269.6" x2="363.3" y2="278.6" stroke="#b2b2b2" stroke-width="0.45" opacity="0.7"/>
<line x1="366.4" y1="272.5" x2="366.4" y2="285.0" stroke="#b2b2b2" stroke-width="0.45" opacity="0.7"/>
<line x1="368.7" y1="274.6" x2="368.7" y2="287.4" stroke="#858585" stroke-width="0.45" opacity="0.7"/>
<line x1="371.9" y1="275.1" x2="371.9" y2="286.6" stroke="#858585" stroke-width="0.45" opacity="0.7"/>
<line x1="374.6" y1="273.1" x2="374.6" y2="284.1" stroke="#b2b2b2" stroke-width="0.45" opacity="0.7"/>
<line x1="377.1" y1="271.2" x2="377.1" y2="282.1" stroke="#b2b2b2" stroke-width="0.45" opacity="0.7"/>
<polygon points="290.0,279.0 294.7,283.3 294.7,295.0 290.0,290.7" fill="#9b9b9b"/>
<polygon points="294.7,283.3 303.0,277.0 303.0,288.7 294.7,295.0" fill="#8f8f8f"/>
<polygon points="290.0,279.0 294.7,283.3 303.0,277.0 298.3,272.7" fill="#a6a6a6"/>
<polyline points="290.0,290.7 290.0,279.0 294.7,283.3 303.0,277.0 303.0,288.7" fill="none" stroke="#b6b6b6" stroke-width="0.4" stroke-linecap="butt" stroke-linejoin="round"/>
<line x1="294.7" y1="283.3" x2="294.7" y2="295.0" stroke="#b6b6b6" stroke-width="0.4"/>
<line x1="291.0" y1="280.4" x2="291.0" y2="288.5" stroke="#b2b2b2" stroke-width="0.45" opacity="0.7"/>
<line x1="293.4" y1="282.6" x2="293.4" y2="290.1" stroke="#858585" stroke-width="0.45" opacity="0.7"/>
<line x1="296.3" y1="282.6" x2="296.3" y2="289.8" stroke="#858585" stroke-width="0.45" opacity="0.7"/>
<line x1="298.5" y1="280.9" x2="298.5" y2="291.3" stroke="#b2b2b2" stroke-width="0.45" opacity="0.7"/>
<line x1="301.3" y1="278.8" x2="301.3" y2="288.5" stroke="#b2b2b2" stroke-width="0.45" opacity="0.7"/>
<polygon points="330.0,283.0 336.8,289.2 336.8,298.0 330.0,291.8" fill="#9b9b9b"/>
<polygon points="336.8,289.2 345.0,283.0 345.0,291.8 336.8,298.0" fill="#8f8f8f"/>
<polygon points="330.0,283.0 336.8,289.2 345.0,283.0 338.2,276.8" fill="#a6a6a6"/>
<polyline points="330.0,291.8 330.0,283.0 336.8,289.2 345.0,283.0 345.0,291.8" fill="none" stroke="#b6b6b6" stroke-width="0.4" stroke-linecap="butt" stroke-linejoin="round"/>
<line x1="336.8" y1="289.2" x2="336.8" y2="298.0" stroke="#b6b6b6" stroke-width="0.4"/>
<line x1="330.9" y1="284.4" x2="330.9" y2="289.6" stroke="#b2b2b2" stroke-width="0.45" opacity="0.7"/>
<line x1="333.2" y1="286.4" x2="333.2" y2="293.2" stroke="#858585" stroke-width="0.45" opacity="0.7"/>
<line x1="335.4" y1="288.4" x2="335.4" y2="295.2" stroke="#858585" stroke-width="0.45" opacity="0.7"/>
<line x1="338.1" y1="288.7" x2="338.1" y2="296.4" stroke="#b2b2b2" stroke-width="0.45" opacity="0.7"/>
<line x1="340.6" y1="286.9" x2="340.6" y2="292.9" stroke="#b2b2b2" stroke-width="0.45" opacity="0.7"/>
<line x1="343.8" y1="284.4" x2="343.8" y2="289.7" stroke="#b2b2b2" stroke-width="0.45" opacity="0.7"/>
<polygon points="346.0,289.0 352.3,294.8 352.3,304.0 346.0,298.2" fill="#9b9b9b"/>
<polygon points="352.3,294.8 360.0,289.0 360.0,298.2 352.3,304.0" fill="#8f8f8f"/>
<polygon points="346.0,289.0 352.3,294.8 360.0,289.0 353.7,283.2" fill="#a6a6a6"/>
<polyline points="346.0,298.2 346.0,289.0 352.3,294.8 360.0,289.0 360.0,298.2" fill="none" stroke="#b6b6b6" stroke-width="0.4" stroke-linecap="butt" stroke-linejoin="round"/>
<line x1="352.3" y1="294.8" x2="352.3" y2="304.0" stroke="#b6b6b6" stroke-width="0.4"/>
<line x1="347.8" y1="291.2" x2="347.8" y2="297.3" stroke="#b2b2b2" stroke-width="0.45" opacity="0.7"/>
<line x1="351.0" y1="294.1" x2="351.0" y2="300.6" stroke="#858585" stroke-width="0.45" opacity="0.7"/>
<line x1="353.6" y1="294.3" x2="353.6" y2="302.2" stroke="#b2b2b2" stroke-width="0.45" opacity="0.7"/>
<line x1="356.3" y1="292.3" x2="356.3" y2="299.1" stroke="#858585" stroke-width="0.45" opacity="0.7"/>
<line x1="358.4" y1="290.7" x2="358.4" y2="298.8" stroke="#b2b2b2" stroke-width="0.45" opacity="0.7"/>
<polygon points="343.0,286.0 347.5,290.1 347.5,305.0 343.0,300.9" fill="#9b9b9b"/>
<polygon points="347.5,290.1 353.0,286.0 353.0,300.9 347.5,305.0" fill="#8f8f8f"/>
<polygon points="343.0,286.0 347.5,290.1 353.0,286.0 348.5,281.9" fill="#a6a6a6"/>
<polyline points="343.0,300.9 343.0,286.0 347.5,290.1 353.0,286.0 353.0,300.9" fill="none" stroke="#b6b6b6" stroke-width="0.4" stroke-linecap="butt" stroke-linejoin="round"/>
<line x1="347.5" y1="290.1" x2="347.5" y2="305.0" stroke="#b6b6b6" stroke-width="0.4"/>
<line x1="343.8" y1="287.3" x2="343.8" y2="301.3" stroke="#b2b2b2" stroke-width="0.45" opacity="0.7"/>
<line x1="346.1" y1="289.3" x2="346.1" y2="299.2" stroke="#858585" stroke-width="0.45" opacity="0.7"/>
<line x1="348.9" y1="289.6" x2="348.9" y2="302.4" stroke="#858585" stroke-width="0.45" opacity="0.7"/>
<line x1="351.4" y1="287.7" x2="351.4" y2="298.1" stroke="#858585" stroke-width="0.45" opacity="0.7"/>
<polygon points="322.0,282.0 326.4,286.0 326.4,310.0 322.0,306.0" fill="#9b9b9b"/>
<polygon points="326.4,286.0 333.0,281.0 333.0,305.0 326.4,310.0" fill="#8f8f8f"/>
<polygon points="322.0,282.0 326.4,286.0 333.0,281.0 328.6,277.0" fill="#a6a6a6"/>
<polyline points="322.0,306.0 322.0,282.0 326.4,286.0 333.0,281.0 333.0,305.0" fill="none" stroke="#b6b6b6" stroke-width="0.4" stroke-linecap="butt" stroke-linejoin="round"/>
<line x1="326.4" y1="286.0" x2="326.4" y2="310.0" stroke="#b6b6b6" stroke-width="0.4"/>
<line x1="324.5" y1="284.8" x2="324.5" y2="305.0" stroke="#b2b2b2" stroke-width="0.45" opacity="0.7"/>
<line x1="327.6" y1="285.6" x2="327.6" y2="306.4" stroke="#b2b2b2" stroke-width="0.45" opacity="0.7"/>
<line x1="329.6" y1="284.1" x2="329.6" y2="306.8" stroke="#858585" stroke-width="0.45" opacity="0.7"/>
<line x1="332.1" y1="282.2" x2="332.1" y2="296.8" stroke="#858585" stroke-width="0.45" opacity="0.7"/>
<polygon points="335.0,292.0 338.9,295.6 338.9,315.0 335.0,311.4" fill="#9b9b9b"/>
<polygon points="338.9,295.6 345.0,291.0 345.0,310.4 338.9,315.0" fill="#8f8f8f"/>
<polygon points="335.0,292.0 338.9,295.6 345.0,291.0 341.1,287.4" fill="#a6a6a6"/>
<polyline points="335.0,311.4 335.0,292.0 338.9,295.6 345.0,291.0 345.0,310.4" fill="none" stroke="#b6b6b6" stroke-width="0.4" stroke-linecap="butt" stroke-linejoin="round"/>
<line x1="338.9" y1="295.6" x2="338.9" y2="315.0" stroke="#b6b6b6" stroke-width="0.4"/>
<line x1="337.0" y1="294.3" x2="337.0" y2="310.2" stroke="#b2b2b2" stroke-width="0.45" opacity="0.7"/>
<line x1="340.4" y1="295.0" x2="340.4" y2="310.6" stroke="#b2b2b2" stroke-width="0.45" opacity="0.7"/>
<line x1="343.6" y1="292.6" x2="343.6" y2="310.7" stroke="#b2b2b2" stroke-width="0.45" opacity="0.7"/>
<polygon points="270.0,292.0 284.5,305.2 284.5,318.0 270.0,304.8" fill="#9b9b9b"/>
<polygon points="284.5,305.2 304.5,290.0 304.5,302.8 284.5,318.0" fill="#8f8f8f"/>
<polygon points="270.0,292.0 284.5,305.2 304.5,290.0 290.0,276.8" fill="#a6a6a6"/>
<polyline points="270.0,304.8 270.0,292.0 284.5,305.2 304.5,290.0 304.5,302.8" fill="none" stroke="#b6b6b6" stroke-width="0.4" stroke-linecap="butt" stroke-linejoin="round"/>
<line x1="284.5" y1="305.2" x2="284.5" y2="318.0" stroke="#b6b6b6" stroke-width="0.4"/>
<line x1="271.3" y1="293.7" x2="271.3" y2="303.5" stroke="#858585" stroke-width="0.45" opacity="0.7"/>
<line x1="273.7" y1="295.9" x2="273.7" y2="307.2" stroke="#b2b2b2" stroke-width="0.45" opacity="0.7"/>
<line x1="276.1" y1="298.1" x2="276.1" y2="307.8" stroke="#858585" stroke-width="0.45" opacity="0.7"/>
<line x1="278.2" y1="300.0" x2="278.2" y2="311.8" stroke="#b2b2b2" stroke-width="0.45" opacity="0.7"/>
<line x1="281.0" y1="302.5" x2="281.0" y2="313.6" stroke="#858585" stroke-width="0.45" opacity="0.7"/>
<line x1="283.2" y1="304.5" x2="283.2" y2="316.1" stroke="#858585" stroke-width="0.45" opacity="0.7"/>
<line x1="285.3" y1="305.0" x2="285.3" y2="312.3" stroke="#858585" stroke-width="0.45" opacity="0.7"/>
<line x1="287.8" y1="303.1" x2="287.8" y2="311.8" stroke="#858585" stroke-width="0.45" opacity="0.7"/>
<line x1="289.9" y1="301.6" x2="289.9" y2="309.1" stroke="#b2b2b2" stroke-width="0.45" opacity="0.7"/>
<line x1="292.5" y1="299.6" x2="292.5" y2="311.0" stroke="#b2b2b2" stroke-width="0.45" opacity="0.7"/>
<line x1="294.8" y1="297.9" x2="294.8" y2="309.2" stroke="#b2b2b2" stroke-width="0.45" opacity="0.7"/>
<line x1="296.9" y1="296.3" x2="296.9" y2="304.3" stroke="#b2b2b2" stroke-width="0.45" opacity="0.7"/>
<line x1="299.1" y1="294.6" x2="299.1" y2="305.7" stroke="#858585" stroke-width="0.45" opacity="0.7"/>
<line x1="300.9" y1="293.2" x2="300.9" y2="304.6" stroke="#858585" stroke-width="0.45" opacity="0.7"/>
<line x1="303.1" y1="291.6" x2="303.1" y2="301.6" stroke="#b2b2b2" stroke-width="0.45" opacity="0.7"/>
<polygon points="313.0,300.0 317.2,303.9 317.2,320.0 313.0,316.1" fill="#9b9b9b"/>
<polygon points="317.2,303.9 325.0,298.0 325.0,314.1 317.2,320.0" fill="#8f8f8f"/>
<polygon points="313.0,300.0 317.2,303.9 325.0,298.0 320.8,294.1" fill="#a6a6a6"/>
<polyline points="313.0,316.1 313.0,300.0 317.2,303.9 325.0,298.0 325.0,314.1" fill="none" stroke="#b6b6b6" stroke-width="0.4" stroke-linecap="butt" stroke-linejoin="round"/>
<line x1="317.2" y1="303.9" x2="317.2" y2="320.0" stroke="#b6b6b6" stroke-width="0.4"/>
<line x1="315.6" y1="302.9" x2="315.6" y2="317.9" stroke="#b2b2b2" stroke-width="0.45" opacity="0.7"/>
<line x1="318.7" y1="303.3" x2="318.7" y2="316.1" stroke="#858585" stroke-width="0.45" opacity="0.7"/>
<line x1="321.3" y1="301.3" x2="321.3" y2="311.4" stroke="#858585" stroke-width="0.45" opacity="0.7"/>
<line x1="323.6" y1="299.5" x2="323.6" y2="312.1" stroke="#b2b2b2" stroke-width="0.45" opacity="0.7"/>
<polygon points="315.0,301.0 319.4,305.0 319.4,330.0 315.0,326.0" fill="#9b9b9b"/>
<polygon points="319.4,305.0 326.0,300.0 326.0,325.0 319.4,330.0" fill="#8f8f8f"/>
<polygon points="315.0,301.0 319.4,305.0 326.0,300.0 321.6,296.0" fill="#a6a6a6"/>
<polyline points="315.0,326.0 315.0,301.0 319.4,305.0 326.0,300.0 326.0,325.0" fill="none" stroke="#b6b6b6" stroke-width="0.4" stroke-linecap="butt" stroke-linejoin="round"/>
<line x1="319.4" y1="305.0" x2="319.4" y2="330.0" stroke="#b6b6b6" stroke-width="0.4"/>
<line x1="316.9" y1="303.2" x2="316.9" y2="317.9" stroke="#858585" stroke-width="0.45" opacity="0.7"/>
<line x1="320.3" y1="304.8" x2="320.3" y2="325.0" stroke="#b2b2b2" stroke-width="0.45" opacity="0.7"/>
<line x1="323.0" y1="302.8" x2="323.0" y2="318.4" stroke="#858585" stroke-width="0.45" opacity="0.7"/>
<line x1="325.2" y1="301.1" x2="325.2" y2="319.5" stroke="#858585" stroke-width="0.45" opacity="0.7"/>
<polygon points="300.0,318.0 303.5,321.2 303.5,338.0 300.0,334.8" fill="#9b9b9b"/>
<polygon points="303.5,321.2 309.0,317.0 309.0,333.8 303.5,338.0" fill="#8f8f8f"/>
<polygon points="300.0,318.0 303.5,321.2 309.0,317.0 305.5,313.8" fill="#a6a6a6"/>
<polyline points="300.0,334.8 300.0,318.0 303.5,321.2 309.0,317.0 309.0,333.8" fill="none" stroke="#b6b6b6" stroke-width="0.4" stroke-linecap="butt" stroke-linejoin="round"/>
<line x1="303.5" y1="321.2" x2="303.5" y2="338.0" stroke="#b6b6b6" stroke-width="0.4"/>
<line x1="301.9" y1="320.2" x2="301.9" y2="331.2" stroke="#b2b2b2" stroke-width="0.45" opacity="0.7"/>
<line x1="304.7" y1="320.8" x2="304.7" y2="333.0" stroke="#b2b2b2" stroke-width="0.45" opacity="0.7"/>
<line x1="307.8" y1="318.4" x2="307.8" y2="332.7" stroke="#b2b2b2" stroke-width="0.45" opacity="0.7"/>
<g clip-path="url(#tc9)"><line x1="290.7" y1="245.2" x2="290.7" y2="249.3" stroke="#b9b9b9" stroke-width="0.6" opacity="0.85"/><line x1="290.0" y1="249.7" x2="297.6" y2="244.0" stroke="#b9b9b9" stroke-width="0.6" opacity="0.85"/><line x1="328.3" y1="265.8" x2="323.3" y2="261.2" stroke="#b9b9b9" stroke-width="0.6" opacity="0.85"/><line x1="308.5" y1="232.4" x2="301.1" y2="225.7" stroke="#b9b9b9" stroke-width="0.6" opacity="0.85"/><line x1="329.2" y1="276.7" x2="331.7" y2="274.8" stroke="#b9b9b9" stroke-width="0.6" opacity="0.85"/><line x1="302.8" y1="273.3" x2="299.7" y2="270.5" stroke="#b9b9b9" stroke-width="0.6" opacity="0.85"/><line x1="297.1" y1="270.7" x2="290.1" y2="264.3" stroke="#b9b9b9" stroke-width="0.6" opacity="0.85"/><line x1="288.1" y1="268.4" x2="288.1" y2="274.5" stroke="#b9b9b9" stroke-width="0.6" opacity="0.85"/><line x1="302.4" y1="281.6" x2="302.4" y2="291.5" stroke="#b9b9b9" stroke-width="0.6" opacity="0.85"/><line x1="321.0" y1="273.7" x2="326.7" y2="269.4" stroke="#b9b9b9" stroke-width="0.6" opacity="0.85"/><line x1="329.3" y1="241.8" x2="327.0" y2="239.7" stroke="#b9b9b9" stroke-width="0.6" opacity="0.85"/><line x1="299.6" y1="218.1" x2="307.3" y2="212.2" stroke="#b9b9b9" stroke-width="0.6" opacity="0.85"/><line x1="325.0" y1="249.5" x2="328.4" y2="246.9" stroke="#b9b9b9" stroke-width="0.6" opacity="0.85"/><line x1="301.4" y1="210.6" x2="295.3" y2="205.0" stroke="#b9b9b9" stroke-width="0.6" opacity="0.85"/><line x1="329.1" y1="274.7" x2="329.1" y2="283.2" stroke="#b9b9b9" stroke-width="0.6" opacity="0.85"/><line x1="326.5" y1="258.0" x2="321.5" y2="253.4" stroke="#b9b9b9" stroke-width="0.6" opacity="0.85"/><line x1="320.3" y1="283.3" x2="320.3" y2="292.1" stroke="#b9b9b9" stroke-width="0.6" opacity="0.85"/><line x1="279.4" y1="237.9" x2="276.8" y2="235.4" stroke="#b9b9b9" stroke-width="0.6" opacity="0.85"/><line x1="308.2" y1="250.5" x2="315.3" y2="245.0" stroke="#b9b9b9" stroke-width="0.6" opacity="0.85"/><line x1="315.9" y1="252.8" x2="315.9" y2="257.3" stroke="#b9b9b9" stroke-width="0.6" opacity="0.85"/><line x1="280.8" y1="241.8" x2="275.8" y2="237.3" stroke="#b9b9b9" stroke-width="0.6" opacity="0.85"/><line x1="329.1" y1="249.6" x2="336.4" y2="244.1" stroke="#b9b9b9" stroke-width="0.6" opacity="0.85"/><line x1="303.0" y1="213.2" x2="297.5" y2="208.2" stroke="#b9b9b9" stroke-width="0.6" opacity="0.85"/><line x1="318.8" y1="210.1" x2="318.8" y2="216.4" stroke="#b9b9b9" stroke-width="0.6" opacity="0.85"/><line x1="278.6" y1="259.4" x2="272.9" y2="254.2" stroke="#b9b9b9" stroke-width="0.6" opacity="0.85"/><line x1="307.0" y1="245.1" x2="314.7" y2="239.2" stroke="#b9b9b9" stroke-width="0.6" opacity="0.85"/><line x1="314.6" y1="260.2" x2="308.6" y2="254.7" stroke="#b9b9b9" stroke-width="0.6" opacity="0.85"/><line x1="278.9" y1="269.8" x2="275.2" y2="266.5" stroke="#b9b9b9" stroke-width="0.6" opacity="0.85"/><line x1="329.3" y1="269.9" x2="329.3" y2="275.7" stroke="#b9b9b9" stroke-width="0.6" opacity="0.85"/><line x1="298.1" y1="228.8" x2="292.9" y2="224.1" stroke="#b9b9b9" stroke-width="0.6" opacity="0.85"/><line x1="313.7" y1="249.7" x2="309.3" y2="245.8" stroke="#b9b9b9" stroke-width="0.6" opacity="0.85"/><line x1="294.9" y1="254.6" x2="297.3" y2="252.7" stroke="#b9b9b9" stroke-width="0.6" opacity="0.85"/><line x1="323.1" y1="219.4" x2="327.8" y2="215.8" stroke="#b9b9b9" stroke-width="0.6" opacity="0.85"/><line x1="317.8" y1="229.6" x2="320.4" y2="227.5" stroke="#b9b9b9" stroke-width="0.6" opacity="0.85"/><line x1="326.4" y1="268.0" x2="326.4" y2="271.0" stroke="#b9b9b9" stroke-width="0.6" opacity="0.85"/><line x1="281.8" y1="243.6" x2="276.8" y2="239.0" stroke="#b9b9b9" stroke-width="0.6" opacity="0.85"/><line x1="285.4" y1="274.2" x2="281.7" y2="270.9" stroke="#b9b9b9" stroke-width="0.6" opacity="0.85"/><line x1="326.2" y1="253.1" x2="324.0" y2="251.1" stroke="#b9b9b9" stroke-width="0.6" opacity="0.85"/><line x1="300.6" y1="265.7" x2="307.4" y2="260.6" stroke="#b9b9b9" stroke-width="0.6" opacity="0.85"/><line x1="307.5" y1="257.9" x2="300.5" y2="251.5" stroke="#b9b9b9" stroke-width="0.6" opacity="0.85"/><line x1="310.0" y1="269.2" x2="310.0" y2="273.3" stroke="#b9b9b9" stroke-width="0.6" opacity="0.85"/><line x1="308.2" y1="257.3" x2="305.2" y2="254.5" stroke="#b9b9b9" stroke-width="0.6" opacity="0.85"/><line x1="299.3" y1="218.5" x2="299.3" y2="228.1" stroke="#b9b9b9" stroke-width="0.6" opacity="0.85"/><line x1="301.9" y1="206.8" x2="309.7" y2="200.8" stroke="#b9b9b9" stroke-width="0.6" opacity="0.85"/><line x1="304.4" y1="250.9" x2="297.7" y2="244.8" stroke="#b9b9b9" stroke-width="0.6" opacity="0.85"/></g>
<g clip-path="url(#tc10)"><line x1="288.9" y1="256.9" x2="282.9" y2="251.5" stroke="#b9b9b9" stroke-width="0.6" opacity="0.85"/><line x1="286.9" y1="269.2" x2="294.4" y2="263.5" stroke="#b9b9b9" stroke-width="0.6" opacity="0.85"/><line x1="289.7" y1="269.5" x2="293.1" y2="266.9" stroke="#b9b9b9" stroke-width="0.6" opacity="0.85"/><line x1="270.4" y1="256.2" x2="275.0" y2="252.7" stroke="#b9b9b9" stroke-width="0.6" opacity="0.85"/><line x1="240.7" y1="261.0" x2="244.4" y2="258.2" stroke="#b9b9b9" stroke-width="0.6" opacity="0.85"/><line x1="278.2" y1="269.6" x2="278.2" y2="278.6" stroke="#b9b9b9" stroke-width="0.6" opacity="0.85"/><line x1="284.4" y1="288.2" x2="279.3" y2="283.4" stroke="#b9b9b9" stroke-width="0.6" opacity="0.85"/><line x1="283.7" y1="274.0" x2="280.8" y2="271.3" stroke="#b9b9b9" stroke-width="0.6" opacity="0.85"/><line x1="265.1" y1="261.3" x2="268.0" y2="259.1" stroke="#b9b9b9" stroke-width="0.6" opacity="0.85"/><line x1="274.0" y1="283.4" x2="268.4" y2="278.3" stroke="#b9b9b9" stroke-width="0.6" opacity="0.85"/><line x1="238.5" y1="255.1" x2="232.9" y2="250.0" stroke="#b9b9b9" stroke-width="0.6" opacity="0.85"/><line x1="261.2" y1="261.0" x2="264.3" y2="258.7" stroke="#b9b9b9" stroke-width="0.6" opacity="0.85"/><line x1="243.8" y1="276.0" x2="240.0" y2="272.5" stroke="#b9b9b9" stroke-width="0.6" opacity="0.85"/><line x1="259.8" y1="274.2" x2="253.7" y2="268.6" stroke="#b9b9b9" stroke-width="0.6" opacity="0.85"/><line x1="244.9" y1="288.6" x2="244.9" y2="297.6" stroke="#b9b9b9" stroke-width="0.6" opacity="0.85"/><line x1="261.0" y1="288.3" x2="267.9" y2="283.1" stroke="#b9b9b9" stroke-width="0.6" opacity="0.85"/><line x1="273.4" y1="284.7" x2="273.4" y2="293.0" stroke="#b9b9b9" stroke-width="0.6" opacity="0.85"/><line x1="265.0" y1="278.5" x2="262.4" y2="276.1" stroke="#b9b9b9" stroke-width="0.6" opacity="0.85"/><line x1="244.8" y1="280.3" x2="252.2" y2="274.7" stroke="#b9b9b9" stroke-width="0.6" opacity="0.85"/><line x1="240.7" y1="256.5" x2="246.0" y2="252.5" stroke="#b9b9b9" stroke-width="0.6" opacity="0.85"/><line x1="276.2" y1="276.3" x2="271.4" y2="272.0" stroke="#b9b9b9" stroke-width="0.6" opacity="0.85"/><line x1="245.0" y1="271.0" x2="242.5" y2="268.8" stroke="#b9b9b9" stroke-width="0.6" opacity="0.85"/><line x1="279.1" y1="260.4" x2="279.1" y2="268.2" stroke="#b9b9b9" stroke-width="0.6" opacity="0.85"/><line x1="254.1" y1="262.3" x2="254.1" y2="267.1" stroke="#b9b9b9" stroke-width="0.6" opacity="0.85"/><line x1="241.3" y1="282.2" x2="237.7" y2="278.9" stroke="#b9b9b9" stroke-width="0.6" opacity="0.85"/></g>
<g clip-path="url(#tc11)"><line x1="358.6" y1="322.3" x2="354.1" y2="318.1" stroke="#b9b9b9" stroke-width="0.6" opacity="0.85"/><line x1="389.0" y1="296.4" x2="383.0" y2="291.0" stroke="#b9b9b9" stroke-width="0.6" opacity="0.85"/><line x1="381.5" y1="262.6" x2="381.5" y2="266.8" stroke="#b9b9b9" stroke-width="0.6" opacity="0.85"/><line x1="370.9" y1="278.3" x2="377.5" y2="273.3" stroke="#b9b9b9" stroke-width="0.6" opacity="0.85"/><line x1="334.2" y1="290.9" x2="337.9" y2="288.1" stroke="#b9b9b9" stroke-width="0.6" opacity="0.85"/><line x1="348.2" y1="305.3" x2="344.4" y2="301.8" stroke="#b9b9b9" stroke-width="0.6" opacity="0.85"/><line x1="393.3" y1="263.9" x2="397.2" y2="260.9" stroke="#b9b9b9" stroke-width="0.6" opacity="0.85"/><line x1="364.3" y1="288.9" x2="369.2" y2="285.2" stroke="#b9b9b9" stroke-width="0.6" opacity="0.85"/><line x1="373.8" y1="313.1" x2="373.8" y2="319.3" stroke="#b9b9b9" stroke-width="0.6" opacity="0.85"/><line x1="322.0" y1="284.1" x2="329.7" y2="278.2" stroke="#b9b9b9" stroke-width="0.6" opacity="0.85"/><line x1="313.7" y1="262.2" x2="313.7" y2="270.0" stroke="#b9b9b9" stroke-width="0.6" opacity="0.85"/><line x1="304.9" y1="293.5" x2="309.5" y2="290.0" stroke="#b9b9b9" stroke-width="0.6" opacity="0.85"/><line x1="322.3" y1="286.9" x2="322.3" y2="290.9" stroke="#b9b9b9" stroke-width="0.6" opacity="0.85"/><line x1="318.9" y1="297.5" x2="313.4" y2="292.4" stroke="#b9b9b9" stroke-width="0.6" opacity="0.85"/><line x1="345.1" y1="296.6" x2="352.7" y2="290.8" stroke="#b9b9b9" stroke-width="0.6" opacity="0.85"/><line x1="319.1" y1="281.1" x2="313.0" y2="275.6" stroke="#b9b9b9" stroke-width="0.6" opacity="0.85"/><line x1="337.0" y1="265.4" x2="334.2" y2="262.8" stroke="#b9b9b9" stroke-width="0.6" opacity="0.85"/><line x1="321.7" y1="292.2" x2="325.5" y2="289.4" stroke="#b9b9b9" stroke-width="0.6" opacity="0.85"/><line x1="318.2" y1="323.6" x2="312.7" y2="318.6" stroke="#b9b9b9" stroke-width="0.6" opacity="0.85"/><line x1="321.8" y1="318.6" x2="327.3" y2="314.4" stroke="#b9b9b9" stroke-width="0.6" opacity="0.85"/><line x1="317.2" y1="326.5" x2="313.3" y2="323.0" stroke="#b9b9b9" stroke-width="0.6" opacity="0.85"/><line x1="309.2" y1="321.2" x2="305.7" y2="318.0" stroke="#b9b9b9" stroke-width="0.6" opacity="0.85"/><line x1="368.7" y1="297.7" x2="373.2" y2="294.3" stroke="#b9b9b9" stroke-width="0.6" opacity="0.85"/><line x1="365.9" y1="278.0" x2="365.9" y2="285.3" stroke="#b9b9b9" stroke-width="0.6" opacity="0.85"/><line x1="387.7" y1="307.0" x2="393.4" y2="302.7" stroke="#b9b9b9" stroke-width="0.6" opacity="0.85"/><line x1="377.3" y1="323.7" x2="381.6" y2="320.4" stroke="#b9b9b9" stroke-width="0.6" opacity="0.85"/><line x1="350.6" y1="290.2" x2="344.0" y2="284.2" stroke="#b9b9b9" stroke-width="0.6" opacity="0.85"/><line x1="341.0" y1="297.2" x2="336.3" y2="293.0" stroke="#b9b9b9" stroke-width="0.6" opacity="0.85"/><line x1="360.8" y1="306.2" x2="360.8" y2="310.7" stroke="#b9b9b9" stroke-width="0.6" opacity="0.85"/><line x1="305.1" y1="278.4" x2="310.6" y2="274.2" stroke="#b9b9b9" stroke-width="0.6" opacity="0.85"/><line x1="357.2" y1="282.5" x2="361.5" y2="279.3" stroke="#b9b9b9" stroke-width="0.6" opacity="0.85"/><line x1="336.1" y1="300.4" x2="336.1" y2="303.7" stroke="#b9b9b9" stroke-width="0.6" opacity="0.85"/><line x1="393.4" y1="296.5" x2="393.4" y2="303.3" stroke="#b9b9b9" stroke-width="0.6" opacity="0.85"/><line x1="362.1" y1="306.6" x2="357.4" y2="302.3" stroke="#b9b9b9" stroke-width="0.6" opacity="0.85"/><line x1="334.6" y1="267.3" x2="328.3" y2="261.6" stroke="#b9b9b9" stroke-width="0.6" opacity="0.85"/><line x1="300.4" y1="314.5" x2="293.1" y2="307.8" stroke="#b9b9b9" stroke-width="0.6" opacity="0.85"/><line x1="387.3" y1="275.2" x2="387.3" y2="282.6" stroke="#b9b9b9" stroke-width="0.6" opacity="0.85"/><line x1="338.6" y1="280.3" x2="335.7" y2="277.6" stroke="#b9b9b9" stroke-width="0.6" opacity="0.85"/><line x1="329.1" y1="293.3" x2="335.0" y2="288.9" stroke="#b9b9b9" stroke-width="0.6" opacity="0.85"/><line x1="338.6" y1="262.9" x2="333.0" y2="257.7" stroke="#b9b9b9" stroke-width="0.6" opacity="0.85"/><line x1="327.9" y1="274.7" x2="322.4" y2="269.7" stroke="#b9b9b9" stroke-width="0.6" opacity="0.85"/><line x1="377.6" y1="312.5" x2="373.0" y2="308.3" stroke="#b9b9b9" stroke-width="0.6" opacity="0.85"/><line x1="355.2" y1="301.9" x2="350.5" y2="297.7" stroke="#b9b9b9" stroke-width="0.6" opacity="0.85"/><line x1="335.2" y1="308.5" x2="340.3" y2="304.6" stroke="#b9b9b9" stroke-width="0.6" opacity="0.85"/><line x1="360.0" y1="282.7" x2="356.1" y2="279.0" stroke="#b9b9b9" stroke-width="0.6" opacity="0.85"/><line x1="382.7" y1="288.2" x2="378.4" y2="284.3" stroke="#b9b9b9" stroke-width="0.6" opacity="0.85"/><line x1="380.8" y1="316.1" x2="388.7" y2="310.1" stroke="#b9b9b9" stroke-width="0.6" opacity="0.85"/><line x1="350.4" y1="285.4" x2="354.8" y2="282.1" stroke="#b9b9b9" stroke-width="0.6" opacity="0.85"/><line x1="356.2" y1="313.1" x2="362.3" y2="308.5" stroke="#b9b9b9" stroke-width="0.6" opacity="0.85"/><line x1="344.3" y1="317.9" x2="348.9" y2="314.4" stroke="#b9b9b9" stroke-width="0.6" opacity="0.85"/></g>
<line x1="222.3" y1="249.8" x2="222.3" y2="266.4" stroke="#5a5a5a" stroke-width="0.6"/>
<line x1="220.9" y1="250.7" x2="222.3" y2="249.8" stroke="#5a5a5a" stroke-width="0.5"/>
<line x1="220.9" y1="259.0" x2="222.3" y2="258.1" stroke="#5a5a5a" stroke-width="0.5"/>
<line x1="220.9" y1="267.3" x2="222.3" y2="266.4" stroke="#5a5a5a" stroke-width="0.5"/>
<text x="215.5" y="247.8" font-size="6.2" text-anchor="middle" dominant-baseline="central" fill="#1e1e1e" font-family="'Liberation Sans', Arial, sans-serif" font-weight="normal" stroke="#1e1e1e" stroke-width="0.18">20</text>
<text x="215.5" y="256.0" font-size="6.2" text-anchor="middle" dominant-baseline="central" fill="#1e1e1e" font-family="'Liberation Sans', Arial, sans-serif" font-weight="normal" stroke="#1e1e1e" stroke-width="0.18">10</text>
<text x="216.7" y="264.5" font-size="6.2" text-anchor="middle" dominant-baseline="central" fill="#1e1e1e" font-family="'Liberation Sans', Arial, sans-serif" font-weight="normal" stroke="#1e1e1e" stroke-width="0.18">0</text>
<text x="220.3" y="281.0" font-size="6.2" text-anchor="middle" dominant-baseline="central" fill="#1e1e1e" font-family="'Liberation Sans', Arial, sans-serif" font-weight="normal" stroke="#1e1e1e" stroke-width="0.18">80</text>
<text x="240.2" y="298.7" font-size="6.2" text-anchor="middle" dominant-baseline="central" fill="#1e1e1e" font-family="'Liberation Sans', Arial, sans-serif" font-weight="normal" stroke="#1e1e1e" stroke-width="0.18">60</text>
<text x="260.7" y="316.3" font-size="6.2" text-anchor="middle" dominant-baseline="central" fill="#1e1e1e" font-family="'Liberation Sans', Arial, sans-serif" font-weight="normal" stroke="#1e1e1e" stroke-width="0.18">40</text>
<text x="279.8" y="334.6" font-size="6.2" text-anchor="middle" dominant-baseline="central" fill="#1e1e1e" font-family="'Liberation Sans', Arial, sans-serif" font-weight="normal" stroke="#1e1e1e" stroke-width="0.18">20</text>
<text x="325.3" y="344.3" font-size="6.2" text-anchor="middle" dominant-baseline="central" fill="#1e1e1e" font-family="'Liberation Sans', Arial, sans-serif" font-weight="normal" stroke="#1e1e1e" stroke-width="0.18">10</text>
<text x="336.0" y="336.2" font-size="6.2" text-anchor="middle" dominant-baseline="central" fill="#1e1e1e" font-family="'Liberation Sans', Arial, sans-serif" font-weight="normal" stroke="#1e1e1e" stroke-width="0.18">20</text>
<text x="346.6" y="328.1" font-size="6.2" text-anchor="middle" dominant-baseline="central" fill="#1e1e1e" font-family="'Liberation Sans', Arial, sans-serif" font-weight="normal" stroke="#1e1e1e" stroke-width="0.18">30</text>
<text x="357.3" y="320.0" font-size="6.2" text-anchor="middle" dominant-baseline="central" fill="#1e1e1e" font-family="'Liberation Sans', Arial, sans-serif" font-weight="normal" stroke="#1e1e1e" stroke-width="0.18">40</text>
<text x="368.0" y="311.9" font-size="6.2" text-anchor="middle" dominant-baseline="central" fill="#1e1e1e" font-family="'Liberation Sans', Arial, sans-serif" font-weight="normal" stroke="#1e1e1e" stroke-width="0.18">50</text>
<text x="378.7" y="303.8" font-size="6.2" text-anchor="middle" dominant-baseline="central" fill="#1e1e1e" font-family="'Liberation Sans', Arial, sans-serif" font-weight="normal" stroke="#1e1e1e" stroke-width="0.18">60</text>
<text x="389.3" y="295.7" font-size="6.2" text-anchor="middle" dominant-baseline="central" fill="#1e1e1e" font-family="'Liberation Sans', Arial, sans-serif" font-weight="normal" stroke="#1e1e1e" stroke-width="0.18">70</text>
<text x="400.0" y="287.6" font-size="6.2" text-anchor="middle" dominant-baseline="central" fill="#1e1e1e" font-family="'Liberation Sans', Arial, sans-serif" font-weight="normal" stroke="#1e1e1e" stroke-width="0.18">80</text>
<polyline points="316.5,195.8 316.5,198.5" fill="none" stroke="#33e033" stroke-width="1.0" stroke-linecap="butt" stroke-linejoin="round"/>
<polyline points="316.5,198.3 316.6,206.0" fill="none" stroke="#2424dc" stroke-width="1.2" stroke-linecap="butt" stroke-linejoin="round"/>
<polyline points="323.4,212.9 323.8,218.3" fill="none" stroke="#33e033" stroke-width="1.1" stroke-linecap="butt" stroke-linejoin="round"/>
<polyline points="322.9,219.3 312.6,227.1" fill="none" stroke="#33e033" stroke-width="1.0" stroke-linecap="butt" stroke-linejoin="round"/>
<polyline points="322.4,220.8 315.5,228.6" fill="none" stroke="#2424dc" stroke-width="1.2" stroke-linecap="butt" stroke-linejoin="round"/>
<polyline points="314.6,230.6 307.5,240.0 300.4,252.0 293.3,261.4 290.9,270.9 289.5,280.4 288.5,292.2" fill="none" stroke="#2424dc" stroke-width="1.2" stroke-linecap="butt" stroke-linejoin="round"/>
<polyline points="314.0,230.6 306.9,240.0 299.8,252.0 292.7,261.4 290.3,270.9 288.9,280.4 287.9,292.2" fill="none" stroke="#33e033" stroke-width="0.9" stroke-dasharray="1.6,0.8,0.6,0.8" stroke-linecap="butt" stroke-linejoin="round"/>
<polyline points="314.6,230.6 307.5,240.0 300.4,252.0 293.3,261.4 290.9,270.9 289.5,280.4 288.5,292.2" fill="none" stroke="#e82e2e" stroke-width="1.0" stroke-dasharray="1.3,2.6" stroke-linecap="butt" stroke-linejoin="round"/>
<polygon points="212.8,186.8 277.8,186.8 277.8,210.3 212.8,210.3" fill="#ffffff" stroke="#8a8a8a" stroke-width="0.6"/>
<polyline points="214.8,191.4 234.3,191.4" fill="none" stroke="#2ee62e" stroke-width="1.1" stroke-dasharray="1.8,0.7,0.7,0.7" stroke-linecap="butt" stroke-linejoin="round"/>
<text x="236.0" y="191.6" font-size="5.65" text-anchor="start" dominant-baseline="central" fill="#1e1e1e" font-family="'Liberation Sans', Arial, sans-serif" font-weight="normal" stroke="#1e1e1e" stroke-width="0.18">JPS3d</text>
<polyline points="214.8,199.2 234.3,199.2" fill="none" stroke="#f23030" stroke-width="1.3" stroke-dasharray="2.8,2.0" stroke-linecap="butt" stroke-linejoin="round"/>
<text x="236.0" y="199.4" font-size="5.65" text-anchor="start" dominant-baseline="central" fill="#1e1e1e" font-family="'Liberation Sans', Arial, sans-serif" font-weight="normal" stroke="#1e1e1e" stroke-width="0.18">PNP-JPS3d</text>
<polyline points="214.8,206.2 234.3,206.2" fill="none" stroke="#3030f0" stroke-width="1.3" stroke-linecap="butt" stroke-linejoin="round"/>
<text x="236.0" y="206.4" font-size="5.65" text-anchor="start" dominant-baseline="central" fill="#1e1e1e" font-family="'Liberation Sans', Arial, sans-serif" font-weight="normal" stroke="#1e1e1e" stroke-width="0.18">OP-PNP-JPS3d</text>
<text x="307.2" y="359.4" font-size="9" text-anchor="middle" dominant-baseline="central" fill="#222" font-family="'Liberation Serif', 'Times New Roman', serif" font-weight="bold">(d)</text>
<line x1="21.7" y1="470.8" x2="168.9" y2="459.6" stroke="#e8e8e8" stroke-width="0.5"/>
<line x1="168.9" y1="459.6" x2="168.9" y2="380.9" stroke="#e8e8e8" stroke-width="0.5"/>
<line x1="25.0" y1="476.0" x2="171.9" y2="464.8" stroke="#e8e8e8" stroke-width="0.5"/>
<line x1="171.9" y1="464.8" x2="171.9" y2="385.8" stroke="#e8e8e8" stroke-width="0.5"/>
<line x1="28.4" y1="481.1" x2="174.9" y2="469.9" stroke="#e8e8e8" stroke-width="0.5"/>
<line x1="174.9" y1="469.9" x2="174.9" y2="390.6" stroke="#e8e8e8" stroke-width="0.5"/>
<line x1="31.8" y1="486.2" x2="177.9" y2="475.0" stroke="#e8e8e8" stroke-width="0.5"/>
<line x1="177.9" y1="475.0" x2="177.9" y2="395.5" stroke="#e8e8e8" stroke-width="0.5"/>
<line x1="35.2" y1="491.4" x2="180.9" y2="480.1" stroke="#e8e8e8" stroke-width="0.5"/>
<line x1="180.9" y1="480.1" x2="180.9" y2="400.4" stroke="#e8e8e8" stroke-width="0.5"/>
<line x1="38.5" y1="496.5" x2="184.0" y2="485.3" stroke="#e8e8e8" stroke-width="0.5"/>
<line x1="184.0" y1="485.3" x2="184.0" y2="405.3" stroke="#e8e8e8" stroke-width="0.5"/>
<line x1="41.9" y1="501.6" x2="187.0" y2="490.4" stroke="#e8e8e8" stroke-width="0.5"/>
<line x1="187.0" y1="490.4" x2="187.0" y2="410.2" stroke="#e8e8e8" stroke-width="0.5"/>
<line x1="45.3" y1="506.7" x2="190.0" y2="495.5" stroke="#e8e8e8" stroke-width="0.5"/>
<line x1="190.0" y1="495.5" x2="190.0" y2="415.0" stroke="#e8e8e8" stroke-width="0.5"/>
<line x1="48.6" y1="511.9" x2="193.0" y2="500.7" stroke="#e8e8e8" stroke-width="0.5"/>
<line x1="193.0" y1="500.7" x2="193.0" y2="419.9" stroke="#e8e8e8" stroke-width="0.5"/>
<line x1="66.4" y1="515.9" x2="33.1" y2="464.6" stroke="#e8e8e8" stroke-width="0.5"/>
<line x1="33.1" y1="464.6" x2="33.1" y2="385.6" stroke="#e8e8e8" stroke-width="0.5"/>
<line x1="80.8" y1="514.8" x2="47.8" y2="463.5" stroke="#e8e8e8" stroke-width="0.5"/>
<line x1="47.8" y1="463.5" x2="47.8" y2="384.6" stroke="#e8e8e8" stroke-width="0.5"/>
<line x1="95.2" y1="513.6" x2="62.6" y2="462.3" stroke="#e8e8e8" stroke-width="0.5"/>
<line x1="62.6" y1="462.3" x2="62.6" y2="383.5" stroke="#e8e8e8" stroke-width="0.5"/>
<line x1="109.6" y1="512.5" x2="77.3" y2="461.2" stroke="#e8e8e8" stroke-width="0.5"/>
<line x1="77.3" y1="461.2" x2="77.3" y2="382.4" stroke="#e8e8e8" stroke-width="0.5"/>
<line x1="124.0" y1="511.4" x2="92.1" y2="460.1" stroke="#e8e8e8" stroke-width="0.5"/>
<line x1="92.1" y1="460.1" x2="92.1" y2="381.4" stroke="#e8e8e8" stroke-width="0.5"/>
<line x1="138.4" y1="510.3" x2="106.9" y2="459.0" stroke="#e8e8e8" stroke-width="0.5"/>
<line x1="106.9" y1="459.0" x2="106.9" y2="380.3" stroke="#e8e8e8" stroke-width="0.5"/>
<line x1="152.8" y1="509.2" x2="121.6" y2="457.9" stroke="#e8e8e8" stroke-width="0.5"/>
<line x1="121.6" y1="457.9" x2="121.6" y2="379.2" stroke="#e8e8e8" stroke-width="0.5"/>
<line x1="167.2" y1="508.0" x2="136.4" y2="456.7" stroke="#e8e8e8" stroke-width="0.5"/>
<line x1="136.4" y1="456.7" x2="136.4" y2="378.1" stroke="#e8e8e8" stroke-width="0.5"/>
<line x1="181.6" y1="506.9" x2="151.1" y2="455.6" stroke="#e8e8e8" stroke-width="0.5"/>
<line x1="151.1" y1="455.6" x2="151.1" y2="377.1" stroke="#e8e8e8" stroke-width="0.5"/>
<line x1="18.3" y1="388.8" x2="165.9" y2="378.1" stroke="#e8e8e8" stroke-width="0.5"/>
<line x1="165.9" y1="378.1" x2="196.0" y2="427.0" stroke="#e8e8e8" stroke-width="0.5"/>
<line x1="18.3" y1="396.6" x2="165.9" y2="385.8" stroke="#e8e8e8" stroke-width="0.5"/>
<line x1="165.9" y1="385.8" x2="196.0" y2="435.0" stroke="#e8e8e8" stroke-width="0.5"/>
<line x1="18.3" y1="404.4" x2="165.9" y2="393.6" stroke="#e8e8e8" stroke-width="0.5"/>
<line x1="165.9" y1="393.6" x2="196.0" y2="442.9" stroke="#e8e8e8" stroke-width="0.5"/>
<line x1="18.3" y1="412.2" x2="165.9" y2="401.3" stroke="#e8e8e8" stroke-width="0.5"/>
<line x1="165.9" y1="401.3" x2="196.0" y2="450.9" stroke="#e8e8e8" stroke-width="0.5"/>
<line x1="18.3" y1="420.0" x2="165.9" y2="409.1" stroke="#e8e8e8" stroke-width="0.5"/>
<line x1="165.9" y1="409.1" x2="196.0" y2="458.9" stroke="#e8e8e8" stroke-width="0.5"/>
<line x1="18.3" y1="427.8" x2="165.9" y2="416.8" stroke="#e8e8e8" stroke-width="0.5"/>
<line x1="165.9" y1="416.8" x2="196.0" y2="466.9" stroke="#e8e8e8" stroke-width="0.5"/>
<line x1="18.3" y1="435.6" x2="165.9" y2="424.6" stroke="#e8e8e8" stroke-width="0.5"/>
<line x1="165.9" y1="424.6" x2="196.0" y2="474.9" stroke="#e8e8e8" stroke-width="0.5"/>
<line x1="18.3" y1="443.4" x2="165.9" y2="432.3" stroke="#e8e8e8" stroke-width="0.5"/>
<line x1="165.9" y1="432.3" x2="196.0" y2="482.9" stroke="#e8e8e8" stroke-width="0.5"/>
<line x1="18.3" y1="451.2" x2="165.9" y2="440.1" stroke="#e8e8e8" stroke-width="0.5"/>
<line x1="165.9" y1="440.1" x2="196.0" y2="490.9" stroke="#e8e8e8" stroke-width="0.5"/>
<line x1="18.3" y1="459.0" x2="165.9" y2="447.8" stroke="#e8e8e8" stroke-width="0.5"/>
<line x1="165.9" y1="447.8" x2="196.0" y2="498.9" stroke="#e8e8e8" stroke-width="0.5"/>
<line x1="165.9" y1="454.5" x2="165.9" y2="376.0" stroke="#e8e8e8" stroke-width="0.5"/>
<line x1="196.0" y1="505.8" x2="196.0" y2="424.8" stroke="#e8e8e8" stroke-width="0.6"/>
<line x1="18.3" y1="386.7" x2="165.9" y2="376.0" stroke="#e8e8e8" stroke-width="0.5"/>
<line x1="165.9" y1="376.0" x2="196.0" y2="424.8" stroke="#e8e8e8" stroke-width="0.5"/>
<line x1="18.3" y1="386.7" x2="18.3" y2="465.7" stroke="#6a6a6a" stroke-width="0.5"/>
<line x1="18.3" y1="465.7" x2="52.0" y2="517.0" stroke="#6a6a6a" stroke-width="0.5"/>
<line x1="52.0" y1="517.0" x2="196.0" y2="505.8" stroke="#6a6a6a" stroke-width="0.5"/>
<text x="15.3" y="388.8" font-size="6" text-anchor="end" dominant-baseline="central" fill="#1e1e1e" font-family="'Liberation Sans', Arial, sans-serif" font-weight="normal" stroke="#1e1e1e" stroke-width="0.18">50</text>
<line x1="18.3" y1="388.8" x2="19.8" y2="388.8" stroke="#6a6a6a" stroke-width="0.4"/>
<text x="15.3" y="396.6" font-size="6" text-anchor="end" dominant-baseline="central" fill="#1e1e1e" font-family="'Liberation Sans', Arial, sans-serif" font-weight="normal" stroke="#1e1e1e" stroke-width="0.18">45</text>
<line x1="18.3" y1="396.6" x2="19.8" y2="396.6" stroke="#6a6a6a" stroke-width="0.4"/>
<text x="15.3" y="404.4" font-size="6" text-anchor="end" dominant-baseline="central" fill="#1e1e1e" font-family="'Liberation Sans', Arial, sans-serif" font-weight="normal" stroke="#1e1e1e" stroke-width="0.18">40</text>
<line x1="18.3" y1="404.4" x2="19.8" y2="404.4" stroke="#6a6a6a" stroke-width="0.4"/>
<text x="15.3" y="412.2" font-size="6" text-anchor="end" dominant-baseline="central" fill="#1e1e1e" font-family="'Liberation Sans', Arial, sans-serif" font-weight="normal" stroke="#1e1e1e" stroke-width="0.18">35</text>
<line x1="18.3" y1="412.2" x2="19.8" y2="412.2" stroke="#6a6a6a" stroke-width="0.4"/>
<text x="15.3" y="420.0" font-size="6" text-anchor="end" dominant-baseline="central" fill="#1e1e1e" font-family="'Liberation Sans', Arial, sans-serif" font-weight="normal" stroke="#1e1e1e" stroke-width="0.18">30</text>
<line x1="18.3" y1="420.0" x2="19.8" y2="420.0" stroke="#6a6a6a" stroke-width="0.4"/>
<text x="15.3" y="427.8" font-size="6" text-anchor="end" dominant-baseline="central" fill="#1e1e1e" font-family="'Liberation Sans', Arial, sans-serif" font-weight="normal" stroke="#1e1e1e" stroke-width="0.18">25</text>
<line x1="18.3" y1="427.8" x2="19.8" y2="427.8" stroke="#6a6a6a" stroke-width="0.4"/>
<text x="15.3" y="435.6" font-size="6" text-anchor="end" dominant-baseline="central" fill="#1e1e1e" font-family="'Liberation Sans', Arial, sans-serif" font-weight="normal" stroke="#1e1e1e" stroke-width="0.18">20</text>
<line x1="18.3" y1="435.6" x2="19.8" y2="435.6" stroke="#6a6a6a" stroke-width="0.4"/>
<text x="15.3" y="443.4" font-size="6" text-anchor="end" dominant-baseline="central" fill="#1e1e1e" font-family="'Liberation Sans', Arial, sans-serif" font-weight="normal" stroke="#1e1e1e" stroke-width="0.18">15</text>
<line x1="18.3" y1="443.4" x2="19.8" y2="443.4" stroke="#6a6a6a" stroke-width="0.4"/>
<text x="15.3" y="451.2" font-size="6" text-anchor="end" dominant-baseline="central" fill="#1e1e1e" font-family="'Liberation Sans', Arial, sans-serif" font-weight="normal" stroke="#1e1e1e" stroke-width="0.18">10</text>
<line x1="18.3" y1="451.2" x2="19.8" y2="451.2" stroke="#6a6a6a" stroke-width="0.4"/>
<text x="15.3" y="459.0" font-size="6" text-anchor="end" dominant-baseline="central" fill="#1e1e1e" font-family="'Liberation Sans', Arial, sans-serif" font-weight="normal" stroke="#1e1e1e" stroke-width="0.18">5</text>
<line x1="18.3" y1="459.0" x2="19.8" y2="459.0" stroke="#6a6a6a" stroke-width="0.4"/>
<text x="10.4" y="469.3" font-size="6" text-anchor="middle" dominant-baseline="central" fill="#1e1e1e" font-family="'Liberation Sans', Arial, sans-serif" font-weight="normal" stroke="#1e1e1e" stroke-width="0.18">10</text>
<text x="13.2" y="474.5" font-size="6" text-anchor="middle" dominant-baseline="central" fill="#1e1e1e" font-family="'Liberation Sans', Arial, sans-serif" font-weight="normal" stroke="#1e1e1e" stroke-width="0.18">20</text>
<text x="16.1" y="479.7" font-size="6" text-anchor="middle" dominant-baseline="central" fill="#1e1e1e" font-family="'Liberation Sans', Arial, sans-serif" font-weight="normal" stroke="#1e1e1e" stroke-width="0.18">30</text>
<text x="18.9" y="485.0" font-size="6" text-anchor="middle" dominant-baseline="central" fill="#1e1e1e" font-family="'Liberation Sans', Arial, sans-serif" font-weight="normal" stroke="#1e1e1e" stroke-width="0.18">40</text>
<text x="21.7" y="490.2" font-size="6" text-anchor="middle" dominant-baseline="central" fill="#1e1e1e" font-family="'Liberation Sans', Arial, sans-serif" font-weight="normal" stroke="#1e1e1e" stroke-width="0.18">50</text>
<text x="24.6" y="495.4" font-size="6" text-anchor="middle" dominant-baseline="central" fill="#1e1e1e" font-family="'Liberation Sans', Arial, sans-serif" font-weight="normal" stroke="#1e1e1e" stroke-width="0.18">60</text>
<text x="27.4" y="500.6" font-size="6" text-anchor="middle" dominant-baseline="central" fill="#1e1e1e" font-family="'Liberation Sans', Arial, sans-serif" font-weight="normal" stroke="#1e1e1e" stroke-width="0.18">70</text>
<text x="30.2" y="505.9" font-size="6" text-anchor="middle" dominant-baseline="central" fill="#1e1e1e" font-family="'Liberation Sans', Arial, sans-serif" font-weight="normal" stroke="#1e1e1e" stroke-width="0.18">80</text>
<text x="33.1" y="511.1" font-size="6" text-anchor="middle" dominant-baseline="central" fill="#1e1e1e" font-family="'Liberation Sans', Arial, sans-serif" font-weight="normal" stroke="#1e1e1e" stroke-width="0.18">90</text>
<text x="35.9" y="516.3" font-size="6" text-anchor="middle" dominant-baseline="central" fill="#1e1e1e" font-family="'Liberation Sans', Arial, sans-serif" font-weight="normal" stroke="#1e1e1e" stroke-width="0.18">100</text>
<text x="56.4" y="525.0" font-size="6" text-anchor="middle" dominant-baseline="central" fill="#1e1e1e" font-family="'Liberation Sans', Arial, sans-serif" font-weight="normal" stroke="#1e1e1e" stroke-width="0.18" transform="rotate(-3 56.4 525.0)">10</text>
<text x="71.3" y="524.0" font-size="6" text-anchor="middle" dominant-baseline="central" fill="#1e1e1e" font-family="'Liberation Sans', Arial, sans-serif" font-weight="normal" stroke="#1e1e1e" stroke-width="0.18" transform="rotate(-3 71.3 524.0)">20</text>
<text x="86.2" y="523.0" font-size="6" text-anchor="middle" dominant-baseline="central" fill="#1e1e1e" font-family="'Liberation Sans', Arial, sans-serif" font-weight="normal" stroke="#1e1e1e" stroke-width="0.18" transform="rotate(-3 86.2 523.0)">30</text>
<text x="101.0" y="522.0" font-size="6" text-anchor="middle" dominant-baseline="central" fill="#1e1e1e" font-family="'Liberation Sans', Arial, sans-serif" font-weight="normal" stroke="#1e1e1e" stroke-width="0.18" transform="rotate(-3 101.0 522.0)">40</text>
<text x="115.9" y="521.0" font-size="6" text-anchor="middle" dominant-baseline="central" fill="#1e1e1e" font-family="'Liberation Sans', Arial, sans-serif" font-weight="normal" stroke="#1e1e1e" stroke-width="0.18" transform="rotate(-3 115.9 521.0)">50</text>
<text x="130.8" y="520.0" font-size="6" text-anchor="middle" dominant-baseline="central" fill="#1e1e1e" font-family="'Liberation Sans', Arial, sans-serif" font-weight="normal" stroke="#1e1e1e" stroke-width="0.18" transform="rotate(-3 130.8 520.0)">60</text>
<text x="145.7" y="519.0" font-size="6" text-anchor="middle" dominant-baseline="central" fill="#1e1e1e" font-family="'Liberation Sans', Arial, sans-serif" font-weight="normal" stroke="#1e1e1e" stroke-width="0.18" transform="rotate(-3 145.7 519.0)">70</text>
<text x="160.5" y="518.0" font-size="6" text-anchor="middle" dominant-baseline="central" fill="#1e1e1e" font-family="'Liberation Sans', Arial, sans-serif" font-weight="normal" stroke="#1e1e1e" stroke-width="0.18" transform="rotate(-3 160.5 518.0)">80</text>
<text x="175.4" y="517.0" font-size="6" text-anchor="middle" dominant-baseline="central" fill="#1e1e1e" font-family="'Liberation Sans', Arial, sans-serif" font-weight="normal" stroke="#1e1e1e" stroke-width="0.18" transform="rotate(-3 175.4 517.0)">90</text>
<text x="190.3" y="516.0" font-size="6" text-anchor="middle" dominant-baseline="central" fill="#1e1e1e" font-family="'Liberation Sans', Arial, sans-serif" font-weight="normal" stroke="#1e1e1e" stroke-width="0.18" transform="rotate(-3 190.3 516.0)">100</text>
<g clip-path="url(#clip3)"><rect x="19.0" y="395" width="2.3" height="122" fill="url(#g174)"/><rect x="21.0" y="395" width="2.3" height="122" fill="url(#g175)"/><rect x="23.0" y="395" width="2.3" height="122" fill="url(#g176)"/><rect x="25.0" y="395" width="2.3" height="122" fill="url(#g177)"/><rect x="27.0" y="395" width="2.3" height="122" fill="url(#g178)"/><rect x="29.0" y="395" width="2.3" height="122" fill="url(#g179)"/><rect x="31.0" y="395" width="2.3" height="122" fill="url(#g180)"/><rect x="33.0" y="395" width="2.3" height="122" fill="url(#g181)"/><rect x="35.0" y="395" width="2.3" height="122" fill="url(#g182)"/><rect x="37.0" y="395" width="2.3" height="122" fill="url(#g183)"/><rect x="39.0" y="395" width="2.3" height="122" fill="url(#g184)"/><rect x="41.0" y="395" width="2.3" height="122" fill="url(#g185)"/><rect x="43.0" y="395" width="2.3" height="122" fill="url(#g186)"/><rect x="45.0" y="395" width="2.3" height="122" fill="url(#g187)"/><rect x="47.0" y="395" width="2.3" height="122" fill="url(#g188)"/><rect x="49.0" y="395" width="2.3" height="122" fill="url(#g189)"/><rect x="51.0" y="395" width="2.3" height="122" fill="url(#g190)"/><rect x="53.0" y="395" width="2.3" height="122" fill="url(#g191)"/><rect x="55.0" y="395" width="2.3" height="122" fill="url(#g192)"/><rect x="57.0" y="395" width="2.3" height="122" fill="url(#g193)"/><rect x="59.0" y="395" width="2.3" height="122" fill="url(#g194)"/><rect x="61.0" y="395" width="2.3" height="122" fill="url(#g195)"/><rect x="63.0" y="395" width="2.3" height="122" fill="url(#g196)"/><rect x="65.0" y="395" width="2.3" height="122" fill="url(#g197)"/><rect x="67.0" y="395" width="2.3" height="122" fill="url(#g198)"/><rect x="69.0" y="395" width="2.3" height="122" fill="url(#g199)"/><rect x="71.0" y="395" width="2.3" height="122" fill="url(#g200)"/><rect x="73.0" y="395" width="2.3" height="122" fill="url(#g201)"/><rect x="75.0" y="395" width="2.3" height="122" fill="url(#g202)"/><rect x="77.0" y="395" width="2.3" height="122" fill="url(#g203)"/><rect x="79.0" y="395" width="2.3" height="122" fill="url(#g204)"/><rect x="81.0" y="395" width="2.3" height="122" fill="url(#g205)"/><rect x="83.0" y="395" width="2.3" height="122" fill="url(#g206)"/><rect x="85.0" y="395" width="2.3" height="122" fill="url(#g207)"/><rect x="87.0" y="395" width="2.3" height="122" fill="url(#g208)"/><rect x="89.0" y="395" width="2.3" height="122" fill="url(#g209)"/><rect x="91.0" y="395" width="2.3" height="122" fill="url(#g210)"/><rect x="93.0" y="395" width="2.3" height="122" fill="url(#g211)"/><rect x="95.0" y="395" width="2.3" height="122" fill="url(#g212)"/><rect x="97.0" y="395" width="2.3" height="122" fill="url(#g213)"/><rect x="99.0" y="395" width="2.3" height="122" fill="url(#g214)"/><rect x="101.0" y="395" width="2.3" height="122" fill="url(#g215)"/><rect x="103.0" y="395" width="2.3" height="122" fill="url(#g216)"/><rect x="105.0" y="395" width="2.3" height="122" fill="url(#g217)"/><rect x="107.0" y="395" width="2.3" height="122" fill="url(#g218)"/><rect x="109.0" y="395" width="2.3" height="122" fill="url(#g219)"/><rect x="111.0" y="395" width="2.3" height="122" fill="url(#g220)"/><rect x="113.0" y="395" width="2.3" height="122" fill="url(#g221)"/><rect x="115.0" y="395" width="2.3" height="122" fill="url(#g222)"/><rect x="117.0" y="395" width="2.3" height="122" fill="url(#g223)"/><rect x="119.0" y="395" width="2.3" height="122" fill="url(#g224)"/><rect x="121.0" y="395" width="2.3" height="122" fill="url(#g225)"/><rect x="123.0" y="395" width="2.3" height="122" fill="url(#g226)"/><rect x="125.0" y="395" width="2.3" height="122" fill="url(#g227)"/><rect x="127.0" y="395" width="2.3" height="122" fill="url(#g228)"/><rect x="129.0" y="395" width="2.3" height="122" fill="url(#g229)"/><rect x="131.0" y="395" width="2.3" height="122" fill="url(#g230)"/><rect x="133.0" y="395" width="2.3" height="122" fill="url(#g231)"/><rect x="135.0" y="395" width="2.3" height="122" fill="url(#g232)"/><rect x="137.0" y="395" width="2.3" height="122" fill="url(#g233)"/><rect x="139.0" y="395" width="2.3" height="122" fill="url(#g234)"/><rect x="141.0" y="395" width="2.3" height="122" fill="url(#g235)"/><rect x="143.0" y="395" width="2.3" height="122" fill="url(#g236)"/><rect x="145.0" y="395" width="2.3" height="122" fill="url(#g237)"/><rect x="147.0" y="395" width="2.3" height="122" fill="url(#g238)"/><rect x="149.0" y="395" width="2.3" height="122" fill="url(#g239)"/><rect x="151.0" y="395" width="2.3" height="122" fill="url(#g240)"/><rect x="153.0" y="395" width="2.3" height="122" fill="url(#g241)"/><rect x="155.0" y="395" width="2.3" height="122" fill="url(#g242)"/><rect x="157.0" y="395" width="2.3" height="122" fill="url(#g243)"/><rect x="159.0" y="395" width="2.3" height="122" fill="url(#g244)"/><rect x="161.0" y="395" width="2.3" height="122" fill="url(#g245)"/><rect x="163.0" y="395" width="2.3" height="122" fill="url(#g246)"/><rect x="165.0" y="395" width="2.3" height="122" fill="url(#g247)"/><rect x="167.0" y="395" width="2.3" height="122" fill="url(#g248)"/><rect x="169.0" y="395" width="2.3" height="122" fill="url(#g249)"/><rect x="171.0" y="395" width="2.3" height="122" fill="url(#g250)"/><rect x="173.0" y="395" width="2.3" height="122" fill="url(#g251)"/><rect x="175.0" y="395" width="2.3" height="122" fill="url(#g252)"/><rect x="177.0" y="395" width="2.3" height="122" fill="url(#g253)"/><rect x="179.0" y="395" width="2.3" height="122" fill="url(#g254)"/><rect x="181.0" y="395" width="2.3" height="122" fill="url(#g255)"/><rect x="183.0" y="395" width="2.3" height="122" fill="url(#g256)"/><rect x="185.0" y="395" width="2.3" height="122" fill="url(#g257)"/><rect x="187.0" y="395" width="2.3" height="122" fill="url(#g258)"/><rect x="189.0" y="395" width="2.3" height="122" fill="url(#g259)"/><rect x="191.0" y="395" width="2.3" height="122" fill="url(#g260)"/><rect x="193.0" y="395" width="2.3" height="122" fill="url(#g261)"/><rect x="195.0" y="395" width="2.3" height="122" fill="url(#g262)"/></g>
<polyline points="77.6,496.4 80.0,491.5 85.0,486.6 93.0,479.8 96.0,474.0 96.5,469.4 98.0,460.8 102.2,455.7 108.2,447.1 113.4,438.6 119.4,430.0 125.0,427.7 135.0,428.7 140.0,427.7 145.0,425.7 150.0,425.2" fill="none" stroke="#2424dc" stroke-width="1.1" stroke-linecap="butt" stroke-linejoin="round"/>
<polyline points="77.6,496.4 80.0,491.5 85.0,486.6 93.0,479.8 96.0,474.0 96.5,469.4 98.0,460.8 102.2,455.7 108.2,447.1 113.4,438.6 119.4,430.0 125.0,427.7 135.0,428.7 140.0,427.7 145.0,425.7 150.0,425.2" fill="none" stroke="#e82e2e" stroke-width="1.0" stroke-dasharray="1.5,2.3" stroke-linecap="butt" stroke-linejoin="round"/>
<polyline points="78.0,496.8 80.4,491.9 85.4,487.0 93.4,480.2 96.4,474.4 96.9,469.8 98.4,461.2 102.6,456.1 108.6,447.5 113.8,439.0 119.8,430.4 125.4,428.1 135.4,429.1 140.4,428.1 145.4,426.1 150.4,425.6" fill="none" stroke="#3de83d" stroke-width="0.5" stroke-dasharray="1.6,0.8,0.6,0.8" opacity="0.7" stroke-linecap="butt" stroke-linejoin="round"/>
<polygon points="18.8,377.7 73.8,377.7 73.8,398.0 18.8,398.0" fill="#ffffff" stroke="#8a8a8a" stroke-width="0.6"/>
<polyline points="20.9,382.0 36.8,382.0" fill="none" stroke="#2ee62e" stroke-width="1.1" stroke-dasharray="1.8,0.7,0.7,0.7" stroke-linecap="butt" stroke-linejoin="round"/>
<text x="38.5" y="382.2" font-size="4.8" text-anchor="start" dominant-baseline="central" fill="#1e1e1e" font-family="'Liberation Sans', Arial, sans-serif" font-weight="normal" stroke="#1e1e1e" stroke-width="0.18">JPS3d</text>
<polyline points="20.9,388.0 36.8,388.0" fill="none" stroke="#f23030" stroke-width="1.3" stroke-dasharray="2.8,2.0" stroke-linecap="butt" stroke-linejoin="round"/>
<text x="38.5" y="388.2" font-size="4.8" text-anchor="start" dominant-baseline="central" fill="#1e1e1e" font-family="'Liberation Sans', Arial, sans-serif" font-weight="normal" stroke="#1e1e1e" stroke-width="0.18">PNP-JPS3d</text>
<polyline points="20.9,394.6 36.8,394.6" fill="none" stroke="#3030f0" stroke-width="1.3" stroke-linecap="butt" stroke-linejoin="round"/>
<text x="38.5" y="394.8" font-size="4.8" text-anchor="start" dominant-baseline="central" fill="#1e1e1e" font-family="'Liberation Sans', Arial, sans-serif" font-weight="normal" stroke="#1e1e1e" stroke-width="0.18">OP-PNP-JPS3d</text>
<text x="101.0" y="541.4" font-size="9" text-anchor="middle" dominant-baseline="central" fill="#222" font-family="'Liberation Serif', 'Times New Roman', serif" font-weight="bold">(e)</text>
<polygon points="224.0,463.3 317.6,527.4 396.5,451.7 302.9,387.6" fill="#8e8e8e"/>
<polygon points="311.1,379.7 314.0,381.0 320.2,387.0 322.0,395.0 323.9,403.0 323.5,430.0 312.0,430.0 311.1,400.0" fill="#a2a2a2"/>
<line x1="314.4" y1="390.1" x2="314.4" y2="430.0" stroke="#bdbdbd" stroke-width="0.5" opacity="0.8"/>
<line x1="315.9" y1="391.9" x2="315.9" y2="430.0" stroke="#bdbdbd" stroke-width="0.5" opacity="0.8"/>
<line x1="319.0" y1="386.5" x2="319.0" y2="430.0" stroke="#bdbdbd" stroke-width="0.5" opacity="0.8"/>
<line x1="311.7" y1="392.9" x2="311.7" y2="430.0" stroke="#bdbdbd" stroke-width="0.5" opacity="0.8"/>
<line x1="314.6" y1="385.9" x2="314.6" y2="430.0" stroke="#bdbdbd" stroke-width="0.5" opacity="0.8"/>
<line x1="323.4" y1="394.5" x2="323.4" y2="430.0" stroke="#bdbdbd" stroke-width="0.5" opacity="0.8"/>
<line x1="321.5" y1="393.5" x2="321.5" y2="430.0" stroke="#bdbdbd" stroke-width="0.5" opacity="0.8"/>
<line x1="319.2" y1="387.7" x2="319.2" y2="430.0" stroke="#bdbdbd" stroke-width="0.5" opacity="0.8"/>
<line x1="319.1" y1="397.2" x2="319.1" y2="430.0" stroke="#bdbdbd" stroke-width="0.5" opacity="0.8"/>
<line x1="317.8" y1="394.8" x2="317.8" y2="430.0" stroke="#bdbdbd" stroke-width="0.5" opacity="0.8"/>
<polygon points="256.5,419.0 258.0,417.0 262.0,415.5 265.0,409.7 270.0,406.0 275.0,401.0 278.0,398.0 281.0,397.5 283.0,408.0 288.0,413.0 296.0,425.0 300.0,440.0 301.0,456.0 290.0,459.0 280.0,456.0 270.0,459.0 262.0,462.0 256.5,459.0" fill="#9a9a9a"/>
<g clip-path="url(#tc12)"><line x1="257.0" y1="404.7" x2="257.0" y2="420.2" stroke="#bababa" stroke-width="0.5" opacity="0.8"/><line x1="286.9" y1="406.4" x2="286.9" y2="415.1" stroke="#bababa" stroke-width="0.5" opacity="0.8"/><line x1="266.8" y1="446.4" x2="266.8" y2="455.9" stroke="#bababa" stroke-width="0.5" opacity="0.8"/><line x1="289.5" y1="440.2" x2="289.5" y2="449.5" stroke="#bababa" stroke-width="0.5" opacity="0.8"/><line x1="280.3" y1="426.4" x2="280.3" y2="442.3" stroke="#bababa" stroke-width="0.5" opacity="0.8"/><line x1="300.8" y1="403.5" x2="300.8" y2="410.0" stroke="#bababa" stroke-width="0.5" opacity="0.8"/><line x1="298.3" y1="423.5" x2="298.3" y2="434.3" stroke="#bababa" stroke-width="0.5" opacity="0.8"/><line x1="271.2" y1="421.0" x2="271.2" y2="450.0" stroke="#bababa" stroke-width="0.5" opacity="0.8"/><line x1="265.9" y1="411.5" x2="265.9" y2="431.5" stroke="#bababa" stroke-width="0.5" opacity="0.8"/><line x1="280.9" y1="459.0" x2="280.9" y2="485.1" stroke="#bababa" stroke-width="0.5" opacity="0.8"/><line x1="272.3" y1="410.6" x2="272.3" y2="436.7" stroke="#bababa" stroke-width="0.5" opacity="0.8"/><line x1="300.5" y1="399.5" x2="300.5" y2="423.1" stroke="#bababa" stroke-width="0.5" opacity="0.8"/><line x1="295.1" y1="439.5" x2="295.1" y2="450.7" stroke="#bababa" stroke-width="0.5" opacity="0.8"/><line x1="291.9" y1="444.6" x2="291.9" y2="455.2" stroke="#bababa" stroke-width="0.5" opacity="0.8"/><line x1="285.0" y1="411.6" x2="285.0" y2="418.6" stroke="#bababa" stroke-width="0.5" opacity="0.8"/><line x1="271.5" y1="419.1" x2="271.5" y2="434.6" stroke="#bababa" stroke-width="0.5" opacity="0.8"/><line x1="285.3" y1="451.4" x2="285.3" y2="480.5" stroke="#bababa" stroke-width="0.5" opacity="0.8"/><line x1="300.0" y1="461.6" x2="300.0" y2="486.5" stroke="#bababa" stroke-width="0.5" opacity="0.8"/><line x1="270.1" y1="408.9" x2="270.1" y2="429.8" stroke="#bababa" stroke-width="0.5" opacity="0.8"/><line x1="280.8" y1="441.0" x2="280.8" y2="449.3" stroke="#bababa" stroke-width="0.5" opacity="0.8"/><line x1="265.1" y1="456.9" x2="265.1" y2="477.3" stroke="#bababa" stroke-width="0.5" opacity="0.8"/><line x1="287.4" y1="403.7" x2="287.4" y2="419.2" stroke="#bababa" stroke-width="0.5" opacity="0.8"/><line x1="297.0" y1="439.4" x2="297.0" y2="469.2" stroke="#bababa" stroke-width="0.5" opacity="0.8"/><line x1="265.3" y1="426.8" x2="265.3" y2="452.0" stroke="#bababa" stroke-width="0.5" opacity="0.8"/><line x1="276.3" y1="448.4" x2="276.3" y2="467.9" stroke="#bababa" stroke-width="0.5" opacity="0.8"/><line x1="261.8" y1="403.9" x2="261.8" y2="433.5" stroke="#bababa" stroke-width="0.5" opacity="0.8"/><line x1="261.8" y1="410.0" x2="261.8" y2="424.1" stroke="#bababa" stroke-width="0.5" opacity="0.8"/><line x1="288.2" y1="452.6" x2="288.2" y2="470.0" stroke="#bababa" stroke-width="0.5" opacity="0.8"/><line x1="278.7" y1="448.4" x2="278.7" y2="461.0" stroke="#bababa" stroke-width="0.5" opacity="0.8"/><line x1="273.1" y1="437.0" x2="273.1" y2="458.3" stroke="#bababa" stroke-width="0.5" opacity="0.8"/><line x1="258.2" y1="404.7" x2="258.2" y2="414.0" stroke="#bababa" stroke-width="0.5" opacity="0.8"/><line x1="288.8" y1="442.2" x2="288.8" y2="471.5" stroke="#bababa" stroke-width="0.5" opacity="0.8"/><line x1="290.7" y1="413.9" x2="290.7" y2="438.3" stroke="#bababa" stroke-width="0.5" opacity="0.8"/><line x1="300.3" y1="420.0" x2="300.3" y2="426.3" stroke="#bababa" stroke-width="0.5" opacity="0.8"/><line x1="273.2" y1="415.7" x2="273.2" y2="425.9" stroke="#bababa" stroke-width="0.5" opacity="0.8"/><line x1="258.5" y1="405.6" x2="258.5" y2="432.3" stroke="#bababa" stroke-width="0.5" opacity="0.8"/><line x1="258.7" y1="437.1" x2="258.7" y2="448.1" stroke="#bababa" stroke-width="0.5" opacity="0.8"/><line x1="265.1" y1="450.4" x2="265.1" y2="463.6" stroke="#bababa" stroke-width="0.5" opacity="0.8"/><line x1="264.7" y1="426.8" x2="264.7" y2="449.5" stroke="#bababa" stroke-width="0.5" opacity="0.8"/><line x1="279.8" y1="453.0" x2="279.8" y2="468.6" stroke="#bababa" stroke-width="0.5" opacity="0.8"/><line x1="279.8" y1="443.8" x2="279.8" y2="460.8" stroke="#bababa" stroke-width="0.5" opacity="0.8"/><line x1="288.4" y1="427.6" x2="288.4" y2="436.8" stroke="#bababa" stroke-width="0.5" opacity="0.8"/><line x1="262.0" y1="448.0" x2="262.0" y2="471.9" stroke="#bababa" stroke-width="0.5" opacity="0.8"/><line x1="298.5" y1="442.0" x2="298.5" y2="461.9" stroke="#bababa" stroke-width="0.5" opacity="0.8"/><line x1="263.9" y1="452.5" x2="263.9" y2="461.4" stroke="#bababa" stroke-width="0.5" opacity="0.8"/><line x1="275.4" y1="406.6" x2="275.4" y2="421.7" stroke="#bababa" stroke-width="0.5" opacity="0.8"/><line x1="270.2" y1="424.9" x2="270.2" y2="448.0" stroke="#bababa" stroke-width="0.5" opacity="0.8"/><line x1="280.6" y1="413.2" x2="280.6" y2="437.8" stroke="#bababa" stroke-width="0.5" opacity="0.8"/><line x1="289.2" y1="450.9" x2="289.2" y2="457.6" stroke="#bababa" stroke-width="0.5" opacity="0.8"/><line x1="283.9" y1="455.3" x2="283.9" y2="467.5" stroke="#bababa" stroke-width="0.5" opacity="0.8"/><line x1="265.5" y1="450.0" x2="265.5" y2="464.7" stroke="#bababa" stroke-width="0.5" opacity="0.8"/><line x1="274.4" y1="450.2" x2="274.4" y2="465.5" stroke="#bababa" stroke-width="0.5" opacity="0.8"/><line x1="265.3" y1="411.3" x2="265.3" y2="425.6" stroke="#bababa" stroke-width="0.5" opacity="0.8"/><line x1="287.6" y1="421.3" x2="287.6" y2="445.8" stroke="#bababa" stroke-width="0.5" opacity="0.8"/><line x1="259.4" y1="413.6" x2="259.4" y2="434.6" stroke="#bababa" stroke-width="0.5" opacity="0.8"/><line x1="277.8" y1="429.7" x2="277.8" y2="458.2" stroke="#bababa" stroke-width="0.5" opacity="0.8"/><line x1="268.8" y1="409.2" x2="268.8" y2="416.0" stroke="#bababa" stroke-width="0.5" opacity="0.8"/><line x1="278.0" y1="416.7" x2="278.0" y2="434.0" stroke="#bababa" stroke-width="0.5" opacity="0.8"/><line x1="256.7" y1="397.5" x2="256.7" y2="412.6" stroke="#bababa" stroke-width="0.5" opacity="0.8"/><line x1="290.2" y1="416.9" x2="290.2" y2="444.8" stroke="#bababa" stroke-width="0.5" opacity="0.8"/><line x1="282.3" y1="423.5" x2="282.3" y2="448.2" stroke="#bababa" stroke-width="0.5" opacity="0.8"/><line x1="266.9" y1="436.5" x2="266.9" y2="462.9" stroke="#bababa" stroke-width="0.5" opacity="0.8"/><line x1="280.6" y1="418.1" x2="280.6" y2="426.4" stroke="#bababa" stroke-width="0.5" opacity="0.8"/><line x1="282.0" y1="409.6" x2="282.0" y2="424.6" stroke="#bababa" stroke-width="0.5" opacity="0.8"/><line x1="280.6" y1="458.2" x2="280.6" y2="480.4" stroke="#bababa" stroke-width="0.5" opacity="0.8"/><line x1="279.6" y1="452.9" x2="279.6" y2="466.3" stroke="#bababa" stroke-width="0.5" opacity="0.8"/><line x1="273.8" y1="441.2" x2="273.8" y2="460.5" stroke="#bababa" stroke-width="0.5" opacity="0.8"/><line x1="266.4" y1="424.0" x2="266.4" y2="449.8" stroke="#bababa" stroke-width="0.5" opacity="0.8"/><line x1="267.3" y1="443.0" x2="267.3" y2="450.2" stroke="#bababa" stroke-width="0.5" opacity="0.8"/><line x1="299.0" y1="441.6" x2="299.0" y2="455.4" stroke="#bababa" stroke-width="0.5" opacity="0.8"/><line x1="300.3" y1="448.9" x2="300.3" y2="456.4" stroke="#858585" stroke-width="0.5" opacity="0.8"/><line x1="267.5" y1="429.2" x2="267.5" y2="459.2" stroke="#858585" stroke-width="0.5" opacity="0.8"/><line x1="262.8" y1="400.6" x2="262.8" y2="414.1" stroke="#858585" stroke-width="0.5" opacity="0.8"/><line x1="258.5" y1="423.9" x2="258.5" y2="442.8" stroke="#858585" stroke-width="0.5" opacity="0.8"/><line x1="276.1" y1="406.6" x2="276.1" y2="413.2" stroke="#858585" stroke-width="0.5" opacity="0.8"/><line x1="292.2" y1="425.9" x2="292.2" y2="443.4" stroke="#858585" stroke-width="0.5" opacity="0.8"/><line x1="277.8" y1="441.7" x2="277.8" y2="469.3" stroke="#858585" stroke-width="0.5" opacity="0.8"/><line x1="293.3" y1="444.4" x2="293.3" y2="458.5" stroke="#858585" stroke-width="0.5" opacity="0.8"/><line x1="264.0" y1="403.3" x2="264.0" y2="429.9" stroke="#858585" stroke-width="0.5" opacity="0.8"/><line x1="259.0" y1="434.2" x2="259.0" y2="462.1" stroke="#858585" stroke-width="0.5" opacity="0.8"/><line x1="270.8" y1="422.6" x2="270.8" y2="438.6" stroke="#858585" stroke-width="0.5" opacity="0.8"/><line x1="298.5" y1="441.6" x2="298.5" y2="467.8" stroke="#858585" stroke-width="0.5" opacity="0.8"/><line x1="258.2" y1="444.6" x2="258.2" y2="461.4" stroke="#858585" stroke-width="0.5" opacity="0.8"/><line x1="274.4" y1="450.2" x2="274.4" y2="473.8" stroke="#858585" stroke-width="0.5" opacity="0.8"/><line x1="297.0" y1="445.1" x2="297.0" y2="473.0" stroke="#858585" stroke-width="0.5" opacity="0.8"/><line x1="275.6" y1="433.4" x2="275.6" y2="458.2" stroke="#858585" stroke-width="0.5" opacity="0.8"/><line x1="276.7" y1="406.4" x2="276.7" y2="426.4" stroke="#858585" stroke-width="0.5" opacity="0.8"/><line x1="295.3" y1="453.7" x2="295.3" y2="462.7" stroke="#858585" stroke-width="0.5" opacity="0.8"/><line x1="273.5" y1="412.2" x2="273.5" y2="426.4" stroke="#858585" stroke-width="0.5" opacity="0.8"/><line x1="299.2" y1="424.7" x2="299.2" y2="438.2" stroke="#858585" stroke-width="0.5" opacity="0.8"/><line x1="268.6" y1="425.9" x2="268.6" y2="448.0" stroke="#858585" stroke-width="0.5" opacity="0.8"/><line x1="271.7" y1="409.5" x2="271.7" y2="420.9" stroke="#858585" stroke-width="0.5" opacity="0.8"/><line x1="268.1" y1="456.0" x2="268.1" y2="466.0" stroke="#858585" stroke-width="0.5" opacity="0.8"/><line x1="290.1" y1="404.5" x2="290.1" y2="429.3" stroke="#858585" stroke-width="0.5" opacity="0.8"/><line x1="268.3" y1="447.8" x2="268.3" y2="464.2" stroke="#858585" stroke-width="0.5" opacity="0.8"/><line x1="260.0" y1="403.6" x2="260.0" y2="428.8" stroke="#858585" stroke-width="0.5" opacity="0.8"/><line x1="280.6" y1="428.8" x2="280.6" y2="443.3" stroke="#858585" stroke-width="0.5" opacity="0.8"/><line x1="287.3" y1="428.6" x2="287.3" y2="436.1" stroke="#858585" stroke-width="0.5" opacity="0.8"/><line x1="283.2" y1="417.7" x2="283.2" y2="444.1" stroke="#858585" stroke-width="0.5" opacity="0.8"/><line x1="280.9" y1="447.4" x2="280.9" y2="456.3" stroke="#858585" stroke-width="0.5" opacity="0.8"/></g>
<polygon points="257.0,421.0 259.5,418.5 262.0,421.0 262.0,458.0 257.0,458.0" fill="#a7a7a7" opacity="0.85"/>
<polygon points="263.0,411.0 266.0,407.5 269.0,411.0 269.0,457.0 263.0,457.0" fill="#a7a7a7" opacity="0.85"/>
<polygon points="271.0,400.0 275.0,396.5 279.0,400.0 279.0,454.0 271.0,454.0" fill="#a7a7a7" opacity="0.85"/>
<polygon points="280.0,403.0 283.0,401.0 289.0,410.0 295.0,426.0 295.0,452.0 280.0,452.0" fill="#a7a7a7" opacity="0.85"/>
<polygon points="296.0,433.0 299.0,431.0 302.0,436.0 302.0,450.0 296.0,450.0" fill="#a7a7a7" opacity="0.85"/>
<polygon points="256.5,419.0 262.0,415.5 303.0,452.0 256.5,461.0" fill="none"/>
<g clip-path="url(#tc13)"><line x1="260.1" y1="425.2" x2="260.1" y2="439.9" stroke="#7e7e7e" stroke-width="0.5" opacity="0.8"/><line x1="298.4" y1="438.1" x2="298.4" y2="461.9" stroke="#7e7e7e" stroke-width="0.5" opacity="0.8"/><line x1="261.2" y1="438.7" x2="261.2" y2="465.2" stroke="#7e7e7e" stroke-width="0.5" opacity="0.8"/><line x1="280.8" y1="458.5" x2="280.8" y2="485.9" stroke="#7e7e7e" stroke-width="0.5" opacity="0.8"/><line x1="273.7" y1="415.5" x2="273.7" y2="440.1" stroke="#7e7e7e" stroke-width="0.5" opacity="0.8"/><line x1="262.4" y1="415.9" x2="262.4" y2="440.0" stroke="#7e7e7e" stroke-width="0.5" opacity="0.8"/><line x1="295.7" y1="453.6" x2="295.7" y2="482.5" stroke="#7e7e7e" stroke-width="0.5" opacity="0.8"/><line x1="265.9" y1="419.2" x2="265.9" y2="429.9" stroke="#7e7e7e" stroke-width="0.5" opacity="0.8"/><line x1="302.0" y1="420.6" x2="302.0" y2="432.1" stroke="#7e7e7e" stroke-width="0.5" opacity="0.8"/><line x1="257.4" y1="417.7" x2="257.4" y2="426.6" stroke="#7e7e7e" stroke-width="0.5" opacity="0.8"/><line x1="272.9" y1="422.9" x2="272.9" y2="437.7" stroke="#7e7e7e" stroke-width="0.5" opacity="0.8"/><line x1="299.7" y1="423.1" x2="299.7" y2="449.0" stroke="#7e7e7e" stroke-width="0.5" opacity="0.8"/><line x1="290.8" y1="441.4" x2="290.8" y2="462.0" stroke="#7e7e7e" stroke-width="0.5" opacity="0.8"/><line x1="292.3" y1="442.2" x2="292.3" y2="455.3" stroke="#7e7e7e" stroke-width="0.5" opacity="0.8"/><line x1="271.8" y1="426.6" x2="271.8" y2="443.4" stroke="#7e7e7e" stroke-width="0.5" opacity="0.8"/><line x1="302.4" y1="434.9" x2="302.4" y2="444.4" stroke="#7e7e7e" stroke-width="0.5" opacity="0.8"/><line x1="278.7" y1="452.5" x2="278.7" y2="470.3" stroke="#7e7e7e" stroke-width="0.5" opacity="0.8"/><line x1="289.2" y1="419.6" x2="289.2" y2="429.0" stroke="#7e7e7e" stroke-width="0.5" opacity="0.8"/><line x1="287.3" y1="417.7" x2="287.3" y2="432.3" stroke="#7e7e7e" stroke-width="0.5" opacity="0.8"/><line x1="274.4" y1="424.3" x2="274.4" y2="433.1" stroke="#7e7e7e" stroke-width="0.5" opacity="0.8"/><line x1="256.8" y1="458.8" x2="256.8" y2="482.0" stroke="#7e7e7e" stroke-width="0.5" opacity="0.8"/><line x1="300.8" y1="437.9" x2="300.8" y2="466.9" stroke="#7e7e7e" stroke-width="0.5" opacity="0.8"/><line x1="296.6" y1="443.6" x2="296.6" y2="463.2" stroke="#7e7e7e" stroke-width="0.5" opacity="0.8"/><line x1="280.2" y1="425.8" x2="280.2" y2="442.0" stroke="#7e7e7e" stroke-width="0.5" opacity="0.8"/><line x1="290.1" y1="424.4" x2="290.1" y2="451.1" stroke="#7e7e7e" stroke-width="0.5" opacity="0.8"/><line x1="280.2" y1="443.0" x2="280.2" y2="469.1" stroke="#7e7e7e" stroke-width="0.5" opacity="0.8"/><line x1="286.5" y1="421.8" x2="286.5" y2="435.2" stroke="#7e7e7e" stroke-width="0.5" opacity="0.8"/><line x1="256.5" y1="416.7" x2="256.5" y2="445.7" stroke="#7e7e7e" stroke-width="0.5" opacity="0.8"/><line x1="284.1" y1="459.6" x2="284.1" y2="484.8" stroke="#7e7e7e" stroke-width="0.5" opacity="0.8"/><line x1="271.2" y1="459.5" x2="271.2" y2="487.8" stroke="#7e7e7e" stroke-width="0.5" opacity="0.8"/><line x1="277.7" y1="419.3" x2="277.7" y2="434.3" stroke="#7e7e7e" stroke-width="0.5" opacity="0.8"/><line x1="264.2" y1="432.1" x2="264.2" y2="441.9" stroke="#7e7e7e" stroke-width="0.5" opacity="0.8"/><line x1="289.7" y1="460.1" x2="289.7" y2="472.7" stroke="#7e7e7e" stroke-width="0.5" opacity="0.8"/><line x1="292.8" y1="442.1" x2="292.8" y2="460.7" stroke="#7e7e7e" stroke-width="0.5" opacity="0.8"/><line x1="298.7" y1="432.7" x2="298.7" y2="458.7" stroke="#7e7e7e" stroke-width="0.5" opacity="0.8"/><line x1="258.1" y1="459.4" x2="258.1" y2="471.4" stroke="#7e7e7e" stroke-width="0.5" opacity="0.8"/><line x1="256.7" y1="455.6" x2="256.7" y2="479.5" stroke="#7e7e7e" stroke-width="0.5" opacity="0.8"/><line x1="287.9" y1="450.4" x2="287.9" y2="466.7" stroke="#7e7e7e" stroke-width="0.5" opacity="0.8"/><line x1="261.8" y1="430.0" x2="261.8" y2="459.0" stroke="#7e7e7e" stroke-width="0.5" opacity="0.8"/><line x1="302.1" y1="426.0" x2="302.1" y2="443.7" stroke="#7e7e7e" stroke-width="0.5" opacity="0.8"/><line x1="277.5" y1="456.6" x2="277.5" y2="464.8" stroke="#7e7e7e" stroke-width="0.5" opacity="0.8"/><line x1="295.1" y1="427.0" x2="295.1" y2="447.1" stroke="#7e7e7e" stroke-width="0.5" opacity="0.8"/><line x1="262.5" y1="419.3" x2="262.5" y2="446.8" stroke="#7e7e7e" stroke-width="0.5" opacity="0.8"/><line x1="279.9" y1="459.7" x2="279.9" y2="486.7" stroke="#7e7e7e" stroke-width="0.5" opacity="0.8"/><line x1="291.5" y1="418.9" x2="291.5" y2="439.9" stroke="#7e7e7e" stroke-width="0.5" opacity="0.8"/></g>
<polygon points="325.5,396.0 333.1,401.2 333.1,416.0 325.5,410.8" fill="#9c9c9c"/>
<polygon points="333.1,401.2 337.5,397.0 337.5,411.8 333.1,416.0" fill="#8c8c8c"/>
<polygon points="325.5,396.0 333.1,401.2 337.5,397.0 329.9,391.8" fill="#a9a9a9"/>
<polygon points="344.5,408.6 353.6,414.9 353.6,429.0 344.5,422.7" fill="#9c9c9c"/>
<polygon points="353.6,414.9 358.2,410.5 358.2,424.6 353.6,429.0" fill="#8c8c8c"/>
<polygon points="344.5,408.6 353.6,414.9 358.2,410.5 349.1,404.2" fill="#a9a9a9"/>
<polygon points="334.7,418.4 343.8,424.7 343.8,437.0 334.7,430.7" fill="#9c9c9c"/>
<polygon points="343.8,424.7 349.3,419.4 349.3,431.7 343.8,437.0" fill="#8c8c8c"/>
<polygon points="334.7,418.4 343.8,424.7 349.3,419.4 340.2,413.1" fill="#a9a9a9"/>
<polygon points="360.1,421.3 369.3,427.6 369.3,441.0 360.1,434.7" fill="#9c9c9c"/>
<polygon points="369.3,427.6 373.8,423.3 373.8,436.7 369.3,441.0" fill="#8c8c8c"/>
<polygon points="360.1,421.3 369.3,427.6 373.8,423.3 364.6,417.0" fill="#a9a9a9"/>
<polygon points="377.7,431.1 384.6,435.8 384.6,448.7 377.7,444.0" fill="#9c9c9c"/>
<polygon points="384.6,435.8 388.5,432.1 388.5,445.0 384.6,448.7" fill="#8c8c8c"/>
<polygon points="377.7,431.1 384.6,435.8 388.5,432.1 381.6,427.4" fill="#a9a9a9"/>
<polygon points="244.0,437.0 250.4,441.4 250.4,452.0 244.0,447.6" fill="#9d9d9d"/>
<polygon points="250.4,441.4 256.0,436.0 256.0,446.6 250.4,452.0" fill="#8f8f8f"/>
<polygon points="244.0,437.0 250.4,441.4 256.0,436.0 249.6,431.6" fill="#a6a6a6"/>
<polyline points="244.0,447.6 244.0,437.0 250.4,441.4 256.0,436.0 256.0,446.6" fill="none" stroke="#b8b8b8" stroke-width="0.4" stroke-linecap="butt" stroke-linejoin="round"/>
<line x1="250.4" y1="441.4" x2="250.4" y2="452.0" stroke="#b8b8b8" stroke-width="0.4"/>
<line x1="245.4" y1="438.5" x2="245.4" y2="445.1" stroke="#858585" stroke-width="0.45" opacity="0.7"/>
<line x1="248.7" y1="440.7" x2="248.7" y2="449.2" stroke="#858585" stroke-width="0.45" opacity="0.7"/>
<line x1="251.5" y1="440.8" x2="251.5" y2="450.4" stroke="#b6b6b6" stroke-width="0.45" opacity="0.7"/>
<line x1="254.6" y1="437.8" x2="254.6" y2="446.4" stroke="#b6b6b6" stroke-width="0.45" opacity="0.7"/>
<polygon points="347.4,434.0 367.0,447.4 367.0,454.6 347.4,441.2" fill="#9c9c9c"/>
<polygon points="367.0,447.4 374.8,439.9 374.8,447.1 367.0,454.6" fill="#8c8c8c"/>
<polygon points="347.4,434.0 367.0,447.4 374.8,439.9 355.2,426.5" fill="#a9a9a9"/>
<polygon points="233.6,442.0 235.6,443.4 235.6,457.0 233.6,455.6" fill="#a0a0a0"/>
<polygon points="235.6,443.4 237.5,441.5 237.5,455.1 235.6,457.0" fill="#909090"/>
<polygon points="233.6,442.0 235.6,443.4 237.5,441.5 235.5,440.1" fill="#a8a8a8"/>
<polygon points="336.6,445.8 352.6,456.8 352.6,468.0 336.6,457.0" fill="#9c9c9c"/>
<polygon points="352.6,456.8 361.0,448.7 361.0,459.9 352.6,468.0" fill="#8c8c8c"/>
<polygon points="336.6,445.8 352.6,456.8 361.0,448.7 345.0,437.7" fill="#a9a9a9"/>
<polygon points="292.8,455.0 299.8,459.8 299.8,471.0 292.8,466.2" fill="#9d9d9d"/>
<polygon points="299.8,459.8 303.8,456.0 303.8,467.2 299.8,471.0" fill="#8f8f8f"/>
<polygon points="292.8,455.0 299.8,459.8 303.8,456.0 296.8,451.2" fill="#a6a6a6"/>
<polyline points="292.8,466.2 292.8,455.0 299.8,459.8 303.8,456.0 303.8,467.2" fill="none" stroke="#b8b8b8" stroke-width="0.4" stroke-linecap="butt" stroke-linejoin="round"/>
<line x1="299.8" y1="459.8" x2="299.8" y2="471.0" stroke="#b8b8b8" stroke-width="0.4"/>
<line x1="294.1" y1="456.4" x2="294.1" y2="466.3" stroke="#b6b6b6" stroke-width="0.45" opacity="0.7"/>
<line x1="296.2" y1="457.8" x2="296.2" y2="468.1" stroke="#858585" stroke-width="0.45" opacity="0.7"/>
<line x1="298.7" y1="459.5" x2="298.7" y2="468.2" stroke="#b6b6b6" stroke-width="0.45" opacity="0.7"/>
<line x1="302.1" y1="458.1" x2="302.1" y2="464.9" stroke="#b6b6b6" stroke-width="0.45" opacity="0.7"/>
<polygon points="270.8,455.0 277.8,459.8 277.8,472.0 270.8,467.2" fill="#9d9d9d"/>
<polygon points="277.8,459.8 281.8,456.0 281.8,468.2 277.8,472.0" fill="#8f8f8f"/>
<polygon points="270.8,455.0 277.8,459.8 281.8,456.0 274.8,451.2" fill="#a6a6a6"/>
<polyline points="270.8,467.2 270.8,455.0 277.8,459.8 281.8,456.0 281.8,468.2" fill="none" stroke="#b8b8b8" stroke-width="0.4" stroke-linecap="butt" stroke-linejoin="round"/>
<line x1="277.8" y1="459.8" x2="277.8" y2="472.0" stroke="#b8b8b8" stroke-width="0.4"/>
<line x1="272.1" y1="456.4" x2="272.1" y2="467.1" stroke="#858585" stroke-width="0.45" opacity="0.7"/>
<line x1="274.6" y1="458.1" x2="274.6" y2="466.4" stroke="#858585" stroke-width="0.45" opacity="0.7"/>
<line x1="276.9" y1="459.7" x2="276.9" y2="466.6" stroke="#858585" stroke-width="0.45" opacity="0.7"/>
<line x1="279.3" y1="458.9" x2="279.3" y2="467.1" stroke="#b6b6b6" stroke-width="0.45" opacity="0.7"/>
<polygon points="257.6,461.0 263.3,464.9 263.3,484.0 257.6,480.1" fill="#9d9d9d"/>
<polygon points="263.3,464.9 266.4,462.0 266.4,481.1 263.3,484.0" fill="#8f8f8f"/>
<polygon points="257.6,461.0 263.3,464.9 266.4,462.0 260.7,458.1" fill="#a6a6a6"/>
<polyline points="257.6,480.1 257.6,461.0 263.3,464.9 266.4,462.0 266.4,481.1" fill="none" stroke="#b8b8b8" stroke-width="0.4" stroke-linecap="butt" stroke-linejoin="round"/>
<line x1="263.3" y1="464.9" x2="263.3" y2="484.0" stroke="#b8b8b8" stroke-width="0.4"/>
<line x1="259.2" y1="462.6" x2="259.2" y2="473.6" stroke="#b6b6b6" stroke-width="0.45" opacity="0.7"/>
<line x1="261.8" y1="464.4" x2="261.8" y2="482.7" stroke="#858585" stroke-width="0.45" opacity="0.7"/>
<line x1="264.7" y1="464.1" x2="264.7" y2="478.2" stroke="#b6b6b6" stroke-width="0.45" opacity="0.7"/>
<polygon points="262.0,468.0 267.3,471.6 267.3,488.0 262.0,484.4" fill="#9d9d9d"/>
<polygon points="267.3,471.6 270.0,469.0 270.0,485.4 267.3,488.0" fill="#8f8f8f"/>
<polygon points="262.0,468.0 267.3,471.6 270.0,469.0 264.7,465.4" fill="#a6a6a6"/>
<polyline points="262.0,484.4 262.0,468.0 267.3,471.6 270.0,469.0 270.0,485.4" fill="none" stroke="#b8b8b8" stroke-width="0.4" stroke-linecap="butt" stroke-linejoin="round"/>
<line x1="267.3" y1="471.6" x2="267.3" y2="488.0" stroke="#b8b8b8" stroke-width="0.4"/>
<line x1="263.4" y1="469.4" x2="263.4" y2="483.6" stroke="#858585" stroke-width="0.45" opacity="0.7"/>
<line x1="265.7" y1="471.0" x2="265.7" y2="484.8" stroke="#b6b6b6" stroke-width="0.45" opacity="0.7"/>
<line x1="268.6" y1="470.9" x2="268.6" y2="481.6" stroke="#b6b6b6" stroke-width="0.45" opacity="0.7"/>
<polygon points="278.0,470.0 286.8,476.0 286.8,492.0 278.0,486.0" fill="#9d9d9d"/>
<polygon points="286.8,476.0 292.0,471.0 292.0,487.0 286.8,492.0" fill="#8f8f8f"/>
<polygon points="278.0,470.0 286.8,476.0 292.0,471.0 283.2,465.0" fill="#a6a6a6"/>
<polyline points="278.0,486.0 278.0,470.0 286.8,476.0 292.0,471.0 292.0,487.0" fill="none" stroke="#b8b8b8" stroke-width="0.4" stroke-linecap="butt" stroke-linejoin="round"/>
<line x1="286.8" y1="476.0" x2="286.8" y2="492.0" stroke="#b8b8b8" stroke-width="0.4"/>
<line x1="279.5" y1="471.5" x2="279.5" y2="486.1" stroke="#b6b6b6" stroke-width="0.45" opacity="0.7"/>
<line x1="282.1" y1="473.3" x2="282.1" y2="487.6" stroke="#858585" stroke-width="0.45" opacity="0.7"/>
<line x1="285.7" y1="475.7" x2="285.7" y2="488.2" stroke="#858585" stroke-width="0.45" opacity="0.7"/>
<line x1="288.0" y1="475.3" x2="288.0" y2="489.3" stroke="#b6b6b6" stroke-width="0.45" opacity="0.7"/>
<line x1="291.0" y1="472.4" x2="291.0" y2="482.3" stroke="#b6b6b6" stroke-width="0.45" opacity="0.7"/>
<polygon points="332.7,464.5 342.4,471.1 342.4,495.0 332.7,488.4" fill="#9c9c9c"/>
<polygon points="342.4,471.1 350.3,463.5 350.3,487.4 342.4,495.0" fill="#8c8c8c"/>
<polygon points="332.7,464.5 342.4,471.1 350.3,463.5 340.6,456.9" fill="#a9a9a9"/>
<polygon points="284.0,482.0 291.6,487.2 291.6,500.0 284.0,494.8" fill="#9d9d9d"/>
<polygon points="291.6,487.2 296.0,483.0 296.0,495.8 291.6,500.0" fill="#8f8f8f"/>
<polygon points="284.0,482.0 291.6,487.2 296.0,483.0 288.4,477.8" fill="#a6a6a6"/>
<polyline points="284.0,494.8 284.0,482.0 291.6,487.2 296.0,483.0 296.0,495.8" fill="none" stroke="#b8b8b8" stroke-width="0.4" stroke-linecap="butt" stroke-linejoin="round"/>
<line x1="291.6" y1="487.2" x2="291.6" y2="500.0" stroke="#b8b8b8" stroke-width="0.4"/>
<line x1="285.1" y1="483.3" x2="285.1" y2="494.5" stroke="#858585" stroke-width="0.45" opacity="0.7"/>
<line x1="287.4" y1="484.8" x2="287.4" y2="495.9" stroke="#b6b6b6" stroke-width="0.45" opacity="0.7"/>
<line x1="290.3" y1="486.8" x2="290.3" y2="499.0" stroke="#b6b6b6" stroke-width="0.45" opacity="0.7"/>
<line x1="293.6" y1="485.8" x2="293.6" y2="495.9" stroke="#b6b6b6" stroke-width="0.45" opacity="0.7"/>
<polygon points="306.0,486.0 312.4,490.4 312.4,506.0 306.0,501.6" fill="#9d9d9d"/>
<polygon points="312.4,490.4 316.0,487.0 316.0,502.6 312.4,506.0" fill="#8f8f8f"/>
<polygon points="306.0,486.0 312.4,490.4 316.0,487.0 309.6,482.6" fill="#a6a6a6"/>
<polyline points="306.0,501.6 306.0,486.0 312.4,490.4 316.0,487.0 316.0,502.6" fill="none" stroke="#b8b8b8" stroke-width="0.4" stroke-linecap="butt" stroke-linejoin="round"/>
<line x1="312.4" y1="490.4" x2="312.4" y2="506.0" stroke="#b8b8b8" stroke-width="0.4"/>
<line x1="307.6" y1="487.6" x2="307.6" y2="498.7" stroke="#b6b6b6" stroke-width="0.45" opacity="0.7"/>
<line x1="310.7" y1="489.8" x2="310.7" y2="502.7" stroke="#858585" stroke-width="0.45" opacity="0.7"/>
<line x1="314.6" y1="488.9" x2="314.6" y2="503.3" stroke="#858585" stroke-width="0.45" opacity="0.7"/>
<line x1="223.3" y1="446.5" x2="223.3" y2="463.3" stroke="#5a5a5a" stroke-width="0.6"/>
<line x1="221.9" y1="447.4" x2="223.3" y2="446.5" stroke="#5a5a5a" stroke-width="0.5"/>
<line x1="221.9" y1="455.8" x2="223.3" y2="454.9" stroke="#5a5a5a" stroke-width="0.5"/>
<line x1="221.9" y1="464.2" x2="223.3" y2="463.3" stroke="#5a5a5a" stroke-width="0.5"/>
<text x="216.0" y="444.9" font-size="6.2" text-anchor="middle" dominant-baseline="central" fill="#1e1e1e" font-family="'Liberation Sans', Arial, sans-serif" font-weight="normal" stroke="#1e1e1e" stroke-width="0.18">20</text>
<text x="216.0" y="453.5" font-size="6.2" text-anchor="middle" dominant-baseline="central" fill="#1e1e1e" font-family="'Liberation Sans', Arial, sans-serif" font-weight="normal" stroke="#1e1e1e" stroke-width="0.18">10</text>
<text x="220.9" y="462.0" font-size="6.2" text-anchor="middle" dominant-baseline="central" fill="#1e1e1e" font-family="'Liberation Sans', Arial, sans-serif" font-weight="normal" stroke="#1e1e1e" stroke-width="0.18">0</text>
<text x="223.3" y="476.5" font-size="6.2" text-anchor="middle" dominant-baseline="central" fill="#1e1e1e" font-family="'Liberation Sans', Arial, sans-serif" font-weight="normal" stroke="#1e1e1e" stroke-width="0.18">80</text>
<text x="245.8" y="491.7" font-size="6.2" text-anchor="middle" dominant-baseline="central" fill="#1e1e1e" font-family="'Liberation Sans', Arial, sans-serif" font-weight="normal" stroke="#1e1e1e" stroke-width="0.18">60</text>
<text x="264.8" y="506.0" font-size="6.2" text-anchor="middle" dominant-baseline="central" fill="#1e1e1e" font-family="'Liberation Sans', Arial, sans-serif" font-weight="normal" stroke="#1e1e1e" stroke-width="0.18">40</text>
<text x="287.0" y="520.2" font-size="6.2" text-anchor="middle" dominant-baseline="central" fill="#1e1e1e" font-family="'Liberation Sans', Arial, sans-serif" font-weight="normal" stroke="#1e1e1e" stroke-width="0.18">20</text>
<text x="343.5" y="516.9" font-size="6.2" text-anchor="middle" dominant-baseline="central" fill="#1e1e1e" font-family="'Liberation Sans', Arial, sans-serif" font-weight="normal" stroke="#1e1e1e" stroke-width="0.18">20</text>
<text x="361.5" y="499.1" font-size="6.2" text-anchor="middle" dominant-baseline="central" fill="#1e1e1e" font-family="'Liberation Sans', Arial, sans-serif" font-weight="normal" stroke="#1e1e1e" stroke-width="0.18">40</text>
<text x="379.7" y="481.5" font-size="6.2" text-anchor="middle" dominant-baseline="central" fill="#1e1e1e" font-family="'Liberation Sans', Arial, sans-serif" font-weight="normal" stroke="#1e1e1e" stroke-width="0.18">60</text>
<text x="397.3" y="463.5" font-size="6.2" text-anchor="middle" dominant-baseline="central" fill="#1e1e1e" font-family="'Liberation Sans', Arial, sans-serif" font-weight="normal" stroke="#1e1e1e" stroke-width="0.18">80</text>
<polyline points="307.4,387.4 310.0,394.0 313.0,403.0 316.0,414.0 318.5,430.0 320.0,445.0 322.0,460.0 323.0,468.0 322.0,478.0 320.3,489.4 318.5,503.0 317.0,517.8" fill="none" stroke="#2424dc" stroke-width="1.2" stroke-linecap="butt" stroke-linejoin="round"/>
<polyline points="308.6,387.0 311.5,394.0 314.8,404.0 317.8,418.0 319.8,436.0 321.5,452.0 324.0,466.0 325.5,478.0 326.5,490.0 327.0,510.0 320.0,517.0" fill="none" stroke="#33e033" stroke-width="1.0" stroke-dasharray="1.8,0.7,0.7,0.7" stroke-linecap="butt" stroke-linejoin="round"/>
<polyline points="307.4,387.4 310.0,394.0 313.0,403.0 316.0,414.0 318.5,430.0 320.0,445.0 322.0,460.0 323.0,468.0 322.0,478.0 320.3,489.4 318.5,503.0 317.0,517.8" fill="none" stroke="#e82e2e" stroke-width="1.0" stroke-dasharray="1.3,2.6" stroke-linecap="butt" stroke-linejoin="round"/>
<polygon points="216.1,376.3 278.7,376.3 278.7,399.3 216.1,399.3" fill="#ffffff" stroke="#8a8a8a" stroke-width="0.6"/>
<polyline points="217.7,380.8 235.9,380.8" fill="none" stroke="#2ee62e" stroke-width="1.1" stroke-dasharray="1.8,0.7,0.7,0.7" stroke-linecap="butt" stroke-linejoin="round"/>
<text x="237.9" y="381.0" font-size="5.5" text-anchor="start" dominant-baseline="central" fill="#1e1e1e" font-family="'Liberation Sans', Arial, sans-serif" font-weight="normal" stroke="#1e1e1e" stroke-width="0.18">JPS3d</text>
<polyline points="217.7,388.4 235.9,388.4" fill="none" stroke="#f23030" stroke-width="1.3" stroke-dasharray="2.8,2.0" stroke-linecap="butt" stroke-linejoin="round"/>
<text x="237.9" y="388.6" font-size="5.5" text-anchor="start" dominant-baseline="central" fill="#1e1e1e" font-family="'Liberation Sans', Arial, sans-serif" font-weight="normal" stroke="#1e1e1e" stroke-width="0.18">PNP-JPS3d</text>
<polyline points="217.7,395.4 235.9,395.4" fill="none" stroke="#3030f0" stroke-width="1.3" stroke-linecap="butt" stroke-linejoin="round"/>
<text x="237.9" y="395.6" font-size="5.5" text-anchor="start" dominant-baseline="central" fill="#1e1e1e" font-family="'Liberation Sans', Arial, sans-serif" font-weight="normal" stroke="#1e1e1e" stroke-width="0.18">OP-PNP-JPS3d</text>
<text x="307.5" y="541.0" font-size="9" text-anchor="middle" dominant-baseline="central" fill="#222" font-family="'Liberation Serif', 'Times New Roman', serif" font-weight="bold">(f)</text></svg>
</body></html>
